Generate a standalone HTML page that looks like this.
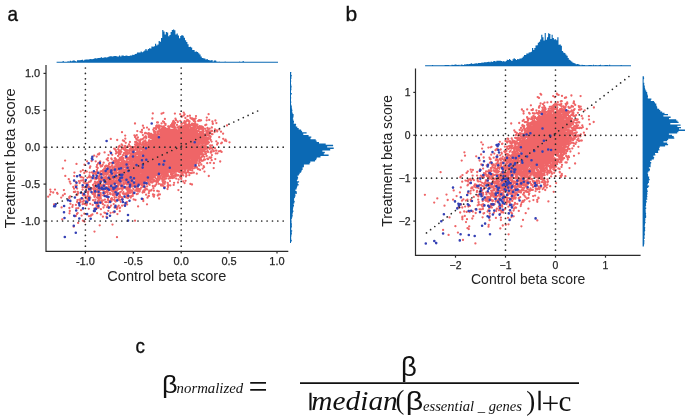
<!DOCTYPE html>
<html><head><meta charset="utf-8"><title>Figure</title>
<style>html,body{margin:0;padding:0;background:#fff;}body{width:685px;height:417px;overflow:hidden;}svg{display:block;}</style>
</head><body>
<svg width="685" height="417" viewBox="0 0 685 417">
<g fill="#0b69b4">
<path d="M56.6 62.8V61.8H57.8V61.8H59V61.8H60.2V61.7H61.4V61.8H62.6V61.1H63.8V61.8H65V61.8H66.2V61.8H67.4V61.2H68.6V61.5H69.8V60.8H71V61.2H72.2V60.7H73.4V60.2H74.6V60.9H75.8V61.5H77V60.3H78.2V60.2H79.4V60.3H80.6V60.1H81.8V59.7H83V60.4H84.2V59.8H85.4V59.4H86.6V59.6H87.8V59.4H89V59.2H90.2V58.9H91.4V59.2H92.6V58.9H93.8V58.4H95V58.2H96.2V58.6H97.4V58.1H98.6V58.1H99.8V57.8H101V57.3H102.2V58H103.4V57.6H104.6V57.3H105.8V57.6H107V57.3H108.2V56.7H109.4V56.2H110.6V56.3H111.8V56.4H113V56.2H114.2V56H115.4V55.9H116.6V56.5H117.8V56.4H119V55.5H120.2V56.4H121.4V55.5H122.6V55.6H123.8V56H125V55.8H126.2V55.6H127.4V55.9H128.6V56.1H129.8V55.6H131V55.4H132.2V54.7H133.4V55.1H134.6V54H135.8V53.7H137V52.6H138.2V52.6H139.4V52.6H140.6V51.4H141.8V52.2H143V51.4H144.2V50.4H145.4V49.1H146.6V50.4H147.8V49.1H149V48.2H150.2V48.5H151.4V46.4H152.6V46.8H153.8V46.2H155V43.8H156.2V45.5H157.4V44.5H158.6V40.9H159.8V41.8H161V38H162.2V30H163.4V31.4H164.6V34.5H165.8V32.1H167V32.5H168.2V36.2H169.4V35.1H170.6V31.9H171.8V30.1H173V29.6H174.2V30.2H175.4V34.4H176.6V33.4H177.8V35.6H179V38.3H180.2V35.9H181.4V35H182.6V35.7H183.8V37.8H185V40.2H186.2V42.1H187.4V44.2H188.6V46.9H189.8V46.8H191V47.5H192.2V50H193.4V50.1H194.6V51.7H195.8V51.6H197V52H198.2V53.3H199.4V54.6H200.6V56.4H201.8V58H203V58.2H204.2V58.4H205.4V59.5H206.6V59.1H207.8V60H209V60.2H210.2V60.6H211.4V60H212.6V61.6H213.8V60.6H215V60.6H216.2V61.4H217.4V61.8H218.6V61.4H219.8V61.8H221V61.8H222.2V61.8H223.4V61.8H224.6V61.6H225.8V61.8H227V61.8H228.2V61.8H229.4V61.8H230.6V61.8H231.8V61.8H233V61.8H234.2V61.8H235.4V61.8H236.6V61.8H237.8V61.8H239V61.4H240.2V61.8H241.4V61.8H242.6V61.1H243.8V61.8H245V61.8H246.2V61.8H247.4V61.8H248.6V61.7H249.8V61.7H251V61.8H252.2V61.8H253.4V61.8H254.6V61.8H255.8V61.8H257V61.8H258.2V61.7H259.4V61.7H260.6V61.8H261.8V61.8H263V61.8H264.2V61.8H265.4V61.8H266.6V61.8H267.8V61.8H269V61.8H270.2V61.8H271.4V61.8H272.6V61.8H273.8V61.8H275V61.8H276.2V61.8H277.4V61.8H278V62.8Z"/>
<path d="M290 72H291.3V73.4H291V74.8H291.8V76.2H291.4V77.6H291.4V79H291V80.4H291.2V81.8H291V83.2H291V84.6H291.3V86H291.6V87.4H291.3V88.8H291.4V90.2H291V91.6H291V93H291.8V94.4H291V95.8H291V97.2H291.2V98.6H291V100H291V101.4H291.3V102.8H291V104.2H291.2V105.6H291.8V107H291.8V108.4H292.1V109.8H292.4V111.2H292.1V112.6H292.7V114H293.6V115.4H293.6V116.8H293.3V118.2H292.9V119.6H293.5V121H294V122.4H293.7V123.8H296.1V125.2H295.8V126.6H297.3V128H298.7V129.4H301.1V130.8H302.1V132.2H306.6V133.6H303.3V135H308.6V136.4H311.3V137.8H310.5V139.2H315.7V140.6H316.6V142H319V143.4H325.7V144.8H333.1V146.2H327.2V147.6H333.7V149H330.2V150.4H322.4V151.8H324.8V153.2H323.8V154.6H328.6V156H320.5V157.4H316.8V158.8H316.2V160.2H315V161.6H310.3V163H309.6V164.4H303.9V165.8H303.9V167.2H302.6V168.6H302.6V170H301.7V171.4H301.1V172.8H299.7V174.2H298.9V175.6H297.6V177H298.1V178.4H297.7V179.8H296.9V181.2H299.1V182.6H297.8V184H298.6V185.4H297.4V186.8H296.9V188.2H296.5V189.6H295.4V191H296.6V192.4H297V193.8H295.3V195.2H295.5V196.6H294.9V198H294.2V199.4H294V200.8H294.7V202.2H294.3V203.6H293.6V205H294V206.4H293.3V207.8H293.1V209.2H292.9V210.6H293.4V212H292.9V213.4H292.4V214.8H292.7V216.2H292.4V217.6H291.9V219H291.4V220.4H291.6V221.8H291.5V223.2H291.9V224.6H291.8V226H291.9V227.4H291.3V228.8H291.3V230.2H292.2V231.6H291.7V233H291.9V234.4H291.4V235.8H291.3V237.2H291.1V238.6H291.3V240H291.8V241.4H291V242.8H291V243H290Z"/>
<path d="M425.1 66.2V65.2H426.2V65.2H427.4V65.2H428.5V65.2H429.7V65.2H430.8V65.2H432V65.1H433.1V65.2H434.3V65.2H435.4V65.2H436.6V65.2H437.7V65.2H438.9V65.2H440V65.2H441.2V65.2H442.3V65.2H443.5V65.2H444.6V65.1H445.8V65.1H446.9V65H448.1V65.1H449.2V65.2H450.4V65.2H451.5V64.8H452.7V65H453.8V64.8H455V64.5H456.1V64.8H457.3V65H458.4V64.8H459.6V65.2H460.7V64.4H461.9V64.7H463V65H464.2V64.2H465.3V64.4H466.5V63.9H467.6V64.2H468.8V64.1H469.9V63.7H471.1V63.3H472.2V64H473.4V63.7H474.5V63.5H475.7V63.2H476.8V63.4H478V63.1H479.1V62.9H480.3V62.9H481.4V62.6H482.6V62.7H483.7V62.3H484.9V62.3H486V62.3H487.2V62.1H488.3V61.8H489.5V62.2H490.6V61.6H491.8V61.9H492.9V61.2H494.1V61.1H495.2V61.4H496.4V60.8H497.5V60.8H498.7V60.8H499.8V60.7H501V60.9H502.1V61.5H503.3V60.9H504.4V61.7H505.6V61H506.7V59.7H507.9V60H509V58.9H510.2V59.9H511.3V61H512.5V59.3H513.6V58.2H514.8V59.1H515.9V60H517.1V59H518.2V59.2H519.4V58.5H520.5V58.6H521.7V57.7H522.8V56.5H524V55.1H525.1V55H526.3V53.5H527.4V53.4H528.6V52.6H529.7V52.3H530.9V51.8H532V48H533.2V49.9H534.3V48.1H535.5V45.4H536.6V45.2H537.8V42.8H538.9V41.8H540.1V39.4H541.2V34.8H542.4V37.2H543.5V40.5H544.7V33.1H545.8V39.8H547V37.2H548.1V33.3H549.3V33.9H550.4V38.9H551.6V34.7H552.7V38.1H553.9V39.6H555V39.3H556.2V40.3H557.3V37.2H558.5V44.7H559.6V44.4H560.8V45.8H561.9V51.1H563.1V52.5H564.2V53.1H565.4V54.6H566.5V55.8H567.7V58H568.8V59.7H570V60.4H571.1V61.4H572.3V62.5H573.4V63H574.6V63.5H575.7V64.2H576.9V64.1H578V64.2H579.2V64.7H580.3V65.2H581.5V64.7H582.6V65H583.8V65H584.9V65.2H586.1V65.2H587.2V65.2H588.4V65.1H589.5V65.1H590.7V64.9H591.8V65.2H593V64.8H594.1V65.2H595.3V65.1H596.4V65.2H597.6V65.2H598.7V65.1H599.9V64.8H601V65.2H602.2V65.2H603.3V65.2H604.5V64.9H605.6V65.1H606.8V65.1H607.9V65.2H609.1V64.8H610.2V65.2H611.4V65.2H612.5V65.2H613.7V65.2H614.8V65.2H616V65.2H617.1V65.2H618.3V65.2H619.4V65.2H620.6V65H621.7V65.2H622.9V65.2H624V65.2H625.2V65.2H626.3V65.2H627.5V65.2H628.6V65.2H629.8V65.2H630.9V65.2H631V66.2Z"/>
<path d="M642.6 76.3H643.9V77.6H644.1V78.9H643.7V80.2H643.6V81.5H643.6V82.8H644.3V84.1H644.2V85.4H644.8V86.7H644.8V88H645.1V89.3H645.5V90.6H646.3V91.9H647.2V93.2H647.2V94.5H647.7V95.8H648V97.1H647.8V98.4H651.4V99.7H650.8V101H654.1V102.3H655V103.6H656.3V104.9H656.4V106.2H657.1V107.5H657.3V108.8H659.2V110.1H660.3V111.4H662.2V112.7H664.5V114H668V115.3H663.4V116.6H670.6V117.9H669V119.2H676.2V120.5H677.5V121.8H678.6V123.1H670.3V124.4H680.6V125.7H677.4V127H681V128.3H679V129.6H688.4V130.9H678.4V132.2H677.2V133.5H668.9V134.8H672.1V136.1H673.7V137.4H674.3V138.7H668.2V140H667.2V141.3H663.5V142.6H667.2V143.9H668.1V145.2H665.1V146.5H659.8V147.8H659.1V149.1H659.4V150.4H658V151.7H658.2V153H655V154.3H655.4V155.6H653.4V156.9H654.2V158.2H653.8V159.5H651.7V160.8H650.2V162.1H651.2V163.4H650.6V164.7H650.6V166H650.6V167.3H648.9V168.6H650V169.9H649.7V171.2H648.4V172.5H647.6V173.8H648.1V175.1H648.1V176.4H649.2V177.7H649.1V179H649.7V180.3H648.8V181.6H648.9V182.9H648.1V184.2H647.5V185.5H649.1V186.8H648.2V188.1H647.1V189.4H647.4V190.7H647.8V192H647.2V193.3H647.5V194.6H647.1V195.9H647.4V197.2H646.8V198.5H647.3V199.8H646.2V201.1H646.7V202.4H646.1V203.7H646V205H646.1V206.3H645.5V207.6H646.2V208.9H645.6V210.2H645.7V211.5H645.7V212.8H646.1V214.1H645.9V215.4H646.2V216.7H646.1V218H645.3V219.3H645.4V220.6H645.2V221.9H645.6V223.2H645V224.5H644.9V225.8H644.7V227.1H645.2V228.4H645V229.7H645.2V231H644.8V232.3H644.6V233.6H644.9V234.9H644.6V236.2H644.4V237.5H644.8V238.8H644V240.1H644.4V241.4H644.3V242.7H644.3V244H644.1V245.3H643.9V246.4H642.6Z"/>
</g>
<g fill="none" stroke-linecap="round" stroke-width="2.3">
<path stroke="#ef6567" d="M169.7 166h0M149.7 166.4h0M182.9 142.9h0M175.9 120h0M171 149.9h0M181.2 148.3h0M199.3 139.3h0M198.6 163.4h0M188.9 153.6h0M184.2 142.9h0M162.2 150.5h0M190.6 147.6h0M153.8 161.1h0M170.7 150.1h0M172.3 158.3h0M151.4 158.3h0M170.4 140.5h0M201.5 147.4h0M171.4 152.2h0M160.9 160.9h0M176.2 154.2h0M184.3 136.4h0M175.1 140.1h0M173.4 143.6h0M154.6 153.4h0M173 122.5h0M183.7 149.6h0M192.5 137.1h0M196.4 140.8h0M184.8 144.3h0M148.1 146.6h0M155.2 155.9h0M161.1 157h0M180.6 149.6h0M164.1 152.1h0M204.1 167.1h0M179.1 148h0M184.2 155.6h0M180.6 131.2h0M183.3 154.6h0M156.4 158h0M214.8 147.9h0M195.1 138.7h0M192.7 130.2h0M155.1 128.2h0M150.7 161.5h0M159 168.3h0M160.9 154.7h0M187 141.8h0M186.2 139.3h0M196.9 143.2h0M204.6 134.9h0M180.8 140.9h0M183.1 153.4h0M180.4 175.4h0M169.8 148h0M160.6 158.3h0M187.7 158.6h0M178.7 144.1h0M176.9 168.4h0M156.7 134.8h0M179.8 141h0M196.1 147.4h0M175.7 145.9h0M170.9 126h0M173.3 165.2h0M178.8 166.9h0M177.9 167.4h0M171.1 149.3h0M161.3 137.5h0M183.7 153.3h0M194.8 144.5h0M155.3 136.6h0M192.7 135.3h0M168 146.3h0M170 149.8h0M149.2 170.1h0M139.1 155.7h0M189.1 152.9h0M162.1 159.4h0M188.2 148.1h0M179.6 156.9h0M181.2 152.9h0M198.6 152.5h0M174.1 148.3h0M125.8 156.5h0M158 175.2h0M191.9 150.5h0M206 144.3h0M178.5 160.1h0M160.6 139.9h0M165.1 178.7h0M185.5 151.8h0M147.9 152.4h0M157.1 153h0M179.3 152.8h0M179.2 153.8h0M171.3 148.7h0M191.2 145h0M160 160.2h0M153.3 141.5h0M166.6 143.4h0M174.1 142.6h0M171.6 152.6h0M203.5 138.2h0M173.3 167.5h0M184.6 145.8h0M163.1 141.4h0M180.6 148.4h0M158.9 125.5h0M169.7 150.1h0M193.6 128.5h0M175.7 162.6h0M207.3 158.7h0M163.4 148.4h0M164.8 141.1h0M195.2 153.2h0M142.6 166.7h0M152.1 157.8h0M175 146.8h0M181.6 144.8h0M182 141.9h0M174.3 158.9h0M159.9 167.9h0M188.1 146.5h0M185.7 156h0M161.2 159h0M178.1 151.7h0M199 133.9h0M180.2 155.6h0M161 160.9h0M175.1 165.1h0M175.8 164.5h0M178.9 143.4h0M188.3 143.7h0M165.3 161.6h0M164.4 147.9h0M193.4 151.7h0M185 142.4h0M197 147h0M160.7 171.7h0M162.4 155.4h0M187.9 138.7h0M165.4 162.7h0M182.8 153.7h0M178.9 159.5h0M164.2 151.3h0M196.9 142.2h0M174 145.8h0M175.9 170.4h0M171.9 146.4h0M184.6 161.3h0M151.5 153.6h0M163.6 154.7h0M156.1 153.1h0M151.2 174.4h0M190.6 146.4h0M196.8 143.2h0M194.3 147h0M146.3 148.7h0M180.2 144.3h0M186.9 149.3h0M162.9 141h0M193.2 159.5h0M160.9 158.3h0M167.4 172.7h0M166.3 160.2h0M168.4 160.7h0M167.6 170.5h0M190.3 146.4h0M157.3 147.4h0M169.2 152.2h0M167.2 154.3h0M202.9 127.2h0M161.3 150.3h0M182.9 148.2h0M205.3 148.7h0M159.9 158.5h0M165.6 158.2h0M183.2 181.4h0M157.6 158.4h0M196 149.9h0M174.1 164.8h0M191.7 146.3h0M189.8 162.8h0M161.6 113.7h0M189.9 145.8h0M171.7 151.8h0M191.4 145.6h0M159.7 162.8h0M157.4 134.1h0M194.6 147.5h0M147.7 164.6h0M176.8 132.9h0M174.6 163.2h0M172.4 163.1h0M157.9 133.4h0M190 133h0M150.9 149.5h0M191.6 155.2h0M186.6 157.2h0M168.8 149.4h0M176.7 155.2h0M185.8 145.9h0M174.1 169.2h0M151.3 149.7h0M177.1 141.5h0M163.1 151.9h0M169.2 149.8h0M178 152.8h0M193.1 162.9h0M201.2 139.5h0M185 158.7h0M175.3 143.7h0M189.5 150.5h0M183.1 156.1h0M156.4 169.3h0M168.4 155.4h0M154.2 145.6h0M182.5 138.2h0M186.7 125.4h0M186 160.5h0M160 151.8h0M190.4 153.6h0M162.1 154.1h0M175.9 139.5h0M159.5 157.2h0M151.8 145.8h0M157.9 161.5h0M174.1 144.6h0M171.3 165h0M184.6 153.8h0M158.6 159.1h0M182.3 145.9h0M169.4 158.3h0M191 137h0M195 156.2h0M168.6 140.5h0M177.1 148.3h0M176.3 141h0M185.7 155.5h0M171.4 149.7h0M192.3 146.3h0M164.5 142h0M153.4 171.1h0M180.9 152.4h0M176.4 155.3h0M191.6 155.3h0M179 133.7h0M192 184.5h0M185.7 169.8h0M177.8 149.4h0M164.8 148.6h0M157 151.7h0M163.1 151h0M176.8 155.6h0M147.5 170.2h0M171.1 155.2h0M161.3 153h0M171 141h0M163.1 150.6h0M173.7 141.8h0M170.3 145.1h0M194.4 143.7h0M169.5 147.7h0M168.3 140.6h0M172 139.2h0M151 160.9h0M159 150.8h0M191.8 131.5h0M188.6 160.6h0M177.8 151.1h0M188.1 136.7h0M174.8 154.2h0M177.5 163.6h0M171.3 150.5h0M152.8 163.6h0M185 134.8h0M177.8 161.9h0M169.7 138.2h0M170.8 150.5h0M156.1 126.1h0M145.8 165.8h0M179.7 153h0M203.2 130h0M185.6 134.1h0M177.2 164.6h0M161.8 151.9h0M179.1 156.6h0M179 142.5h0M178.4 160.7h0M192.9 158.4h0M166.8 165.5h0M190.4 142.8h0M180.4 154.7h0M165.7 146.6h0M176.9 163.6h0M185.6 159.9h0M190.1 154.5h0M173.6 141.2h0M187 154h0M207.9 132.6h0M150.3 151.9h0M151.8 170.5h0M179.5 155.1h0M161.8 153.7h0M173.2 138.6h0M162.6 181.2h0M182.7 161.2h0M195.8 146.4h0M191 142.8h0M160.4 155.3h0M172.8 154.6h0M187 141.9h0M201.7 140.6h0M158.7 145.4h0M171.1 172h0M193.7 149h0M167.7 143.9h0M154.3 137.4h0M190.3 143.2h0M151.7 157h0M169.5 161.3h0M189.6 144.9h0M161 138.1h0M183.3 137.4h0M163.9 169.3h0M185.2 141.7h0M181.6 144.9h0M198 139.6h0M169 142.6h0M168.5 145.6h0M180 163.8h0M191 145.2h0M164.5 151.2h0M175.5 154.4h0M205.3 144.4h0M186.8 145.6h0M185.8 145.3h0M171.9 160.8h0M190.5 151.5h0M168.8 178.7h0M156.3 161h0M167.4 166.3h0M193.8 137.3h0M174 138.2h0M171.4 176.1h0M170.2 149.9h0M184.9 153.9h0M191.5 141.1h0M155.4 164.5h0M195.7 145.3h0M190.1 147.6h0M165.5 151.9h0M177.2 168.9h0M185.1 152.8h0M170 146.5h0M183.8 163.7h0M166.7 169.4h0M150 158.7h0M179.5 151.7h0M174.9 138.4h0M186.6 155.8h0M194.8 143h0M195.3 160.6h0M157.7 145.8h0M165.7 129.1h0M180.9 159.3h0M192.1 159.3h0M171.9 163.9h0M184.7 156.3h0M174.1 136.3h0M199.2 152.1h0M136.4 156.6h0M181.2 159.7h0M183.7 155.5h0M183.8 142.3h0M177.6 154.4h0M166.3 159.1h0M184 143.1h0M180.7 146.9h0M163.8 153.4h0M155.3 153.3h0M184.7 149.1h0M167.5 163.6h0M188.7 155.4h0M192.1 129.1h0M176.4 142.7h0M178.6 147.2h0M173.9 139.9h0M198.5 150.2h0M190.3 129.2h0M169.8 131.2h0M186.8 146.9h0M181.7 162.3h0M168.5 151.3h0M184.6 140.4h0M167.4 132.4h0M169.4 167.7h0M153.2 153.5h0M192.6 151.4h0M167.5 167.5h0M162.2 160.2h0M168.7 142.4h0M186.7 147h0M150.4 155.8h0M188.4 155.1h0M188.9 166.1h0M165.9 173.6h0M161 158.5h0M172.2 147.6h0M205.5 145.7h0M166.9 137.4h0M185.3 129.6h0M183.7 131.2h0M150.2 149.8h0M174.5 146.3h0M188.5 141.5h0M168.6 151.5h0M190.9 138h0M158.4 149.7h0M156.7 160.9h0M172.6 159.2h0M189.7 157.5h0M169.5 149.3h0M186.2 138.2h0M156.9 164.3h0M161.9 138.2h0M196.3 145.4h0M142.6 165.5h0M176.5 138.7h0M168.2 166.1h0M160.3 140.8h0M172.1 153.3h0M149.5 143h0M190.6 148.9h0M185.4 149.8h0M189.9 135.3h0M179.2 151.2h0M164 157.9h0M183.6 142.7h0M155.5 152.6h0M166 161.7h0M205.3 138.2h0M190.6 142.9h0M185.1 154.6h0M189.3 123.2h0M170.1 146.8h0M188.4 156.9h0M166.8 159.4h0M172 153.1h0M176.2 146.5h0M199.7 148.4h0M164.7 149.7h0M188.5 138.1h0M171.8 139.6h0M151.7 160h0M147.1 155.4h0M163.6 146.9h0M191.2 144.2h0M178.8 146.1h0M201.6 140h0M189.3 175.2h0M196.9 144.3h0M182 154.3h0M163.6 155.5h0M182.4 136.7h0M161.7 144h0M155.2 154.6h0M167.2 158h0M167.1 143.1h0M183.5 158.1h0M190.1 150.2h0M179.4 133.5h0M204.3 135.5h0M151.2 166.7h0M173 149.2h0M209.7 128.7h0M178.3 167.7h0M154.6 146.9h0M171.4 168.4h0M156.2 139.2h0M172.2 159.6h0M196.1 129.5h0M154.1 151.1h0M167.1 155.1h0M200.4 152.7h0M179.9 146.9h0M180.6 147.3h0M174.5 160.6h0M187.5 139.6h0M163 157.9h0M196.7 161.9h0M177.1 146.8h0M170.6 143.3h0M172.7 162.4h0M186.8 137.5h0M184.1 155.5h0M173.6 158.9h0M176.8 146.2h0M156.7 143.3h0M194.1 142.4h0M189 125.5h0M194.7 149.7h0M175.4 135.7h0M186.3 153.9h0M158.3 159.6h0M175.9 163.4h0M170.4 144.7h0M178.3 159.8h0M186.8 150.1h0M168.2 147h0M164.2 149.2h0M195.2 147.9h0M175.2 159.2h0M169.5 158.4h0M149.5 164.1h0M152.2 144.8h0M181.3 171.2h0M184 157.7h0M158.7 177.6h0M177.3 153h0M180.3 146.5h0M176.4 170.4h0M172 137h0M199.9 151.8h0M164.8 151.5h0M149.8 152.3h0M169.7 148.7h0M161.3 148.3h0M178.4 157.2h0M180 131.3h0M187.4 141.8h0M175.2 134.5h0M194.4 138.6h0M179.4 143.2h0M194.3 153.4h0M177.5 139h0M181 150.7h0M166.6 146.5h0M174.9 146.6h0M165 145.1h0M170.1 146.7h0M183.6 165.4h0M194.5 149h0M178 164.7h0M185.8 148.9h0M166.4 175.3h0M168.3 142h0M190.5 134.3h0M178.6 142.1h0M151.8 162.2h0M174.2 146.4h0M173.6 153.3h0M156.7 149.2h0M147.3 148.9h0M163.4 156.6h0M163.3 160.9h0M182.6 137.3h0M179.3 134.5h0M193.9 168.3h0M186.6 132.4h0M144.9 159.8h0M168.5 141.9h0M183.8 155.1h0M164.4 147.5h0M167.5 153.6h0M162.1 147.2h0M184.4 163.5h0M168.6 133.4h0M197 152.3h0M185 156h0M180.6 152.3h0M175.7 149.5h0M164 151.3h0M180 154.4h0M188 146.1h0M183.3 148.6h0M156.2 143h0M154.8 157.5h0M178.8 128.4h0M177 144.3h0M177 140.3h0M169.7 168h0M189.8 153.6h0M188.6 151.4h0M182.2 174.7h0M183 143.4h0M164.4 157.1h0M174.8 149.6h0M147.7 159.2h0M176.6 162.1h0M216.4 150.7h0M184.2 141.1h0M205.6 153.2h0M182.9 142.5h0M188.3 169.3h0M182.7 156h0M166 139.4h0M190.1 153.7h0M162.7 144.5h0M171.1 133.9h0M223.1 133.7h0M185.7 151.5h0M168.7 148.7h0M193.9 149.3h0M183 147.6h0M171 145.8h0M167.3 170.8h0M174.9 151.5h0M176.4 166.2h0M181.3 158.8h0M178.5 138.5h0M186.8 162.8h0M165 158h0M190.5 162.8h0M182.1 146.5h0M154.5 153.6h0M180.2 145.3h0M179.4 159.8h0M175.5 131.6h0M167 169.8h0M168.3 142.5h0M173.2 151.3h0M154.3 144.7h0M184.2 148.6h0M177.3 164.1h0M180.3 144.1h0M164 159.6h0M153.7 150h0M153.3 139.4h0M147.9 167.2h0M166.3 156.3h0M175.4 131.6h0M194.2 135.6h0M199.8 160.3h0M190.6 131.7h0M197.6 149.2h0M210.8 147.5h0M178 145.1h0M187.8 138.9h0M189.5 155h0M134.5 149.8h0M179.7 150.4h0M169.7 129.6h0M182.2 147.4h0M169.5 152.5h0M168.8 159.9h0M173.5 162.5h0M188.6 149.3h0M178.8 135.9h0M198.4 143h0M165.2 172.7h0M191.8 141.2h0M201.6 133.7h0M166.7 162.1h0M181.3 158.2h0M150.4 150.2h0M136.2 164.2h0M153.2 148.6h0M173.5 141.7h0M173.2 134h0M166.6 142.6h0M182.7 140.1h0M177.9 140.2h0M201.8 136h0M160.6 170.3h0M172.6 178h0M164.4 145.9h0M162.6 143.9h0M166.3 145.8h0M214.9 148.3h0M163.1 133.4h0M180.5 134.5h0M161.9 174.2h0M167.4 158h0M192.5 155.9h0M185.5 132.4h0M157.7 171.9h0M205.1 135.3h0M183.3 150.5h0M167.8 161.8h0M186.1 155.6h0M170.2 162.5h0M149.4 144.7h0M179.9 151.8h0M183.2 133.2h0M188.5 136.3h0M153.9 165h0M161.9 155.1h0M169.5 142.1h0M194.9 152.8h0M194 140h0M162.6 133.8h0M162.5 167.5h0M185.8 150.7h0M172.6 161.7h0M184.3 152.7h0M187.4 134.2h0M183.3 142.5h0M157.1 145.6h0M153.1 145.2h0M156.8 165.5h0M187.6 147.6h0M191.8 141.6h0M157.8 148.8h0M165.7 147.5h0M159 148h0M174.9 154h0M165.9 161.9h0M163 154.8h0M191.3 136.2h0M193 154.6h0M177.3 153.4h0M189.1 135.9h0M168.1 157h0M183.6 150.9h0M157.1 144.3h0M163.4 152.2h0M187.3 139.1h0M162.8 170.1h0M168.6 151.4h0M157 154.7h0M156.9 158h0M176.4 153.5h0M176 150.6h0M154.9 164.8h0M207.7 141.4h0M201.4 152.7h0M162.6 159.1h0M180.5 148.1h0M179.3 156.1h0M169.8 165.6h0M153.2 152.3h0M172.3 144.9h0M170.1 147.5h0M193 146.3h0M169.7 132.4h0M157.1 150.1h0M159.4 142.4h0M176 155.6h0M195.4 161.9h0M158.1 159.3h0M173 136.3h0M195.9 148.9h0M149.8 150.1h0M190.3 130.1h0M159.6 136.5h0M181.4 169.5h0M168.9 158.6h0M181.4 151.6h0M181.5 146.5h0M180 141.4h0M214.6 132h0M139.5 166.9h0M173.3 167.8h0M152.1 149.3h0M174.3 157.8h0M161.8 147.7h0M165.2 137.3h0M174.4 150.2h0M163.8 147.4h0M181.4 127.6h0M159.3 173h0M173.9 169.7h0M173.7 145.8h0M193 137.5h0M153.3 152.4h0M163.2 172.4h0M183 147.7h0M174.8 145.9h0M155 159.9h0M189.6 137.7h0M177.7 145.4h0M165.9 140.8h0M174.1 161h0M184.2 168.1h0M170.9 154.3h0M177.2 141.2h0M177.1 140.7h0M160.7 159.3h0M156.8 168.7h0M201.6 149.1h0M163 141.4h0M200.1 139.8h0M176.4 146.3h0M134.8 159.7h0M178.7 146.6h0M158.9 145h0M146.5 170.9h0M174.8 149h0M158.8 155.1h0M167.6 139.7h0M188.2 134.9h0M191.3 157.4h0M165.5 123.9h0M173.5 142.4h0M172.1 139.1h0M169 162.4h0M166.3 170.1h0M165.9 146.3h0M181.1 159.7h0M156.7 138.3h0M172.4 154.6h0M172.8 145h0M163.5 161.1h0M185 133.1h0M198.9 157.9h0M181.8 160.6h0M167.8 172.4h0M151.1 172.2h0M140.4 169h0M186.5 132.2h0M178.2 151h0M166.8 155.7h0M150.2 151.4h0M169.7 145.8h0M185.6 139.5h0M178.1 146.5h0M154.1 142.5h0M219.2 137.2h0M183 149.7h0M149.6 140.6h0M182.1 153.4h0M181 149.8h0M187.2 151.7h0M180.2 149.1h0M155.8 154.5h0M182.4 153.8h0M166.7 163.5h0M169.4 131.6h0M172.5 146.6h0M181.4 139.2h0M180.1 153.8h0M166.2 142.3h0M206.7 120.3h0M177.1 169.3h0M176.3 168.5h0M191.8 173.1h0M180.7 144.4h0M185.1 134.7h0M154.4 158.6h0M162.8 143h0M193.8 151.3h0M178.4 147.5h0M179.6 149.6h0M145.8 136.4h0M159.7 171.5h0M161.6 151.3h0M183.2 161.5h0M186.5 146.8h0M182.5 132.3h0M149.6 165.3h0M172.9 148.3h0M175.9 149.7h0M165.5 144.3h0M172 159.4h0M155.7 146.8h0M171.4 156.9h0M136.8 153.5h0M194.6 147.2h0M182.7 162h0M195.2 140.8h0M161 150h0M151.6 164.2h0M208 159.2h0M147.2 171.6h0M155.9 154.4h0M185.7 146.6h0M193.8 139.7h0M167.9 161.8h0M170.9 149.8h0M176.4 165.4h0M182 146.4h0M157.9 145.2h0M190.3 164h0M191.4 154.9h0M172.7 149.3h0M174.8 146.4h0M212.6 149.3h0M177.8 144.6h0M173.9 164.6h0M192.9 150.3h0M197.9 157.4h0M159.9 141.7h0M166.8 169.7h0M193 135.3h0M191.4 140.8h0M191.5 136.8h0M197.9 138.8h0M156.2 149.9h0M151.2 157.4h0M184.2 131h0M190.8 149.8h0M175.6 144h0M188.3 152.4h0M163.2 150.9h0M157.2 146.5h0M171.2 144.2h0M181.6 148.4h0M179.9 136.3h0M170.8 143.4h0M187.9 156.5h0M196.4 152.7h0M181.7 146.3h0M173.6 165.5h0M197.5 136.2h0M159.5 158h0M177.8 147.8h0M205.4 147.2h0M210.4 137.2h0M201.1 148.3h0M163.7 138.3h0M150.7 160.3h0M176.1 170.8h0M172.6 144.8h0M181.2 158.9h0M159.2 150.4h0M170.2 157.5h0M179.1 149.5h0M174 143h0M199.2 155.7h0M181.2 140.1h0M191.4 164.5h0M164.4 143.4h0M174.4 143.1h0M146 154.4h0M167 144.5h0M152.9 157.2h0M181.9 158.9h0M185.7 152h0M178.9 152.3h0M197.5 142h0M167.8 157.2h0M166.2 129.9h0M170.1 158h0M165.3 136.8h0M191.6 135.6h0M158.1 161.5h0M195.7 132.4h0M197.5 148.5h0M185.2 149.1h0M170.9 151.6h0M178 145.2h0M181.2 179h0M195 137.8h0M164.7 167.6h0M166.1 164.8h0M181.6 162.4h0M145.5 175.4h0M193 133.2h0M173 155.7h0M187.6 148.2h0M185.1 165.5h0M142.8 139h0M175.9 148.1h0M178.3 138.7h0M156.7 150.1h0M160.8 153.2h0M165.6 167h0M187 146.1h0M160.8 163h0M160.7 149h0M176.3 154.3h0M174.9 142.7h0M170.9 162h0M201.7 150.9h0M198.5 141.2h0M159.9 161.6h0M210.2 162.8h0M176.5 133h0M182.1 138.9h0M186.8 145.7h0M149.4 140.3h0M156.7 153.7h0M184.6 152.4h0M163.6 148.8h0M221.6 151.9h0M166.7 145.6h0M184.7 133.9h0M163.2 157.9h0M207.3 141h0M201.3 137.3h0M157.4 164.8h0M182.2 151.3h0M174 141.7h0M202.8 154.1h0M141.7 162.7h0M172.1 154h0M186.3 140.8h0M173.2 158.8h0M163.3 146.9h0M161.2 175.4h0M178.4 144.5h0M184.6 183.1h0M152.7 155h0M178.1 153.4h0M165.4 156.6h0M180 152.6h0M182.6 140.7h0M183.2 127.3h0M176.7 141.2h0M160.1 155.5h0M169.8 147h0M167.7 148.4h0M187.8 141.6h0M163.4 151.2h0M197.1 144.2h0M168.6 136.6h0M181.3 139.6h0M161.7 136.5h0M188.4 134.4h0M168 157.9h0M197.3 139.7h0M176 136.2h0M181.9 136h0M179.1 137.8h0M158.5 142.6h0M196.6 147.2h0M156.6 167.7h0M172.9 141.4h0M189.3 154.2h0M189.7 145.3h0M165.4 152.6h0M172.4 164.2h0M176.2 163.1h0M151.8 134.7h0M176.9 165.9h0M161.8 154.9h0M177.3 137.4h0M176.3 162.6h0M162.3 153h0M164.1 154.7h0M176.1 148.5h0M162.8 154.7h0M152.9 153.1h0M159.7 158.4h0M178.9 152.1h0M154.4 173.7h0M178.7 157.5h0M190.1 156h0M167.4 158.5h0M172 157.3h0M154 160.5h0M163.7 164.3h0M159.7 138h0M179 149.1h0M175 168.4h0M165.1 173.9h0M170.2 163h0M157.8 159.5h0M201.6 148.7h0M162.6 147.7h0M189.4 126.4h0M153.5 163.7h0M159.1 152.6h0M193.6 140.5h0M169 148.8h0M205.6 141.3h0M190.3 156.8h0M196 147.5h0M157.6 171.7h0M176.6 148h0M167.6 147.2h0M198.1 143.6h0M173.8 166.8h0M182.1 168.5h0M164.2 157.8h0M150.2 157.5h0M185.6 154.3h0M166.5 146h0M183.1 158.9h0M162.2 161h0M173.9 153.1h0M159.7 150.2h0M173.2 170.2h0M176.5 151h0M165.5 152.1h0M189.2 166.7h0M159.1 161.3h0M173.9 168.1h0M193 145.5h0M155 134.2h0M148.2 159.9h0M187.9 135.4h0M170.7 149.2h0M157.4 152.5h0M156.4 155.4h0M188.4 164.9h0M160.2 164.1h0M153.2 169.8h0M181.4 145.1h0M174.3 143.7h0M181.7 147.1h0M164.8 151.7h0M179.2 149.2h0M158.8 154h0M162.3 137.8h0M175.4 148h0M171.5 135.5h0M190.3 146.5h0M188.2 153.5h0M165 164.3h0M166.7 153.8h0M182.2 139.6h0M192.9 142.6h0M179.4 139.7h0M180 177.1h0M175.9 140.6h0M190.4 139.1h0M196.4 145.6h0M166.5 149.2h0M162.8 156.1h0M176.9 149.8h0M168.9 156.6h0M179.2 157.5h0M164.3 156.1h0M177.4 140.1h0M180 138.9h0M195 137.5h0M193.8 142.8h0M174.9 137.6h0M162.6 151.9h0M182 130h0M164.6 147.3h0M157.6 161.2h0M176.4 163.1h0M150.8 142.1h0M200.2 136.3h0M184.5 129.4h0M192.5 139h0M176 170.5h0M170.5 144.9h0M176.3 146.3h0M170.4 156.5h0M172.4 144h0M178.9 144.2h0M167.5 161.5h0M170.5 142.6h0M196.8 154.8h0M180.6 158.9h0M145.9 150.1h0M164.3 162h0M172.9 173.7h0M172.9 164.4h0M179.3 154h0M154.6 136.5h0M199.8 150h0M169.1 144.8h0M178.6 140h0M156 138.9h0M148.3 167.5h0M177 136.9h0M191.5 159.6h0M186.6 139.8h0M167.6 136.5h0M180.9 157.6h0M164.2 157h0M154.5 163.5h0M171.3 138.4h0M185.3 155.8h0M187.4 162.2h0M179.2 126.5h0M189.3 146.6h0M183 138.1h0M191.9 161.4h0M185.4 165.6h0M167.7 154.4h0M146.8 159.2h0M185.3 166.9h0M194.9 143.5h0M183.3 150.3h0M199.7 131.7h0M187.2 150.1h0M145.8 154.5h0M196.2 155h0M164.8 155.2h0M175.7 148.8h0M173.7 156.2h0M181.7 160.9h0M195.2 127.1h0M190.3 131.9h0M159.2 156.9h0M191.6 164.8h0M165.2 144.5h0M193.8 135.6h0M202 142.8h0M173.3 149.8h0M190.6 136.6h0M193.8 140.1h0M192.9 149.5h0M188.9 124.5h0M178.3 147.2h0M188.4 152.4h0M176.4 138.3h0M179.5 141h0M182.6 152.2h0M149.4 154h0M176.9 145.5h0M193.5 137.4h0M165.7 163.6h0M168.7 140h0M139.8 168.4h0M183.7 145.7h0M180.6 149.1h0M192.4 147.2h0M195.3 129.3h0M172.6 167.6h0M170 155.8h0M181.2 134.4h0M171.8 152.5h0M190.4 153.6h0M151.1 148.9h0M173.4 149.1h0M160.9 150.6h0M157.7 161.6h0M186.8 167.3h0M162.7 157.8h0M164.9 143.1h0M170.5 154.4h0M136.2 163.9h0M196.8 173.7h0M178.7 143.4h0M177.5 145.9h0M172.7 155h0M199.2 152.1h0M186.2 162.4h0M161.4 156.2h0M187.6 162.8h0M190.8 140.2h0M171.3 142.3h0M176.3 152.6h0M183.8 150.4h0M195.6 167.5h0M184.7 152.7h0M170.7 149.7h0M179.1 130.4h0M174.9 155h0M178.7 166.5h0M189.9 134.9h0M171.9 152h0M167.3 160.7h0M192.4 168.4h0M161.4 150.4h0M194.3 149.2h0M177.9 150.6h0M191.6 147.3h0M172.5 140.5h0M156.5 141.9h0M133.3 157.4h0M155.6 136.4h0M188.1 134.6h0M173.1 162.3h0M191.4 153.2h0M191.4 145.1h0M155.5 166.4h0M164.2 138.5h0M174.9 153.5h0M197.8 147h0M187.6 116.2h0M162.4 146.4h0M183.4 142.6h0M176.9 139.7h0M151.3 133.9h0M194.3 151.9h0M199 139.5h0M158.9 150.6h0M192.7 166h0M164.6 150.4h0M185.8 132.6h0M187 134h0M174.4 160.9h0M173.1 151.1h0M192.9 128.2h0M173.6 153.1h0M186.6 134.5h0M153 164.3h0M158 166.1h0M188.5 139.7h0M180.4 152.9h0M174.2 159.6h0M152.9 139.4h0M181.6 157.8h0M155.9 156.9h0M176.5 161.2h0M185.5 150.3h0M177 167.5h0M159.4 176.1h0M146.6 148.7h0M163.6 142.1h0M141 158.3h0M188.7 154.7h0M163.6 152.9h0M165.2 153.7h0M160.5 131.5h0M168.9 168.7h0M201.3 164.5h0M165.7 156.6h0M164.5 175.9h0M195.3 160.3h0M163.2 151.9h0M197.3 147.9h0M184.1 146.1h0M169.4 156.1h0M177.9 155.6h0M155.4 145h0M156.8 152.6h0M189.9 144.1h0M175.9 168.5h0M168.3 142h0M160.6 135.4h0M182.9 165.9h0M172.2 155.9h0M172.1 141.4h0M180.5 162.1h0M191.7 138.2h0M173.2 164.7h0M169 138.9h0M175 144.2h0M162.7 156h0M183.2 149.6h0M172.6 147.5h0M162.3 140.5h0M161.2 145.9h0M169.2 138.2h0M179.8 152.3h0M179.2 142.6h0M181.6 136.6h0M177.1 166.6h0M188.9 129.8h0M172 136.4h0M189.4 140.3h0M171.2 151.5h0M192.1 145.5h0M178.4 153.6h0M169.2 161.9h0M168 146.4h0M179.3 149h0M158.7 172.3h0M174.3 136.7h0M150.6 165.3h0M178.8 149.4h0M165 155.6h0M152.9 141.6h0M167.9 152.7h0M196.6 150.2h0M198.2 137.5h0M168.9 146.5h0M197.4 145.7h0M179.5 146.1h0M194.4 126.3h0M170.8 132.5h0M187.4 148.4h0M157.9 144.6h0M188.2 144.1h0M189.7 135h0M192.1 123.6h0M174.2 155.6h0M182 144.2h0M151.2 159.9h0M169.2 165.7h0M160.2 157h0M187.5 142.9h0M179.9 133.2h0M182.1 145.5h0M174.9 136.4h0M211.1 151.4h0M183.5 129.4h0M169.1 149.5h0M200.2 136.1h0M198.1 131.1h0M184.6 131.3h0M147.5 164.5h0M164.6 153.5h0M189.3 159.4h0M172.5 149.7h0M157.8 165.3h0M179.3 148.2h0M168.2 155.5h0M186.7 160.6h0M187.1 161.4h0M198.8 141.9h0M162.7 147.8h0M196.1 151.3h0M159.9 143.2h0M194.7 148.9h0M190.9 161.6h0M180.9 140h0M180.8 151.1h0M166.6 149.4h0M177.6 133.3h0M189.4 156.7h0M202 160.9h0M182.1 145.6h0M182.2 142.4h0M164.8 162.3h0M151.2 155.1h0M187.2 168.1h0M207.5 131.1h0M178.3 159.2h0M162.9 152.4h0M136.6 156.8h0M184.6 146.4h0M163.6 158.2h0M174.8 171.7h0M181.5 152h0M185.4 146.3h0M208 152h0M196.9 150.8h0M189.6 154.4h0M175.1 148h0M155.3 146.7h0M176.3 160.7h0M192.5 151.9h0M146.5 167.4h0M176.2 153.7h0M194 132.4h0M186.2 138.1h0M173.1 153.6h0M169.3 147.2h0M192.9 166.1h0M174.2 155.2h0M190.1 162.4h0M204.5 150.9h0M170.4 146.7h0M162.7 140.6h0M194.1 151.5h0M181.8 150h0M160.7 144.4h0M149.9 166h0M203.3 146.1h0M205.7 146h0M169.9 139.6h0M184.9 150.3h0M178.4 145.3h0M185.8 153.4h0M201.2 141.7h0M184.7 149.4h0M171.6 140.6h0M182.9 150h0M181.9 154h0M177.7 121.3h0M176.7 157.8h0M168.4 153.2h0M204.8 140.9h0M187.5 144h0M187.2 138.7h0M206.4 131.7h0M179.5 153h0M180 163.4h0M176.7 132.1h0M163 154h0M165.8 158.7h0M165.2 161.3h0M186.8 148.2h0M151.6 149.7h0M176 144.3h0M176.9 154.2h0M196.4 136.7h0M168.5 143.7h0M185.5 132.5h0M183.9 132.8h0M186.2 141.9h0M199 144.1h0M146.4 145.4h0M190.8 165.7h0M170.5 147.4h0M170.3 147.1h0M189.4 126.2h0M166 144.7h0M161 136.5h0M198.2 152h0M149.6 161h0M198.8 148.6h0M166.5 166h0M204.3 140.8h0M168.9 159.7h0M188.3 153h0M188.6 164.3h0M181.1 154.1h0M187.6 152.7h0M180.9 158h0M193.8 144.2h0M187.6 148.2h0M156.2 168.1h0M140.9 167.1h0M209.5 135.3h0M139.2 148.4h0M171.7 132.6h0M166.5 147.7h0M166.5 149.3h0M164.8 155.6h0M207.6 139h0M194 151.8h0M165.8 166.5h0M188.1 148.7h0M179.3 146.8h0M203.4 133.5h0M171.9 133.2h0M153 160h0M202 140.9h0M201.5 135.8h0M213.9 163.2h0M188.7 147.2h0M143.9 146.6h0M160.3 155h0M170 148.1h0M178.5 150.1h0M172.6 160.5h0M193.8 172.7h0M159.7 158.9h0M170.9 164.4h0M160.1 147.5h0M177.2 165.6h0M147.2 149.3h0M207.1 148.8h0M159 155.9h0M167.1 160.7h0M175.4 135h0M160.3 150h0M188.6 146.6h0M188.2 146.8h0M191.4 150.5h0M157.4 140.4h0M164 160.7h0M171.8 160.6h0M160.2 136.6h0M169.5 140.2h0M175.6 144.1h0M165 129.6h0M164.8 147.5h0M196.8 158.8h0M195.7 152h0M190.4 154.6h0M180.1 139.5h0M184.9 156.7h0M195.1 132.8h0M163.7 145.7h0M158.8 161.7h0M164.3 131.4h0M174.5 150.8h0M169.4 149.7h0M168.4 145h0M169.6 146.9h0M177 142.7h0M161.3 145.1h0M164.2 165.2h0M170.9 143.3h0M177.4 134.8h0M171.5 148.3h0M157.7 158.9h0M173.8 147.6h0M164.3 145.7h0M184.7 153.3h0M169.4 154.1h0M171.9 142.2h0M189.8 146.8h0M180 154.7h0M163 121.3h0M171.1 148.7h0M163 150.8h0M184.4 147.8h0M154.8 154.6h0M163.7 145.6h0M161.5 155.3h0M181.5 143.8h0M205.2 128.8h0M156 151.5h0M183.2 139.3h0M175.1 148.9h0M206.6 140.9h0M137.9 156.8h0M165 158h0M183.4 142.7h0M173.8 141.5h0M183.1 147.3h0M157.8 176.5h0M175.3 158.1h0M168.3 155.1h0M212 148.6h0M177 133.7h0M188.5 160.8h0M174.4 153.7h0M196.5 136.3h0M177.8 145.9h0M181.8 145.5h0M165.6 160.3h0M185.4 129.7h0M195.4 156.5h0M161.4 156h0M167 158.6h0M183 150.4h0M173.6 150.4h0M168.5 168.2h0M181.3 155.4h0M181.3 133.4h0M174.5 145.8h0M174.8 164.8h0M181.7 147h0M176.5 159h0M167.4 140.4h0M183.1 149.1h0M198.1 146.1h0M200.6 154.4h0M176.8 141.5h0M169 142.2h0M170.2 131.6h0M181.4 149.1h0M187.8 148.8h0M173.8 150.1h0M176.4 149.8h0M186.1 159h0M168.8 170.9h0M175.5 148h0M180.7 147.9h0M191.7 155h0M186 161.6h0M166.4 148.6h0M155.8 149h0M157.4 136.7h0M157.1 160h0M161.5 161.8h0M164.6 154.3h0M160.8 137.2h0M185.6 153.8h0M169.5 146.4h0M169.8 144.3h0M184 166.1h0M163 153.5h0M154.5 152.1h0M167.7 159.3h0M156.8 148.3h0M193.1 133.6h0M190.8 127.8h0M176 154.9h0M186.9 163.6h0M188.3 120.5h0M197.3 144.5h0M193.9 151.7h0M180.7 130.8h0M181.9 116.7h0M153.3 137.8h0M150.7 170.8h0M158.9 140.8h0M188 161.4h0M174.1 182.8h0M169.2 151.5h0M180 160.7h0M173.2 146.4h0M153.9 140h0M172.6 151h0M194.4 159.3h0M186 150.5h0M175.2 148.8h0M175.1 156.1h0M197.5 144.8h0M196.4 133.7h0M162.8 158.1h0M173.4 169.2h0M166.6 147.8h0M186 151.1h0M177.1 154h0M167.6 143.2h0M197.4 137.6h0M180.9 143.9h0M166.5 161h0M173.2 143h0M169.9 140.4h0M200.3 150.4h0M145.4 151.7h0M171.7 142h0M181.4 156.4h0M197.8 155.4h0M182.5 166.5h0M189.9 154.1h0M183.5 137.1h0M145.2 143.9h0M169.3 157.7h0M162.8 144.2h0M179.5 156.7h0M159.5 163.5h0M182.7 153h0M174.4 161.8h0M172.7 136h0M137.6 149.1h0M178.1 145.3h0M172 132h0M162.5 176.9h0M172.5 154.6h0M181.5 145.9h0M199.3 128.4h0M164.7 152.1h0M177.9 156.9h0M162.2 154h0M179.6 142h0M152.3 152.4h0M168 160.4h0M173.3 144.1h0M173 148.1h0M173.6 164.9h0M166.2 147.2h0M161.6 147.5h0M189.6 153.1h0M171.6 145h0M151.5 149.8h0M180.1 147.2h0M180.7 146h0M192.2 142.6h0M199.8 142.7h0M175.6 152h0M194 141.8h0M188.8 172.6h0M180.4 138.6h0M165.6 144.6h0M176.2 153.2h0M167.1 143.9h0M143.9 153.5h0M167.4 142.7h0M159 171.7h0M185.7 164.6h0M146.6 177.2h0M173.8 140.7h0M153.6 166h0M156.1 139.4h0M176.6 164.8h0M184.2 157.9h0M164.9 167h0M172.1 147.5h0M194.2 157.1h0M174.2 152.6h0M181.7 146.1h0M177.8 159h0M188.2 135.9h0M189 152.3h0M192.9 144.5h0M177.1 158.5h0M168 141.3h0M130.5 157.2h0M157.4 152.5h0M157 148.7h0M193.3 159.3h0M171.9 161.2h0M159.3 154.1h0M179.2 172h0M165.7 157.4h0M165.1 171.5h0M158.2 160.2h0M189.4 148.5h0M197.7 147.4h0M166 134h0M181.2 154.6h0M184.8 140.7h0M167.1 149.1h0M179.5 149.9h0M160.8 167.8h0M148 165.3h0M153.9 131.6h0M188.3 140.8h0M170.1 144.6h0M155.6 155.7h0M180.5 148.9h0M188.5 136.7h0M157 144.1h0M184.5 150.8h0M201.2 128.9h0M172.8 160h0M174.7 144.8h0M169.5 166.3h0M156 161.7h0M159.1 166.2h0M190.1 149.6h0M179.4 141.7h0M173.9 155.7h0M203.6 140.7h0M167.1 144.1h0M164.9 118.9h0M186.9 147.3h0M161.4 141.2h0M166.4 168.2h0M169.4 156h0M161.3 158.9h0M175.9 145.9h0M183 159.9h0M174 170.8h0M145.3 161.2h0M165.3 148.7h0M154 151.6h0M174.7 167.9h0M175 138h0M187.6 120.6h0M191.3 135.9h0M158.6 163.1h0M181.9 160.8h0M173.6 169.1h0M179.1 151.5h0M200.7 141.1h0M186.7 150.1h0M178 138.8h0M168.7 149.9h0M165.5 151.5h0M172.5 153.1h0M179.2 132.8h0M198.6 142h0M175.1 122.9h0M177 158.2h0M172.7 143.2h0M183.2 135.9h0M199.9 138.7h0M202.1 131.4h0M164.1 156.8h0M152.2 147h0M187.9 140.3h0M188.4 144.6h0M191.2 143h0M199.1 136.4h0M172.2 146.5h0M188.8 146.4h0M165 164.3h0M191.6 136h0M174.7 150.1h0M168.1 135.2h0M160.9 156.9h0M196.1 142.2h0M192.5 151.5h0M191.8 161.9h0M148.7 136.2h0M166.7 157.1h0M192.6 147.2h0M178.3 161.1h0M175.6 141.4h0M172.4 127.2h0M174.5 163.5h0M185.1 128.7h0M153.2 174.7h0M202.2 149h0M204.3 156.8h0M180.2 141.7h0M188.5 150.1h0M177.6 159.1h0M198.3 131h0M168.3 155h0M164.4 160.1h0M180 142.9h0M170.6 157.8h0M170.1 148.6h0M198.9 140.6h0M146.4 158.9h0M184.7 143.9h0M160.9 156.4h0M182.5 159.7h0M175.8 130.6h0M180.7 149.4h0M150 149.1h0M174.6 145h0M182.9 144.1h0M197.4 124.7h0M178.3 143.2h0M158.6 156.5h0M165.7 157.7h0M162.2 154.7h0M196.9 150.4h0M190.9 154.6h0M142.9 135.1h0M169.9 158.1h0M199.3 153.8h0M162.6 153.2h0M183.8 148h0M177.4 167.4h0M180.7 152.9h0M174.4 166.1h0M152.4 148.4h0M163.1 158.5h0M179.6 141.8h0M192 133.1h0M171.7 147.7h0M181.3 145.9h0M174.4 125.1h0M159 152.8h0M160.7 153.1h0M188.3 154.6h0M187.8 161.4h0M168.1 163.7h0M143.4 145.3h0M164.3 148.6h0M165.1 149.1h0M183.2 152h0M171.5 157.2h0M182.3 172.2h0M190.5 151.4h0M179.6 141.3h0M175.4 169.2h0M193.5 152h0M176.4 133.2h0M195 129.9h0M178 182.5h0M176.5 146.5h0M174.1 163.5h0M159.1 155.9h0M156.2 143.9h0M181.6 158.7h0M192.1 166.3h0M173.3 163.2h0M166.5 134.9h0M189 132h0M170.6 142.9h0M170.1 154.2h0M184.9 136.3h0M172.6 162.5h0M186.8 154.5h0M165.7 143.2h0M181.8 163.2h0M170.6 148.3h0M166.1 148.1h0M178.6 152h0M204.8 149.6h0M187.3 150.7h0M174.3 147.3h0M195.2 145.6h0M149.4 158.2h0M177.4 147.9h0M164.5 152h0M163.3 166.4h0M167.8 152.4h0M171.3 145.1h0M164.7 165.5h0M171.1 133.6h0M156.1 166h0M181.9 144.2h0M182.5 145.4h0M199.7 127.7h0M188.3 154.6h0M164.6 137.8h0M163 140.5h0M181.2 146.4h0M173.2 126.6h0M154 152.1h0M157 172.5h0M181.8 135.5h0M183.6 153.7h0M154.8 145.3h0M198.9 152.2h0M179.2 148.6h0M172.5 156.7h0M175.6 159.5h0M189.2 162.3h0M172.8 148.6h0M175.7 158h0M185.8 140.4h0M166.3 167.3h0M182.1 154.9h0M183.7 158.7h0M187.9 133.1h0M184.9 156.2h0M188.9 147.1h0M181.3 123.8h0M192.7 141.9h0M164.1 149h0M166.5 134.7h0M179.2 161.9h0M203.7 138.4h0M192.3 143.6h0M183.9 147h0M188.1 153.7h0M178.1 150.2h0M193.8 137.4h0M175.6 151.7h0M184.5 137.5h0M177.3 135.5h0M162.3 147.3h0M192.6 140.4h0M187.7 150.7h0M177.6 148h0M157.5 138.3h0M188 147.2h0M172 161.7h0M160.7 156.1h0M191.2 136.7h0M173.5 142.6h0M177.3 137.8h0M184.4 138.2h0M193.7 135.3h0M166.8 167.3h0M150.4 151.8h0M193.6 148.1h0M176.9 164.5h0M181.7 152.9h0M192.2 155.4h0M205 159.6h0M163.2 145.6h0M165.8 142.4h0M145 153.6h0M188.4 167h0M177.7 153.2h0M174 141.3h0M193.9 121.1h0M155.7 142.7h0M152 153.1h0M164.6 160.9h0M189.7 156.9h0M158.1 166.8h0M163.6 162.3h0M178 136.8h0M153.8 141.1h0M159.4 138.8h0M163.8 165.9h0M188.2 158.4h0M163.3 150.4h0M182.6 138.2h0M170.2 162.2h0M177.9 147.1h0M168.8 168.4h0M184.9 143.1h0M143.9 173.7h0M201 128.5h0M183.6 157.3h0M155.8 151.9h0M164 154.8h0M171.6 145.3h0M176.3 148.3h0M167.9 160.5h0M195.7 152.2h0M174 152.1h0M163.9 150.7h0M174.2 145.3h0M186.8 139.5h0M159.8 168.2h0M159.2 142.4h0M187.8 133.4h0M178.8 142h0M174.7 143.2h0M201 132.4h0M199.7 142.4h0M161.1 161.8h0M158.4 163.5h0M177.1 134.2h0M192.5 151.7h0M176.5 160.3h0M181.9 145h0M164.4 148.1h0M180.4 127h0M157.1 152.1h0M185.1 161.2h0M181.9 138h0M172.7 149h0M185 170.2h0M175.9 146.4h0M191.3 149.8h0M169.3 162.3h0M194.8 146.6h0M153 156.2h0M195.2 145.2h0M172.2 125.3h0M191.2 151.4h0M196.9 152.1h0M185 152.8h0M199.1 151.9h0M189.1 154.3h0M179.2 153.5h0M185.4 130.1h0M200.5 153.5h0M152.4 160.5h0M180.9 151.6h0M142.2 148.9h0M176.5 145.8h0M178.3 152h0M176.5 151.2h0M190.8 136.1h0M196.1 151.6h0M190.1 148.9h0M141.6 172h0M202.3 153.9h0M165.2 146.2h0M132.1 149.5h0M183.9 160.4h0M177.6 160.4h0M172.3 153.4h0M198.1 142.6h0M167.9 138.5h0M166 160.4h0M191.1 147h0M161.6 152.6h0M189.6 140.5h0M162.4 154h0M189.3 152.1h0M204.2 139.6h0M187.1 135.2h0M161.7 140.1h0M150.1 149.3h0M172.8 157.8h0M149.5 145.9h0M194.7 135.9h0M196.7 157.3h0M146.1 163.4h0M163 132.7h0M181.3 140.2h0M188.7 140.2h0M165.7 169.3h0M175.2 143.5h0M162.5 160.3h0M173 154.9h0M189.4 148.8h0M144.9 152.1h0M174.2 143.2h0M184.8 136h0M153.8 161h0M163.7 151.9h0M207.2 163.2h0M175.4 146.2h0M193.2 152.4h0M184.1 142.4h0M195.6 141.9h0M187.2 135.9h0M176.1 145.5h0M168 154.4h0M186.4 143.8h0M155.8 136.2h0M161.7 138.1h0M174.8 162.5h0M172.9 152.7h0M167.7 173.9h0M176.2 152.3h0M189 148.1h0M156.3 167.1h0M146.4 159.5h0M169 156.1h0M176 146.1h0M181.6 145.3h0M178.1 142.1h0M184.1 172.4h0M200.5 127.5h0M190.8 156.8h0M184.3 164.7h0M185.7 146h0M181.3 148.9h0M177.2 158.6h0M187.4 164.2h0M175.4 162.2h0M181.3 178h0M191.3 133.7h0M151.4 155.9h0M168.7 153.2h0M175.3 174.1h0M186.1 149h0M162.7 159.9h0M184.4 160.5h0M180 145.1h0M186.5 147.7h0M187.1 141.4h0M179.9 155.7h0M163.7 142.3h0M175.9 148.5h0M153.8 156.8h0M191.2 144.2h0M162.2 152.3h0M174.2 155h0M170.6 152h0M171 159.2h0M182.3 173.4h0M196.5 147.1h0M182.2 149.2h0M165.8 149.7h0M192.6 151.3h0M170 143.6h0M195.7 166.7h0M191.4 135.4h0M169.3 160.6h0M159.6 151h0M162.1 138.2h0M185.7 149.9h0M205.7 143.2h0M186.1 149.9h0M188.5 150.2h0M168.7 146.3h0M172.5 137.6h0M177.5 140.2h0M144.9 143.8h0M176.6 165.1h0M168.5 148.9h0M176.8 147.5h0M185.9 131.9h0M182.7 157.7h0M187.9 142.7h0M182.8 141.2h0M182.9 142.6h0M175 160.9h0M177.4 156.9h0M175.6 143.7h0M174.9 159h0M184.4 154.8h0M167 157.9h0M191.6 152.4h0M173 140.7h0M155.4 149.8h0M192.3 141.6h0M196.1 142.7h0M191.5 138.8h0M164.6 148.7h0M164.7 153.9h0M173.8 150.4h0M161.9 139.6h0M181.9 132.7h0M166.2 149.8h0M179.8 171.8h0M183.4 149.8h0M182.2 168.3h0M162.8 155.3h0M184.8 159h0M169.5 151.5h0M178.4 141.5h0M180.4 150.3h0M176.9 143.9h0M173 177.1h0M169.2 155.1h0M181.1 150h0M160.2 160h0M195.1 139.2h0M177.9 147.7h0M174.8 138.2h0M167.8 167.4h0M169.9 150.7h0M169.5 153.6h0M162.9 181.6h0M161.9 158.2h0M196.4 151.8h0M161.2 154.4h0M180.9 158.2h0M189.8 148.5h0M173.9 163.2h0M184.3 159.7h0M175.2 157.9h0M167.6 145.8h0M189 143.8h0M171.1 152h0M145.3 155.6h0M160.5 156.5h0M173.3 153.4h0M182.5 139.2h0M168 160.6h0M192.5 143.8h0M150.9 160h0M166.6 153.6h0M173.5 147h0M166.2 143.6h0M165.7 153.9h0M180.3 133.9h0M157.6 155.5h0M167.5 157.7h0M166.3 141.2h0M149.9 154.4h0M178.9 163.4h0M184.9 168.8h0M181.1 156.2h0M186.4 137.1h0M166.8 154.8h0M184 141.4h0M176.9 147h0M172.3 165.2h0M160.1 156.5h0M192.6 155.4h0M152.7 165.8h0M183 142.7h0M176 150.5h0M187.5 141.2h0M169.2 169.4h0M147.6 147.7h0M178.2 149.4h0M183 150.7h0M187 152.3h0M171.1 140h0M175.1 160.8h0M173.7 158.9h0M177.4 140.7h0M158.5 156.9h0M174.1 152h0M176.6 145.6h0M198.1 147.2h0M168.4 148.2h0M160.4 154.2h0M192.8 131.8h0M177.5 146.5h0M190.5 153.9h0M166.4 158.8h0M152.6 156.6h0M165.7 143.1h0M183.3 154.9h0M178.4 133.7h0M185.2 142.3h0M167.9 164.2h0M171.7 142.6h0M155.8 171.1h0M160.1 161.1h0M172.4 166.6h0M168.8 143.5h0M191.7 150.1h0M180.2 144.9h0M194 151.4h0M146.5 152.9h0M176 149.5h0M158.6 160.7h0M191.4 162.2h0M170.3 158.9h0M177.9 153.7h0M181.9 143.5h0M176.5 156.6h0M153.9 144.4h0M158.9 145.7h0M170.3 185.4h0M165.9 164.5h0M166.3 155.9h0M184.8 155h0M142.7 156.9h0M208.1 138.7h0M173.9 158.1h0M175.1 151.6h0M163.1 149.9h0M169.3 156.8h0M168.8 152.9h0M166.7 165h0M195.1 158.7h0M170.2 151.2h0M172.8 147.6h0M161.9 139.3h0M217.8 143.2h0M164.9 149.5h0M179.1 140.8h0M194.5 153.3h0M166.3 171h0M167 163.4h0M158.5 151.5h0M177.3 140.7h0M181.2 144.7h0M185.5 135.7h0M166.6 163.2h0M170.6 134.6h0M168.7 150.5h0M178.7 139.7h0M137.6 162.5h0M200.4 138.1h0M169.8 161.6h0M180.4 129.6h0M162.3 153.4h0M177.8 144.6h0M170.8 160h0M160.5 133.4h0M197 143.9h0M198.7 137.5h0M164.7 162.7h0M170.4 150.3h0M157.2 159.2h0M192.2 140h0M186.6 142.1h0M186.3 148.4h0M162.4 162.3h0M183 160.6h0M175.4 164.3h0M169.5 153.7h0M173.8 144h0M190.8 156.3h0M188.6 135.7h0M181.4 146h0M198.2 157.4h0M177.1 144.8h0M171.2 140.8h0M184.2 151.7h0M174.5 139.2h0M182.8 161.6h0M194.1 136.3h0M199 165.3h0M186.1 166.3h0M171.6 144.8h0M180.3 136.3h0M186.8 143.9h0M169.7 140.6h0M162.9 149.7h0M145.7 146.9h0M200 137.2h0M182.7 160.6h0M174.3 147.6h0M190.6 146.7h0M196.6 131.7h0M161.9 149.8h0M195.7 133.8h0M189.6 130.6h0M196 153.9h0M181.4 173.5h0M175.3 148.5h0M182.1 140.6h0M175.4 135.7h0M175.8 145.4h0M185.4 135.3h0M182.1 139.8h0M167.7 153.5h0M154.2 152.5h0M177.9 156h0M182.5 165.6h0M163.7 161.3h0M154.2 131h0M152.8 144.4h0M169.2 140.8h0M152 156h0M182.2 131.2h0M172.1 150.3h0M177.9 147.4h0M210.6 152.5h0M180.4 153.8h0M152.9 149.6h0M194.5 151.2h0M179.5 161.1h0M158.8 161.8h0M156 152.7h0M174.2 152.3h0M171.2 153.4h0M193.3 137.3h0M169.1 163.7h0M185.7 154.5h0M179.3 142.6h0M162.6 152.9h0M182.1 148.4h0M171.9 146.1h0M173.8 151h0M174.4 145.7h0M187.3 139h0M182.4 147.9h0M195.7 118.3h0M170.6 141h0M162.6 145.5h0M186.1 146.5h0M146.5 152.5h0M198.4 134.1h0M213.4 151.1h0M195.4 136.5h0M178.7 129.6h0M177.6 157h0M193.3 164h0M163.8 145h0M186.1 153.7h0M178.1 143.8h0M186.2 145.5h0M159.6 147.4h0M192.2 170.5h0M169.8 142.8h0M165.4 154.8h0M171.2 161.5h0M174.5 137.4h0M189.1 163.7h0M138.7 178.7h0M162.6 138.3h0M196.4 139.3h0M195 123.5h0M188.7 162.8h0M169.8 140.2h0M168.3 155.9h0M202.6 144.4h0M174.2 146.6h0M185.8 142.4h0M156.7 157.5h0M162.1 142.1h0M192.3 127.9h0M184.3 139.1h0M179.4 149.6h0M145 133.4h0M180.7 142.4h0M178.5 134.2h0M191.3 142.3h0M156.9 152.3h0M160.4 154.4h0M176.6 148h0M174.9 146.7h0M170.4 147.7h0M167.3 149.8h0M159.1 146.7h0M171 138.6h0M158.1 150.4h0M172.8 157.9h0M180.8 139.1h0M167.6 163h0M172.6 151.9h0M203.2 136.3h0M156.2 149.4h0M164.9 143.9h0M177.3 146.9h0M189.2 130.8h0M184.4 140.4h0M199.4 157.1h0M192 157.1h0M167.7 156.6h0M166.4 147.4h0M168.3 133.7h0M173.5 135.4h0M195.7 154.3h0M174.7 162.4h0M182.4 152.3h0M185.9 140.8h0M159.7 173h0M178.8 144.9h0M177.1 150h0M170.6 151.8h0M173.4 163.6h0M144.1 158.4h0M151.8 149.3h0M178.2 158h0M167.9 158.6h0M186.9 137.1h0M165.1 160.4h0M162 149.3h0M185.2 137.1h0M177.3 156.5h0M184 136.3h0M167.3 157.9h0M164.2 161.1h0M194.4 148.9h0M180.3 131.2h0M148.9 129.5h0M163.9 154.1h0M206.6 138.3h0M181.2 154h0M211.6 141.6h0M163.4 112.8h0M171.5 138.7h0M178.4 135.7h0M194.4 139.9h0M185.7 172.4h0M169.1 140.5h0M176 158.9h0M175.5 160.8h0M182.6 149.8h0M191.4 129.5h0M179.6 136.3h0M168.4 153h0M178.7 165.4h0M161.6 141.6h0M168.2 131.6h0M160.2 166.5h0M188.8 149.7h0M178 147.9h0M169.4 150.6h0M178.7 159.1h0M176.2 152.1h0M180.9 155.3h0M174.9 143.5h0M184.8 133.5h0M188.7 150h0M153 172.2h0M177.3 142.7h0M203.4 131.1h0M169.3 157.4h0M183.7 154.2h0M171.3 155.2h0M155.2 161.7h0M191 139.7h0M187.9 151.1h0M147.2 165.1h0M172.2 150.9h0M185.1 152h0M186.2 151h0M156.9 159.9h0M181.7 137.1h0M184.8 166.1h0M162.4 171.4h0M171.6 149.8h0M184.5 145.9h0M190.4 147.3h0M178.7 163.5h0M193.8 139.8h0M176.8 151.7h0M173.7 129.6h0M185.3 140.9h0M162.2 152.7h0M178.3 152.3h0M160 155.4h0M155.6 159.5h0M168.6 157.4h0M171.4 168.2h0M170.9 140.3h0M187.8 158h0M177.9 157.6h0M173.8 171.3h0M181.7 155.2h0M164 158.1h0M176.4 152.2h0M187.6 131.7h0M182 169.6h0M143.4 151.8h0M141.4 161.6h0M195.1 163.1h0M187.6 151.8h0M179.1 159.4h0M188.3 137.5h0M178.5 139.2h0M192 166.9h0M167.1 162.2h0M193.1 145.3h0M196.8 125.8h0M200.2 147.3h0M182.3 156.8h0M181.5 147.6h0M193.6 144.6h0M175 157.9h0M188.2 141.3h0M168.8 158h0M194.8 138.7h0M191.3 134.1h0M195 135.9h0M190.5 162.3h0M163.4 160.4h0M180.2 145.1h0M182.5 152.1h0M174.5 149.4h0M176.4 149.3h0M206.2 139.7h0M182.9 147.4h0M197.5 156.8h0M189.8 156.9h0M168.8 151.8h0M180.7 142.8h0M168.1 136.2h0M192.3 150h0M165.3 150.5h0M160.2 152.4h0M172.7 138.8h0M187.1 165.5h0M168.4 146.6h0M175.1 161.4h0M179.7 151h0M176.8 150.7h0M173.7 153.7h0M184.7 134.5h0M179.6 150h0M185.6 135.4h0M184.4 146.9h0M166.5 153.8h0M177.5 156.9h0M191 145.9h0M180.3 148.9h0M206 153.9h0M176.8 148.8h0M176.2 156.7h0M160.1 148h0M149.5 157.4h0M154.3 133h0M194.3 128.6h0M157.5 168.7h0M194.3 133.7h0M189 147.8h0M147.6 163.6h0M169.1 159.7h0M200.1 162.4h0M194.1 143.9h0M185.3 140.9h0M182.7 151.3h0M197.6 158.8h0M185.7 154.2h0M156.5 174h0M166.3 154.2h0M149.4 147.6h0M168.3 141.4h0M201.4 147.3h0M163.7 162.3h0M146.4 150.1h0M172.3 124.5h0M140.6 159.4h0M171.9 148.8h0M173.6 137.1h0M197.1 141h0M183.1 151.5h0M200.2 133.4h0M169.5 155.1h0M186 150.4h0M161.2 149.6h0M185.8 152h0M190.3 146h0M168 155.6h0M179.7 156.9h0M179.8 156.5h0M201.2 145.7h0M180.7 158.6h0M180.2 170.2h0M168 139.9h0M145.1 177.8h0M162.3 131.9h0M176.4 131h0M170.4 154.1h0M172.2 151.8h0M175 141.8h0M187.2 140.5h0M177 143.2h0M179.4 151.5h0M181.9 154.4h0M167.5 167.7h0M165.1 168.2h0M161.7 159.5h0M178.1 145.4h0M163.2 162.6h0M186 152.3h0M163.2 154.6h0M178.4 163.4h0M191.6 149.2h0M213.9 151.1h0M179.1 143.2h0M142.2 152.8h0M171.3 152.7h0M185.9 155.6h0M191.8 162.3h0M162.9 152h0M142.5 150.5h0M176.1 156.8h0M164.2 152.7h0M164.8 158.3h0M145.6 147.3h0M175.5 150.6h0M144.1 152.8h0M161.3 144.1h0M167.4 145.2h0M167 148.7h0M173.8 152h0M197.1 150.9h0M196.1 142.3h0M167.7 140.9h0M167.3 167.8h0M154 149h0M156.9 153.4h0M170 176.9h0M181 139.8h0M184.2 159.4h0M163.7 167.4h0M164.6 156.9h0M199.2 165.7h0M152.2 170h0M179.6 148.3h0M187.2 140.3h0M164.3 148.5h0M182.3 147.6h0M178.7 143h0M178.3 157.1h0M162.7 168.6h0M168.3 141h0M150 142.4h0M160.4 158.7h0M191.3 143.3h0M178.6 179.5h0M156.5 172.9h0M182.2 140.3h0M184.3 128.9h0M193.3 147.9h0M177.2 130.9h0M179.1 148.7h0M136.3 153h0M184.8 145.6h0M164.6 157.4h0M179 168.5h0M184.2 143.1h0M177.8 137.8h0M179.7 155.4h0M191.3 140.1h0M198.1 138.3h0M174.8 168h0M170.8 164.9h0M205.9 135.2h0M180.3 120.8h0M173.4 141.6h0M166.9 154.6h0M188.3 156.8h0M199.3 129.2h0M165.4 143h0M181.9 132.5h0M160.7 148.3h0M189.8 137.9h0M182.1 151h0M202.5 143.4h0M186.3 145.7h0M176.1 136h0M169 152.7h0M169.4 161h0M167.1 134.5h0M188.2 147.2h0M182.1 153.4h0M187.8 159.4h0M181.6 147.5h0M190.3 142.1h0M201.2 136.9h0M177.3 135.4h0M195.5 156.9h0M159.5 160.7h0M156 169.7h0M162.9 148.2h0M188.3 153.6h0M156.6 139.7h0M161.2 153.9h0M187.2 145.1h0M179 153.9h0M177.4 153.6h0M164.1 142.5h0M188.3 148.6h0M178.5 141.9h0M182.7 162.3h0M166.2 162.3h0M165.8 171h0M195.5 130.8h0M171.8 160.3h0M167.4 141.4h0M172.3 161.9h0M161.8 162.6h0M157.9 149.5h0M180.4 146.5h0M149.2 160.9h0M192.6 146.8h0M159.6 165.4h0M153.6 166h0M141.8 148.1h0M172.8 141h0M207.1 139.3h0M192.3 149.9h0M191.4 163.5h0M170.7 145.1h0M190.5 153.8h0M186.9 163.1h0M178.6 144.9h0M180.1 141.9h0M202.7 143.7h0M192.9 140.5h0M201.3 141.1h0M178.1 150.7h0M203.6 166.1h0M189.4 147.5h0M156.7 148.2h0M163.8 147.9h0M193.6 154h0M184.6 164h0M191.2 141.9h0M186.6 165.4h0M185.5 169.3h0M169.8 160.2h0M154.1 168.6h0M197 160.6h0M174 161.7h0M174.2 147.5h0M172.1 162.1h0M182.1 140.5h0M172.9 151.5h0M171.1 159.1h0M171.5 159.2h0M165.3 142.9h0M175.4 147.3h0M190.6 168.6h0M137.8 159.4h0M163.4 152.9h0M177.4 162.4h0M187.3 134.5h0M188.7 149.5h0M164.4 142.5h0M157.6 141.1h0M185.9 173.7h0M167.6 164.7h0M184.3 144.1h0M197.1 133.5h0M202.7 168.6h0M187.7 138.7h0M158.3 134.2h0M140.7 140.1h0M163.8 160.4h0M183.3 146.6h0M210.9 157.6h0M197.4 154.2h0M186 155.9h0M162.9 145.3h0M184.2 147.9h0M170.9 161.5h0M161.5 164.3h0M169.2 161.5h0M164.1 155.7h0M198.4 137.6h0M172.9 164.9h0M190.2 139.9h0M185.6 161h0M180.4 154.9h0M181.8 143.5h0M179.1 139h0M207.1 138.3h0M168.9 167.7h0M174 156.4h0M186 153.8h0M192.3 152.8h0M161.1 156.2h0M163.8 127.3h0M196.1 141.7h0M171.9 138.5h0M176.8 154.5h0M177.2 158.6h0M168.6 152.9h0M191.2 146.1h0M165.5 161.2h0M183.2 142.6h0M186.8 156.6h0M161.1 161.8h0M181.6 138.8h0M192.8 153.4h0M197 125.5h0M185.1 145.9h0M176 145h0M183.9 151.1h0M163.1 161.7h0M197.9 169.1h0M188.3 143.6h0M163.2 159.3h0M152.3 160.8h0M157.8 155.7h0M177.2 162.9h0M163.6 137.7h0M195.1 144.2h0M185.8 159.4h0M169.2 146.4h0M188.9 152.2h0M175.6 140.9h0M167.8 153.8h0M164.6 154.9h0M174 156.2h0M191 131.4h0M187.5 141.2h0M205.6 139.8h0M174.3 159h0M181.4 139.8h0M169.3 156.1h0M166.7 148h0M166.2 160.3h0M157.1 158.2h0M190.7 141.7h0M176.2 158.8h0M161.6 165.6h0M159.7 163.9h0M174 150.2h0M177.6 147.8h0M180.5 151.6h0M159.3 154.1h0M156.7 153.6h0M157.4 175.4h0M188.6 164.8h0M171.1 141.8h0M201.7 157.1h0M172.8 156.2h0M177.1 141.8h0M170.8 159.2h0M156.1 163.5h0M195 154.1h0M154.8 160.9h0M190.4 156h0M189.9 137.6h0M157.3 145.8h0M167.9 148.4h0M174.4 151.9h0M168.9 153.2h0M187.9 148.3h0M147.3 144.8h0M156.9 158.8h0M180.8 156.7h0M160.6 150h0M191 161.9h0M161.2 153.3h0M168.1 161.3h0M200.9 159.5h0M167.4 157.9h0M161.7 156.9h0M178.2 164.5h0M179.6 157.6h0M176 151.1h0M170.2 145h0M198.1 138.8h0M157.1 142.8h0M172.2 144.9h0M182.2 142h0M154.8 145.8h0M187.9 146.1h0M181.6 143.1h0M164.9 167.5h0M189.2 134.8h0M186.5 127.5h0M156.2 150.8h0M181.6 134.8h0M168.3 156.7h0M172.2 146.6h0M176 132.8h0M187.6 159.7h0M171.1 149h0M158.8 141.1h0M189.1 142.1h0M164.4 148.2h0M178 162.5h0M166.6 152h0M169.6 132.7h0M163.4 154.5h0M180.5 157.1h0M190.4 183.9h0M175.7 133.4h0M185.8 150.6h0M207.5 151h0M176.6 153.6h0M181.4 165h0M170.4 154h0M162.1 149.2h0M199.3 151.5h0M163.5 139.8h0M151.4 150.2h0M168.3 158.6h0M186.6 142.9h0M170 181.1h0M193.1 133.7h0M189.1 150.4h0M171.9 134.3h0M173.6 171.1h0M164.1 147h0M181.5 134.4h0M181.1 150.4h0M167 145.2h0M155.7 164.5h0M188.7 163.1h0M157.1 158.9h0M188.4 163.4h0M167.8 143.2h0M169.5 147.4h0M167.2 140.1h0M166.3 160.1h0M172.2 149.3h0M188.5 159.2h0M178.7 151.7h0M180.8 141.2h0M173.2 149.1h0M180.6 163.4h0M162.7 153.6h0M154.4 147.7h0M201.4 139.4h0M182.1 151h0M191.1 141.2h0M170 153.9h0M194.4 127h0M206.2 147.8h0M167 148.7h0M192.8 156.8h0M154.4 169.2h0M168.3 147.6h0M172.9 144.1h0M184.8 152.4h0M192.6 156.8h0M170.1 145.8h0M181.5 143.2h0M183.6 171.7h0M207.8 143.8h0M153.8 159.4h0M168.8 148.3h0M182.5 160.1h0M179.7 153.1h0M143.8 166.7h0M163.7 155.5h0M182.2 141.7h0M182.6 152.6h0M144.4 164.2h0M169.1 150.8h0M175.5 137.1h0M172.2 145.5h0M162.9 134.1h0M142.1 157.8h0M159.4 162.2h0M167.8 148.7h0M189.5 134.2h0M160.3 141.2h0M174.8 146.9h0M162.9 156.4h0M176.8 153.1h0M189.7 133.2h0M174.9 157.1h0M179.9 167.7h0M195.6 155.1h0M161.7 154.2h0M174.4 146h0M164.1 152.6h0M187.3 141.7h0M171.7 152.1h0M191.9 145.7h0M199.2 136.1h0M153.8 128.3h0M194.4 144.6h0M192 136.3h0M173 150.9h0M163.5 151.2h0M188.4 136.4h0M173.3 142.1h0M162.7 132.3h0M188.4 168.6h0M171.2 145.6h0M180.6 151.4h0M185 132h0M184.4 151.3h0M165 150.6h0M183.6 159.6h0M166.1 163.2h0M157.7 156.9h0M179.8 151.3h0M186.3 142.1h0M148.3 155.9h0M194.9 148.2h0M210.7 140h0M195.2 125.6h0M122.8 148.2h0M186.8 150h0M182.9 158.6h0M190 150h0M194.5 138.8h0M184.3 158h0M152.5 156h0M170.8 164h0M179.8 152.6h0M180.6 152h0M187.6 147.7h0M182.9 161.4h0M199 144.9h0M156.7 139.6h0M169.6 157.2h0M189.8 146.2h0M178.3 138.3h0M211.2 151.5h0M163.6 156.9h0M148.2 158.3h0M176.3 163.1h0M193.6 144.4h0M166.7 157.3h0M155.2 138.4h0M184.6 144.3h0M178.5 149.9h0M178.6 146h0M175.2 155.9h0M151.2 144.1h0M205.3 125.2h0M170.1 162.7h0M188.3 133.5h0M155.5 167.7h0M170.8 161.4h0M156.2 167.7h0M151.1 145.5h0M154.9 160.8h0M184.7 148.6h0M177.9 161h0M185.2 156.2h0M180 144.1h0M153.1 151.9h0M172.9 156.3h0M156.8 171.6h0M202 148h0M182.7 138.9h0M179.9 167.6h0M148.3 157.8h0M193.8 150h0M168.2 162.1h0M168.2 184.6h0M148.2 157.8h0M196.4 134.5h0M192.7 150h0M176 171.6h0M187 143.5h0M142.6 144.3h0M185.4 118h0M183.3 159.5h0M200.8 139.3h0M185.1 149.8h0M164 150.1h0M147 145.5h0M194.1 148.4h0M159.2 156.9h0M187.1 141.8h0M195.5 153.6h0M164.6 162.2h0M183.2 141.1h0M185.3 126h0M172.9 133.4h0M171.7 168h0M147.9 159.5h0M187 154.1h0M165.9 138.3h0M156.9 140.1h0M168.1 157.2h0M168.5 142.1h0M208.1 134.3h0M178.7 160h0M193.7 149.5h0M166.9 163.8h0M196 134.8h0M178.6 155.9h0M181.6 146.9h0M166.4 151.6h0M167.6 150.8h0M164.8 168.6h0M183 133.4h0M199.1 161.1h0M179.7 127h0M178.3 154.7h0M179 148.1h0M188.3 127.3h0M172.9 142.1h0M169.5 150.3h0M178.4 146h0M171 151.7h0M187.6 144.9h0M173.3 148.8h0M160.2 159.6h0M158.2 164.4h0M154.7 160.2h0M200.7 149.7h0M175.1 146.9h0M196.5 146.9h0M199.7 148.6h0M171.9 151.2h0M208.3 129.4h0M179 162.9h0M186.7 157.3h0M166 155.6h0M181.5 145.5h0M164.9 138.6h0M184.6 145.8h0M202.7 140h0M188.7 153.4h0M156.3 152.5h0M151.4 148.1h0M164.3 162.7h0M211.7 160.2h0M167.2 148.3h0M145.4 166.6h0M161.6 142.8h0M181.9 150.7h0M168.6 158.6h0M191.4 145.9h0M198.4 152.3h0M163.8 147.4h0M191.4 133.3h0M157.7 136.2h0M201.5 139.3h0M173.6 164.1h0M196 137.7h0M173.7 145.8h0M164.8 153.5h0M176.8 153.8h0M181.4 156.1h0M158.7 148.2h0M180.6 139.6h0M158.5 153.6h0M158 152.3h0M173.8 142.2h0M186.7 149.7h0M167.3 170.4h0M183.4 155.4h0M188.5 125.3h0M173.7 140.7h0M164.4 142.9h0M187.9 131.6h0M204.2 151.5h0M174 153.9h0M187 165.7h0M172.5 154h0M187.1 153.5h0M193.9 147.3h0M168.8 161.1h0M202.3 137.6h0M181 158.3h0M176.9 162.2h0M177.4 132.5h0M170.8 130.2h0M178.5 149h0M144.1 168.7h0M207.1 143.5h0M185.2 150.9h0M169.1 128.8h0M195.1 149.1h0M170.9 144.3h0M171.3 147.6h0M195.8 143.4h0M170.2 165.6h0M178.9 157.9h0M190.1 145h0M178.5 146.9h0M180.6 137.9h0M158.4 153.2h0M155.4 175.3h0M185.1 139h0M188.5 148.4h0M193.4 136.1h0M205.3 146.3h0M185.9 168.8h0M187.6 159.6h0M198.8 158.6h0M155.1 159.5h0M172.9 143.4h0M173.9 159.8h0M184.2 155.3h0M199.7 144.1h0M177 153.5h0M167.8 156.9h0M161.4 150.6h0M160.2 152.2h0M180.7 160.7h0M135.8 148.3h0M187.7 139.8h0M174.2 143.6h0M170.4 147.5h0M173.9 145.1h0M169 145.5h0M194.3 139.3h0M153.4 154.3h0M142.7 143.1h0M186 157.6h0M157.6 161.2h0M180.5 150.2h0M183.6 149.1h0M150.5 163.5h0M174.5 149h0M190.8 157.7h0M165.2 146.3h0M164.8 163.8h0M191.9 136.7h0M159.3 153.5h0M179.9 155.1h0M184.9 141.3h0M161.5 157h0M185.2 148.9h0M159.8 144.2h0M181.7 148.2h0M178.5 157.3h0M190.8 137.2h0M186.9 135.8h0M196.6 158h0M160.6 149.3h0M180.7 153.4h0M168.4 159.2h0M207.2 132.3h0M175.6 157.8h0M173.2 147.4h0M166.1 160.6h0M178.3 161h0M167 170.8h0M178.9 142h0M180.2 135.9h0M159.5 153.3h0M156.7 136.4h0M187.5 151.8h0M168.2 152.4h0M181.2 145.7h0M162 160.4h0M209.2 119.9h0M136.2 160.8h0M182.6 163.3h0M179.8 149.8h0M185.4 143.7h0M163.8 166.2h0M179.3 171.5h0M169.7 136.6h0M176.6 171.5h0M184.3 147.5h0M165.9 140.2h0M193.7 144h0M168.3 156.8h0M149.1 145.8h0M191.1 153.1h0M170.8 145.9h0M167.8 162h0M183.4 145.6h0M176.7 148.4h0M179.7 137.3h0M154.4 157.6h0M176.8 138.2h0M189.3 147.3h0M177.8 146.3h0M157.6 145.5h0M185.6 134.6h0M192.4 153.1h0M160.5 163.5h0M150.5 142.2h0M164.4 152.2h0M184.3 162.6h0M173.2 166.8h0M176.2 178.6h0M154.7 159.4h0M180.9 150.9h0M197.2 147.7h0M172.7 150.1h0M193.1 134.1h0M166.6 147.7h0M216.1 150.7h0M151.5 154.3h0M178.6 133.1h0M169.3 156.4h0M183 144.4h0M146.3 163.9h0M165.7 138.1h0M189.3 138.9h0M185.7 141.1h0M188.1 148.4h0M196 167.5h0M158.6 139.4h0M169.3 134.7h0M194 145.6h0M148.4 164.5h0M195 144.1h0M198.1 153.8h0M163.9 134.7h0M172.9 139.9h0M183.3 156.2h0M171 167.1h0M160.8 155.1h0M174.5 156.3h0M198.5 144.2h0M145.1 159.1h0M178.2 132.5h0M208 135.3h0M184.4 167.8h0M174.5 149.4h0M161.9 156.3h0M159.8 162.8h0M161.6 147.7h0M181.2 143.7h0M157.4 146.7h0M182.6 137.1h0M167.5 165.2h0M173.3 139h0M183 135.2h0M166.2 147h0M181.2 142.5h0M158 145.8h0M163 148.7h0M179.3 145.2h0M201.3 152h0M152.1 160.1h0M179.5 136.1h0M139.3 161h0M164.1 148.1h0M157.4 157.6h0M161.7 142h0M161.7 141.4h0M154.2 169.5h0M195.5 153h0M188.1 163.4h0M168.4 157.7h0M196.9 137.4h0M188.6 147h0M180.5 149.2h0M179.7 144.3h0M164 144.9h0M177 142.2h0M148.2 157.4h0M178.5 152.4h0M178.8 153.2h0M182.2 153.4h0M167.5 145.3h0M157.8 131.4h0M162.5 143.2h0M212.8 123.9h0M195.6 150.8h0M181.6 129.5h0M167.1 156.6h0M182.3 142.1h0M163.9 128.3h0M151.6 153.8h0M190.6 145.2h0M164.6 171h0M169.2 161.4h0M184.1 147.7h0M175.3 149.8h0M140.5 184.2h0M150.3 155.1h0M146.3 156.6h0M206.3 147h0M166.5 137.5h0M159.3 131.5h0M180.6 138.4h0M170.8 133.8h0M167.3 163.9h0M198.3 134.6h0M211.3 152.5h0M180 142h0M169.7 177h0M190.8 156.7h0M187.5 161.4h0M192.4 157.1h0M199.7 147.1h0M177.4 133.9h0M188.5 142.8h0M182.4 143.7h0M159.7 141.5h0M165.8 155.4h0M163.4 154.9h0M167.3 144.6h0M154.5 150.1h0M170.1 135.8h0M198.1 143.4h0M170.3 151.6h0M186.5 156.4h0M172.1 160.4h0M166.9 155h0M174.9 146.8h0M176.4 155h0M154.7 166.4h0M165.6 145h0M164.3 140.5h0M179.1 145.5h0M173.5 161.1h0M155.2 168.7h0M163.1 150.4h0M155.1 148.8h0M166 149.8h0M179.4 156.2h0M150.8 137.9h0M175.2 140h0M197.6 137.3h0M175.6 154.8h0M166.8 136.5h0M162.6 146.7h0M179.5 146.9h0M191.4 151.6h0M176 133.6h0M172.3 154.5h0M207.3 140.1h0M188 144.7h0M174.7 144.4h0M153.2 161.3h0M185.2 145.8h0M182.8 161.7h0M161.6 158h0M178.6 144.7h0M190.8 152.5h0M208.9 142.4h0M199.8 140.4h0M157.2 146.2h0M174 140.7h0M198.7 154.4h0M193.5 158.5h0M164.7 136.5h0M138.1 162.1h0M178.2 167.3h0M170.2 155.7h0M159.6 152.8h0M179 130h0M190.2 142.7h0M162.9 144.6h0M176.9 155.6h0M162.1 136.6h0M189.2 143.7h0M205.9 151.9h0M177.6 165.7h0M189.3 141.7h0M181.6 140.6h0M158.1 150.5h0M163 156.9h0M183 146.5h0M146.6 160.1h0M168.1 146.3h0M184.9 140.8h0M157.7 167.7h0M175.3 153.5h0M155.8 159.1h0M183.5 157.2h0M171.6 166h0M187.7 147.6h0M166.7 154.2h0M184.4 159h0M166.1 155.4h0M172.5 142.2h0M174.6 172.4h0M185.5 133.5h0M187.3 144.4h0M182.7 157.3h0M159.5 147h0M203.6 154.4h0M185.2 122.4h0M185.8 162.3h0M174.1 146.3h0M155.7 169.9h0M183.5 149h0M182.2 144.8h0M163.3 145.1h0M170.4 152.5h0M177.4 147.8h0M178.8 138.5h0M161.5 153.7h0M160.1 157.5h0M188.4 145.9h0M201 142.5h0M201.7 131.6h0M160.8 162.9h0M186.6 157.6h0M162.2 149.3h0M184.1 149.1h0M193 143.8h0M182.3 154h0M135.2 146.7h0M166.8 148.8h0M172.3 158.2h0M184.2 147.8h0M154.5 162.1h0M187 138.2h0M161 142.9h0M186.2 146.9h0M148.7 158.4h0M215 129.5h0M173.6 135.8h0M170.2 146.5h0M164.6 138.5h0M184.5 145.1h0M174.8 175.3h0M171.6 151.5h0M177.3 151.9h0M198.7 156.9h0M168.3 161.6h0M165.5 156.2h0M161.1 157.9h0M158.9 150.9h0M159.1 154.7h0M170.2 133.2h0M181.3 149.9h0M151.4 144.8h0M195.1 138.5h0M191 154.1h0M170.3 143.8h0M161.9 138.7h0M172.4 152.9h0M168.9 153.1h0M147.5 157.7h0M188.3 164.7h0M164.5 146.7h0M179.3 137.6h0M187.3 137.1h0M166 139.4h0M180.4 160.8h0M178.7 136.5h0M177.6 158h0M174.2 150.6h0M169.1 137.7h0M196.2 151.5h0M176 143.6h0M164.5 137.7h0M195.5 145.8h0M166.1 143.6h0M175.8 143.9h0M186.3 165.7h0M177.4 136h0M182.4 137.6h0M164.2 147.3h0M186 153.5h0M150.4 168.7h0M177.7 135.5h0M167.4 146.7h0M171.8 152.6h0M190.3 151.4h0M184 134.6h0M147.5 148.7h0M173.2 157.5h0M184 150.1h0M156.2 160h0M160.5 155.8h0M166.4 165.8h0M184.6 159.7h0M174.6 137.8h0M172.9 163.3h0M171.3 138.6h0M180 147.4h0M182.4 158.1h0M168.6 161.7h0M192.7 136.6h0M190.8 147h0M188.5 151.7h0M156.3 157.5h0M177.5 156.7h0M158.8 148.8h0M171.3 171.5h0M159.9 147.5h0M189 150.2h0M192.4 140.5h0M191.6 135.4h0M196.2 163.2h0M180.3 137.2h0M184.2 144.4h0M174.5 157.3h0M179.3 166.5h0M143.3 143.2h0M187.2 138.2h0M164.8 150h0M167.1 142.3h0M163.5 146.3h0M163.7 147.1h0M187.3 150.1h0M177.6 131.9h0M166.9 171.8h0M199.1 148h0M175.9 155.5h0M167.4 153.2h0M161.2 164.2h0M188.2 152h0M189.9 156.7h0M190.8 145.3h0M144.2 146.5h0M169.7 139.4h0M162.2 162.9h0M189.5 145.4h0M194.1 141.1h0M164.9 157.1h0M150.5 159.1h0M172.2 144.8h0M184.1 138.8h0M169 147h0M150.2 164.2h0M190.2 156.5h0M168.7 155.4h0M188.8 121.3h0M193.2 119.9h0M154.9 160.4h0M197.1 159.5h0M169.2 156.7h0M177 156h0M185.3 132.8h0M175.9 155.8h0M177.6 147.8h0M162.7 163.8h0M196.1 142.8h0M199.1 135h0M211.9 155.1h0M193.6 154.6h0M170.5 156.2h0M184 150.7h0M157.9 154.7h0M157.4 147.7h0M173.6 154.9h0M180.8 154.4h0M174.7 147.7h0M184 131.3h0M171.6 157.2h0M180.7 147.6h0M151.6 150.5h0M186.4 152h0M168 156.2h0M175 160.2h0M184.2 153.1h0M172.5 143.1h0M157.1 159.5h0M187.9 148.9h0M153.8 155.6h0M178.6 171.6h0M175.4 148.5h0M184 154.5h0M180.9 163.9h0M180 146.8h0M198.6 141.6h0M167.1 160.2h0M184.1 130.6h0M161.3 160h0M166.6 149.4h0M162.7 158.8h0M148.2 150.1h0M201.4 151.1h0M177.4 148.1h0M189.9 152.9h0M170 160.8h0M180.4 162.1h0M193.6 147h0M175.9 140.3h0M167.7 160.8h0M162.1 148.7h0M178.1 169.7h0M201.7 126.5h0M199.4 140.1h0M157.5 149.6h0M171.2 140.5h0M177.1 143.2h0M179.6 142.1h0M149.1 163.2h0M183.6 158.4h0M183.6 146h0M167.6 156.3h0M180.7 144.8h0M175.4 155h0M182.6 153.4h0M191.3 146.9h0M178.1 162.4h0M178.3 160.6h0M185.6 157.8h0M158.8 166.3h0M148.1 166h0M183.6 149.7h0M178.1 156.9h0M180.5 156.7h0M173.8 147.2h0M196.6 147.6h0M189.6 143.8h0M184.5 151.4h0M192 143.5h0M165.6 148.7h0M158.6 158.5h0M185.2 143.6h0M143.2 148.3h0M157.8 145.5h0M145.9 159.8h0M170.1 159.7h0M181.7 143.9h0M170.8 155.4h0M160 160.1h0M163.7 142.2h0M163.2 153.8h0M198 144.2h0M194.9 163.4h0M167.2 143.9h0M190.8 144.6h0M181.4 143.1h0M183.8 154.2h0M166.7 149.5h0M181.2 126.1h0M176.4 141.8h0M172.7 156.1h0M177.1 159.2h0M157.6 134h0M150.1 148h0M159.6 144.4h0M180.5 143.4h0M179.5 166.3h0M198 142.8h0M172.1 148.9h0M164.4 158.1h0M189.3 154.4h0M180.7 157.6h0M173.3 160.1h0M168.6 154.9h0M171.3 146.2h0M171.3 157.3h0M199 151.4h0M183.1 147.4h0M171.2 151.3h0M171.8 153.2h0M164.3 140h0M191 146.2h0M180.9 148.5h0M161.1 156.1h0M171 158.5h0M157.5 155.5h0M179.6 141.6h0M177.4 153.1h0M211.9 148.4h0M169.8 139.3h0M172 157.3h0M173.6 155.2h0M159.5 169.8h0M181.1 155.2h0M157.2 141.3h0M169.5 151.7h0M193.6 163h0M181.1 153.8h0M173.3 152.6h0M185.2 155.9h0M152.4 147.3h0M162.4 141.3h0M185.7 148.8h0M167.6 144.2h0M183.3 150.3h0M185.8 149.7h0M195.7 144.2h0M188.8 139.2h0M198.1 143.5h0M186.3 149.4h0M164.3 169.6h0M181.2 151h0M149.6 149.2h0M165.7 156.1h0M174.4 153.9h0M177.4 148.2h0M175.8 152.1h0M171.9 151.5h0M167.6 173.4h0M140.6 161.6h0M181 158.8h0M175.8 150.7h0M184.6 121.1h0M179.2 155.7h0M128.9 162.7h0M167.9 147.7h0M202.6 143.6h0M180.8 146.6h0M168.1 138.4h0M185.1 156.9h0M170.8 162.3h0M206.5 135.3h0M177.7 155h0M189.2 144.8h0M199.5 153.7h0M178.6 157.8h0M176.5 136.6h0M180.9 159.9h0M174.5 154h0M168.2 152.6h0M188.2 149.5h0M192.6 158.4h0M174.3 151.6h0M179 130.9h0M165.6 156.8h0M181.4 143.2h0M177.8 147.9h0M209.2 148.1h0M165.1 172.4h0M164.8 141.9h0M177.9 155.3h0M167 148.3h0M184.6 158.2h0M142.2 152.6h0M177.8 153.9h0M180.3 143.9h0M181.2 155.3h0M166.1 153.6h0M172.5 157h0M167.8 147.6h0M165.5 153.4h0M170.4 150.9h0M203.3 146.3h0M190.8 160.9h0M154.4 156.8h0M197 142.4h0M166 148.6h0M187.2 131.7h0M176.6 158.6h0M171.9 158.8h0M151.3 159.2h0M172.1 166.4h0M179.3 146h0M195.1 141.5h0M175.9 141h0M182.1 134.8h0M178.1 175.1h0M193.4 146h0M168 151.9h0M212 131h0M175.3 155.8h0M167.3 147.4h0M179.7 126.6h0M185.4 164.5h0M159.2 161h0M173.8 145.2h0M151.2 156.4h0M187.4 138.9h0M182.8 158.7h0M187.7 156.2h0M177.8 147.8h0M181.2 142.6h0M177.4 143.4h0M170.7 150.5h0M178.5 150.3h0M193.6 150.8h0M173.5 157.7h0M188.4 149.8h0M191.4 146.8h0M160.4 178.2h0M161.4 139.2h0M173 151.1h0M184.7 133.7h0M178.5 146.8h0M192.7 150.7h0M189.7 142.6h0M138.8 146.2h0M161.4 137.8h0M159.5 144.7h0M172.5 147.1h0M176.3 142.8h0M173.4 133.2h0M176.8 152.8h0M179.5 167.6h0M183 146.5h0M195.5 136.1h0M167.8 171.8h0M184.9 147.8h0M196.9 155h0M177.6 164.4h0M183 139.1h0M171 159.3h0M172.1 147.5h0M174.7 146.3h0M185.7 142.4h0M186.2 141.9h0M163.7 154.4h0M171.6 140.5h0M178.3 147.5h0M183.8 167.5h0M176.7 148h0M166.7 152.5h0M167.2 159.6h0M172.3 137h0M136.8 135.1h0M176.2 155.4h0M167 144.4h0M184.4 136h0M186.1 154.6h0M161.5 140.9h0M170.7 147h0M174.5 157.8h0M160.1 147.1h0M154 160.3h0M186 148.4h0M185.2 144.1h0M156.9 154.9h0M151.3 154.6h0M173.2 150.8h0M185.7 145.8h0M158.7 149.2h0M184.6 156.8h0M177.5 139h0M188.5 142.3h0M172.8 175.7h0M170.7 139.3h0M174.9 153.1h0M170.9 143h0M162.7 130h0M202.9 156.1h0M179.3 151.7h0M164.9 146.8h0M195.4 145.9h0M201.2 140.8h0M160.8 161.4h0M171.6 155.1h0M192.3 166.1h0M177.3 147.6h0M163.6 154.9h0M181.5 140.2h0M179.6 155.6h0M187.6 135.8h0M206.6 130.7h0M188 129.1h0M170.3 137.7h0M164 141h0M181 167h0M152.6 157.6h0M159.1 158.6h0M169.6 171.8h0M207.5 128h0M173 150.9h0M196.8 138.8h0M193.9 130.5h0M184.1 162h0M182.2 150.3h0M182.9 143.4h0M163.6 159.8h0M191.6 142.3h0M156.3 147.6h0M163.8 126.4h0M180.5 153.4h0M153.2 158h0M182.3 150.8h0M155.5 160h0M159 161.4h0M184.7 126.8h0M206.6 147.7h0M154.2 165.5h0M163.1 151.8h0M152 158.8h0M175.2 141.7h0M183.6 137.1h0M177.4 148.2h0M209.7 132.9h0M157.1 143.1h0M153.9 147.8h0M175 143.8h0M188.3 140.2h0M148.8 142.9h0M157.6 157.5h0M184.8 163h0M173.7 127.3h0M166 138.9h0M177.6 150.8h0M183.1 141.4h0M135.1 144.5h0M202.6 138.3h0M189.5 142.5h0M176.2 142.6h0M185.9 151h0M170.7 162.8h0M174 156.3h0M160.2 138.8h0M169.3 141.1h0M165.5 138.3h0M181.7 162.2h0M192.6 140.5h0M189.1 151.3h0M188.1 144.6h0M174.1 147.2h0M150.7 146.7h0M203.5 145.5h0M180.1 164.8h0M185.6 138.3h0M175.6 136.8h0M174.5 146.9h0M177.8 147.3h0M181.9 143h0M172.9 145.7h0M162.1 167.5h0M167.2 158.3h0M190.9 148.6h0M185.2 158h0M182.1 160.1h0M198 139.3h0M190 142.1h0M162.5 151.2h0M176.9 149.2h0M157.8 132.6h0M161.8 156h0M189.3 169h0M152.3 156.6h0M189.4 136.1h0M202.4 148.8h0M171.7 159.7h0M166.1 147.1h0M169.7 131.7h0M163.4 158h0M191.1 148.1h0M170.9 159.7h0M185.3 151.1h0M186.2 162.3h0M190.4 164.7h0M165 152.5h0M155.7 170.1h0M184.2 144.2h0M180.7 154.2h0M175 143.6h0M186.2 134.6h0M161.6 163.7h0M166.2 157.8h0M159.3 162.5h0M203.3 150.1h0M184.1 169.1h0M185 146.3h0M163 163.4h0M154.1 149.1h0M173.2 141.3h0M187.3 155.9h0M181.1 157.4h0M178.2 160.1h0M199.7 152h0M168.8 169h0M203.7 142.3h0M155.6 156.6h0M154.9 146.5h0M173.1 151.8h0M167.8 141h0M182.4 138.2h0M156.1 135.8h0M164.8 169.7h0M169.3 137.7h0M179.2 134.6h0M193.2 138.4h0M163.4 158.4h0M170 138h0M187.5 137h0M186.1 121.6h0M180.8 155.9h0M173.5 162.3h0M156 152.1h0M193.7 139.4h0M152.2 162h0M190 160.8h0M180.1 158.9h0M167.5 144.8h0M176.9 130.5h0M166.6 171h0M183.3 157.2h0M183.6 157h0M204.2 142.4h0M178.7 139.4h0M173.1 137.1h0M174.9 153.7h0M190 150.7h0M171.1 138h0M176.2 139.7h0M187.3 136.9h0M170.7 164.4h0M161.6 146.9h0M158.4 159.5h0M192.3 137.3h0M188.9 134.4h0M187 162.7h0M184.6 114.3h0M191.4 135.6h0M168.1 145.6h0M178.9 153.1h0M192.7 128.6h0M183.1 148.4h0M190.6 151.8h0M158.6 148.1h0M181.4 137.4h0M153.6 172h0M196.8 160.7h0M152.5 168.7h0M170.4 152.8h0M187.1 150.8h0M174.4 157.3h0M180.7 154.7h0M159.1 143.4h0M202.7 147.8h0M189.9 143.5h0M166.2 138.1h0M202.9 149.4h0M169.7 156.1h0M178.8 152.8h0M168.9 152.1h0M185.4 140.5h0M196.7 150h0M167.3 162.1h0M153.2 158h0M181.8 146.1h0M176.8 141.7h0M187.3 158.4h0M170.6 148.5h0M187.8 129.5h0M170.9 139.6h0M178.8 167h0M160.6 165h0M173.1 150.1h0M175.1 170.1h0M165.7 134.4h0M173.2 150.9h0M195.9 138h0M191.9 139.5h0M177 154.2h0M195.2 123.3h0M168.3 143.5h0M181.6 161.6h0M164.5 167.7h0M162.3 143.3h0M224.8 140.6h0M143.8 127.9h0M165.4 154.8h0M182.8 164.4h0M143.4 153.8h0M188.7 147.6h0M187.9 145.8h0M183.1 150.8h0M154.7 153.8h0M162.8 155.4h0M173.1 166.2h0M184.2 145.9h0M200.3 120.5h0M162.5 147.1h0M172.2 159.5h0M161.9 148h0M177.9 138h0M161.3 164.8h0M182.5 153h0M200.5 151h0M173.3 171h0M182.6 159.4h0M170.8 141.6h0M161 162.8h0M160.4 142.7h0M174.5 167.2h0M154.3 163.6h0M157.4 155.6h0M189.3 147.2h0M171.4 148.7h0M158.7 141.8h0M184.5 150.1h0M179.8 145.5h0M154.8 142.6h0M169.7 143.6h0M135.6 158.7h0M171.4 147.6h0M198 150.2h0M180 155.1h0M164.9 136.5h0M190 156.9h0M153.5 167.2h0M196.6 134.6h0M188.8 150.6h0M194.8 152.9h0M142.7 142.4h0M153.9 150.2h0M172.3 163.3h0M149.2 154.1h0M184.8 141.7h0M170.2 154.4h0M145.6 152h0M181.9 151.5h0M180.4 161.2h0M176.7 162.6h0M164.7 165.8h0M174.5 147.8h0M172.8 149.1h0M162.6 161.6h0M186.8 143.6h0M172.7 156h0M176.4 152.7h0M180.8 169.4h0M171.4 157h0M160.7 149.4h0M174.8 157.8h0M154.1 156.6h0M179.5 143h0M167.8 147.9h0M174.5 149.6h0M182.7 150.9h0M180.1 158h0M175.2 155.6h0M159.1 169.8h0M193.4 136.3h0M164.8 166.5h0M148.6 161.2h0M180.1 154.7h0M163.3 146.8h0M155.6 158.3h0M163.9 154.1h0M148.4 163.4h0M162.1 151.1h0M167.7 134.3h0M202.7 141.2h0M185.7 138.7h0M189.3 131.3h0M176.2 156h0M175.3 145h0M186.8 160.2h0M163.2 157.1h0M167.3 146.4h0M184.6 134.3h0M172.4 141.6h0M146.4 153.1h0M184.1 162.7h0M158.3 162.2h0M199.8 152h0M202.7 134.3h0M176.7 156h0M181 147.8h0M152.8 135.9h0M163.9 143.9h0M164.7 135.1h0M173.4 155.3h0M165.4 150.6h0M173.2 155.4h0M155.8 135h0M188 164h0M179.5 165.8h0M201 157.5h0M161.4 146.3h0M181.9 141.2h0M173.9 141.1h0M166 136.8h0M195.2 127.2h0M194.9 139.1h0M167.4 147.9h0M201.3 145.7h0M151.3 152.6h0M166.9 154.8h0M150.8 141.5h0M165.2 140.7h0M174.3 132h0M172.5 155.1h0M179.3 161.4h0M203.6 138.4h0M173.9 151.5h0M168.9 162.1h0M185.8 139.5h0M174.8 160.2h0M171.4 144.5h0M163.3 173.4h0M168.1 160.4h0M177.6 145.3h0M157.6 167.2h0M181.1 154.4h0M175.2 162.9h0M159.2 159.1h0M175 169h0M161.4 161.7h0M195.6 155.9h0M158.2 157.7h0M186.9 148.3h0M180.2 149.5h0M182.6 140.2h0M191.2 166.4h0M176.5 150.9h0M194.4 159.7h0M170.3 135.8h0M159.6 127.4h0M179.3 152.9h0M181.6 144.6h0M148.2 159.5h0M182.4 145.5h0M182.3 148.2h0M166.8 130.8h0M168.5 168.4h0M197.8 151.8h0M174 142.4h0M195.8 162.7h0M193.8 124.9h0M144.5 160.9h0M151.3 166.9h0M192.3 140.6h0M156.5 165.9h0M154.3 174.6h0M187.3 132.7h0M187.6 150h0M180.6 146.1h0M173.5 140.8h0M170.3 150.4h0M183.5 140.1h0M173.3 158.7h0M171.3 146.9h0M187 136.7h0M182.2 137.3h0M153 172.6h0M150.3 159.8h0M157.3 145.8h0M184.7 158.5h0M176.6 140.4h0M191.1 136.7h0M175.6 138.2h0M192.6 148.8h0M197.6 151.3h0M189.4 157.5h0M169.9 146.3h0M185.8 141.5h0M159.9 159h0M170.3 143.3h0M200.1 169.9h0M167.9 160.9h0M161.1 153.9h0M201.4 149.6h0M189.7 145h0M175 130.4h0M206.5 137.3h0M178.5 140.8h0M159.7 125.6h0M180.4 148.4h0M183.7 137.5h0M178.6 167h0M175.1 155.7h0M193 130.7h0M191.1 154.7h0M187 143.9h0M175.1 138h0M173.8 152.3h0M197.8 127h0M161.7 143h0M194.5 131.7h0M188 120.5h0M154.5 158.7h0M209.5 157.5h0M176.8 143.9h0M168.9 127.9h0M162.1 155.5h0M178.1 167.8h0M187.9 147.9h0M160 151.6h0M163.5 144.9h0M181.1 143.4h0M168.3 144.3h0M164.3 139.1h0M182.9 155.1h0M176.3 142.9h0M186.5 126.4h0M177.1 156.6h0M180.8 149h0M160 158h0M190.6 154.6h0M166.2 131.9h0M163.5 150.6h0M144.6 168.5h0M174 124.1h0M176.6 151.7h0M184.8 147.5h0M166.1 144.8h0M175.4 143.8h0M183.3 135.2h0M176.3 168.9h0M197.4 128.2h0M162.5 143.9h0M205.6 154h0M180.8 157.8h0M175.6 142.2h0M162.3 142.4h0M153.4 188.2h0M163.9 169.4h0M168.9 137h0M164.2 138.5h0M192.7 142.6h0M166.9 137.6h0M195.3 137.1h0M187.8 131.6h0M180 156.3h0M173.5 137.5h0M169.3 176.7h0M184.7 154.9h0M173.2 138.1h0M178.9 157h0M189.6 153h0M159.9 155.5h0M196.8 158.5h0M202.2 151.9h0M159.6 161h0M184 157.4h0M167.9 130.1h0M168.4 141.5h0M203.9 139.1h0M169 157.1h0M157.3 161.8h0M194.5 151.5h0M191.1 155.5h0M170.2 163h0M165.1 152.5h0M170.9 150.7h0M164.3 163.2h0M189 142.9h0M172.3 174h0M176 140.3h0M161 163.3h0M172.7 165.3h0M172.5 167.8h0M181.4 134h0M206.1 148.8h0M183.5 144.6h0M172.5 154.9h0M168 155h0M160 137.3h0M157.9 154.4h0M168.9 148.1h0M169.1 141.5h0M198.8 142.1h0M180.9 137.1h0M194.2 129.7h0M147.2 167.5h0M158.9 137.7h0M176.4 136.9h0M181.1 148.2h0M206.4 137.6h0M179.2 139.5h0M182.3 155.5h0M156.4 144.9h0M174.6 142.7h0M171.6 158.9h0M166 130.9h0M180.5 137.1h0M172.6 150.5h0M141.7 163.4h0M180.3 130.7h0M165.8 158.1h0M184.1 144.6h0M172.4 135.4h0M179.5 139.7h0M167.5 144.7h0M171.1 156.4h0M165.9 146.8h0M177.3 134.7h0M187.4 133.6h0M158.6 149.4h0M157.9 173h0M173.6 139.1h0M182.4 155.6h0M177.5 156.5h0M181.9 137.8h0M177 156h0M178.3 144.2h0M184.8 157.8h0M171.9 159.3h0M178.9 168.6h0M179.9 156h0M162.9 150.5h0M192.8 128.9h0M173.7 142.8h0M171.9 155.5h0M166.9 155.1h0M195.9 145.6h0M194.7 159.1h0M171.1 167.2h0M157.9 154.2h0M185.9 144.9h0M196.6 135.5h0M169.3 149.8h0M186.6 150.9h0M177.6 135.7h0M177.8 147.9h0M199 147.7h0M188 146.7h0M160.5 151.4h0M183.1 160.7h0M152.3 144.2h0M163.8 161h0M168.2 160.9h0M177.2 169.2h0M167.2 150.2h0M179.5 152.4h0M177.9 141h0M181 154.2h0M156.9 125.4h0M176.1 144.7h0M177.6 133.5h0M201.5 146.9h0M179.1 148.6h0M185.5 144h0M174.8 146.5h0M134.1 160.6h0M144.9 151.5h0M187.6 149.3h0M186.3 147.4h0M163.6 147h0M160.5 168.4h0M185.6 143.8h0M186.8 148.1h0M147.3 178.6h0M158.8 155.2h0M180.9 161.5h0M189.7 145.2h0M176 163.1h0M177.5 153.1h0M196.8 147.3h0M175.9 138.1h0M197.1 167.3h0M175.9 141.9h0M192.2 137h0M167 128.9h0M176.4 142.6h0M187.7 156.4h0M183.8 152.8h0M185 146.2h0M194.6 166.8h0M178.9 149.8h0M179.5 165.5h0M196.5 148.2h0M184.9 165.4h0M178.1 144.8h0M162.7 166.2h0M168.5 148.2h0M161.2 158.8h0M185.3 154.9h0M179.1 171.2h0M160.5 145.8h0M192.8 147h0M176.5 143.9h0M181.2 172h0M206.5 132.6h0M177.8 137.9h0M139.4 143.6h0M193.4 137.4h0M183.3 151h0M209.6 133.1h0M199.7 136.2h0M166.6 154.5h0M180.7 134.7h0M159 164.1h0M178 150.6h0M159.1 155h0M179.7 154.4h0M176.9 142.1h0M187.9 135.7h0M171.9 155.4h0M199.7 141.8h0M150.2 154h0M159.5 147.8h0M174.2 143.7h0M169.1 133.6h0M156.4 158.6h0M195.1 136.9h0M181.6 156.4h0M168.1 160h0M165.4 137.9h0M180.1 150.2h0M172 137.5h0M163.9 157.1h0M174.3 136.9h0M186.5 132.7h0M168.5 166.6h0M180.2 155.2h0M177.5 164.1h0M175.8 148.8h0M189.2 145.4h0M153.2 144.3h0M164.5 163.1h0M176 157.7h0M192.7 142.3h0M192.2 132.8h0M171.1 134.6h0M174.6 142.2h0M170.3 151.2h0M162 153.9h0M187.1 146.4h0M180.6 134.7h0M176.7 142.7h0M174.4 148.6h0M174.2 126.5h0M164.4 147.3h0M177.3 146.4h0M163.9 161.7h0M180.1 147.3h0M191.8 145.4h0M163.8 170.6h0M161.4 145.5h0M184.2 122.5h0M165 139.5h0M196.7 145h0M159.1 155.1h0M180.3 158.5h0M173.4 153h0M195.7 140.9h0M183.3 155.5h0M134.3 167.8h0M178.1 140.8h0M169.1 153.4h0M150.3 154.9h0M185.8 167.8h0M141 139.4h0M194.1 142.4h0M161.5 178.4h0M170 144h0M186.6 125.2h0M179 143.1h0M187.2 127h0M173 146.1h0M186.7 155.8h0M205.6 152.5h0M161.5 169.7h0M157.2 168.8h0M165.3 141.6h0M145.6 136.3h0M151.8 142.2h0M184.8 150.3h0M168.1 140.7h0M181.1 149.2h0M185.8 135.3h0M186.5 142.5h0M181 155.3h0M192.1 148.1h0M175.2 135.8h0M202.9 141.1h0M171.3 167.9h0M157.3 159.8h0M172.7 166.6h0M170.7 178.2h0M170.6 163.3h0M145.5 141.7h0M191.5 142.3h0M194.4 147.2h0M164.3 152.5h0M172.2 143.1h0M175.7 138.7h0M173.6 146h0M225.6 139.6h0M192.6 148.9h0M185.4 158h0M178.4 154.7h0M157.1 156.2h0M171.5 155.8h0M162.3 134.5h0M186.6 150.4h0M183.1 145.8h0M184.4 142.5h0M174.7 149.6h0M175.6 151.5h0M145.5 163.7h0M197.7 154.7h0M204.4 147.2h0M150 165.6h0M169.7 152.6h0M159.7 152.4h0M187.6 160.2h0M184.4 150.7h0M176.1 161.1h0M156.6 149.5h0M152.2 140.7h0M153.5 138.2h0M164.7 154.9h0M169.3 165.5h0M153.3 145h0M175.8 155.3h0M171.5 153.9h0M169.8 142.7h0M172.8 143.5h0M178.4 146.2h0M171.6 147.3h0M180.5 153.5h0M173 155.6h0M165.3 146.9h0M183.3 154.6h0M173.4 176.2h0M191.4 131.5h0M160.8 148.4h0M179.1 160.9h0M187.9 150.7h0M180.6 141.9h0M193.6 164.5h0M157.1 145.2h0M165.7 133.6h0M157.3 162.9h0M169.5 161.4h0M178.7 152.6h0M190.5 139.9h0M182 130.8h0M186.3 136.1h0M186.6 156.7h0M184.4 147.7h0M174 163.7h0M190.7 144.8h0M187.9 135.4h0M172.3 150.4h0M173.9 161.3h0M171.6 150.3h0M164.8 165.6h0M188.9 149.7h0M174.5 160.8h0M152.3 137.2h0M165.7 158.2h0M184.6 138.7h0M203.3 143.2h0M164.8 174.3h0M155.7 164.9h0M152.2 168.5h0M183.4 151.5h0M189.4 145.1h0M177.5 148h0M170.9 146.5h0M163.9 152h0M174.7 156.2h0M167 157h0M171.6 165.1h0M172.2 149.8h0M168.8 143.5h0M180.1 144.9h0M183.7 157.9h0M159.6 134.1h0M166.3 162.8h0M176 155.7h0M169 145.4h0M182.6 162.9h0M202.7 134h0M174.7 150.6h0M204.7 141.7h0M167.8 160h0M177.1 156.6h0M152.7 143.5h0M162 140.9h0M172.4 162.1h0M170.1 151.3h0M176.1 140.6h0M172 144.7h0M161.2 149.4h0M168.5 160.8h0M175.9 139h0M172.1 174.5h0M160.4 143.6h0M180 139h0M182.1 151.7h0M181.6 147.7h0M162.1 169.1h0M172.9 141.8h0M157 156.6h0M181.1 147.9h0M180.7 136.2h0M148 174.9h0M177.6 151.1h0M183.5 145.6h0M191.5 139.3h0M163.9 121.9h0M156.3 159.8h0M148.4 142.5h0M182.8 141.6h0M175.7 153.3h0M196.4 138.5h0M197.4 131.6h0M174.9 127.8h0M168.5 148.2h0M192.6 147.4h0M189.9 137h0M185.6 153.9h0M175 155.1h0M176.9 140.8h0M187.5 141h0M165.2 158.4h0M202.3 155.1h0M157.1 145.3h0M174.2 171.9h0M156.3 147.2h0M146.9 161.2h0M171.9 139.2h0M181.1 148.9h0M155.5 153.1h0M166.5 160.1h0M172.3 153h0M184.3 152.5h0M168.4 169.3h0M159.9 143.2h0M181.2 138.7h0M161.4 164.3h0M173.6 150.2h0M183.1 164.6h0M159.5 152.8h0M179.5 136.9h0M152.1 149.9h0M170.6 129.9h0M193.2 131.2h0M190.4 143.7h0M196.3 150.5h0M168.1 148.3h0M187.2 127.7h0M209.6 147.9h0M174.1 144.2h0M172.1 123.4h0M161.8 132h0M199.5 126.1h0M173.8 156.9h0M204.6 140.6h0M178.5 163h0M194.9 133h0M148.7 154.2h0M179.5 132h0M162.9 170.2h0M189.9 115.7h0M154.4 142.8h0M120.7 158.9h0M173.4 155.9h0M156.7 145.1h0M207.8 133.5h0M181.6 128.8h0M177.4 133.3h0M165.7 134.7h0M190.1 148.7h0M161.5 148h0M167.3 136h0M176.5 152.5h0M187.9 148.8h0M172 145.3h0M178 175.5h0M166.3 148.8h0M188.5 143h0M170.4 158.2h0M177 139.5h0M177.8 146.3h0M141.5 157.5h0M189.8 158.3h0M180.2 147.4h0M167.5 146.6h0M186.2 152h0M176.5 159h0M171.2 138.1h0M180.2 142h0M173.1 146.5h0M156.6 148.4h0M178.1 151.2h0M188.9 151.4h0M201.2 145.4h0M188.4 155.1h0M188.6 139.2h0M171 174.2h0M184.9 151.1h0M156.7 145.9h0M188.3 133.8h0M173.6 148.2h0M176.3 150.5h0M149 134.9h0M196.1 163.5h0M141.9 153.2h0M193 142.4h0M179.1 154.7h0M184.4 152.2h0M194.9 131.9h0M170.3 164h0M188.3 127.9h0M176.4 156.9h0M177.6 138.9h0M180.5 142.3h0M198.7 137.5h0M139.5 144.7h0M168.3 154.3h0M173.2 154.4h0M155.7 128.4h0M180.6 152.8h0M168 154.8h0M175.9 147.4h0M156.7 143.9h0M162.6 168.6h0M160.9 155.5h0M172 131.8h0M176.6 151.5h0M190.2 151.5h0M181.6 152.4h0M179.2 156.3h0M174 134.3h0M203 131.3h0M190.4 152.9h0M189.1 138.3h0M181.7 162.4h0M173.7 184.9h0M207 141.9h0M167 143.9h0M175.9 157.9h0M178.7 152.5h0M174.7 153.9h0M163.9 138.1h0M179.9 144.7h0M195.4 158.6h0M178.8 148.3h0M204.9 147h0M180.8 166.4h0M165.8 139h0M190.4 148.9h0M180.9 141.3h0M183.7 141.5h0M208.1 137.8h0M168.4 147.1h0M185.6 137.3h0M146.7 147.6h0M154.4 161h0M141.7 172.3h0M206.1 130.8h0M127.8 164.3h0M135 159.4h0M145.3 175.2h0M131.5 181.3h0M138.2 168.4h0M180.2 142.5h0M138.2 166.5h0M132.4 167h0M129.4 176.1h0M190.1 138.6h0M154.6 165.9h0M88.1 185.8h0M124.5 180.6h0M154.9 152.9h0M148 165.2h0M148.9 159.3h0M179.4 142.3h0M179.4 145.1h0M146.9 155.3h0M162.7 146.7h0M123.5 170.1h0M162.3 152.1h0M166.5 152.8h0M108.7 176.9h0M161.2 171.7h0M164.2 152.2h0M148.8 175.1h0M108.5 155.1h0M160.4 159.4h0M158.6 164h0M169 162.2h0M94.9 201.7h0M170.3 135.8h0M148.8 162.5h0M156.7 150.4h0M160.6 168.6h0M123.9 153.2h0M153.8 158.5h0M174.6 159.7h0M160.1 155.7h0M148.4 153.7h0M158.8 154.6h0M148 168.5h0M119.1 180.8h0M150.7 146.8h0M177.1 159h0M131.4 165.4h0M131.3 173.5h0M162.1 159.9h0M163.7 149.1h0M143.2 153.8h0M133.3 149.6h0M151.8 150h0M158.1 156.4h0M139.8 169.5h0M123 162.1h0M198.1 147.7h0M122.9 140.4h0M183.3 150.9h0M154.9 170.7h0M144.2 159h0M207.4 140.3h0M149.8 175.9h0M139.4 151.2h0M112.9 195h0M153.7 165.5h0M135.4 166.7h0M127.9 179.9h0M162.1 142.4h0M142.1 148.6h0M163.3 143.6h0M167.7 142.5h0M165.2 181.9h0M154.4 152.5h0M143.9 172.8h0M203.3 127.8h0M172.8 144.3h0M175.4 149.1h0M119.7 192.7h0M157.7 137.7h0M154.1 166.2h0M151.3 150.4h0M123.8 171.6h0M181.6 132.9h0M177.4 151.9h0M118.3 164.9h0M144.6 159.6h0M130.2 190.5h0M129.3 170.3h0M193.6 141.4h0M167 150.6h0M129 179.8h0M141.5 171.5h0M176.7 163.9h0M164 157h0M105.9 176.9h0M155.6 151.5h0M114 172.4h0M165.1 134.3h0M133.1 179.3h0M153.9 179.8h0M192.4 138.9h0M182.8 134.5h0M142.9 176.6h0M191.3 132.2h0M152.9 152.5h0M170.4 156.8h0M165.1 161h0M132.3 149.9h0M139 172.2h0M172.4 149.6h0M130.4 166.6h0M100.5 186.6h0M187.2 137.4h0M126.9 175.4h0M160.4 148.8h0M149.5 169.7h0M131 185h0M142.2 173.4h0M111.4 186.5h0M151.9 171h0M121.6 158.9h0M157.6 170.5h0M95.4 199.8h0M146.1 194.7h0M165.1 146.9h0M158.7 157.7h0M150.1 164.4h0M172.7 133.3h0M162.2 169.3h0M141.6 180.4h0M94.6 173.3h0M124.5 173.8h0M118.4 167.5h0M166.6 142.6h0M162.4 149.8h0M163.4 175.3h0M143.7 159.3h0M183.3 157.7h0M163.7 170.2h0M144.9 173h0M131.5 181.6h0M194.7 150.2h0M127.7 182.9h0M171.1 140.3h0M154.5 159.3h0M189.6 125.2h0M165.5 155.8h0M130.6 159.3h0M156.6 182.3h0M122.4 145.4h0M153.8 169.7h0M165.5 166.9h0M193 159h0M132.3 152.2h0M126.5 183h0M137.3 168.9h0M121.4 151.8h0M212.8 123.5h0M185.4 163.1h0M161.6 165.8h0M117.6 188.3h0M137 172.4h0M164.8 163h0M149.2 191.4h0M134.3 179.4h0M119.2 178.5h0M154 161.4h0M167.6 157.7h0M153.2 163.3h0M119.8 178.7h0M134.8 164.9h0M150 173.3h0M154.2 162.3h0M166.5 165h0M157.7 154.7h0M155.9 134.5h0M122.2 197.5h0M178.4 156.5h0M138.3 170.1h0M140.2 180.5h0M138.1 166.8h0M164.6 133.8h0M135.2 170.7h0M161.5 150.2h0M179.4 161.9h0M131.6 181.6h0M168.3 146.4h0M128 166.8h0M159.4 161h0M154.2 149.7h0M152 165.3h0M161.1 167.6h0M164.5 157.5h0M162.4 169.5h0M165.9 158.8h0M125.5 169.5h0M186.3 145.7h0M179.1 169.5h0M182.6 142.2h0M172.2 167h0M166.6 131.9h0M206.1 134.1h0M190.9 158.4h0M181.2 137.9h0M163.6 156.8h0M164.5 148.8h0M168.1 159h0M153.7 164.8h0M130.3 164.3h0M170 158.2h0M123.2 178.6h0M173.2 130h0M167.3 163.4h0M137.5 157.8h0M170.3 164.6h0M110.6 174.9h0M149.7 176.4h0M142.6 167.8h0M142.2 182.8h0M182.7 129h0M141.6 159.8h0M161 160.5h0M153.9 169.5h0M174.1 154.5h0M148.4 182.1h0M128 163.7h0M168.2 158.2h0M137.5 172.2h0M143.7 167.7h0M183.5 126h0M166.3 152.5h0M163.1 140.2h0M193.8 153.1h0M174.2 164.3h0M174.1 155.1h0M184.6 149.9h0M156.4 159.9h0M125.8 153.4h0M134.8 155.9h0M125.3 169.9h0M166.8 153.3h0M151.4 150.1h0M149.9 154.9h0M98.9 154.4h0M154.5 173h0M136.7 159.4h0M186.5 124.5h0M181 131.9h0M147.2 165.7h0M153.7 165.4h0M160.7 130h0M141.1 181.1h0M138.8 191.3h0M172.8 151.6h0M142.4 159.5h0M172.7 154.9h0M129 173.4h0M114.4 190.9h0M181.5 140.8h0M183 130.7h0M137 174.1h0M148.6 144.5h0M142.4 164.7h0M143.1 161.9h0M167.1 174.7h0M136.1 184.7h0M103.4 184.3h0M201.8 149.7h0M172.8 163.1h0M131.4 165.3h0M127 152.2h0M155.9 170.8h0M183.7 134.6h0M151.5 167.7h0M157.7 169.3h0M142.5 175h0M132.3 170.3h0M156.7 145.7h0M196.8 141.2h0M161.2 134.2h0M162.8 156.4h0M153.4 164.1h0M161.3 160.8h0M172.2 147.3h0M141.7 154.1h0M198.5 134.8h0M154.1 163.1h0M140.1 160.2h0M181.8 130.5h0M178.1 136.8h0M164.4 143.4h0M154.2 194.9h0M152.9 144.4h0M181.1 132.7h0M136.9 145.2h0M140.2 189.6h0M198 145.4h0M144.6 151.8h0M142.7 164.2h0M130.6 163.5h0M123 185.8h0M146.3 178.9h0M169.7 161.8h0M163 150.2h0M153 156.7h0M148.9 196h0M171.6 137.4h0M163.8 162.6h0M160.4 134h0M169.9 147.8h0M122.1 179.1h0M188.7 141h0M175.2 161.1h0M97.9 182.7h0M183 161.3h0M144.9 169.3h0M169.3 127.5h0M146.9 162.9h0M148.9 163.4h0M126.3 165.9h0M156.7 163.1h0M128.2 175.4h0M144.5 149.5h0M144.8 164.9h0M182.1 134h0M125.1 153.5h0M116.5 173.4h0M144.4 157.6h0M152.3 155.9h0M176.1 146.6h0M124.9 193.9h0M110.1 194h0M124.5 163.1h0M151.1 168.6h0M160.4 157.4h0M173.3 148.9h0M150.7 163.4h0M146.6 168.3h0M153.6 170h0M128.9 163.9h0M137.1 189.6h0M173.4 153.3h0M147.5 177.6h0M101.6 202.6h0M135.6 182.3h0M168.6 156.4h0M145.1 167.4h0M143.4 156.9h0M155.6 132.1h0M130.7 192.8h0M142.6 173.9h0M159.3 130.7h0M172.2 168.3h0M167.6 151.7h0M142 176.4h0M141.2 162.6h0M100 173.1h0M144 144.9h0M148.3 171.8h0M139.1 172.1h0M132.4 178.8h0M183.1 151.8h0M146.3 149.1h0M168.2 150h0M132.2 155.3h0M187.6 160.9h0M169.5 136.1h0M149.3 135.2h0M158.6 173h0M154.5 152.2h0M160.7 151.8h0M188.1 153.7h0M131.6 154.2h0M151.5 159.8h0M168.1 142.1h0M158.3 149.8h0M129.2 177h0M158.9 127.9h0M145.3 158.6h0M135.8 165.4h0M126.6 161.8h0M144.1 162h0M152.9 164h0M125.5 193.8h0M161.2 154.2h0M187.8 161.8h0M160.3 165.3h0M130.9 161.1h0M146.7 162.9h0M186.7 153.9h0M149.4 165.1h0M156.2 157h0M149.9 156.2h0M135 183.6h0M151.7 178h0M122 174.3h0M133.1 154.4h0M166.3 132.8h0M99.4 176h0M125.3 138.7h0M137.8 166.7h0M187.5 137.5h0M179.3 152.5h0M171.9 164.5h0M164.8 160.4h0M172.8 131.8h0M110.3 177h0M153.5 174.3h0M180.6 140.6h0M185.8 136.5h0M158.2 153.2h0M140.1 164.2h0M117 176.7h0M150.8 167.8h0M162.3 148.4h0M151.1 149.7h0M172 153.5h0M176 169.2h0M157 180.9h0M135 137h0M101.9 201.8h0M129.8 150.3h0M127.1 171h0M129.2 178.8h0M164 166.3h0M160.2 149.5h0M161.6 128.8h0M127.1 170.3h0M146.7 166h0M129.8 159.4h0M163.4 167.4h0M198.2 120.9h0M113.1 169.9h0M138.6 155.8h0M164.1 147.4h0M189.3 138.5h0M158.2 150.6h0M146 172.4h0M158.9 161.4h0M178.5 127.2h0M132.4 185.2h0M153.8 145.1h0M168.9 148h0M107 191.1h0M150.2 168.1h0M165.8 164.1h0M169.5 156h0M160.4 144.9h0M156.9 166.3h0M163.1 171h0M147.8 170.9h0M139.1 172.6h0M159.5 143.1h0M141.9 185h0M124.3 194.4h0M132.5 183.8h0M141.6 171.7h0M171.5 160.8h0M155.2 167h0M209.6 136.4h0M129.5 159.5h0M150.8 172.8h0M94.7 195.3h0M189.7 139.3h0M139.6 157.3h0M141.4 169.4h0M123 188.6h0M202 132.2h0M146.5 156.8h0M145 163.4h0M143.5 178.2h0M153 194.5h0M162.2 154.1h0M140.4 143.2h0M170.5 171.8h0M156.9 150.6h0M119.1 166.8h0M159.3 163.1h0M152.5 174h0M149.7 160.6h0M191.5 153.7h0M132.1 186h0M131.2 167.3h0M136.9 163.2h0M169.1 169.9h0M164.2 150.1h0M129.9 164.2h0M168.3 160h0M164.6 159.3h0M111.6 181.3h0M136.2 162.8h0M168.8 158.6h0M177.3 163.3h0M156.5 163.1h0M165.3 131.4h0M136.4 169.2h0M150.9 147.3h0M198.8 139.6h0M153.1 141h0M165.3 161.5h0M158.3 164.9h0M154.9 173.2h0M121.8 179.3h0M157.3 191h0M121.8 167.5h0M178.9 160.2h0M136.5 170.8h0M140.7 171.2h0M119.8 169.5h0M171.5 144.5h0M134.2 176.3h0M144.8 150.1h0M139.2 161.6h0M114.8 173.7h0M184.6 145.6h0M120.5 166.1h0M153.9 144.5h0M136.1 163.9h0M161.4 171.5h0M196.3 130.1h0M140.5 177.9h0M146.5 183.9h0M139.8 160.5h0M160.5 146.7h0M116.2 176.9h0M174.1 145.4h0M147.3 155.5h0M136.7 173.2h0M175.4 142.3h0M135.1 168.6h0M140.4 164.3h0M171.4 143.3h0M151 169h0M141.3 171.7h0M104 185.7h0M136.3 153.2h0M145.9 151.8h0M122.9 161.2h0M173.1 139.5h0M136.4 149.7h0M139 154.3h0M179.8 161.2h0M159.3 163h0M172.4 146.2h0M128.7 192.8h0M154.5 170.2h0M170.4 172.2h0M150.2 143.3h0M163.7 157h0M200.7 153.3h0M149.4 172.9h0M138.7 162.8h0M166.1 148.4h0M137.2 163.3h0M150 161.9h0M107.1 169.8h0M159.6 161.7h0M193.4 140.8h0M97.2 171.2h0M136 153.9h0M167.7 168.9h0M128.7 178.3h0M171.2 124.8h0M157.8 145.9h0M144.8 167.2h0M132.2 172.3h0M165.1 154.2h0M164.7 183.8h0M139 162.8h0M127.1 150.4h0M155.7 156.3h0M168.2 155.3h0M143.4 169.7h0M131.7 177.3h0M166.6 148.5h0M115.4 172.5h0M188 170.6h0M174 168.6h0M125.9 149.8h0M189.7 149.8h0M115.3 161.5h0M136.2 138.7h0M140.6 175h0M138.9 190.3h0M132.4 191.4h0M178.3 146.6h0M146.6 163.1h0M147 165.3h0M152.8 140.2h0M132.9 177.6h0M153.6 152.3h0M167.8 156.5h0M154.1 168.4h0M169.4 147.4h0M158.4 180.3h0M124.4 165h0M163.9 161h0M146.1 167.6h0M140.9 168.1h0M124.9 183.1h0M194.1 136.5h0M100.3 184.2h0M140.6 156.6h0M126.5 165h0M149.8 148.6h0M166.5 165.7h0M127 184.3h0M157.6 163.4h0M142.2 165.8h0M161.9 143.7h0M122.1 172.4h0M145.1 179.1h0M126 180.4h0M111.9 177.9h0M163 155.7h0M188.2 150.1h0M180 140.6h0M159.5 162.8h0M88.8 208.8h0M116.2 178.4h0M152.7 169.8h0M161.2 169.2h0M141.9 148.5h0M158.8 163.1h0M169.5 153.8h0M121 169.2h0M154 151.9h0M146.5 171.9h0M117 169.7h0M185.6 145h0M185.4 150h0M133.2 160.3h0M159.3 138.9h0M169.5 145.6h0M146.1 175.9h0M149 163.4h0M161.9 145.3h0M164.3 169.7h0M148.3 134.3h0M166.1 164.8h0M176.2 140.9h0M162.6 166.4h0M171 143h0M131.4 178.7h0M149.2 153.9h0M186.1 152.7h0M151.1 164.2h0M115.8 201.5h0M173.1 135.7h0M146.6 133.3h0M136.4 187.9h0M172.2 163.9h0M155.9 167.4h0M177.8 122h0M146.7 166h0M164 140.8h0M152.1 163.2h0M164.1 154.1h0M182.1 139.7h0M108.8 180h0M192.6 161.7h0M145.7 172.2h0M156.4 156.4h0M200.7 142.1h0M163 168.4h0M141.9 165.8h0M160.3 141.1h0M168.5 146.1h0M159.2 164.4h0M162.7 154.2h0M160.4 152.3h0M124.2 178.1h0M111.6 166.3h0M133.2 178.8h0M144 171.3h0M122.5 173.6h0M115.1 171.3h0M160.8 163.7h0M195.7 158.7h0M177.2 139h0M138.1 163.6h0M140.5 131.8h0M179.8 166.8h0M119.1 193.1h0M132.8 172.9h0M118.3 182.5h0M119.2 183.9h0M122.7 167.6h0M191.7 147.7h0M131.4 147.2h0M146.8 162.2h0M155.1 172.9h0M115 189.2h0M178.1 138.6h0M158.9 175.1h0M86 197.1h0M159.6 155h0M168.1 149.5h0M117.7 163.2h0M140.9 168.2h0M136.8 173.8h0M180.6 153.8h0M129.1 168.4h0M149.6 157.5h0M172.6 147.4h0M165.5 153.2h0M128.7 180.9h0M138.9 180h0M150 157.5h0M170.1 135.1h0M127.5 170.1h0M132.4 186.5h0M137.5 157.3h0M108.5 190.6h0M137.6 159.6h0M123.7 167.3h0M175.7 153.3h0M160.3 148.5h0M157 159.3h0M134 156.5h0M184.5 171.4h0M163.7 157.1h0M129.5 157.1h0M141.8 179.8h0M169.2 147.2h0M151 190.6h0M179.7 146.8h0M169.7 155.8h0M162.6 149.8h0M140.2 168.7h0M137.5 167.5h0M179.3 131.6h0M156.4 173.4h0M134.7 170.3h0M177.5 157.2h0M146.4 150.4h0M126.9 171.8h0M139.9 180.8h0M149.3 172.3h0M175.5 118.7h0M137.9 174.4h0M163.3 174.3h0M115.1 158.2h0M125.9 149.9h0M138.7 174.5h0M162.4 127.9h0M158.2 175.1h0M132.2 153.1h0M161.5 167.7h0M147.8 171h0M150.4 154.1h0M159.4 178.9h0M152.6 159.9h0M141.8 171.5h0M102.8 187h0M173 140.7h0M109.2 164.4h0M145.3 170.2h0M150.7 164.7h0M142.3 150.1h0M138.4 169h0M148.8 146.4h0M97.7 168h0M136.4 162.1h0M193.3 143.4h0M118.6 184h0M175.3 146.6h0M146.7 151.6h0M138.6 158.1h0M124.7 161.2h0M183.9 137.9h0M158.4 157.8h0M136.4 179.5h0M164.2 140.1h0M168.1 159.8h0M160.5 161.9h0M140.1 166.8h0M134.8 162.4h0M171 166.3h0M138.7 152.3h0M122.3 187.7h0M152.6 163h0M172 159.2h0M187.6 146h0M184 146.8h0M132.6 175.3h0M168.9 149.7h0M159.1 149.4h0M137.3 144.5h0M145.3 140.5h0M189.3 136.2h0M125.8 142.8h0M126.7 180.3h0M163.4 141.5h0M109.2 171.5h0M160.2 152.7h0M156.3 162.8h0M136.7 168.9h0M182.8 139.2h0M113 167.4h0M157.9 152.4h0M142.6 172.9h0M159.3 176.2h0M186.8 146.7h0M119 160.8h0M139.2 176.8h0M129.3 178.2h0M133 193h0M144.9 162.8h0M129.8 175.6h0M173.1 155h0M118.6 175.6h0M108.1 160.6h0M150 137.5h0M170.5 164.4h0M132.7 165.8h0M175.3 149h0M117.3 176.4h0M174.9 113.6h0M145.5 174.1h0M151.8 164.4h0M174.2 144.7h0M168.3 151.7h0M163.7 165.3h0M157.1 166.9h0M211.8 134h0M167.1 151h0M182.1 161.2h0M165.3 159.7h0M148 156.5h0M147 175.2h0M141.1 168.5h0M136.1 163.4h0M180.6 162.7h0M131.4 165.9h0M183.1 152.5h0M133.3 185.4h0M136 152.8h0M161.1 142.5h0M177.5 157.6h0M137.3 171.1h0M93.5 176.8h0M147.5 161.8h0M137.3 131.1h0M157.5 168.2h0M145.7 166.9h0M153.8 162.3h0M139.9 141.4h0M196.8 153.3h0M168.4 144.3h0M138.4 176.9h0M201.4 145.7h0M164 149.9h0M107.4 184.2h0M141.2 169.9h0M143.5 149.9h0M189.9 141.6h0M131.2 190.5h0M157.5 151.2h0M160.7 136.8h0M140.1 158.3h0M121 163.4h0M133 193.9h0M149.4 165.6h0M129.6 189.1h0M181.2 160.2h0M150.5 168h0M184.8 150.2h0M104.6 178h0M165.5 152.2h0M163.6 147.8h0M149.4 134.7h0M157.9 149.4h0M190.2 170h0M164.3 137h0M131.5 150.7h0M129.1 174.1h0M152.8 145.3h0M164.2 172.6h0M160.7 165.8h0M145.9 150.6h0M145.8 167.1h0M169.2 140.4h0M132.7 169.6h0M192.1 158.8h0M115.4 160.1h0M152.5 139.2h0M131.1 174.4h0M155 171.6h0M146.3 155.7h0M158.9 176.5h0M129.4 177.4h0M195.2 137.4h0M138.3 174.8h0M157.8 126.4h0M156.3 172.8h0M138.5 180.7h0M146.3 167.7h0M127.7 192.3h0M147 153.5h0M154.8 186.2h0M186.8 166.6h0M155.2 172.7h0M138 168.2h0M125.5 176.2h0M120.7 158.4h0M157.2 165.8h0M142 180.5h0M167.8 160.3h0M139.6 174h0M152.6 148.8h0M173.8 160.2h0M180.7 139.5h0M198.2 149.4h0M163.8 151.4h0M191.6 157.3h0M125.6 149.4h0M159.2 155.8h0M168.6 149h0M191.5 118.8h0M119.4 167.9h0M153.6 171.1h0M117.4 214.1h0M120.6 176.9h0M169.9 144.4h0M145.6 171.7h0M127.3 189.2h0M153.9 196.7h0M136.9 178.8h0M109.5 187h0M123 177.6h0M143.1 154.3h0M157.4 156.2h0M129.9 179.9h0M176.3 133.1h0M147.8 165.4h0M149.1 162.5h0M126.2 170.1h0M177.1 153.6h0M140.3 161.4h0M128.8 189.4h0M147.4 168.4h0M192.9 139.2h0M184.4 149.2h0M163.1 162.1h0M169.2 146.8h0M142 170.7h0M145 169.7h0M132.1 169.9h0M151.9 177.3h0M140.3 169.1h0M153.5 160.1h0M148.8 183.9h0M163.8 169.3h0M128.7 173.3h0M149 136h0M152.1 178.2h0M150 144.7h0M190.8 150.2h0M176.3 171h0M203.2 136.1h0M155 156.5h0M142.4 168h0M143.5 149.3h0M150.1 168.4h0M115.9 180.3h0M145.6 170.2h0M140.7 164h0M139.3 166.7h0M129.1 196.3h0M149.8 164.6h0M121.7 170.5h0M140.1 165.8h0M123.1 163.5h0M130.9 158.5h0M126 157.4h0M151.5 146.7h0M178.7 148.9h0M183.9 161.2h0M148.7 149.4h0M144.8 170h0M173.1 142.4h0M134 185.7h0M142.9 156.4h0M138.2 176h0M137 153.1h0M153.3 162.8h0M131.6 164.5h0M124.9 176.9h0M132.8 165.3h0M169.3 161.9h0M131.9 167.9h0M155.3 173.3h0M158.3 169.9h0M152.2 136.5h0M112 176.3h0M117.9 161.4h0M187.4 125h0M161.1 155.6h0M171.9 152.4h0M125 150.6h0M127.8 163.8h0M167.9 143.2h0M154.7 142.8h0M166.2 151.9h0M143.8 175h0M160.4 152.9h0M123.3 162.5h0M108 199.2h0M156.4 173.5h0M181.1 165.3h0M182.1 130.3h0M159.8 139.3h0M166.2 156.5h0M134.2 168.4h0M111.3 158.5h0M149.5 142h0M129.9 169.6h0M158.7 167.5h0M158.1 147.4h0M120.3 177.9h0M178.4 160.5h0M153.8 181.3h0M158.7 144.9h0M142.1 174.7h0M131.1 162.7h0M188.7 159.9h0M166.4 141.6h0M161.7 149.9h0M120.7 150.5h0M169.6 147.9h0M153.7 156.2h0M194.3 161.5h0M175.4 143.2h0M97.5 181.9h0M146.1 164.6h0M185 137.3h0M193 138.2h0M173.9 150.1h0M98.2 192.2h0M163.2 160.4h0M163.9 163.1h0M194.7 136.1h0M151.8 173.6h0M166.7 162.5h0M203.8 141.2h0M212.1 145.4h0M162.5 147.7h0M142.4 178.2h0M135.9 180.1h0M130.8 197.6h0M159.7 152.4h0M177.7 156.5h0M182.9 147.2h0M166.4 148.7h0M125.5 151.1h0M187.3 143.9h0M190.1 133.1h0M159.3 167.8h0M131.1 174.3h0M153.6 134.8h0M193.9 119.1h0M154 168.8h0M180 153.5h0M109.5 183.7h0M132.7 161h0M182.5 143.7h0M123.2 171.1h0M130.2 146.4h0M136.8 153.4h0M153.5 140.8h0M164.7 132.3h0M121.4 176.8h0M144.6 157.1h0M157.4 159.7h0M164.9 133.2h0M150.2 169.4h0M140.3 166.9h0M133.7 199.4h0M125.1 164.9h0M108 170.6h0M128.6 174.7h0M141.6 178.9h0M126.9 187.5h0M163.6 162.5h0M187.7 172.2h0M147 173.2h0M128.6 176.6h0M140.6 166.4h0M101.4 171.4h0M154.8 167.7h0M194.9 155.8h0M141.9 176.8h0M140.5 180.3h0M160 171.5h0M131.9 173.5h0M144.2 154h0M131 181.9h0M136.9 177.6h0M109.9 168.9h0M130.5 180h0M148 168.9h0M136.6 178.4h0M156.1 159.8h0M107.8 174.3h0M175.1 132.9h0M107.1 172.7h0M156 139.3h0M132 151.2h0M151.3 182.3h0M140.2 174.9h0M100 179h0M133.9 177.8h0M168.3 157.9h0M138.4 176.5h0M137.1 166.7h0M142.8 161.4h0M203.3 136.5h0M149.5 156.5h0M137.8 175.9h0M137 167.3h0M169.9 164.3h0M140.4 170.9h0M184.3 132.4h0M175.7 149.5h0M184.7 155.9h0M129.9 142h0M186.9 141.6h0M149 165.8h0M146.7 160.8h0M139.8 159.2h0M135.3 173.7h0M158 178.1h0M160.3 145.9h0M166.6 174.4h0M182.5 155.7h0M148.8 161.4h0M177.6 139.2h0M153.4 169.3h0M157.1 147.4h0M148.9 137.2h0M151.8 176.7h0M119.9 151.4h0M131.9 151.7h0M163.2 155.1h0M135.3 161.1h0M189.9 168.1h0M130.1 185.9h0M161.4 133.7h0M144.8 174.8h0M159.9 157.8h0M162.4 172.6h0M168.4 185.3h0M141.2 187.7h0M183.7 112.6h0M140.3 164.5h0M112.3 189.1h0M138.5 184h0M124.4 164.5h0M182.3 147.6h0M171.6 150h0M110.1 175.1h0M126.2 169h0M131.4 175.8h0M150.6 182.4h0M137.2 191h0M164.2 150.5h0M184.3 163h0M140.6 172h0M158.8 153.2h0M129 168.3h0M119.6 153.4h0M162.2 154.9h0M152.6 148.9h0M137.5 151.3h0M161.9 158h0M189.2 162.4h0M118.2 193.7h0M157.8 162.7h0M170.2 145h0M125.1 145.9h0M157.2 165.6h0M181.3 152.1h0M142.1 158.5h0M140.8 146.9h0M110.9 173.6h0M155.2 158.8h0M122.1 170.4h0M173.3 123.1h0M141.1 171.3h0M137.6 157.6h0M182.9 158.5h0M155.2 158.8h0M186.4 158.8h0M123.3 172.3h0M157.7 126.9h0M156.5 157.2h0M155.4 151.6h0M153.3 160.2h0M158.6 139.1h0M156.4 179h0M174.5 159.5h0M158.9 149.9h0M149.8 180.5h0M176.2 139.2h0M109.8 186.6h0M138.9 184.1h0M125.6 155h0M147.3 160.3h0M133.7 164.9h0M163.9 152.7h0M188.1 149.5h0M123.2 159h0M142.9 165.3h0M149.7 151.2h0M150.4 151.8h0M152.8 186h0M149.4 143.2h0M130.7 169.2h0M144.9 171.9h0M168.2 163.3h0M132.1 168.5h0M105.6 168.7h0M188.4 148.8h0M148.5 156.2h0M165.5 130.4h0M106.9 190h0M159.8 139.2h0M171.5 153.4h0M195 138.2h0M134.2 158.7h0M149 171h0M119.7 194.7h0M157 179.7h0M165.2 128h0M141.8 160.4h0M190.4 139.7h0M162.7 163.7h0M163.3 153.6h0M157.5 158.9h0M173.1 145.5h0M151.6 157.9h0M168.9 166.5h0M135.2 154.1h0M203.8 148.5h0M171.3 151.7h0M127.4 179h0M114.2 199.9h0M145.8 175.8h0M171.1 159.6h0M151.9 169.7h0M143.7 153.5h0M132.7 195.4h0M128.5 168.7h0M137.6 161.2h0M176.8 145.8h0M173.1 163.1h0M100.3 187.4h0M128.1 194.1h0M99.5 179.6h0M152.4 182.5h0M146.1 137.2h0M154.5 175.6h0M196.7 160.9h0M133.9 182.6h0M125.6 166.9h0M172.9 148.8h0M144.1 148.5h0M188 146.1h0M110.3 174.7h0M120 177h0M149.1 145h0M174 158.1h0M158.9 148.5h0M137.4 166.2h0M142.4 167.2h0M132.5 184.7h0M157.5 144.1h0M159.2 151.3h0M221.1 143.3h0M163 174.2h0M131.3 163.5h0M130.5 183.4h0M146.8 168.5h0M183.5 150.9h0M142.8 163.5h0M145.2 157h0M140.8 180.4h0M152.7 141.5h0M174 156h0M111.3 182h0M122.9 166h0M183.9 135.5h0M180.9 153.4h0M198.3 127.7h0M139.6 189.2h0M135.1 178.7h0M164.1 142.5h0M100.7 185h0M162.8 164.3h0M147.5 169.2h0M160.2 155h0M179.4 172.2h0M111.3 173.8h0M116 169.2h0M162.9 155.4h0M85.8 198.3h0M143.8 165h0M146.3 166.3h0M162.9 163.9h0M156.8 144.2h0M151.1 160.1h0M151.4 171.9h0M128 171.7h0M155.6 161.7h0M153.1 158.6h0M192.4 128.5h0M146.1 175h0M121 181.2h0M142.8 154h0M120.8 169.7h0M188.1 167h0M134.1 171.2h0M122.3 176.3h0M190.3 125.2h0M173.6 153.8h0M180.5 164.9h0M155.9 173.2h0M127.4 176.4h0M187.4 153.9h0M199.7 138.9h0M143.7 178.2h0M159.6 159.8h0M89.3 187h0M154.6 162h0M139.5 177.6h0M158.1 151.2h0M126.9 202.1h0M149.3 190.7h0M185.4 156.6h0M145.6 173.5h0M152.4 148.9h0M174 148.5h0M169.1 153.1h0M133 153.4h0M196.6 153.9h0M187.7 139.9h0M179.6 163h0M159.5 161.1h0M149 160.7h0M175.1 156.7h0M152.2 165.9h0M119.3 171.2h0M178 140.2h0M133.4 174h0M161.7 131.4h0M161.7 129.9h0M117.2 181.7h0M156 146.3h0M158.6 145.7h0M199.8 140.5h0M134.4 167.4h0M179.2 158h0M133 163.2h0M145.4 152.5h0M146 172.5h0M201.6 132.8h0M178.7 155.3h0M126.4 170.1h0M171 170.6h0M181.5 116.1h0M169.4 160.3h0M111.1 205.6h0M152.9 153.8h0M155.1 167.7h0M132.9 165.4h0M136.2 165h0M193.7 123.8h0M148.8 154.4h0M151.7 174.1h0M139.7 166.3h0M123.7 169.7h0M137.5 152.4h0M116.5 190.5h0M161.6 123.3h0M158.1 168.1h0M163.5 145h0M166.2 151.3h0M174.9 154.3h0M177.4 141h0M201.2 141h0M172 169.1h0M156.7 169.2h0M135.8 168.6h0M115.7 170h0M180.7 160.5h0M171.2 151.9h0M136 181.7h0M149.3 153.3h0M159 171.5h0M115 161.9h0M140.4 178.3h0M185.1 153.7h0M170.8 140.6h0M133 176.1h0M101.8 171.4h0M170.3 134.2h0M113.6 177.6h0M137.9 183.1h0M178.6 141.1h0M168.2 126.4h0M154.7 159.3h0M136.7 143.7h0M149.4 151.2h0M157.6 166.6h0M164 137.3h0M186.3 153.4h0M167.3 147.8h0M130.9 178.3h0M163.3 159.9h0M161.3 155.1h0M175.6 144.9h0M100 198.3h0M150.2 143.5h0M191.3 146.8h0M155.3 154.7h0M181.9 145.3h0M171.4 162.3h0M150.6 163.3h0M182 131.5h0M193.2 149.4h0M178.1 157.5h0M169.4 143.9h0M125.9 157.9h0M131.1 160.6h0M116.8 170.4h0M138.9 179.5h0M159 148.4h0M143.3 201h0M146.9 167.7h0M163.3 159.4h0M153.2 163.9h0M171.3 132.2h0M175 144.8h0M183.5 151.6h0M120.9 185.9h0M210.6 136.7h0M150.2 174.2h0M190.3 143.3h0M167.5 171h0M148.6 152.2h0M142.6 192.5h0M118 183.6h0M135.3 190.5h0M131.4 160h0M161.9 156.2h0M116.2 164.8h0M155.8 151.6h0M176.4 131h0M201.8 126.7h0M150.4 176.5h0M133.7 163.8h0M182.4 128.1h0M206.4 141.7h0M170.4 138.5h0M167.1 146.6h0M172.4 148.3h0M159.2 172.7h0M131.3 162.5h0M152.3 155.9h0M141.2 152.2h0M154.2 158.3h0M187.1 164.4h0M162.4 151.6h0M155 181h0M180.9 150h0M174.9 149.3h0M151 154.1h0M140.7 177.6h0M100.5 181.2h0M169.9 162h0M175.6 147h0M116 185.9h0M164.3 147h0M168.6 138.6h0M135.4 177.8h0M151 162.3h0M210.8 157.9h0M164.3 179.7h0M172.5 136.8h0M137.8 183.4h0M162.9 179h0M140.3 161.4h0M144.2 147.1h0M163.9 163.7h0M163.6 151.7h0M121.8 174.2h0M138.2 185.9h0M173.8 151h0M170.3 168.1h0M120 200h0M136 181.7h0M157.1 159.8h0M159.5 140h0M178.6 149.8h0M122.2 156.6h0M156.5 157.2h0M184.5 143.6h0M164.8 179.4h0M98.8 178.7h0M155.5 168.5h0M190.1 140.4h0M163 164.7h0M156.2 128.3h0M156 163.6h0M180.5 158.1h0M136 157.1h0M106.2 189h0M149.4 159.4h0M109.7 170.1h0M181.7 142.2h0M102.1 179.1h0M158.9 139h0M162.6 156.1h0M203.5 134.5h0M139.8 156.4h0M146.7 178.4h0M148.7 157.5h0M147.1 186.3h0M114.5 207.5h0M161.7 146.8h0M196.8 154.7h0M144.4 155.7h0M142.8 165.7h0M136.9 153.7h0M162.1 154.8h0M120.3 192.2h0M158.2 180.6h0M144.2 186.1h0M157.6 165h0M189.3 133h0M145.5 158.8h0M185.2 145h0M147.9 154.1h0M109 187.5h0M119.3 188.9h0M141.2 167.7h0M149.9 174.6h0M169.3 130.3h0M166.6 139.1h0M121.5 166.8h0M142.5 151.8h0M144.7 187.6h0M160.4 141.7h0M139.9 159.4h0M166.3 143.1h0M162.3 179.9h0M148.9 169.2h0M160.6 151.5h0M110.2 190.2h0M131.8 148.6h0M174.8 160.3h0M186.5 164.1h0M149.5 177.4h0M138 176.4h0M169.5 126.7h0M146.8 145.6h0M118.9 174.8h0M112.2 165.2h0M141.3 172.3h0M172.5 159h0M153.5 177h0M176 169.4h0M171.5 163.1h0M81.1 210.2h0M165.6 146.3h0M169.7 138.2h0M148.6 178.9h0M168.3 144.3h0M119.2 169.4h0M153.7 145.7h0M128.5 150.6h0M158.8 191.4h0M144.6 174.1h0M159.8 164.2h0M142.5 148.7h0M165.1 145.2h0M120.5 163.6h0M142.7 164.3h0M168.8 162.2h0M166.4 148.2h0M145.3 132.8h0M156.4 160.9h0M144.1 185.2h0M149 157.4h0M161.4 149.3h0M171.5 170.5h0M145.7 158.2h0M190.3 149.9h0M136 148.5h0M158.8 151.8h0M163.9 145.1h0M130.8 159h0M162.9 135.6h0M148.7 169.5h0M147.9 145.5h0M133.5 175.5h0M178 145.1h0M208.8 131.9h0M162.9 134.4h0M197.6 141.2h0M133.4 156.9h0M169.3 161.1h0M146.9 162.4h0M130.7 153.7h0M160.8 154.5h0M157.2 144.8h0M136.2 161.8h0M159.2 165h0M164.2 176.9h0M208.6 114.2h0M192.8 153.5h0M127.7 162.3h0M199.7 134.4h0M160.8 151.7h0M105 192.3h0M142.6 158.7h0M141.2 170.8h0M151.5 162.9h0M127.6 159.2h0M122.5 167.3h0M135.5 200h0M164.2 157.9h0M140 164.6h0M111.4 169.4h0M174.8 145.8h0M173.9 149.4h0M149.6 159.3h0M143.2 191.2h0M180.9 165.1h0M104.9 199.7h0M133.3 166.9h0M209.7 149.1h0M161.3 160h0M154.9 177.1h0M137.3 150.6h0M163.2 159.9h0M99.4 193.2h0M165.5 124.9h0M127.3 170.8h0M158.3 161.1h0M150.2 163.7h0M128.9 174.7h0M149.4 134.8h0M147.9 164.2h0M164.5 172.1h0M132.5 165.6h0M154.1 173.8h0M130 175.3h0M139.5 175.9h0M164.4 159.4h0M147.2 169.6h0M161.3 151.7h0M134.1 159.4h0M100.2 198.1h0M133.6 184.8h0M185.8 154.5h0M112.7 181.1h0M154 167.3h0M164.8 148.7h0M166.6 144.5h0M132.7 196.1h0M126.7 165h0M164.8 140.4h0M110.4 167.1h0M140.7 155.7h0M175.3 169.1h0M124.7 193.9h0M148.4 150.4h0M156.4 159.4h0M184.1 149h0M180.4 131.5h0M162.1 153.7h0M147.1 155h0M97.3 189.8h0M171.5 168.1h0M135.3 170.7h0M142.8 183.3h0M175.8 148.4h0M172.2 132.3h0M169.7 144.5h0M170.7 137.1h0M162.7 140.7h0M154 160.7h0M183.5 122.7h0M139.7 148.4h0M167.1 154.4h0M154.2 163.8h0M130.3 161.2h0M131.1 156.2h0M139.5 172.6h0M176.1 129.5h0M185.7 137.2h0M162.8 166.7h0M143.8 151.3h0M166.3 162.1h0M176.2 168.8h0M135 179.5h0M162.2 170.8h0M111.8 162.8h0M178.5 140.8h0M176.2 145.8h0M177.5 131.2h0M123.7 149.3h0M163.9 136.4h0M152.7 149.6h0M124.4 172.3h0M123.4 160.7h0M155.6 139.5h0M154 140.8h0M152.2 166.1h0M122.7 199.2h0M151.5 140.8h0M123.2 171.7h0M164.3 141.3h0M148.7 133.2h0M122.2 173.9h0M186.6 175.3h0M145.3 149.2h0M140.1 163.1h0M169.4 140.7h0M192 138.7h0M193.5 156.3h0M138.8 177.3h0M146.2 160.5h0M170 148.5h0M82.8 193.4h0M126.9 160.1h0M173.9 144.2h0M137.1 173.3h0M170.7 170.8h0M145 165.5h0M173 125h0M105.6 173.9h0M164 161.2h0M168.5 142.9h0M145.6 149.9h0M159.7 173.2h0M150.5 159.7h0M130.4 187.1h0M178.1 145.7h0M157.2 160.8h0M140.4 178.4h0M164.3 149.8h0M153 177.8h0M171.3 156.9h0M175.3 168.6h0M190.2 156.9h0M135.5 157.2h0M105.6 189h0M149.7 167.6h0M180.1 161.6h0M190.7 136h0M161.2 158.1h0M168.9 164.1h0M144 168h0M178 147.7h0M182.7 154h0M158 180.1h0M160.7 173h0M154.5 157.7h0M166.8 149.3h0M172.1 140.8h0M212.4 121.5h0M191.2 139.5h0M157.9 122.5h0M135.8 176.8h0M76.7 185.4h0M192 136.5h0M182 143.9h0M139.6 168.9h0M127.3 154.6h0M120.9 191.8h0M158.7 167.3h0M172.3 146.8h0M149.4 162.9h0M172.6 154.7h0M161.3 162.9h0M147.2 169h0M162.8 160h0M141.9 182.5h0M136.1 153.4h0M170.9 156.9h0M121.6 144.3h0M133.7 168h0M143.5 157h0M194.2 148.7h0M151.9 152.1h0M149.2 143.8h0M173 169.9h0M182.7 152.4h0M134.3 164.4h0M196 116.1h0M110.8 138.9h0M202 143.5h0M187.7 150.4h0M166.5 155.2h0M164.8 137.1h0M134.7 158.7h0M154.6 158.4h0M130.9 164.8h0M156.4 128.6h0M159.1 198.5h0M158.3 137.3h0M168.2 154.7h0M163.3 180.7h0M155.3 156.6h0M134.1 166h0M165.2 150.2h0M142.9 151.3h0M186.6 153.6h0M156.6 151.2h0M141 161h0M169.4 149.4h0M133.5 183.9h0M153.5 157.8h0M168.9 149.8h0M138 165h0M166.3 178.4h0M109.9 166.9h0M157.2 148.4h0M189.4 141.4h0M133.8 147.2h0M160.7 172.7h0M158.6 162.8h0M147.1 160.9h0M106.2 183.9h0M95.7 161.3h0M112.5 170.8h0M148.3 167h0M159.1 167h0M148.3 178.1h0M190.4 150.4h0M190.9 163.8h0M135.1 162.2h0M152.4 173.6h0M128.8 184.4h0M173.2 152.4h0M109.4 181.2h0M153.4 154.1h0M165.4 141.4h0M145.2 181.2h0M170.8 141.1h0M134.5 158.9h0M127 167.8h0M159.6 173.5h0M133.4 165.8h0M166.9 151.2h0M179.6 143.4h0M153.9 135.8h0M132.2 184.8h0M145.5 173.4h0M145.3 176.7h0M146.1 180h0M138.3 168.6h0M154.3 152.7h0M175.8 158.7h0M179.5 129.7h0M103.1 195.3h0M150.7 168.4h0M91.2 177.1h0M164.1 186.9h0M174.6 147.7h0M191.5 144.4h0M152.4 163.8h0M179.8 137h0M183.4 137.7h0M137.2 147.5h0M115.1 194.5h0M148.1 155.9h0M137.2 176.4h0M142.6 147.6h0M181.2 145.8h0M119.8 162.6h0M136 165h0M134 150.8h0M100.9 165.8h0M145.9 168.2h0M165.9 129h0M168.8 141.1h0M135.3 136.2h0M140.3 182.9h0M182.6 159.9h0M111.6 172.1h0M168.8 143.8h0M167.1 150.5h0M131.9 159.5h0M156.1 151.3h0M156.1 129.4h0M129.7 182.5h0M176 131.8h0M143.6 168.2h0M168.1 164.3h0M131.1 176.6h0M101.3 177.2h0M143.5 141.5h0M160.7 168.2h0M173.8 149.8h0M144.2 191.3h0M143.8 172.2h0M157.7 168.3h0M149.1 151.6h0M146.8 157.7h0M134.2 158.8h0M153 173.4h0M125.1 178h0M129.5 173.3h0M148.5 196.1h0M119.5 146h0M121.6 164.4h0M135.5 169.1h0M98.2 178.3h0M123.4 162.7h0M153.7 168.8h0M183.9 164.8h0M132.2 152.7h0M171.6 150.7h0M132.5 155.1h0M142.8 178.7h0M111.2 180.5h0M177.5 165.1h0M125.7 183.4h0M118.8 183.6h0M172.6 175.4h0M182.2 149.4h0M162.3 136.5h0M138.2 178.2h0M128.3 178.8h0M152.7 166.8h0M200 141.3h0M150.2 154.3h0M160.9 165.7h0M150.4 158.5h0M192.4 118.3h0M146.5 175.9h0M175.5 145.6h0M122.3 170.3h0M154.6 157.7h0M182.3 165.8h0M127.8 162.3h0M115.1 170.7h0M176.4 169.6h0M157.8 180.3h0M197.7 141.2h0M143.4 174.5h0M149.9 158.5h0M168.8 134.8h0M161.4 167.8h0M209.2 132.5h0M173.4 148.2h0M154.5 176.5h0M148.3 145.5h0M173.8 162.7h0M201.6 145.6h0M124.2 147.3h0M183.2 155.9h0M115.5 201.4h0M177.1 149.4h0M163.6 165h0M148.3 179.3h0M101.9 189.6h0M161.1 150h0M149.1 153.9h0M173.5 151.9h0M148.6 157.2h0M148.5 141.9h0M162.8 157.6h0M165.4 151.4h0M155.4 147.4h0M137.3 150h0M203.7 131.4h0M128.2 187.4h0M110.1 187.8h0M137.7 160.4h0M202 138h0M135.5 159.6h0M185.4 151.1h0M153.3 140h0M146.4 158.6h0M145.1 189.9h0M161 165.9h0M190.7 125.3h0M156.5 147.4h0M130.1 174.5h0M127.4 173.1h0M156.7 158.7h0M158.1 153.4h0M159.5 179.5h0M167.8 149.8h0M126.8 154h0M176.6 161.9h0M161.7 146.9h0M138.6 174.5h0M170.9 152h0M166.9 152.6h0M148 153.6h0M144.8 163.2h0M190.6 136.1h0M162 161.2h0M151.4 153.9h0M169.8 178.1h0M147.4 168.4h0M154.4 165.1h0M122 176.5h0M157.4 147.8h0M161.1 163.9h0M190.1 134.6h0M155.3 177.8h0M120.1 184.4h0M93.2 192.8h0M145.3 154.6h0M131.2 184.7h0M125.3 188h0M162.3 160.9h0M106.7 181.9h0M138.7 173h0M177.6 168.2h0M171.8 134.3h0M111.8 198.1h0M116 171.7h0M119.3 177.9h0M160.6 170.7h0M154.7 140.1h0M185.6 180.8h0M154.5 162.9h0M160 142.3h0M177.2 140.6h0M150.8 163.3h0M188.2 137.4h0M142.8 185.5h0M127.7 173.9h0M134.5 177.5h0M149.8 171.3h0M159.1 128.7h0M162 161.9h0M167.4 144.2h0M179.4 150.4h0M168.7 133.7h0M144.4 180.9h0M143.8 146.8h0M166.4 149h0M120.3 174.2h0M173.3 152.6h0M154.1 155.2h0M129.5 152h0M139.9 152.4h0M192.2 166.9h0M124.5 204.9h0M105.9 179.7h0M138.1 169.6h0M119 178h0M127.1 204.4h0M127.7 182.5h0M166.5 166.9h0M129.6 178.2h0M154.7 161h0M162.1 149.3h0M159.5 165.8h0M166.6 163.6h0M140 176.7h0M140.3 170.6h0M161.7 155.9h0M131.3 177.8h0M131.6 185.9h0M173.9 121.8h0M179.1 163.8h0M131.7 164.4h0M152 150.6h0M169.7 139.8h0M103.2 174.5h0M179.9 128.8h0M166.9 142.2h0M144.7 174.3h0M128 152.9h0M147.7 154.9h0M119.9 183h0M175.4 165.9h0M171.7 141.9h0M136.8 139.7h0M131.6 173.8h0M138.4 185.6h0M159.9 177.4h0M134.6 156.5h0M150.5 179.5h0M184.3 144.7h0M138.1 186.4h0M142.3 164.9h0M122.1 180.5h0M170.4 147.3h0M184.3 131.1h0M190.2 173.1h0M170.3 155.2h0M122.6 170.3h0M175.7 147.7h0M122.8 193.6h0M153.8 137.6h0M153.8 174.6h0M138.5 140.5h0M153.4 173.4h0M114 181.3h0M138.7 172.5h0M150.7 153.3h0M139.7 165.3h0M143.3 162.3h0M191.2 125h0M146.1 176.8h0M141.6 185h0M120.3 170.1h0M131.3 160.5h0M125.6 169.4h0M171.1 135.7h0M145.2 149.3h0M197.4 127.2h0M139.6 177.7h0M181.2 175.8h0M116.6 190.9h0M168.6 149.2h0M127.2 193.6h0M127.1 161.8h0M111.8 159.3h0M186.2 146h0M155.5 158.8h0M149.1 164.7h0M152.9 148.7h0M185.6 155.1h0M129.3 188.5h0M135.1 147.3h0M141.4 172.8h0M164.6 156h0M162.1 173.5h0M141.3 144.8h0M173.2 121.5h0M178.6 145.8h0M155.1 164.1h0M197.2 136.5h0M155.4 160.9h0M166.6 161h0M156.9 151.8h0M150.2 153.8h0M190.8 149.3h0M157.4 148.8h0M162.4 167.3h0M180.4 136.5h0M169.6 148.5h0M147 165.5h0M135 175.3h0M188.8 151.1h0M167.5 189h0M120.2 178.3h0M127 175.4h0M187.1 141.3h0M159.9 160.7h0M145.2 168.3h0M117.4 166.7h0M157.8 145.7h0M160.5 158.3h0M170.4 143.5h0M187.5 157.1h0M202.6 133.7h0M185.5 151h0M118.7 175.1h0M127.9 196h0M129 166.9h0M106.3 171.7h0M126.7 195.2h0M185.3 150.3h0M120.3 172.3h0M170.1 151h0M177.9 154.7h0M152.6 156.6h0M151.9 174.1h0M140.9 179.5h0M146.3 188.8h0M145.3 151.5h0M150.6 158.3h0M144 150.6h0M135.1 172.2h0M127.7 189.6h0M132.3 164.3h0M125.6 181.4h0M151 160.4h0M116.2 194h0M125 172.3h0M137.3 161.6h0M141 157.8h0M168.9 153.4h0M127.8 174.7h0M104.6 152.4h0M161.9 139.2h0M182.9 171.4h0M173.2 136.2h0M156.7 140.4h0M155.1 140.5h0M123.8 163h0M167.7 156.5h0M155.9 173h0M190.3 164h0M175.2 159h0M132.3 180.9h0M89 182.1h0M227 125.4h0M143.2 184.9h0M145 170.3h0M138.8 183.4h0M167.6 138.6h0M159.5 162.5h0M205 142.7h0M160.3 131.3h0M147.7 146.2h0M151.1 136.3h0M190.7 149.4h0M153.4 175.7h0M145.8 149.4h0M161.1 185.5h0M114.2 148.7h0M162.6 157.5h0M145.8 163.2h0M113.4 190.2h0M152.6 179.8h0M152.6 157.1h0M152.9 172.3h0M163.9 135.3h0M153.5 155.9h0M137.8 193.7h0M134.5 157.8h0M147.6 165.8h0M148.3 163.3h0M177.3 169.5h0M155.1 153.8h0M147.3 157.5h0M133.1 173h0M142.2 158h0M162.8 154.3h0M170 154.4h0M127.9 147h0M189.5 121.4h0M163.9 129.9h0M159.9 157.2h0M140.5 156h0M168.6 147.2h0M116.5 207.5h0M184.3 153.5h0M153.8 172.1h0M104.3 168.5h0M167.7 153.1h0M154.6 168h0M185.7 152h0M156.3 146.6h0M165 138.7h0M121.8 161.7h0M181.7 157.2h0M149.6 162.2h0M178.2 149.8h0M144.7 177.9h0M138.8 151.9h0M118.1 185.3h0M173.9 132.5h0M97.9 201.1h0M150.1 170h0M144.3 192.1h0M148.6 162.4h0M132 177.1h0M149.5 133.5h0M126.1 193.3h0M164.4 183.1h0M147.7 161.2h0M150.9 149.3h0M174.6 146.5h0M161.1 154.8h0M164 143.4h0M199.6 120.7h0M184.8 139.9h0M117.8 166.8h0M168 163.3h0M161.3 168.3h0M142.7 192.6h0M168.7 156.7h0M124.7 175.5h0M185 154.7h0M172 147.3h0M178.1 144.7h0M163.8 168.3h0M144.2 137.5h0M150.3 156.7h0M136.7 170.9h0M151.7 167.8h0M168.7 131.8h0M162.5 155.2h0M118.6 146.9h0M163.9 158.1h0M170.2 165.3h0M173.4 154.9h0M117.7 193.8h0M181.7 140.9h0M104.6 191.7h0M183.4 158.5h0M190.3 136.5h0M160.4 148.2h0M163.8 156h0M153.7 151.7h0M136.9 160.3h0M98 206.7h0M151.9 166.8h0M89.5 175.3h0M189 133.8h0M163.2 146.4h0M162.9 155.2h0M151.7 140.8h0M150.5 175.2h0M184.4 145.1h0M131.1 166.7h0M167.6 172.8h0M141.8 159.9h0M142.6 173.6h0M155.9 160.8h0M147 153.1h0M109.6 177h0M184.7 126.6h0M190.5 152.4h0M147.6 166.8h0M129 171.1h0M167.1 170.7h0M181.8 126.6h0M113.4 177.4h0M153.8 176.3h0M195.4 147.3h0M114.8 158.3h0M148 170.7h0M117.4 164.8h0M177 124.9h0M180.2 165h0M157.5 161.8h0M152.2 146h0M115.7 162.4h0M136.7 154.1h0M155.2 160.2h0M180.9 151.5h0M146 166h0M155.3 168.6h0M173.8 143.2h0M187.2 150h0M120.1 207.7h0M163.9 156.8h0M132.7 177.7h0M150.1 146.1h0M142 181.5h0M169.1 126.7h0M139.1 172.8h0M130.7 181h0M149.7 174.8h0M145.8 167.4h0M186 148.9h0M146.9 174.7h0M110.2 151.6h0M171.9 129.9h0M177.6 143.8h0M156 148.4h0M93.3 174.4h0M139.7 150.5h0M180 156.3h0M154.9 169.1h0M134.4 135.3h0M155.1 152.3h0M164.5 164.6h0M137.5 157.3h0M204.9 134.9h0M163 161.8h0M193.6 152.9h0M131.4 170.4h0M181.8 164.5h0M126.8 177.3h0M100.8 214.4h0M165.6 151.3h0M137.6 181.4h0M127.7 191.2h0M120.9 184h0M166.8 145.4h0M87.9 196.2h0M188.6 144.3h0M133.2 169.4h0M190.4 127.1h0M151.7 171h0M145.1 160.5h0M183.2 136.6h0M125.8 169.8h0M166 165h0M168.5 157.2h0M134.6 172.7h0M123.1 171.5h0M184.6 146.8h0M111.6 180.8h0M145.7 166.7h0M158.6 152h0M181.8 174.4h0M125.2 166.9h0M165.9 131.6h0M173.8 151h0M157.7 171.6h0M156.3 154.2h0M125.8 165.1h0M160.5 156.4h0M141.3 162h0M185 146.2h0M187.9 148.6h0M151.1 168.5h0M127.6 150.5h0M186.8 136.5h0M130.4 149.3h0M140.9 165.9h0M154.2 144.5h0M179.4 159.6h0M167.3 170h0M164.8 159.7h0M127.8 171.5h0M179.9 144.6h0M165.3 158.5h0M164.1 144.9h0M118.1 163.3h0M130.5 156h0M146.2 151.6h0M148.7 165.9h0M141.8 148.8h0M158.1 176.3h0M169.7 139.8h0M147.3 152.5h0M146.1 174.1h0M141.4 163.9h0M150.7 164.8h0M181 128.9h0M129.1 178.1h0M142 132.4h0M145.9 159.1h0M130.6 169.4h0M144.9 154.4h0M151.7 147h0M166.5 146.9h0M141.6 184.8h0M147.2 189.4h0M179.7 169h0M201.7 137.8h0M136.4 157.9h0M135.3 147.7h0M122.9 178.1h0M166 172h0M161.1 171.6h0M189 121.2h0M139.2 159.7h0M157.3 144.4h0M119 176.1h0M157.9 157.2h0M187.2 120h0M142.9 166.1h0M143.9 179.9h0M118.3 172.6h0M141.7 172.1h0M146 161.4h0M157.2 164.6h0M141.7 157.4h0M154.4 169h0M136.8 180.1h0M134.9 153.5h0M152.7 162.2h0M182 134.4h0M107.6 173.7h0M136 181.1h0M151.5 156.4h0M162.6 159h0M163.4 141.4h0M163.5 152.1h0M150.7 148.7h0M157.8 166.2h0M170.9 170.7h0M184.3 133.5h0M184.9 134.8h0M179.7 156.2h0M90.7 190h0M171.1 139.4h0M177.4 164.9h0M162.6 144.2h0M138.1 174.9h0M160.8 149.1h0M122.4 180.3h0M151.5 172.3h0M155.6 165.2h0M152.1 141.2h0M116.7 160.8h0M172.7 151.8h0M159.8 162.8h0M163.9 147.5h0M142.6 172.2h0M194.8 129.1h0M166.2 131.6h0M131.1 158.5h0M137.3 177.7h0M113.3 180.9h0M165 129.8h0M136 187h0M142 182.4h0M174.4 170.9h0M151.9 164.4h0M171.9 138.6h0M158 181.8h0M167.9 153.9h0M153.9 167.5h0M166.5 144.1h0M180.1 149.2h0M165.2 162.5h0M139.4 166.6h0M156.8 159h0M137.8 165.5h0M187.3 139.8h0M120.4 183.5h0M162.6 141.8h0M137.9 166.9h0M132.9 157.6h0M181 146.6h0M168.3 160.7h0M188 156.5h0M159.4 162.7h0M123.5 180.4h0M151 162.5h0M110 178.5h0M146.5 147.3h0M150 169h0M152.6 152.7h0M159 161.2h0M173.5 157.8h0M135.8 174.3h0M104.6 205.3h0M159.6 162.2h0M156.4 158.4h0M129.4 182.2h0M126.2 157.1h0M151.8 157h0M164.5 152.5h0M158.3 146.5h0M146.3 176.7h0M166.3 158.9h0M130.5 158.5h0M148.4 169.2h0M164 156.2h0M120.1 169.7h0M149.2 142h0M173.6 145.3h0M113.7 181.7h0M189.8 131.2h0M158.5 153h0M151.1 170.7h0M136.8 194.2h0M146.7 168.1h0M138.9 158.5h0M109.3 188h0M168 141.4h0M185.9 131.6h0M186 146h0M175.8 157.6h0M158.3 138.5h0M155.6 165.3h0M132.8 185.1h0M192 152.2h0M135 220.7h0M179.6 160.1h0M155.2 164h0M166.1 143.2h0M186.6 155.2h0M120.7 169.9h0M162.6 163.2h0M145.2 145h0M134.1 159.1h0M128.7 172.7h0M194 138.8h0M155 170.2h0M167.2 149h0M156.8 161.6h0M159.7 126.1h0M132.5 171.1h0M170.2 161h0M145.2 160.3h0M190.5 117.9h0M110.8 189.2h0M188.2 156h0M149 140.5h0M147.6 160.9h0M182.3 132.6h0M139.3 180.7h0M127 184.6h0M142.8 159.1h0M144.4 177.7h0M153.9 180h0M139.4 174.8h0M155 156.5h0M125 178h0M206.8 117.6h0M129.3 183.9h0M135.5 169.1h0M152.7 175.8h0M216.9 130.5h0M162.7 157.8h0M133.3 188.9h0M174.9 138.4h0M139.4 153.1h0M94.2 155.6h0M173.6 126.4h0M154.6 156h0M124.8 175.5h0M204.6 136.9h0M147.2 180.7h0M163.9 152.4h0M170.1 168.9h0M172.3 154.4h0M131.7 168.6h0M142.9 158h0M141.8 177.3h0M142.3 148.7h0M136.9 171.9h0M127.9 175.4h0M220.2 161.5h0M176.3 174.3h0M190.8 140.7h0M137.4 145.6h0M119.6 172.9h0M144.9 163.3h0M149.7 162.2h0M136.9 180.9h0M133 147.9h0M164.3 143.7h0M175.5 129.4h0M164.6 123.3h0M176.1 156.8h0M120.4 188.3h0M158.9 183.8h0M125 153h0M159 147.5h0M132.6 191.2h0M135.1 160.8h0M128 147h0M194.6 119.5h0M132.7 149.8h0M142.5 173.9h0M129 144.5h0M188.8 156.6h0M143 145h0M175.1 138.5h0M153.2 165.5h0M151.1 143.9h0M199.1 120.2h0M164.5 161.6h0M193.1 131.9h0M179 143.1h0M169 154.2h0M113.3 187.7h0M153.5 157.9h0M172.9 155.5h0M177.8 138.6h0M171.7 153.9h0M154.4 152.8h0M129.1 166.5h0M148.2 158.7h0M140.1 188.9h0M164.8 157.2h0M130.7 155.8h0M153.9 155.9h0M172.8 144.4h0M181.2 170.6h0M120.9 179.9h0M157.1 166.9h0M182 139.2h0M130.5 173h0M158.2 168.3h0M164.5 157.7h0M155.5 185.2h0M170.8 143.9h0M130.8 162.6h0M120.4 174.8h0M194.3 132.6h0M140.5 161.6h0M115.3 175.8h0M166.8 170.8h0M181.7 123.9h0M167 176.4h0M121.1 157.3h0M174.2 145h0M129.8 185.7h0M151.8 163.8h0M158.5 143.2h0M146.9 158.8h0M163.1 155.3h0M97.1 197.5h0M168.3 162.2h0M169.2 134.7h0M131.3 179.6h0M114.6 191h0M146.5 143.1h0M185.4 143h0M169.4 160.4h0M95.4 191.2h0M134.3 160.3h0M154.7 161.9h0M182.4 160.7h0M111.7 171h0M216.3 141.3h0M145.9 163.1h0M152.4 146.1h0M160.9 140.2h0M211.2 157.4h0M145 159.1h0M153.4 166.6h0M198.6 169.1h0M164.1 166.7h0M153.8 149h0M163.7 163.5h0M201.1 120.3h0M152.6 155h0M165.3 140.8h0M170.2 169.1h0M193.7 132.4h0M127.8 158.1h0M172.9 177.7h0M175.6 176.3h0M160.6 152.9h0M171.5 172.5h0M126.8 181.9h0M173.3 150.2h0M136.7 152.5h0M134.6 157.1h0M114.9 166.6h0M148.9 160.4h0M165.2 171.8h0M147.3 144.8h0M179 140.8h0M196.3 124.4h0M143.5 176.2h0M94.9 196.7h0M144.3 171.5h0M166.9 138.6h0M137.2 164.4h0M96.2 179h0M154.9 149.6h0M105 172.6h0M188.2 135.3h0M157.8 195.5h0M128.3 181.2h0M172.9 133.2h0M95.5 186.1h0M135.8 145.1h0M134.3 176.9h0M114.9 190.4h0M164 154.3h0M182.3 144.9h0M116.3 168.6h0M172.7 147.4h0M193.3 142h0M187 164.4h0M166.7 174.9h0M136.3 185.4h0M147.9 155.5h0M154.6 167.2h0M150.6 168.1h0M114.1 194.5h0M158.8 148.3h0M135.6 154.5h0M123.2 184.2h0M147.7 155.1h0M173.2 148.7h0M172.8 140.7h0M162.3 179.5h0M178.9 162.1h0M188.6 129.2h0M191.5 144.3h0M139.2 179.3h0M144.3 157.7h0M136.4 167.8h0M140.9 157.3h0M175.8 158.9h0M188.5 146h0M135.5 177.5h0M116.3 159.5h0M161.2 154.7h0M118.6 182.6h0M150.9 156.6h0M130.3 174.1h0M188.4 141.6h0M164.5 157.7h0M128.4 196.7h0M117 237.2h0M123.3 161.3h0M152.9 160h0M159.8 160.8h0M106.7 177.7h0M75.9 216h0M111.7 178.4h0M107.8 190.8h0M131.3 184.6h0M140.4 148.7h0M129.1 193.1h0M93.6 193.9h0M101.5 174.4h0M120.7 201.8h0M86.8 171.6h0M82.6 180.3h0M136.8 188.9h0M112.5 168.3h0M110 181.2h0M111.5 186.2h0M154 165.7h0M102.8 204h0M132.3 183.8h0M121.5 172.8h0M98.5 199h0M69.8 211h0M76.4 195.1h0M94.3 186.9h0M122.1 205.7h0M162.5 139.7h0M122.5 176.8h0M69.3 198.2h0M121.3 174.3h0M157.8 164.4h0M68.8 179.2h0M74.2 176.1h0M50.3 189.6h0M124.3 175.9h0M125.4 193.6h0M120.2 168.2h0M82.8 193.4h0M113.8 187.3h0M61.6 207.4h0M112.5 224.6h0M160.7 167h0M142.3 152.2h0M103.5 207.5h0M94.3 208.7h0M133.8 183.2h0M84.3 173h0M53.2 192.5h0M143.1 169.7h0M92.4 214.5h0M121.8 164.6h0M100.8 198.2h0M98.8 183.2h0M89.2 188.3h0M112.8 183.2h0M161.4 155.7h0M102.2 201h0M124.3 178.3h0M72.7 205.1h0M119.6 159.4h0M177.4 127.3h0M98 195.6h0M94.7 191h0M146.6 161.9h0M138 181.8h0M111 177.6h0M137.1 183.5h0M127.2 189.9h0M79.6 183h0M136.2 176.8h0M113.5 179.2h0M138.4 154.8h0M102.1 179.6h0M110.5 182.1h0M69.2 197.1h0M137.3 178.6h0M127.6 178.7h0M104.6 168.4h0M126.8 172.1h0M105.1 166.4h0M114.7 167.7h0M161 160h0M143.1 199.2h0M113.7 177.7h0M106.5 216.6h0M113.7 204.1h0M126.9 154.4h0M138.6 180.7h0M91.1 180.4h0M135.3 176.6h0M99.3 180.2h0M125 165.5h0M169.7 160.3h0M117.1 190.5h0M128.8 162.3h0M130.5 167h0M115.4 162.4h0M86.3 186.7h0M128.9 191.9h0M129.3 178.3h0M80.4 200.9h0M64.8 193.9h0M143.9 159.3h0M140 173h0M134.4 179h0M90.3 166.4h0M142.9 158.3h0M100 193.4h0M132.6 161.8h0M108.5 172.8h0M123.4 180.8h0M136.6 173.3h0M145.9 188.7h0M118.4 178.4h0M149 168.8h0M98.2 204.5h0M90.6 181.5h0M73.9 191.9h0M111.1 199h0M94.2 190.9h0M101.9 185.7h0M94.5 231.6h0M115.2 149.5h0M97.9 154.3h0M123.4 182.9h0M82.8 195.1h0M149.4 174.4h0M95.5 182.6h0M73.7 226.7h0M95.7 208.5h0M119.5 175.7h0M124.4 187h0M76.5 163.9h0M107.9 197.6h0M138.8 174.9h0M118.5 198.7h0M148.4 170.8h0M114.8 173.5h0M109.8 201h0M124.5 162.3h0M94.9 178.1h0M114.8 185.7h0M106.9 207.1h0M98.9 183.4h0M121.2 186.4h0M95.4 199.7h0M142.3 171.5h0M141 153.9h0M151.3 182h0M89.4 181.7h0M126 174.6h0M102.6 189.7h0M102.9 200.4h0M127.9 198.1h0M114.7 182.6h0M106.6 178.3h0M142.8 177.7h0M77.1 201.9h0M144.3 154.8h0M116.1 189h0M99.7 225.3h0M57.1 193h0M114.4 185.3h0M89.7 172.6h0M103.3 178.4h0M95.5 178.8h0M110.1 207.1h0M113.8 194h0M98.7 195.4h0M147.1 169.2h0M128.1 163.4h0M120.2 164.5h0M98.1 177h0M98 188h0M82.9 170.2h0M98 198h0M116.4 197.3h0M120.7 174.7h0M129.8 191.1h0M135.5 168.8h0M93.2 192.9h0M93.1 173.2h0M96.6 206h0M116.1 170.8h0M82.9 220.7h0M138.9 171.6h0M78.8 203.4h0M133.1 181.8h0M78.1 222.9h0M92.7 204.9h0M81.7 177.2h0M55 189.6h0M103.7 175.2h0M87.7 186.1h0M77.7 213.1h0M129.7 164h0M126 188.6h0M112.2 184.2h0M119.1 199.7h0M100.7 196h0M107.2 192.6h0M103.6 190.7h0M126.4 163.3h0M139.8 168.3h0M111.5 201h0M89.7 196.7h0M129.9 176.3h0M86.1 189.5h0M133.3 155.3h0M106.6 192h0M126 167.4h0M154.5 162.7h0M151.1 159.7h0M78.3 208.1h0M124.3 183.9h0M73.3 187h0M88 200.8h0M81.6 215.6h0M108.5 184.6h0M107.3 168.8h0M93 184.8h0M79.1 202.9h0M98.8 162.8h0M77.8 191.9h0M108.8 179.3h0M118.9 196.4h0M121.5 168.8h0M114.9 177.3h0M119.3 172.3h0M48.2 196.7h0M97.4 208.1h0M148.1 166.8h0M126.6 171.9h0M125.5 178.6h0M155.1 143.2h0M134.6 150.1h0M87.4 177.8h0M125.2 135.6h0M101.2 181.5h0M134.4 156.4h0M86.1 186.2h0M85.3 195.5h0M104.6 185.5h0M75.6 185.4h0M135.2 158.5h0M123.4 176.9h0M80.6 177h0M105 193.2h0M104.8 173.7h0M78 193.5h0M101.1 181.6h0M100.7 194.4h0M134 179h0M142.3 174.1h0M54.1 204.5h0M121.5 188.4h0M103.8 170.3h0M98.7 207.7h0M115.2 183h0M88.3 184.8h0M94.5 197h0M95.7 202.5h0M189.7 155.3h0M89 176.9h0M118.2 149.2h0M90.2 177.4h0M125.3 171.5h0M119.3 181.7h0M130.9 175.7h0M109.7 180.1h0M129.3 158.8h0M106 187.1h0M98.1 163.4h0M149.6 179.9h0M74.1 188.7h0M104.4 212.6h0M140.4 175.2h0M69.4 208h0M143.1 186.7h0M151.3 162.1h0M129.7 186.2h0M122.8 162h0M118.7 169.6h0M98.6 190.7h0M114.2 193.8h0M115.8 191.7h0M121.8 186.2h0M138 171.4h0M127 184.4h0M130.7 167.7h0M105.4 213.2h0M92 172.4h0M111.5 188.6h0M72.4 206.9h0M122.4 172.8h0M100.5 171.4h0M150.2 167.1h0M99.1 183.4h0M69.8 181.7h0M142.2 177h0M158.2 164.7h0M117.1 169.8h0M138.4 162.4h0M98.9 181.4h0M113.8 195.1h0M84.6 204.1h0M88 200h0M88.8 188.8h0M118.4 179.9h0M87 192h0M70.6 183.6h0M118.1 178.1h0M104.2 179.7h0M160.8 161.5h0M91.8 188.2h0M107.9 178h0M127.1 168.1h0M109.3 175.8h0M104.5 180.6h0M80.7 171.5h0M90.2 203.8h0M105.8 180.9h0M108.9 189.5h0M140.1 162.4h0M127.4 175h0M70.4 203.8h0M50.8 191.8h0M136.8 164h0M172.4 136.7h0M163.1 182.5h0M96.7 156.6h0M101.6 180h0M139.4 179.9h0M82.6 204.2h0M126.1 197.4h0M107.1 173h0M168.2 153.8h0M114.5 163.4h0M78.9 181.1h0M65.1 160.6h0M136.7 161.1h0M142.8 148.6h0M117.3 182.1h0M183.9 149.5h0M113 180.8h0M116.5 164.9h0M92.5 193.8h0M117.2 165.4h0M102.5 178.1h0M120.8 159.9h0M146 179.5h0M119.1 181.2h0M95.3 195.1h0M135.6 177.3h0M83.7 182.5h0M151.5 190h0M105 174.2h0M100.2 195.9h0M118.6 159.9h0M106.3 202h0M158.1 156.4h0M103.1 173.4h0M167.7 182.9h0M117.4 187.8h0M123.4 192.2h0M115.9 153.6h0M95 181.6h0M97.5 184.3h0M129.6 178.8h0M82.8 201.6h0M107.7 192.3h0M113.2 182h0M82.6 189.7h0M89.9 167.8h0M139.6 191.5h0M115 191.4h0M100.2 161.4h0M88.1 193.9h0M94.4 183.3h0M110.2 175.3h0M99 200.7h0M95.9 173.1h0M102.1 166h0M135.2 153.1h0M94 191h0M83.7 195.4h0M96.8 187.2h0M77.3 194.9h0M168.4 132.7h0M98.7 177.6h0M114.6 173.2h0M104.6 180.6h0M128.8 169.5h0M87.6 187.4h0M98.5 202.4h0M95.8 189.9h0M125.3 180.2h0M128 166.3h0M110.2 179.3h0M136.7 173.1h0M119.1 165.1h0M127.4 175.9h0M139.4 165.2h0M113.5 169.9h0M146.6 145.9h0M140.2 178.6h0M120.1 146.7h0M119.8 211.2h0M119.3 152.9h0M149.1 178h0M106.9 195.7h0M114.5 197.2h0M140.3 189.5h0M93.1 200.2h0M75 192.1h0M112.1 199.5h0M121.6 172.9h0M124.3 187.3h0M136.9 177h0M117.4 183.1h0M110.6 212.8h0M81.1 180.7h0M118.1 186.2h0M150.5 167.6h0M138.9 182.5h0M102.1 186.5h0M130 178.8h0M115.3 162h0M100.9 209.2h0M100 189.3h0M98.1 194.3h0M159.1 168h0M108.5 186.7h0M108.7 182.5h0M110.2 189.1h0M113.6 191.1h0M89.6 176.3h0M106.2 165.6h0M127.2 159.7h0M104.3 177.2h0M110.6 184.3h0M121.5 181.5h0M123.4 158.1h0M86.4 191.6h0M93.4 189.1h0M111.3 182.1h0M120.2 174.2h0M87.1 161.3h0M128.9 178.8h0M117.7 189.7h0M130.9 177.1h0M112.7 175.6h0M93.6 189.3h0M120.4 154h0M62.9 195.5h0M120.3 177.6h0M108.5 202.3h0M130.4 169.8h0M118.9 179.6h0M132.7 147.4h0M124.2 141.2h0M102.9 216.7h0M103.7 162.7h0M136.1 176.2h0M89 216.2h0M75.3 191.7h0M110.3 186.6h0M123.1 180.4h0M99.8 196.7h0M84.4 187.3h0M90.9 215.5h0M126.3 177.2h0M106.3 174.9h0M150.2 162.6h0M124.7 178.4h0M117.7 161.1h0M70.1 196.5h0M153.9 190.7h0M164.1 158.6h0M122.2 179.7h0M118.9 182.5h0M103.8 172.2h0M104.2 194.9h0M153.7 172.6h0M132 170.6h0M124.8 187.1h0M125.7 172.3h0M164.5 171.7h0M99.5 182.5h0M126.8 197.2h0M79.7 182.6h0M108.3 210.8h0M162.3 151.8h0M120 195.8h0M65.3 175.9h0M162.6 184.4h0M100.4 184.5h0M129.5 174.6h0M129 153.4h0M137.5 179.9h0M95.2 192.3h0M115.5 177.8h0M83.4 177.8h0M120.7 167.7h0M83.9 200.7h0M62.8 168.4h0M130 187.4h0M77 213.9h0M94.3 196h0M101.8 177.5h0M76.3 208.4h0M114.2 173.6h0M96.9 169.8h0M117.4 152.6h0M110.7 193.9h0M127.7 165.3h0M116.1 172.2h0M115.6 175.8h0M129.2 163.6h0M144.3 143.7h0M146.2 164.1h0M142.9 170.8h0M137.2 169.3h0M109 167.8h0M140.7 160h0M69.5 213.3h0M110.5 170h0M98.5 200.4h0M87 198.4h0M88.5 191.3h0M107.9 183.2h0M90.9 215.8h0M84.3 213.7h0M115.7 150h0M122 161.9h0M108.2 180.3h0M107.8 194.6h0M131.2 195.9h0M152.6 171.4h0M136.9 170.1h0M113.7 160.9h0M102 180.1h0M114.9 192.4h0M97.1 213.2h0M146.6 148.5h0M86.8 204h0M101.3 200.3h0M96.1 174.6h0M103.2 172.9h0M149.6 184.9h0M117.3 176.8h0M74.4 172.6h0M75.7 181.8h0M119.4 182.7h0M143 158.8h0M96.6 167h0M115.1 201h0M106.7 166.2h0M114.6 199.5h0M130.9 148.7h0M110.5 172h0M132.9 173h0M102.7 164.8h0M99.8 174.6h0M132.7 156.9h0M100.1 190.1h0M107.9 166.9h0M154.5 148.1h0M121.9 148.6h0M110.6 194.2h0M113.2 194h0M85.7 171.3h0M108.4 180h0M116.3 165.8h0M118.7 172.9h0M82.7 198.7h0M109.4 180.8h0M119.9 159.7h0M87.5 183.5h0M86.4 205.2h0M114.3 212.2h0M93.7 194.2h0M113.1 212.3h0M117.4 207h0M100 164.4h0M113.9 161.3h0M124 180.1h0M146.1 146.8h0M114.9 175.4h0M99.8 184.9h0M61.2 197.6h0M111.5 190.4h0M116.4 173.5h0M114.5 185.1h0M119.5 176.4h0M75.9 204.9h0M115.3 181.6h0M103.8 181.8h0M128 174h0M120.2 171.8h0M95.1 193.2h0M96.4 204h0M132.9 173.1h0M127.7 195h0M160.1 176.7h0M83.3 203.4h0M100.1 186.5h0M116.6 165.8h0M106.7 159.3h0M106.4 178.9h0M146.1 142.4h0M84.5 221.6h0M120.2 173.9h0M86.7 183.4h0M79.5 199.7h0M94.2 187.8h0M99.4 153.5h0M85.2 183.4h0M110 193.2h0M107.5 192.7h0M117.6 180.3h0M117 208.9h0M125.7 163.7h0M117.7 185.8h0M100.5 186.8h0M98.9 199.2h0M77.1 188.6h0M109.7 163h0M119.1 173h0M118.4 178h0M77.4 200.1h0M124.2 164.7h0M95.7 189.2h0M63.9 190.1h0M88.2 192.4h0M166.7 162.4h0M108.9 207.4h0M143.7 180.9h0M80.5 202.2h0M116.7 183.1h0M97.6 182.4h0M93.2 185.4h0M116.5 189.9h0M62.3 219.4h0M103 170.2h0M125.3 155.5h0M94.2 178.5h0M115.4 176.8h0M122.3 189.9h0M130.3 187.5h0M136.5 174.5h0M118.8 199.9h0M107.9 158.1h0M90.3 197.8h0M124.2 180.6h0M117.5 181.9h0M116.3 189.1h0M130.2 181.9h0M101.6 179.6h0M119.8 157.8h0M50 194.7h0M114.9 174.2h0M111.2 176.3h0M107.7 205.4h0M108 165.8h0M105.3 202.1h0M96.2 191.9h0M91.6 161h0M82.5 187.2h0M119 154.5h0M116.1 151.6h0M119.8 196.8h0M110.8 184h0M114.6 166.3h0M100.7 192.9h0M100.2 197.2h0M130.2 172.2h0M146.3 172.5h0M140.8 175.9h0M106.9 169.8h0M97 165.1h0M167.3 169.6h0M170.2 166.5h0M152.1 170.8h0M80.5 199.3h0M109 164h0M117.9 186.9h0M84.5 164.7h0M57.6 193.8h0M119 165.1h0M118.1 156h0M180.3 144.5h0M188.1 147h0M210.1 138.9h0M146.2 138h0M201 134.1h0M182.3 147h0M150.2 179.7h0M189.6 131.4h0M202.8 128.6h0M182.3 149.2h0M135 123.5h0M186.6 130.9h0M190.5 137.2h0M159.9 165.6h0M150 159.5h0M215.4 120.5h0M140.9 162.6h0M129.3 172.1h0M204.1 159.5h0M200.6 159h0M160 168.6h0M181.8 155.3h0M189.3 155h0M161.8 145.5h0M159.3 129.8h0M128.8 161.7h0M217.1 144.5h0M217.4 153.3h0M216.4 123.1h0M184.5 150.8h0M130.9 160h0M150.5 176.3h0M209.6 131.5h0M187.7 145.6h0M142 130h0M195.2 121.4h0M187 140.5h0M175.1 127.2h0M148.7 162.9h0M193.9 136.3h0M176.2 155.7h0M181.6 173.5h0M130.2 155.9h0M163.4 154.7h0M168.2 136.4h0M138.6 188.9h0M161.2 150.6h0M176.1 169h0M112.5 191.7h0M178.4 190.1h0M161.1 157.7h0M220.4 151h0M188 134.7h0M194.9 132.4h0M174 177.7h0M161.7 126.3h0M142 171.2h0M215.3 159.1h0M192.4 165.7h0M140.5 139.6h0M142.9 125.7h0M131.3 162h0M122 132.2h0M112.2 154.8h0M162.3 155h0M143.4 157.3h0M155.9 162.5h0M199.5 137.8h0M188.8 133.2h0M185.4 142h0M177.4 175.4h0M162.1 137.8h0M171.7 158.5h0M156.9 141.3h0M147.9 160.8h0M127.5 173h0M123.8 176.1h0M186.1 128.8h0M165.1 146.1h0M211.8 127.3h0M144 166h0M221 131.7h0M113.4 179h0M164.9 176.8h0M189.2 160.5h0M193.5 141.5h0M185.2 144.1h0M145.7 165h0M194 138h0M151 168.1h0M140.7 182.7h0M164.6 149h0M190.2 143.7h0M180.1 141.1h0M174.5 168.1h0M171.3 146.4h0M162.5 165.7h0M208 139.4h0M121.1 197h0M139.5 143.8h0M171.9 173.1h0M145.9 170.1h0M157.8 173.1h0M111.8 182.5h0M195.8 146.7h0M164.9 165.9h0M172.9 177.6h0M187.3 151.8h0M168.7 170.5h0M193.8 161h0M171 160.9h0M187.9 126.3h0M199.4 135.7h0M162.2 149.1h0M161.7 130.1h0M153.1 176.4h0M187.4 142.1h0M192.5 125.3h0M158 157.9h0M168.2 175.3h0M144.7 178h0M156.4 166.1h0M164.8 175.6h0M183.8 115.5h0M190.8 161.1h0M147.5 162.2h0M118.7 205.6h0M163.1 141.5h0M174.8 145.7h0M131.2 156.1h0M189.6 162.9h0M194.6 132.6h0M119.7 208.2h0M127.6 146.5h0M153.7 163h0M173.7 158.7h0M170.7 168.1h0M139.9 154.2h0M150.2 173.3h0M117.2 140h0M183.6 145.1h0M125.1 167h0M197 143.6h0M161.2 137.6h0M182 152.6h0M183.7 138.5h0M170.9 150h0M148.8 193.2h0M129.9 149.1h0M183.1 134.6h0M208.8 176h0M143.8 162.2h0M122.7 179.7h0M129.7 168.8h0M147 142.8h0M151.9 158.9h0M123 155.2h0M162.8 152.7h0M184.8 123.8h0M159.8 168.9h0M168.5 134.4h0M200.7 126.3h0M83.2 180.2h0M159 158.5h0M148 170.3h0M165.8 141.5h0M165.5 141.9h0M168.9 157.7h0M152.6 163.7h0M154.5 154.8h0M122.3 199h0M193.9 126.6h0M175.7 164.6h0M158.6 194.5h0M210.2 145.5h0M201.9 141.6h0M211.9 127.6h0M183 160.8h0M168.1 144.7h0M147.6 180.4h0M164.7 154.3h0M195.8 146.8h0M159.9 194.4h0M149.8 135.5h0M147.5 197.7h0M130.8 184.2h0M167.6 163.7h0M137.9 137.5h0M147.2 152.5h0M120.4 158.3h0M190.5 144.7h0M189.2 162.8h0M195 136.6h0M164.5 152h0M171.8 149h0M147.8 149.8h0M147 204.3h0M138.6 152.9h0M186 176.5h0M206.3 124.7h0M189.3 154.7h0M168 187.1h0M119.3 172.6h0M152.8 157.1h0M169.1 138.9h0M164.1 154h0M176.7 156.2h0M172.9 164.6h0M148.9 171.5h0M195.1 134.8h0M131.9 148.7h0M137.8 143.1h0M171.7 126.5h0M183.1 155.8h0M145.9 158.7h0M173.5 121h0M197.4 139.1h0M203.4 160.4h0M153.1 147.6h0M165.3 141.6h0M156.7 161.5h0M142.3 172.7h0M193.1 151.2h0M157.5 141.4h0M119.8 153.4h0M213.7 168.1h0M160.2 161.4h0M152.3 168.9h0M118.8 150.9h0M144.4 169.2h0M155.9 168.6h0M156.5 171.7h0M123.8 173.9h0M155.5 164.4h0M195.8 153h0M130 166.5h0M173.5 161.7h0M146.6 175.4h0M149.3 137.4h0M164.4 151.9h0M116.7 168.1h0M144.4 178h0M169 144h0M138.1 206.4h0M150.7 180.3h0M153.3 162.6h0M152.8 113.4h0M147.4 160h0M180.9 178.2h0M166.2 138.4h0M146.1 161.8h0M113.8 179.5h0M151.7 166.3h0M148.4 153.7h0M112.5 174h0M131.3 181.6h0M127.1 164.9h0M201.6 139.1h0M143.7 190.5h0M218.9 151.3h0M184.6 150.8h0M226.3 141.1h0M187.3 139.1h0M229.5 142.3h0M155.5 171.5h0M153.1 170.5h0M221.9 142.7h0M145.9 183.2h0M147 127.6h0M196 142.6h0M183.6 146.5h0M178 169.7h0M112.4 174.3h0M153.3 129.8h0M155.5 136h0M183.3 175.4h0M156.5 184.1h0M159.3 176.3h0M152.6 151.3h0M212.5 134.2h0M186.2 128.2h0M152.8 136.9h0M188.6 153.4h0M135.3 153.3h0M115.2 160.4h0M150.1 140.6h0M186.1 138.2h0M180.2 114.2h0M125.7 147.6h0M164.7 187h0M148.1 175.5h0M152.4 118.5h0M152.6 147h0M206.7 155.9h0M219.2 129.6h0M185.9 143.6h0M186.6 164.5h0M100.8 166.6h0M185.7 173h0M157.1 122.4h0M145.9 144.4h0M148 172.7h0M211.5 131h0M176.3 147.9h0M144.2 149.6h0M153.5 196.2h0M217.2 131.4h0M223.2 138.8h0M165.2 150h0M178.8 161.1h0M196.7 140.7h0M153.6 146h0M144.2 145.2h0M160 154.6h0M173.6 145.3h0M157 146.7h0M144.5 182.8h0M135.2 142h0M95.7 184.1h0M136.5 142.2h0M179.7 131.4h0M186.9 145.2h0M176 151.8h0M204.5 171.6h0M160.9 184.4h0M158.6 175.5h0M162.2 153.6h0M121.9 167.3h0M142.2 176.2h0M171.1 142h0M215.8 153.4h0M152.3 170.2h0M107.9 199.9h0M167.7 186h0M118.6 149.7h0M186.2 149.7h0M96 172.1h0M162.8 185.7h0M195 139.6h0"/>
<path stroke="#3440b4" stroke-width="2.6" d="M122.9 202h0M106.7 196.6h0M77.1 176.2h0M128.1 220.6h0M108.5 197h0M122.3 199.6h0M87 202.3h0M94.8 211h0M144.3 186.5h0M122 177.6h0M116.4 186.3h0M97.3 202.8h0M74.2 215.7h0M120.9 174.9h0M64.1 206h0M54.1 206.2h0M55.7 204.2h0M107 217.7h0M101.6 177.6h0M129.5 200.8h0M81.7 198.3h0M68 200.3h0M146.6 183.3h0M74.1 180.6h0M117.2 200.4h0M114.7 183.8h0M146 148.3h0M89.2 198.1h0M98.2 172.9h0M133 156.5h0M115.4 207.1h0M95 209.4h0M109 189.7h0M110.2 201.9h0M111.3 170.6h0M119.3 180.1h0M111 153.1h0M133.4 151.9h0M104.7 196h0M124.6 187.1h0M127.6 167.8h0M137.8 186.2h0M105.6 170.9h0M142.6 167.6h0M128.3 182.2h0M126.6 164.5h0M125.5 203.1h0M113.5 189h0M126.3 156.6h0M76.1 187.1h0M98.8 186.9h0M101.2 174.3h0M101.5 188.6h0M86.2 186.8h0M114.5 211.5h0M89.2 189.1h0M136.5 165.1h0M129.9 186.5h0M94 210.9h0M158.9 173.9h0M90.3 189h0M107.5 168.9h0M121.1 168.2h0M107.1 213.7h0M124.5 196.6h0M104.7 188.6h0M98.6 184.9h0M117.8 193.5h0M143.1 155.8h0M90.7 218.7h0M144.4 182.9h0M130.1 184.9h0M96.3 177.8h0M128.4 171h0M85.8 180.1h0M116.8 194.9h0M79.5 205.4h0M89.3 199.7h0M87 185h0M119.2 168.7h0M92.5 159.5h0M91.5 192.1h0M95.1 202.8h0M93.9 171.3h0M87.1 214.1h0M74.9 197.5h0M96.4 186.3h0M110 215.7h0M121.7 185.7h0M64.5 218h0M96.8 175.8h0M93.3 175.7h0M106.6 188h0M79 203.4h0M151.7 123.5h0M76.2 210.5h0M92.6 178.1h0M120.4 181.3h0M86 201.5h0M105.1 188.6h0M95.9 209h0M70.3 200.9h0M126.5 179.7h0M138.6 184.9h0M134.1 182.6h0M115.6 192.3h0M130.7 177.4h0M55.1 206.2h0M76.5 182.7h0M125.6 203.2h0M104.1 180.2h0M103.5 192.9h0M108.1 189h0M85.4 191.6h0M106.6 141h0M120.3 178.1h0M103 188.9h0M142.9 164.8h0M84.1 194.1h0M88.6 163.3h0M111.1 172h0M125 205.7h0M111.2 185.9h0M83 208.4h0M112.9 162.8h0M147.9 177.5h0M134.9 186.6h0M122.4 174.8h0M98.4 206.1h0M95.2 191.4h0M108.7 177.8h0M79.9 175.3h0M82.7 185.2h0M103.9 185.8h0M115.2 187.5h0M134 178.2h0M91.9 158.6h0M101.7 187.7h0M74.6 216h0M158.9 137.3h0M169.8 167.8h0M128 215h0M64 212.3h0M159.2 164.2h0M128.2 195.8h0M79.3 218.5h0M111.8 173.5h0M105.2 182.2h0M164.4 188h0M92.4 156.7h0M75.8 232.7h0M99.9 162.9h0M113.2 187.8h0M116.1 175.8h0M141.9 198.8h0M73.8 225.8h0M113.5 177.1h0M115.5 205.7h0M95.4 208.7h0M98.8 195.3h0M146.3 159.8h0M100.3 202.6h0M99 188.2h0M108.8 207.6h0M131.9 180.6h0M80.8 192.7h0M134.3 192.9h0M114.9 169.6h0M100.6 181.8h0M98.6 191.7h0M194.7 142.2h0M163.4 164.6h0M195.5 165.4h0M142 160.3h0M164.3 161h0M64.8 237h0"/>
<path stroke="#ef6567" d="M566.8 117.9h0M543.5 146.5h0M543.5 153.3h0M539.9 137.3h0M540.8 152.3h0M566.3 123.3h0M553.4 124.3h0M552.5 128.2h0M553.5 114.5h0M542.3 143.1h0M538 152.9h0M553.4 134.5h0M562.6 142.9h0M538.3 144.6h0M553.1 130.7h0M572.8 129.5h0M535.5 136.1h0M545.4 130.7h0M552.4 133.7h0M564.7 141.3h0M558.4 125.9h0M556.3 132.3h0M557.1 117.6h0M549.1 152.7h0M535.1 134.6h0M552 124.4h0M538 136.5h0M546.3 145.7h0M549.5 138.6h0M559.8 139.7h0M551.1 148.6h0M553.3 129.7h0M544.9 107.6h0M531.8 156.7h0M524.8 160.3h0M537.8 113.7h0M527.6 134.4h0M563.6 122h0M566.1 97.4h0M551.6 142.2h0M562.2 155.7h0M533.9 124.8h0M540.1 124.5h0M545.1 134.9h0M531.2 139.5h0M557.2 136.3h0M535 163.8h0M555.9 135.7h0M545.4 132.4h0M566.9 127.6h0M543.4 129.6h0M550.2 129.1h0M539.3 147.1h0M543.4 129.3h0M561.2 132.9h0M552.5 121h0M553.7 139h0M559.4 116h0M558.2 120.9h0M545.8 147h0M544.2 180h0M528.5 140.9h0M545.7 133.3h0M550.9 135.9h0M533.3 129.8h0M549.6 145.8h0M553.4 128.7h0M544.2 144.5h0M526.9 159h0M543.2 138.3h0M564.4 131h0M546 150.9h0M561.8 136h0M543.2 121.6h0M542.1 131.8h0M548 128.8h0M536.4 144.1h0M542.3 130.5h0M571.5 127.8h0M547.5 137.5h0M540.9 151.4h0M572.9 129.7h0M527.6 145.1h0M549.8 106.8h0M548.3 135h0M570.3 143.5h0M555.3 135.9h0M548.1 136.2h0M570 134.6h0M546.4 136.7h0M544.5 149h0M555.2 141.7h0M530.5 154.9h0M548.3 139.5h0M535.7 159.7h0M561 147h0M556.8 130.1h0M557.6 132.3h0M553.2 143.5h0M527.2 170h0M532.6 132.4h0M571.3 131.8h0M535.1 137.2h0M547.2 125.3h0M539.2 141.4h0M562.9 118.8h0M532.1 162.7h0M524.2 126h0M543 139.2h0M558.7 135.5h0M554 140.7h0M547.2 132.5h0M529.7 164.2h0M563.5 111.7h0M557.4 140.5h0M541.6 143h0M553 114.3h0M532.1 144.1h0M543.3 125.8h0M560.2 127.6h0M565.8 136.6h0M550.1 133.3h0M538.1 129.6h0M525.4 136.3h0M543.5 126.1h0M536.4 150.8h0M554.2 121.3h0M548.8 120.4h0M533.6 123.7h0M530.1 157.3h0M552.2 127.3h0M558 132.3h0M537.3 147.5h0M530.5 129.1h0M554.5 138.6h0M548.3 122.9h0M545.8 141.1h0M551.1 154.2h0M537.9 137.3h0M540.5 148.1h0M577.1 127h0M553.2 105.7h0M524.4 155h0M539.3 136.3h0M555.6 113.1h0M550.9 112.2h0M568.9 116.6h0M572.1 132.7h0M554.4 132.8h0M555.3 136.6h0M558.9 119h0M541.3 122.1h0M535.9 157.1h0M537.1 124.2h0M518.3 144.9h0M555.7 127.1h0M547.7 129.6h0M554.9 144.6h0M549.9 132.6h0M522.5 147.4h0M548.8 146.6h0M544 144.2h0M545 132h0M533.3 127.9h0M555.5 139.2h0M545.9 130.3h0M523.9 142.4h0M530 144.5h0M562.4 127.1h0M543.4 148.5h0M539.2 132.2h0M557.9 129.6h0M533.7 130.7h0M576.3 119.1h0M519.7 130h0M548.3 148.3h0M528.5 158.3h0M561.1 131.5h0M545.1 141.4h0M557.6 132.9h0M541.4 121.2h0M571.8 110.3h0M560.4 136.4h0M538.6 136.3h0M539.6 138h0M567.6 137.8h0M539.2 165h0M541.9 140.8h0M540.1 158.9h0M549.5 156h0M562.2 125.7h0M532.8 140.9h0M532.8 132.3h0M562.2 132.5h0M517.7 140.2h0M554.4 139.7h0M543.1 155.1h0M558 141.1h0M551.7 148.1h0M560.9 128.2h0M545.6 136h0M541.8 122.4h0M559.7 119h0M536.5 128.2h0M551.9 114.4h0M539.9 116.1h0M570.2 137.5h0M531.5 136.1h0M538.1 123.9h0M543.2 129.4h0M543.3 118.2h0M566.1 130.1h0M560.3 127.4h0M568.8 141.8h0M539.4 139h0M547.8 144.9h0M538.1 118.4h0M546.5 156.6h0M543 138.3h0M544.5 135.1h0M542.2 122.5h0M558.1 133.7h0M528.4 141.6h0M557.2 131.4h0M530.3 157.2h0M537.4 139.4h0M569.2 136.6h0M537.1 132.6h0M543.5 124.4h0M565.7 103.8h0M551.6 143.3h0M540.7 133.6h0M515.7 148.7h0M545.7 128h0M569 127h0M549.5 133.7h0M558.7 143.7h0M578.8 106.1h0M552.3 136.7h0M555.5 139.4h0M551.2 136.8h0M549.2 156.4h0M562.3 133.9h0M575.7 135h0M554.9 121.3h0M540.1 113.6h0M539.1 142.7h0M540.6 138.9h0M580.1 109.7h0M550.1 161.3h0M542.3 157.6h0M546.6 135.7h0M530.4 149.9h0M546.7 158.5h0M540.4 157.8h0M551.1 161.2h0M551.7 143.6h0M560.6 133.3h0M559.9 143.9h0M546 120.3h0M542 139.1h0M522.6 165.9h0M545.1 149h0M520.7 146.5h0M547.6 132.1h0M548.1 127h0M541.9 143.2h0M545 137.1h0M548.4 125.7h0M570.6 133.5h0M541.5 145.6h0M544.1 116.2h0M542.5 141.7h0M549.2 121.5h0M524.4 167.6h0M554.4 150.4h0M551.1 132.8h0M537.1 151.8h0M539.5 177.9h0M548.1 160.1h0M538.4 134.3h0M547.2 128.3h0M556.7 132.9h0M534.3 126.2h0M542.2 161.2h0M533.4 145.9h0M560.6 138.2h0M551 122.2h0M553.8 139.9h0M554.6 106h0M543.6 145h0M546.7 136.2h0M552.4 136.9h0M551.4 144h0M540.1 155.6h0M543 158.6h0M551.5 139h0M561.2 139.8h0M565 116.8h0M546.5 134.4h0M520.3 165.8h0M539.4 156.3h0M530 153.1h0M527.5 137.5h0M553.4 132.1h0M540.7 124.8h0M545 128.5h0M519.5 139.9h0M548.6 144.3h0M550 139.1h0M556.9 104.5h0M565 125.6h0M553.9 145h0M557.9 128.3h0M551.8 137.3h0M543.5 138.4h0M544.2 139.9h0M529.3 154.4h0M570.7 126h0M549.2 135.1h0M522 137.2h0M549.6 146.5h0M545.8 145.8h0M556.3 146.9h0M535.3 135.3h0M567.4 122h0M535.4 158.3h0M567.4 133h0M529.4 123.5h0M551.1 120.8h0M545.8 144.7h0M541.8 150h0M553.6 137.6h0M567.2 112.3h0M558.3 168.4h0M554.4 127.9h0M568.4 126.3h0M549.4 128.1h0M546.1 136.8h0M564.6 111.4h0M545.3 132.8h0M557.6 128.7h0M553.8 136.4h0M568.8 143.1h0M539.1 138.1h0M541.3 144.6h0M570.6 131.4h0M549.7 136.4h0M550.3 127h0M529.9 142.4h0M556.5 125.1h0M554.3 115.9h0M544.8 130.1h0M533.6 154.3h0M545.6 119.3h0M546.2 165.8h0M553.7 129.9h0M548.9 120.9h0M530.7 146h0M543.7 146h0M532.5 149.9h0M530.8 138.7h0M534 152h0M515.6 141.7h0M533.3 157.6h0M551.7 127.1h0M549 133.9h0M556.4 122.8h0M546.9 142.2h0M559.3 120h0M536.1 151h0M538.2 130.3h0M555.6 148.4h0M537.9 150.6h0M534 142.4h0M529.9 146.7h0M545.7 134.6h0M539.7 144.5h0M561.4 141h0M550.3 133.2h0M544.4 138.1h0M531.7 137.4h0M542.2 138.9h0M536.9 113h0M547.2 132.8h0M538.6 136.4h0M530.5 127.8h0M576 126.5h0M547.3 143.6h0M540 134.8h0M566 139.4h0M534.8 134.1h0M530.9 149h0M547.5 151.4h0M548.7 145h0M557.7 146.1h0M547.7 141.1h0M550.4 157.2h0M553.2 139.7h0M558.1 132.3h0M542.2 156.1h0M586.8 128.9h0M536.9 147.6h0M553.3 111.1h0M564.3 123.7h0M568.3 129.9h0M554.2 123.2h0M533.3 145.5h0M528.2 132.1h0M550.4 126.3h0M535.5 143.2h0M557.1 129.4h0M539.7 149.6h0M537.1 150.4h0M539.8 127.6h0M541.8 140.6h0M566.2 144.6h0M542.5 142.7h0M529.6 150.8h0M540.8 121.6h0M522 138.1h0M549 144.3h0M556.1 120.1h0M557.3 115.8h0M539.6 139.2h0M553.3 147h0M556.6 142.9h0M572.3 139.7h0M564.1 124.1h0M524.8 122.1h0M562.6 158.9h0M550.3 153h0M541.9 140.3h0M539.9 112h0M534.5 158.1h0M538.7 157.1h0M528.3 161.8h0M559.9 149h0M538.2 113.8h0M540.5 136.9h0M541.5 153.2h0M546.1 137.5h0M551.4 139.2h0M556.6 131.4h0M545.8 134.2h0M541.9 151h0M546.7 132.3h0M568 125.5h0M530.3 138h0M541.1 127.3h0M546.2 134h0M557.7 145.8h0M513.6 156.2h0M548.1 119.2h0M555.4 160.3h0M545.2 139.2h0M522.8 155.1h0M535.1 147.8h0M540.7 162.9h0M551.4 145h0M560.6 137.5h0M538.8 128.3h0M535.9 124h0M545.5 129.9h0M549.1 122.7h0M541.6 127.9h0M545.7 124.4h0M543.4 150.7h0M557.8 134.8h0M537.3 141.6h0M558.8 146.6h0M513.2 153.7h0M540.2 139.9h0M563 138.7h0M541.2 135.3h0M528.6 142.7h0M560.4 132.5h0M546.6 162.1h0M561.7 153.4h0M557.7 148.3h0M533.7 133h0M557.8 125.8h0M547.6 156h0M558.6 120.8h0M560 123.6h0M554.4 136.2h0M559.4 137.8h0M535.2 139.6h0M544.3 148.4h0M545.1 124.2h0M555.5 136.9h0M562.1 126.2h0M549.5 143.3h0M549.9 125.8h0M548.4 160.4h0M544.4 120.4h0M553 127.8h0M558.2 129.1h0M537.7 143.3h0M530.3 143.5h0M561.2 153.8h0M545.4 133.2h0M545 113.6h0M559.4 128.9h0M548.8 134.5h0M519.3 161.4h0M564.9 111.9h0M566.9 122.8h0M549.2 126.6h0M557.3 128.9h0M544.4 129.8h0M562.2 144.6h0M545 132.9h0M535.4 135.4h0M566 114.9h0M544.6 157h0M557.8 138.1h0M536.5 163.8h0M556.7 133.2h0M569.1 143.9h0M537.2 150.7h0M561.7 115h0M554.1 136.9h0M550.8 108.8h0M556.4 128.2h0M534.3 144.4h0M537.5 141h0M562.3 123h0M542.6 164.9h0M563.1 109.9h0M553.4 121.8h0M554.3 142.2h0M544.4 141.1h0M571.8 132.2h0M542.3 166.9h0M566 136.4h0M536 165h0M553.1 125.3h0M550.8 126.7h0M551.4 143.6h0M550.4 151.5h0M538.9 139h0M545.5 126.2h0M549 131.9h0M542.2 141.1h0M557.1 140.2h0M548.4 131.5h0M563.7 123.8h0M539.4 143.4h0M552.5 137.4h0M528.4 149.2h0M553.1 124.8h0M549.3 161.9h0M537.6 131.7h0M543.8 123h0M551.1 140.5h0M531.3 139.8h0M528.7 138.7h0M553.8 125.6h0M565.6 135.3h0M532.3 140h0M571.9 118.7h0M524.2 128.8h0M530.9 124.7h0M557.1 134.9h0M541.7 124.2h0M557.9 141.4h0M532.1 141.5h0M553.6 131.3h0M543.9 153.1h0M529.7 137.7h0M522.9 140.4h0M538.5 140.6h0M542 134.2h0M548.6 137.5h0M549.5 148h0M556.1 131.5h0M546 125.9h0M555.6 138.2h0M556.2 145.6h0M532.5 169h0M558.7 132.3h0M545 152h0M539.7 138.4h0M539.4 129.7h0M548 131.8h0M550.7 144.5h0M542.9 127.9h0M551.2 145.4h0M530.7 148.4h0M527.1 132.4h0M523.8 137.6h0M529 156.3h0M555.5 145.5h0M554.9 133.9h0M542.9 135.6h0M535.6 150.8h0M534.8 135.3h0M545.5 127.3h0M531.9 153.6h0M546.3 154h0M539.8 139.9h0M531.5 151h0M535.8 137.2h0M516.1 146.9h0M530.2 143.1h0M553.6 127.9h0M584.7 110.3h0M546.6 143.5h0M570.1 138.1h0M523.8 138.2h0M551 144.8h0M553.6 143.4h0M529.6 130.5h0M532.9 113.2h0M541.5 118.5h0M554.5 143.3h0M536.8 145.1h0M539.4 138.7h0M542.8 135h0M536.4 138.8h0M547.6 135.6h0M551.3 140.5h0M554.3 138.1h0M540.3 136.3h0M555.8 132.8h0M570 126.6h0M543.9 145.7h0M555.1 127.9h0M534.6 140.7h0M542.5 132.8h0M537.3 164.5h0M561.3 146h0M528.8 147.3h0M521 145.7h0M553.3 145.8h0M568.7 118.2h0M548.9 151.6h0M541.1 150.6h0M549.1 128.5h0M549.1 125.2h0M511.8 143.2h0M568.4 130.7h0M546.7 154.1h0M531.9 164.1h0M545.3 135.5h0M541.3 123.6h0M560.3 156h0M550.2 140h0M561.1 115.2h0M545.1 145.4h0M553.6 136.8h0M557.3 128.4h0M537.3 137.5h0M545.6 147.8h0M543.9 147.3h0M527.9 132h0M541.3 146.6h0M546 136.3h0M521.3 144.6h0M557.7 125.5h0M548.8 125.9h0M532.8 145.6h0M551.9 139.6h0M540.3 137.3h0M567.8 138.8h0M547.4 138.2h0M549.7 145h0M560.1 129.1h0M540.4 143.9h0M543.9 135.4h0M559.5 123.6h0M536.7 151.3h0M536.9 140.5h0M558 151.5h0M573.4 110.8h0M551 125.8h0M562.7 123.6h0M540.6 128.2h0M550.8 148.8h0M559.6 132.1h0M560.9 125.5h0M536.2 135.1h0M543.9 124.8h0M549.9 114.3h0M543 126.5h0M543.8 136.8h0M516.4 141.7h0M548.5 125h0M558.5 136.1h0M548.9 145.8h0M549.6 141.8h0M526 147.8h0M557.2 130.8h0M544.4 128.9h0M535.4 142.7h0M565.1 126.7h0M554.8 134.4h0M534.3 129h0M563.6 106.5h0M569.2 124.3h0M555.7 125.8h0M539.2 156.7h0M531.4 132.8h0M544.8 140.6h0M555.3 158.7h0M544.8 133h0M547.1 130.2h0M559 137.6h0M542.3 120.9h0M531.8 148.6h0M549.3 132.4h0M539.8 144.7h0M540.4 126.8h0M558.4 113.3h0M558.1 121.5h0M554.4 147.9h0M562.4 148.4h0M548.8 111.4h0M557.5 110.2h0M548.4 127h0M554.9 122.4h0M559.1 139.8h0M553.4 128.4h0M553.3 146.7h0M562.4 136h0M557 144.6h0M547.5 145.1h0M543.4 158h0M556.7 152.1h0M543.2 132.3h0M547.9 134.3h0M560 120.8h0M547.7 143h0M538.2 126.7h0M539.9 143.6h0M562.1 124.8h0M561.7 108.5h0M568.9 132.8h0M550.8 140.4h0M548.4 143.4h0M542.5 142h0M543.6 145.8h0M547.5 127.7h0M547.2 155.4h0M555 140.9h0M536.7 133.5h0M543.7 110.4h0M541.9 136.5h0M556.9 136.6h0M554.5 129h0M524.7 143.8h0M532.9 158.1h0M521 128h0M549.7 135.4h0M537.4 143h0M559.4 121.9h0M531.4 142h0M561.7 149.2h0M549.4 130.4h0M540.6 154.6h0M540.6 148.2h0M544.1 149.9h0M567.8 114.9h0M558.5 135.2h0M532.1 147.3h0M541.4 130.2h0M550.2 118.7h0M518.4 149.8h0M565.1 121h0M548.9 156.9h0M548.6 132.5h0M555.7 162h0M537.6 134.2h0M547.6 159.4h0M525.5 154.4h0M552.8 148.9h0M545.9 125h0M567.4 157.4h0M559.4 112.5h0M534.3 120.6h0M559.2 136.4h0M555 121.1h0M550.3 123.3h0M539.3 141.4h0M533.2 124.1h0M534.8 143.6h0M565.7 141.6h0M553.8 152.3h0M542.2 146.8h0M558.9 131.4h0M525.2 131.5h0M555.7 125.5h0M554.4 150.3h0M549.6 121.9h0M554.1 139.5h0M540.6 160h0M534.8 144.5h0M535.9 117.9h0M555.5 146.3h0M543 113.5h0M567.9 114.7h0M544.4 133h0M526.4 150.7h0M552.5 133.6h0M564.3 131.4h0M561.2 137.8h0M552.5 130.3h0M561.9 143.1h0M544.4 147.6h0M550.8 134.6h0M547.1 141.6h0M555.7 141.5h0M549.2 142.6h0M564.2 141.9h0M534 147.6h0M561.8 132.3h0M569.2 116.2h0M529.9 154.6h0M533.1 145.7h0M568.4 135.1h0M538.1 142.8h0M556.8 145.3h0M530.3 122.9h0M547.9 135.4h0M513.4 170.7h0M515.8 135.1h0M534.9 126.7h0M565.2 114h0M551.2 119.3h0M544.4 109.4h0M534.2 160.5h0M551.8 142.4h0M548.6 142.4h0M566.3 118.8h0M561.9 142.3h0M551.9 134.2h0M536.4 125.8h0M542.1 124.2h0M535.9 153.6h0M543 128.7h0M543.3 144.2h0M546.1 129.1h0M558.3 121.2h0M531.3 128h0M532.8 151.3h0M546.7 123.2h0M530.2 144.5h0M529.7 157.3h0M563.3 122.6h0M541.2 94.7h0M535.2 145.4h0M554.9 145.2h0M560.8 101.4h0M525.3 143.9h0M550.7 155.4h0M539.3 123.1h0M516.8 167.7h0M550.3 155.3h0M569.1 133.4h0M552.8 125.5h0M544.2 140.9h0M544.9 136.9h0M576.3 142.3h0M557.2 134.3h0M557.3 119.8h0M557.3 107.5h0M551.8 139h0M570.2 118.2h0M562.7 133.5h0M554.6 149.8h0M538.1 117.6h0M552.3 153.5h0M548.3 125.3h0M554.9 132.1h0M556.2 140.8h0M566.2 120.1h0M541.1 150h0M557 129.9h0M545 138.6h0M564.8 140.1h0M543.2 118.1h0M562.4 117.3h0M540.5 124.2h0M539.7 105.9h0M559.9 127.2h0M558.5 121.5h0M538.3 113h0M551.5 156.5h0M577.7 127.9h0M554.5 130.7h0M573.7 136h0M540.6 134.5h0M538 132.4h0M548.9 129.9h0M543 138.1h0M549.4 129.9h0M545.7 117.1h0M557.6 130.9h0M551.5 116.3h0M529 148.4h0M550.7 156.7h0M548.7 137.2h0M549 119h0M578.3 138.5h0M552 130.6h0M566.9 111.1h0M538.5 146.5h0M554.1 126.7h0M532.1 128.8h0M533.2 149.5h0M551.8 145.4h0M540.7 144.3h0M529.1 156h0M548.4 146h0M549.3 136.9h0M541.3 136.5h0M553.2 112.1h0M528.3 141.4h0M581.7 140.6h0M556.3 141.9h0M518.5 135.3h0M551.7 147.3h0M544.9 130.2h0M558 132.6h0M543.4 161.4h0M546.5 132.5h0M544.7 127.7h0M576.8 136.2h0M551.3 134.2h0M537.5 142.8h0M554.3 127.6h0M561.5 122.5h0M555.2 142.3h0M533.7 144.3h0M554 134.1h0M538.3 123.5h0M558 133.4h0M546.8 149h0M536.7 131.4h0M558.2 114.3h0M565.8 139.9h0M539.5 152.5h0M557.3 142.2h0M542 165.9h0M542.6 139.6h0M537.5 137.1h0M552.9 147.9h0M554 128.9h0M535.8 138.6h0M532.9 155.6h0M550.7 124.7h0M573.9 101.5h0M544.8 129.9h0M562.4 132h0M557.6 130.6h0M533.2 147.9h0M543.4 123.7h0M561.3 145.9h0M543.9 140.6h0M564.5 133.3h0M538.5 129.3h0M513.8 142.5h0M540.1 129.8h0M532.6 171.5h0M538.3 144.6h0M552.2 155.3h0M537.7 142.2h0M536.7 158.5h0M560.5 134.1h0M545.7 109.1h0M554.4 127.3h0M552.5 125.9h0M554.1 106.4h0M530.7 145.7h0M554.2 127.6h0M536.4 151.5h0M550.4 146.5h0M544.8 138.8h0M551 125.7h0M551.2 147.1h0M560.9 118.4h0M553.3 147.4h0M574 155.8h0M538.3 133.6h0M547.6 150.9h0M542.1 141.5h0M544.4 142.5h0M552.5 125.5h0M529.7 113.7h0M539.5 146h0M546.5 126.8h0M541.9 137.1h0M554.1 145.5h0M573.7 143.2h0M554.3 145.3h0M549 119.6h0M537.8 142.9h0M551.2 151.8h0M551.4 131.4h0M531.9 136h0M567.3 141.6h0M531.1 145.3h0M527.5 118.5h0M542.6 139.1h0M534.6 143.6h0M552.5 127.1h0M559.6 140.3h0M557.2 164.1h0M534.6 145.6h0M562.7 128.4h0M544.9 145.4h0M541.8 146.2h0M565.2 140.9h0M562.9 110.3h0M525.7 122.1h0M547.9 123.7h0M564.8 123.8h0M529.8 137.4h0M559.4 124.1h0M553.5 141.7h0M557 150.5h0M560.8 141h0M561 140.9h0M542.6 130h0M526.8 135.4h0M529.3 133.6h0M531.8 148.6h0M538.9 146.2h0M548.1 153.2h0M541.8 145.1h0M533.4 115.9h0M540.4 136.5h0M546.3 140.7h0M533.9 127.7h0M532 142h0M561.3 130.6h0M542 152.6h0M568.1 124.8h0M560.7 140h0M549.6 116.5h0M563.5 117.8h0M551.7 130.2h0M545.1 155.1h0M534.4 142.3h0M558.7 141.7h0M543.8 129.7h0M527 157.1h0M557.8 141.3h0M523.4 147.9h0M540.7 134.5h0M547.1 156.9h0M558 135.4h0M535.5 153h0M557.2 113.8h0M552.1 138.6h0M559.3 139.1h0M544.7 132.3h0M541.9 145.3h0M528.4 154.7h0M557.4 146.9h0M555.4 135.7h0M547.9 122.6h0M527.3 144.8h0M559.6 120.4h0M541.6 127.7h0M568.1 146.4h0M546.5 125.2h0M544.6 136.5h0M546.8 118.1h0M532.3 148.9h0M550.5 148.8h0M561.2 136.6h0M553.2 132.8h0M544.8 131.9h0M564.8 141.1h0M568.4 122.4h0M554.6 144.8h0M545.6 134.3h0M554.8 129.9h0M560.7 133h0M535.1 135.4h0M545.4 133.8h0M555.8 128.8h0M551.8 154.5h0M548.3 113.5h0M546.5 147.6h0M544.8 140h0M560.4 126h0M557 118.7h0M562.6 138.1h0M544.4 155.4h0M544.8 151.5h0M545 152.6h0M561.8 145.4h0M561.5 136.1h0M553.5 154.5h0M546.8 121.7h0M549.5 129.8h0M545.2 133.8h0M542.8 135.4h0M523.4 156.6h0M538.5 137.6h0M534.4 113.7h0M554 163h0M522.8 150h0M551.7 125.8h0M543.8 149.4h0M542.3 136.2h0M543.8 154.8h0M531.7 117.4h0M553.6 132.1h0M551.2 117.9h0M542.9 143.8h0M559.5 113.8h0M533.4 165.2h0M557.6 136.3h0M527.1 117.2h0M533.7 148.4h0M566.8 137.1h0M527 142h0M546.8 129.5h0M545.2 126.7h0M543.2 117.2h0M551.2 126.2h0M537.3 166.1h0M522 133.7h0M560.2 143.1h0M524.4 152.8h0M574.5 137.7h0M547.1 126.4h0M545.1 112.8h0M549.3 128.8h0M562.7 116.6h0M536 138.2h0M550.4 120.8h0M558.7 122.2h0M541.3 151.6h0M577.5 122.5h0M558.6 128.8h0M554.1 143.6h0M556.5 151.1h0M561.5 132.4h0M555.8 129.8h0M533.6 168.5h0M554.2 133.1h0M554.5 148.9h0M550.3 143.6h0M514.2 150.8h0M554.1 133.7h0M562 132.8h0M555.1 131.4h0M553.4 132.2h0M539.7 143.8h0M543.5 123.3h0M546.2 146.6h0M558.3 138.2h0M559.9 137.5h0M546 131.8h0M552.3 110.6h0M540.3 148.2h0M524.7 149.9h0M553.4 123.8h0M539.2 142.3h0M540.7 153.6h0M557.4 134.4h0M543.5 121.9h0M547.9 165.4h0M544 139.1h0M549.1 119.8h0M578.9 122.2h0M560.5 155.2h0M573.8 127.8h0M539.5 117.5h0M555.4 148.9h0M531.1 155.1h0M534.1 130.4h0M539 132.4h0M534.8 113.4h0M549.5 148.2h0M539.7 128h0M571.3 133.2h0M569 123.8h0M537.1 164.3h0M526.4 153.6h0M545.4 147.6h0M556.5 142.5h0M555.4 115.8h0M525.8 163.9h0M552.7 161.9h0M557.2 140.8h0M552.3 151h0M544.8 122.8h0M546.6 129.1h0M560.9 112.7h0M534.2 134.6h0M550.5 144.7h0M533.4 116.6h0M541.7 136.3h0M549.4 128.5h0M537 139.2h0M564.3 126.5h0M565.9 141.4h0M546.7 131.1h0M545.4 135.5h0M548.3 161h0M569.6 148.9h0M553.8 141h0M554.4 158.1h0M565.6 139.2h0M542.3 130.9h0M562.5 121h0M559.8 131h0M538.5 144.3h0M547.4 134.7h0M554.9 113.2h0M555.1 139.8h0M549.7 132.6h0M554.3 112.8h0M533.4 148.3h0M530.2 140.7h0M555.8 133.1h0M544 132.4h0M553.2 114.9h0M538.1 147.2h0M545.2 153.9h0M528.9 150.4h0M541.3 119.5h0M579 109.8h0M565.9 137.5h0M575.3 119.8h0M546.2 139h0M544.3 151.1h0M555.4 103.3h0M562 144.8h0M560.9 143.6h0M554.2 128.1h0M563.3 133h0M554.5 141.2h0M562.5 136.9h0M550 143.2h0M516.8 133h0M552 130.5h0M537 140.3h0M563 139.2h0M536.6 151.9h0M544 150h0M535.9 148.5h0M550.5 122.4h0M562.9 140.5h0M535.5 140.5h0M549.5 140.5h0M537.1 127.6h0M569.3 117.6h0M547.2 145.9h0M537.7 150.1h0M552.8 132.1h0M538.7 167.4h0M565.4 146.4h0M552.8 143.1h0M527.7 161.7h0M543 156.6h0M554.4 123.4h0M561.3 130h0M556.1 128.8h0M532.2 143.2h0M546.2 137.9h0M546 161.1h0M547.1 118.1h0M544.6 159.1h0M545.1 132.3h0M561.7 134.9h0M562.7 123.7h0M547.7 129h0M556.4 122.4h0M548.1 118.3h0M522.3 125.7h0M540.5 151.1h0M537.5 147.9h0M541.5 128.7h0M523.3 162.6h0M573 106.7h0M557.6 132.1h0M548.6 128h0M541.1 135.6h0M553.6 138.6h0M544 115.8h0M537.9 130.3h0M533.1 141.4h0M559.4 118.8h0M537.3 135.5h0M555.8 129.7h0M542.3 131.2h0M538.5 139.8h0M517.7 156.8h0M550.8 115.5h0M546.2 156.6h0M558.5 137.5h0M525.5 130.5h0M567.9 132.7h0M543.5 127.3h0M534.3 149.7h0M554.4 147h0M559.5 111.8h0M551.1 130.1h0M560.3 117.6h0M554.1 135.2h0M556.9 108.9h0M543.9 151h0M551.1 122.5h0M545.4 130.9h0M547.6 139h0M541 151.6h0M535.1 165.1h0M551.8 132.8h0M556.1 137.5h0M530 149.7h0M544.4 142.1h0M563.2 148.7h0M560.5 138.7h0M559.2 157h0M541.5 139.6h0M546.4 129.2h0M544.1 133h0M540.8 154h0M556.9 132.6h0M546.5 144.2h0M550.5 131.5h0M557.6 136.6h0M559.4 134.3h0M550.7 152.1h0M563.3 151.9h0M540.5 112.9h0M514.7 161.6h0M545.6 148h0M540.2 167.7h0M546.8 141h0M546.2 140h0M556.8 132.6h0M561.3 123h0M549.6 143.5h0M555.1 115.5h0M537.6 147.7h0M542.7 124.1h0M555 127.8h0M558.5 123.1h0M529.4 164.4h0M564.3 123.1h0M559.7 126.7h0M541.5 146.6h0M541.5 142.2h0M547.3 156.2h0M543.3 154.6h0M553.9 121.8h0M541.7 151.9h0M538.1 149.1h0M547.1 127.5h0M548.8 136.9h0M573.3 128h0M558.1 150.1h0M553.8 125.7h0M553.2 140.7h0M556.2 114.1h0M540.9 120.1h0M573.4 135.8h0M543 134h0M553.4 146.8h0M538 161.7h0M558.9 128.5h0M548.4 147.1h0M548.6 137.2h0M559.8 120.7h0M552.3 147.3h0M552.2 150.8h0M530.4 141.1h0M542.3 107.6h0M550.4 130.6h0M572.5 132.8h0M540.6 136.3h0M535 139h0M543.6 114.5h0M542.4 137.8h0M525.2 153.3h0M554.9 131h0M558.5 145.3h0M558.6 139.8h0M567.4 123.7h0M556.8 140.5h0M542.7 149.2h0M538.8 142.8h0M541.9 147.8h0M544.3 127.1h0M562.4 123.5h0M545 125.1h0M526.2 145.8h0M532.6 134.5h0M527.9 138h0M548.7 138.6h0M562 159.4h0M539.1 132.3h0M541.6 134.3h0M544.9 146.6h0M540.2 164.4h0M548.6 127.1h0M547.2 135.7h0M559.4 119.5h0M557.5 122.9h0M550.5 137.8h0M528.3 143.1h0M543.9 132.7h0M541.9 147.2h0M548.3 137.4h0M534.8 139.2h0M563.8 117.7h0M539.3 135.8h0M565.3 139.6h0M534.6 148.2h0M554.6 139.6h0M555.6 116.8h0M549.2 133.7h0M542.8 144.2h0M553.2 127.8h0M562.2 144.4h0M549.2 119.5h0M569.8 132.4h0M555 147.4h0M560.1 109.4h0M555.5 115h0M551.3 127.4h0M547 151.4h0M549.8 116.4h0M542.8 134.4h0M553.4 134h0M546.5 137h0M532 165.8h0M556 128.1h0M541.7 153.8h0M554 147.1h0M545.9 141.5h0M555.4 131.4h0M534.8 137.8h0M540.8 136.1h0M551.5 125.8h0M531.1 122.8h0M536.5 145.9h0M529.1 147h0M533.5 127h0M561.8 135.7h0M549.2 144.5h0M535.7 145.6h0M531.3 135.4h0M548.4 117.7h0M535.6 163h0M550.9 158.8h0M545.5 164.9h0M541.4 141.8h0M550.9 139.1h0M540.9 138h0M547.6 143.8h0M529.7 153.1h0M533.4 125.5h0M541 118.3h0M540.1 150.3h0M560.3 109.5h0M558.1 143.4h0M546.3 130.8h0M570.1 138.5h0M540.9 178.2h0M553.3 129.2h0M546.1 120.8h0M544.7 159.1h0M557.5 127.9h0M560.5 126.5h0M552.9 149.7h0M561.7 101.2h0M563.2 127.1h0M551.4 129.3h0M536.4 141h0M554.8 136h0M548.2 126.1h0M543.5 124.4h0M523.2 145.8h0M546.9 143.2h0M540.5 123.6h0M537.3 139.4h0M545.5 138.6h0M541.3 123.3h0M538.3 131.3h0M541.1 148h0M536.9 155.8h0M559.5 115.7h0M555 129.7h0M559.8 130.6h0M537.2 124.4h0M551.1 138h0M563.8 129.7h0M550.9 118.3h0M536.4 135.5h0M531.9 140.3h0M559.6 130h0M525.5 149.2h0M555.6 128.7h0M539.2 146.8h0M537.5 148.2h0M547.6 137h0M532.4 154h0M549.2 145.4h0M543.7 134.6h0M555.5 127.6h0M548 132h0M527.8 138.5h0M553.5 161.9h0M550 135.2h0M542.6 150.9h0M553.2 154.2h0M540.6 124.1h0M540.1 134.4h0M551.7 131.2h0M529.8 162h0M541.5 153.8h0M553.6 138.6h0M561.7 147h0M529.2 157.2h0M547.1 131.7h0M530.2 152.8h0M528.2 153.5h0M566.9 138.9h0M532.1 138.1h0M551.2 127.6h0M546.5 142.1h0M575.1 116h0M542.9 118h0M542.3 146.2h0M552.6 133h0M533.4 154.1h0M552.2 126.1h0M528.8 142.3h0M549.7 147.5h0M561.4 122.4h0M551.9 128.9h0M530.7 147.8h0M553.6 120.2h0M542.1 176.7h0M549.8 124.1h0M556.3 118.4h0M551.6 133.9h0M556.3 147.3h0M569.9 121.8h0M562 137.6h0M556.6 131h0M537.4 147.4h0M539.5 154.2h0M548.1 143.9h0M538.7 142.9h0M549.7 138h0M534.6 135.4h0M552.8 125.1h0M557.1 111.8h0M561.4 148.1h0M532.4 145.4h0M564.5 134.2h0M567 124.2h0M541.8 132.8h0M548.4 147.8h0M536.3 140.7h0M532.5 150.7h0M540 129.8h0M553.2 118.4h0M540.9 130.4h0M538.8 143.9h0M539.4 140.5h0M532.6 118.4h0M554.1 140.8h0M544 134.4h0M536.4 144.2h0M547 142.4h0M533.9 136.8h0M537.6 149.9h0M534.8 116.6h0M558.2 148.6h0M553.1 140.1h0M550 145.7h0M569.8 125.9h0M526.8 141.4h0M547.2 117.7h0M539.8 127h0M538.5 149.7h0M551.3 124.9h0M564.8 139.3h0M544.3 120.8h0M559.8 147.5h0M564.4 126.5h0M555.7 121.2h0M547.1 124.2h0M539.5 153h0M548.8 151.8h0M511.1 156.1h0M560.4 118.1h0M550.9 135.3h0M555.1 132.4h0M563.1 118.1h0M539.3 156h0M541.7 131.8h0M551.4 135.4h0M549 146.4h0M552 127.1h0M525 140.1h0M557.7 142.7h0M530.3 126.3h0M533.9 116.3h0M532.6 146.3h0M541.8 137.2h0M551.4 144.1h0M555.2 133.5h0M542.3 144.2h0M546.8 140.3h0M534.4 116.6h0M543.4 123h0M530.9 157.1h0M553.2 133.4h0M533.9 132.9h0M549 144.5h0M535.1 133.2h0M540.6 156.1h0M564 149.9h0M547 118.9h0M536 138.4h0M532.7 151.4h0M561.6 125.2h0M552.1 141.6h0M540.5 131.8h0M545.9 142.6h0M544.8 123.5h0M545.4 140.3h0M548.7 140.3h0M559.3 143.1h0M593.9 107.5h0M535.1 140h0M536.9 148.2h0M550 129.3h0M545 138.5h0M553.7 142.7h0M540.4 127h0M543.6 135.4h0M572.9 130.6h0M536.2 158.4h0M548.1 144.1h0M535.3 149.5h0M553.1 141.8h0M546.5 134h0M544.6 139h0M542.9 132.3h0M527.5 150.1h0M540.3 133.5h0M548.5 133.5h0M542 128.6h0M580.4 136.3h0M565.2 110.9h0M550.8 127h0M546.1 141.8h0M539.3 128.4h0M549.8 138.2h0M552.4 130.3h0M552.9 123.9h0M558 161.8h0M567.3 118.4h0M540.1 144.9h0M550.9 127.6h0M530.2 136h0M552.7 156.5h0M544.4 138h0M542.5 126.7h0M531.9 131.2h0M532.8 148h0M530.8 149.2h0M545.7 119.3h0M539.7 139.5h0M538.4 149.3h0M571.3 120h0M567.6 139.1h0M571.4 95.5h0M539.5 143.4h0M554 136.4h0M543.6 141.6h0M539.2 136.4h0M555.7 127.9h0M569.7 123.2h0M550.2 134h0M546.5 139h0M541.1 148.5h0M555.1 121.3h0M555.9 132.4h0M543.1 128.5h0M557.6 148.9h0M551.2 139.4h0M536.6 154.6h0M539.5 157h0M551.5 138.5h0M543.1 131.9h0M565.4 127.3h0M547.1 123.8h0M539.3 128.9h0M546.8 115.3h0M546.2 112.2h0M549.6 127.8h0M536.9 146.6h0M555.1 129.8h0M550.8 136.7h0M541.8 129.5h0M543.1 156.9h0M548 141.1h0M559.5 120.8h0M560.1 146.5h0M568.9 143.3h0M547.4 143.8h0M563.5 133.4h0M552.3 138.9h0M540.8 170.9h0M543.7 127h0M547.9 141h0M558.8 134.8h0M520.1 142h0M541.2 154h0M551.6 127.7h0M563.8 119.8h0M533.3 144.2h0M527.9 124.8h0M537 140.5h0M565 134.4h0M556.4 130.5h0M526.8 159.1h0M529.2 136.5h0M570.4 141h0M522.7 120.9h0M555.5 142.8h0M551.5 123.8h0M549.1 143.6h0M563.8 131h0M540.4 135.5h0M547.4 127.1h0M553.9 125.4h0M558.6 134.2h0M552.9 139.4h0M548.4 132.9h0M542.1 138.5h0M549.6 125.9h0M540.1 141.4h0M551 112.8h0M531.9 150.8h0M545 140.5h0M570 116.6h0M550.7 144.7h0M561.9 128.4h0M552.3 131.8h0M546.6 149.4h0M561.7 148.4h0M545.2 142.8h0M545.4 143.2h0M557.9 153.7h0M537.8 142.1h0M570.9 125.7h0M545.5 164.5h0M543.3 131.7h0M552.2 130.2h0M539.2 137.2h0M554.1 144.4h0M541.8 123.5h0M571.9 114.6h0M537.8 143.4h0M557 109.1h0M532 149.4h0M536.8 135.4h0M538 122.8h0M543.2 156.2h0M550.3 140.5h0M541.5 146.9h0M547.9 138.3h0M545.1 129.3h0M542.4 124.6h0M560.4 140.2h0M536.6 147.8h0M540.9 124.9h0M532.4 130.2h0M565.1 121.4h0M539 107.7h0M537.7 142.2h0M548.1 147.4h0M542.6 130.3h0M547.7 125h0M548.5 144.2h0M553 145.6h0M545.3 136.6h0M528.7 151.9h0M529.8 135.3h0M556.9 131.6h0M563.7 116.5h0M547.3 124.9h0M534.8 122.4h0M544.2 145.3h0M547.7 136.8h0M553 130.5h0M563.5 127h0M556.5 134.3h0M556.9 135.1h0M528.1 156.1h0M569.9 124.6h0M531.6 136.2h0M539.3 155.4h0M524.5 157.6h0M531 128.7h0M549.2 137.7h0M545.4 159.2h0M548.5 119.7h0M554 150.5h0M558.8 133.3h0M555.3 116.4h0M544.7 129.7h0M568.3 137.2h0M565.6 117.9h0M558.6 111.9h0M531.9 159.3h0M541.1 154.6h0M546 129.5h0M549 112.1h0M538 147.3h0M544.8 136.4h0M561.7 126.3h0M552.8 135h0M536.8 128.4h0M546.4 142.5h0M541.2 152.8h0M549 124.7h0M565 108.5h0M542.9 138.1h0M551.2 132.3h0M547 120.8h0M547.1 125h0M548.1 141.7h0M556.5 124.2h0M535.8 154.9h0M538.3 154.6h0M539.3 141.3h0M551.9 154.4h0M546.5 126.6h0M538.5 136.8h0M528.9 153.1h0M537.6 132.7h0M555 141.9h0M548 147.3h0M553.2 145.6h0M563.2 123.6h0M539.1 161.2h0M541.4 137.6h0M528.7 138.5h0M553.6 129.2h0M548.3 141.2h0M569.3 112.7h0M551.7 125h0M532.6 131.2h0M552.7 125.4h0M536.2 143.4h0M570.2 111.6h0M559.3 125.9h0M565.6 143.3h0M548.8 139.5h0M559 126.8h0M545.2 142.3h0M548.5 129.9h0M549 134.2h0M562.3 132.2h0M532 133h0M547.2 139.1h0M563.8 107.7h0M555.7 124.5h0M554 118.1h0M536.5 130.8h0M561 125.8h0M545.8 133.7h0M565.9 153.4h0M569.5 126.8h0M530 130.6h0M540.6 127.6h0M567.2 127h0M555.8 134.6h0M520.7 141.1h0M540.5 93.8h0M554.5 127.2h0M527.4 146.4h0M532.3 121.9h0M552.1 126.1h0M567.8 131.2h0M549.2 126h0M560 122.5h0M544.4 132.5h0M559.5 142.4h0M566.7 138.2h0M545 130.7h0M567.5 118.7h0M544 137.2h0M556.4 123.9h0M562.1 122.8h0M552.1 125.7h0M550.5 136.6h0M544.6 148.7h0M551.1 145.3h0M538.7 130.3h0M538.9 145.9h0M546.3 117.7h0M538.3 138.5h0M552.5 132.7h0M534.8 131h0M544 157.6h0M558.8 134.3h0M548.9 139h0M553.6 131.2h0M545 143.1h0M552.7 141.6h0M538.7 126.8h0M560.2 116.7h0M555.6 143.9h0M563.5 149.7h0M546.8 142.7h0M541.3 131.2h0M540 118.9h0M549.2 153.3h0M551.1 129.7h0M567.2 121h0M559.1 137.2h0M569.3 124.6h0M540.8 151.6h0M565 126h0M535.6 132.8h0M542.3 139.5h0M558.7 111.1h0M539.3 150.9h0M566 124.2h0M528.9 135.8h0M520.6 153.7h0M533.3 151h0M569.5 121.3h0M548.1 132.7h0M543.4 136.7h0M532.3 145.2h0M555.2 137.4h0M529.3 169.2h0M550.8 142.9h0M554.2 145.6h0M553.5 152h0M566.4 121.6h0M556.9 125.3h0M540.7 173.1h0M570.6 126.3h0M567.3 103.6h0M540.5 129.4h0M531 143.8h0M539.9 146.3h0M541.4 116.8h0M546.4 133.5h0M545.3 150h0M553.7 136.4h0M527.8 144.7h0M557.3 134.1h0M562.6 135.8h0M525.8 161.9h0M540.1 132.5h0M542.4 139.2h0M563.3 138.2h0M559.1 131.2h0M548.4 114.7h0M522.2 137.7h0M556.8 93.7h0M554.3 144.8h0M538.8 134.4h0M539.1 158.4h0M534.8 157.4h0M553.4 125.8h0M557.6 154.3h0M566.7 141.7h0M532.9 156.9h0M568.8 132.9h0M562.3 130.9h0M551 132h0M542.3 154.7h0M548.6 113.6h0M562.1 128.8h0M552.4 131.5h0M545.4 140.8h0M546.2 157.7h0M528.6 150.8h0M552.6 149.4h0M541.5 120.3h0M554.4 135h0M542.7 155.9h0M523.2 137.9h0M542.6 137.5h0M550.5 123h0M548.8 116.1h0M546 130.6h0M553.8 145.9h0M537.6 142.4h0M552 141.9h0M563.5 112h0M557.4 123h0M565.9 138.6h0M528.6 142.9h0M547.8 153.8h0M542.2 149h0M553.7 137h0M541.8 132.7h0M533.1 143.8h0M530.5 147.9h0M538.9 137.3h0M568.9 145.1h0M541.7 129.5h0M560.8 160.1h0M562.5 140.1h0M536.2 163.5h0M532.1 131.9h0M576.2 136.8h0M538.9 138.5h0M545 157.5h0M557.7 160.8h0M536.2 139.1h0M523.2 154.9h0M546.6 163.8h0M527.5 153.9h0M527.8 161.2h0M545.4 139.4h0M566.9 140.1h0M561 159.3h0M536.9 144.9h0M544.8 132.7h0M555.2 133.4h0M547.7 149.1h0M543.7 138.3h0M554.2 149.2h0M559.8 148.6h0M563.8 144.2h0M530.6 153.2h0M529.9 139.5h0M559.9 127.7h0M564 154h0M524 153h0M533 139.3h0M551.7 120.4h0M537.3 131.4h0M533.4 132.1h0M545.8 134h0M538.5 141.8h0M552.2 122h0M566.8 121.5h0M544.2 138.9h0M539 152.9h0M534.8 136.9h0M554.7 142h0M539.1 139.1h0M538.3 153.6h0M557.2 140.1h0M555.7 133.1h0M542.6 118.5h0M544.8 145h0M547.8 141.5h0M545.2 116.6h0M548.9 141.3h0M562.4 135h0M538.9 142.8h0M560.8 139.4h0M575.8 128.5h0M521.8 161.2h0M552.6 146.6h0M535.7 137.3h0M561.5 128.7h0M557.3 148.1h0M550.1 145.2h0M539.4 117.9h0M558.5 146.3h0M550.9 144.8h0M540.5 117.7h0M538 148.4h0M549.5 138.2h0M575.4 130.3h0M551.2 138.9h0M553.2 156.2h0M564.4 131.9h0M548.2 134.4h0M518.5 149.2h0M553.3 137.5h0M542.4 127.6h0M531.1 140.7h0M550.3 127.2h0M555.2 140.6h0M556.9 140.4h0M573.1 140.3h0M547.2 130h0M533.7 141.9h0M550.6 138.9h0M547.6 144.8h0M542.3 129.2h0M536.6 132.2h0M551.6 161.5h0M546.1 127h0M543.2 139.9h0M560.4 123.8h0M529.5 150.9h0M565.3 136.9h0M554.7 123.6h0M534.5 140.5h0M551.9 134.4h0M544.9 153.2h0M541.8 155h0M552.3 131.8h0M551.3 106.6h0M558 129.6h0M527.8 126.3h0M543 131.5h0M547.8 128.9h0M572.3 148.4h0M550.3 129.1h0M565 129.6h0M546.5 132.1h0M556.8 152.9h0M539 111.2h0M561.8 138.9h0M530.5 145.5h0M558.3 118.8h0M555 131.9h0M542.6 127.6h0M538.6 136.6h0M534.8 137.9h0M549.6 128.4h0M543.8 139.9h0M546.2 154.2h0M562.3 114.6h0M551.7 132.6h0M532.2 151h0M557.1 129.5h0M546.5 143.9h0M551.5 128.5h0M548 146.8h0M539.9 123.8h0M556 129.9h0M561.7 119.6h0M553.5 137.6h0M535.7 143h0M562.3 139.3h0M556.3 133.8h0M543.3 133.8h0M536.5 135.2h0M537.9 143.4h0M549.8 161.2h0M523.3 138.2h0M570.8 120h0M553.5 135.2h0M546.8 125.1h0M518.4 146.8h0M546 131.9h0M543.3 149.9h0M543.7 133.9h0M544 111.6h0M535 143.6h0M557.1 120h0M540.6 146.2h0M536.1 146.7h0M538.2 149.8h0M544 119h0M558.5 152.5h0M550.5 155.7h0M552.8 141.1h0M543.2 128.9h0M536.4 148.9h0M547.5 130.1h0M532.5 160.2h0M546.7 128.2h0M573.5 122h0M542.3 146.7h0M553.4 109.9h0M548 118.8h0M529.4 148h0M551.9 130.3h0M556.2 124.2h0M546.9 147.7h0M528.5 149h0M551.9 115h0M547.3 160.3h0M562.5 122.4h0M545.3 155.6h0M559.2 137.7h0M561.6 133.9h0M546.2 147.7h0M547.1 145h0M527.2 136.2h0M545.1 129.1h0M543 140.4h0M547.7 134.2h0M572.1 131.2h0M520.1 145.4h0M553.9 130h0M546.9 134.8h0M528.2 159.2h0M551.1 117.8h0M550.5 115.7h0M547.8 138.4h0M553.4 122.8h0M542.8 125.1h0M564.7 142.5h0M558.2 136.1h0M553.6 111.8h0M554.9 127.2h0M536.5 152.9h0M558.9 111.3h0M551.6 132.2h0M522.5 162.1h0M528.2 147.2h0M545.1 138.5h0M540.7 126.1h0M554.5 132.4h0M548.1 139.5h0M547.8 153.6h0M526.9 155.3h0M526 157h0M556.5 124.4h0M545.6 132.3h0M566.2 132.9h0M537.7 135.4h0M539.3 111.6h0M562.5 119.3h0M561.5 141.4h0M552.9 136.2h0M555.4 147.5h0M531.3 149.8h0M552.6 141.5h0M541 139.1h0M557.1 121.6h0M549 138.7h0M559.1 131.1h0M540.1 128.3h0M555.9 135.8h0M531.4 154.8h0M538.2 136.5h0M541.2 161.9h0M570.5 133.7h0M574 110h0M546.5 132.9h0M568.5 156.1h0M552.8 148.4h0M540.8 167.7h0M530.2 142.5h0M524.3 137h0M537.6 173.6h0M539.7 132.7h0M565.6 107.1h0M573.4 112.9h0M555.1 143.2h0M558.5 152.6h0M539.1 136.7h0M532.8 128.4h0M536.7 123.3h0M523.4 144.5h0M548.4 117.3h0M538.4 140h0M530.7 130.6h0M564.7 131.3h0M543.7 125.8h0M557.7 124.9h0M529.5 150.4h0M509.5 145.8h0M525.1 133.7h0M576.4 127.6h0M535.6 150.7h0M543.5 147.6h0M540.5 137.7h0M546.9 138.7h0M550.5 134.2h0M566 114h0M549.4 132.8h0M548.6 154.3h0M551.7 130.3h0M535 153.3h0M533.9 137.8h0M557.7 122.9h0M576.8 132.3h0M566.3 104.2h0M568.2 146.5h0M548.9 129.1h0M543.6 139.9h0M550.8 124.7h0M546.5 159.7h0M547.3 137h0M554.6 129.3h0M544.8 155.7h0M538.2 147.7h0M531.1 143.6h0M534.8 130.1h0M551.4 116.5h0M547 127.7h0M550.2 131.9h0M551.2 146.2h0M538.1 141.4h0M518 143.6h0M547.9 132.5h0M567.9 137.5h0M560.9 135.8h0M550.4 113.2h0M547 117.6h0M563.4 122.1h0M550.3 134.3h0M550.2 137.8h0M547.6 139.8h0M547.7 120h0M546.8 133.1h0M558 131.6h0M547 120.6h0M540.3 141.3h0M554.7 130.3h0M550.1 144.3h0M552.5 138.6h0M541.2 161.1h0M542.1 131.2h0M553.5 138.1h0M558 137.1h0M546 137.3h0M559.6 122.9h0M543.6 139.1h0M529.7 155h0M527.1 144.9h0M561.8 125h0M530.9 162.4h0M544 142.8h0M529.4 154.2h0M538 151.9h0M556.7 123.7h0M537.5 147.7h0M546.8 143.6h0M528.6 135.4h0M538.4 162.9h0M568.1 111h0M550.9 114.5h0M564 122.6h0M546.1 139.4h0M537.4 160.6h0M570.1 118.9h0M576.1 115.2h0M549 153.7h0M549.8 145.8h0M565.8 130.4h0M537.5 125.6h0M545.5 142.6h0M562.1 127.3h0M546.9 126.1h0M581.5 128.1h0M554 127.6h0M567.2 125.5h0M547.6 138.3h0M533.5 139.5h0M553 129.6h0M552.8 119.7h0M563.1 113.1h0M554.2 154.1h0M529.7 129.9h0M548.5 141.7h0M540 124.3h0M544.2 131.1h0M541.7 134.6h0M534.5 163.4h0M538.9 147.6h0M531.1 139.3h0M563.9 152.1h0M551.5 133.1h0M550.8 155.5h0M546.7 149.9h0M562.1 132.5h0M559.7 121.6h0M539.6 135.9h0M543.4 127.1h0M560.9 141h0M534.9 142.4h0M549.9 136.4h0M549.2 130.5h0M538.6 151.7h0M578.8 153.3h0M545.5 134.7h0M555.8 142.4h0M536 139.2h0M547 114.8h0M545.3 148.7h0M531.9 133.4h0M539.5 135h0M543.8 137.5h0M552.1 143.7h0M542.7 132.5h0M551.4 149.9h0M531.5 133.1h0M547.7 132.1h0M567.2 120.9h0M556.8 105.5h0M550.5 136.5h0M538.3 119.2h0M559.1 115.6h0M545.9 124.7h0M536.4 126.7h0M536.8 168.5h0M539.4 140.1h0M538.8 117.8h0M545.1 132.1h0M531.3 167.5h0M553.1 162h0M550.4 141.6h0M547.7 141h0M544.6 152.6h0M550.4 118.7h0M557.6 148h0M549.6 139.9h0M546.3 111.9h0M540.9 152h0M552.1 148.7h0M539.2 133.4h0M536.5 130.8h0M544.5 139.7h0M556.7 131.1h0M528.5 144.4h0M518.6 154.6h0M547.1 142.3h0M552.9 139.6h0M547.3 137.2h0M561.7 130h0M537.4 134.1h0M527.2 145h0M530.4 154h0M520.3 134.2h0M563.6 118.9h0M540.1 126.5h0M543 135.7h0M559.9 117.9h0M545.2 126h0M559.4 144.2h0M535.8 126.6h0M535.8 147.5h0M549.4 132.5h0M563.7 129.2h0M538.1 141.4h0M556 138.8h0M564.7 127.3h0M560.5 105.5h0M554.9 145.9h0M561.4 151.6h0M550.1 141h0M574.8 138.8h0M538.4 128.6h0M553.4 129.9h0M541.3 135.7h0M558 131.9h0M560.3 121.4h0M531.2 149.2h0M532.4 146.2h0M542.9 135h0M544.2 141.8h0M542.1 147.4h0M556.9 155.5h0M562.8 150.7h0M551.7 154h0M539.9 113.2h0M581.8 140.6h0M546.2 137.5h0M534.7 150.3h0M552.4 119.7h0M555.2 131.6h0M526.3 136.8h0M529.9 140.3h0M548.5 147.1h0M561.5 137.2h0M535.7 161.1h0M555.1 154.1h0M555.4 138.8h0M530.8 151.9h0M552.5 147.1h0M550.9 155.9h0M538.3 151.3h0M545.8 142.1h0M553.1 122.1h0M544.6 117.3h0M526.6 128.5h0M571.1 132.8h0M561 130.7h0M524.8 132.6h0M548.3 140.3h0M558.1 137h0M555.2 127.2h0M546 134.1h0M558.1 131.4h0M577.3 140h0M550.8 124.9h0M554.7 135.6h0M533.9 139.8h0M533.5 130h0M545.6 134.4h0M532.3 145.4h0M549 126h0M563.3 139.8h0M507 148.6h0M550.2 139.4h0M575.6 133.9h0M521.9 109.5h0M542.7 140.6h0M538.7 150.6h0M550.2 137.9h0M552 155.8h0M573.5 103.2h0M539.4 146.1h0M544.5 126h0M548.2 141.8h0M547.7 151.7h0M545.3 138.7h0M560 162.5h0M543.7 138.4h0M550.9 161.3h0M551.8 153.7h0M531.9 144.5h0M557.7 114.5h0M553.9 135.4h0M527.3 134.2h0M553.3 131.2h0M530.2 133.6h0M532.1 155h0M553.2 126.8h0M556.5 109.4h0M536.7 153.6h0M546.8 120h0M564.6 129.5h0M539.2 135.6h0M557.6 138h0M541.7 137.4h0M537.8 130.3h0M544.4 153h0M541.4 130.5h0M538.7 145.2h0M550.1 126.7h0M543.8 129.7h0M562.3 137.8h0M543 143.7h0M557.3 136.4h0M544.4 137.1h0M553.5 137.5h0M554.4 144.4h0M531.3 159.7h0M540.2 131.9h0M553.4 114.9h0M550.6 117.2h0M542.6 136.2h0M540.3 137.4h0M542.7 155.6h0M547.7 136.5h0M568.1 141.5h0M560.9 127h0M549.2 128.3h0M534.3 141.9h0M532.3 160.2h0M554 116.6h0M560 116.2h0M564 109.8h0M547.3 141.1h0M534.2 130h0M553.2 96.1h0M562.9 119.1h0M552 149.9h0M565.8 134.3h0M545.6 125h0M560.4 124.3h0M542.2 173.7h0M564.9 144.5h0M543.3 149.6h0M557.1 113.8h0M537.4 138.4h0M535.9 132.2h0M552.7 141.6h0M556.5 122h0M560.3 143.8h0M543.2 137.3h0M538.6 140.7h0M554.1 140.8h0M530.5 136.5h0M557.6 144h0M547.5 136.5h0M525.7 160.4h0M541 127.3h0M550.1 142.2h0M519.1 161.7h0M545.5 120h0M548.8 140.6h0M543.1 134.9h0M554 164.4h0M535.7 131.4h0M569.1 132.5h0M550.2 134.9h0M565.5 142.2h0M548.4 129.8h0M544.6 155.3h0M534.2 158.3h0M545.7 138h0M540.6 138.9h0M550.5 122.5h0M537.1 137h0M554.9 140.4h0M534.2 140.6h0M543 165.9h0M542.5 131.2h0M541.4 121.7h0M537.3 139.5h0M537.6 150.9h0M540.8 145h0M541.6 153.2h0M549.3 140.7h0M553.1 138.7h0M564.2 143.7h0M557.4 145h0M563 150.6h0M561.8 119.3h0M547.5 120.7h0M549.4 137.8h0M545.7 139.9h0M556.4 140.9h0M576.8 120.1h0M534.5 143.7h0M558.8 124.9h0M544.1 138.4h0M576.1 122.9h0M544.6 124.4h0M551.5 153.7h0M535.2 149.7h0M549.3 124.1h0M564.1 144.2h0M565 150.3h0M544.3 135.1h0M540.8 112.1h0M539.3 122h0M566.1 123h0M544.5 125.6h0M546.6 148.9h0M533.4 139.6h0M568.8 129.1h0M558.6 134.8h0M536.4 123.5h0M547.7 152h0M531 151.2h0M547.8 138.8h0M563 155h0M535.9 137.7h0M567.7 141.4h0M533 150.3h0M554 150.2h0M553.4 132.1h0M556.7 138.6h0M554.2 124h0M556.1 129.7h0M559.3 155.8h0M566.4 146.7h0M536.2 133.3h0M565.5 117.5h0M546.2 136.9h0M538.7 129.4h0M543.3 137.8h0M536.2 157.6h0M534.2 127.9h0M563.8 138.2h0M568.9 117.3h0M533.2 138.8h0M538.5 134.3h0M542.4 115.1h0M562.1 137.8h0M546.1 133h0M556.1 129.2h0M521.2 136.5h0M535.6 163.9h0M532.3 151h0M543.6 134.9h0M525.9 149h0M541.3 135.1h0M536.6 122.8h0M559.2 129.2h0M561.7 136.3h0M548.4 129.6h0M548.9 137.6h0M571.8 122.7h0M544.3 138.5h0M545.9 145h0M551.9 154.7h0M548.7 138h0M539.2 144h0M547.6 129.2h0M558.7 122.2h0M545.8 154.6h0M539 97.9h0M555.9 123h0M540 127.6h0M517.6 173.7h0M543.6 131.5h0M544.6 157.7h0M541.7 156.1h0M540.5 146.7h0M552.6 121.5h0M534.2 131.6h0M559.2 128.1h0M562.3 157h0M548.6 150.5h0M541.3 124.5h0M553.1 138.1h0M571.2 137.3h0M540 142.6h0M554.1 116h0M561.7 143.2h0M543.6 136.8h0M557.2 115.4h0M562.4 131.6h0M538.5 128.8h0M530.5 161.9h0M541 137.4h0M537.9 133.7h0M536.2 158.5h0M546.4 163.9h0M563.9 127h0M547.3 141.2h0M546.2 149.1h0M561.6 106.1h0M546.6 136.7h0M547.1 129h0M569.2 125.7h0M559.5 135.7h0M551.3 117.1h0M541.6 155.3h0M557.3 131.1h0M554.2 147.4h0M536.3 143.3h0M552.9 146.9h0M566 146.8h0M527.2 124.3h0M543.6 147.6h0M535 121.7h0M554.3 137.4h0M546.6 125.3h0M547.8 139.6h0M552.7 136.5h0M556.5 130.9h0M519.5 134.7h0M546.6 123.9h0M555.1 141.8h0M567 126.2h0M539.7 151.8h0M537.7 146h0M540.1 130.1h0M526.8 142.9h0M543.9 139.8h0M524.1 139.4h0M548.2 114.8h0M558 125.9h0M551.7 130.2h0M540.1 126.9h0M547.4 144.7h0M545 133.6h0M558.5 121.3h0M514.2 163.8h0M538.4 120.6h0M553.5 142.7h0M565.8 116.3h0M536.9 137.5h0M544.2 157.9h0M561.3 145.7h0M532.6 135.7h0M552.1 121.8h0M557.1 130.8h0M554.6 132.9h0M571.9 111.2h0M544.4 137.7h0M546.9 132.8h0M541.5 130.3h0M544.8 147.7h0M564.8 138h0M563.8 110.3h0M535.1 150.4h0M544.9 139h0M559.6 112.8h0M554.9 148.3h0M547.3 142.5h0M577.9 112.8h0M534 154.2h0M548.9 127.4h0M558 113.9h0M542 161.3h0M539.9 129.5h0M557.8 102.2h0M563.4 126.5h0M526.2 135.7h0M559.2 141h0M539.1 116h0M533.7 125.4h0M543.5 134.5h0M571.9 122.6h0M546.8 135.1h0M570.7 118.4h0M551.1 122h0M545.3 135.1h0M556.3 144.7h0M535.7 123.8h0M554.4 127.3h0M545.4 150.5h0M569.2 136h0M546.4 134.1h0M543.1 136.4h0M548.9 147h0M543.9 144.6h0M548 114.9h0M526.8 141.4h0M544.3 118.4h0M544 137.8h0M542.4 115.1h0M546.8 168.2h0M549.3 122.9h0M537.5 133h0M563.1 142.7h0M530.7 141.5h0M537.3 139.2h0M544.3 127.3h0M546.1 151.1h0M539.4 134.5h0M560 134.3h0M540.4 146.8h0M532.5 139.8h0M552.8 123.7h0M551.6 141.5h0M550.1 147.2h0M550.1 163.1h0M556.8 125.1h0M532.6 135.9h0M558 133.3h0M553.6 158.7h0M524.8 146.8h0M548.3 132.7h0M549.6 126.1h0M538.8 147.2h0M550.6 153.3h0M545.1 161.3h0M539.7 150.2h0M539.1 134.1h0M553.7 140.9h0M564.8 138.1h0M556.5 142.4h0M546.3 137.2h0M553.6 147.2h0M538.4 161.5h0M538.3 133.9h0M551.5 160.6h0M564.6 133.5h0M573.2 138.7h0M557.4 129.4h0M552.6 138.3h0M557.1 109.8h0M553 131.5h0M550.7 155.2h0M550.7 160.2h0M546.7 167.2h0M542.8 130.4h0M529.2 144.2h0M552.7 142.3h0M527.2 147.5h0M542.9 144.5h0M543.2 167.7h0M544.7 146.1h0M537 151.3h0M537.3 133.5h0M525.7 154.5h0M552.7 132h0M546.4 139h0M552.2 109.2h0M547.4 102.4h0M538.7 148.4h0M570.4 143.1h0M549.4 157.5h0M547.8 136h0M560.9 145.2h0M524.2 147.5h0M570.9 130.7h0M563.5 121.9h0M551 139.5h0M535 137.3h0M547.9 156.6h0M540.8 147.1h0M535 137.7h0M539.6 146.1h0M533.4 138.8h0M533.2 159.8h0M545.1 145.9h0M541.9 147.8h0M546 139.1h0M548.1 132.5h0M548.7 144.9h0M555.2 146.6h0M541.2 127.9h0M560.2 142h0M520.8 158.3h0M528.1 129.9h0M537.3 164.9h0M538 132.5h0M554.4 134.9h0M554.1 124.8h0M530 159.1h0M553 124.7h0M543.7 143h0M565.7 128h0M561.7 138.2h0M551.3 152h0M546.6 131.3h0M553.3 130.3h0M538.1 128.3h0M588.9 116.2h0M544.5 117.1h0M552.6 114.8h0M557.2 120.1h0M556.6 124.3h0M553.7 159.3h0M564.2 124.2h0M556.6 116.2h0M541.4 131.6h0M541.1 148.9h0M567.3 114.9h0M557.1 130.8h0M544.2 142.3h0M550.3 138.9h0M538.6 143.6h0M527.5 144.5h0M539.8 142.8h0M570 120h0M545.8 133.7h0M530.1 128.3h0M532.7 120.1h0M550.4 123h0M536.7 141.3h0M533 168.1h0M543.9 143h0M547.3 131.2h0M545.9 133.5h0M522.2 130.2h0M543.3 122.8h0M551.5 155h0M546.2 141.5h0M543.3 140h0M544.7 138.5h0M539.7 137.2h0M556.1 138.3h0M532.8 144.7h0M563 134.1h0M557.6 115.2h0M579 141h0M542.2 134.5h0M546.4 139.2h0M544.7 138h0M537.8 150.4h0M541.6 144h0M547.5 122.4h0M550.2 146.5h0M540.3 142.5h0M530.4 158h0M550.2 126.3h0M518.8 134.1h0M562.6 129.3h0M573.3 114.2h0M521 147.1h0M539 131.8h0M531.6 145.6h0M566.5 120.6h0M553.4 128.6h0M543 104.2h0M521.4 162h0M542.6 136.9h0M534.7 162.7h0M559.8 144.4h0M532.2 155h0M538.9 138.7h0M568.8 137.8h0M547.5 155.3h0M523 146.4h0M551.1 126h0M548.6 139.1h0M552.8 129.5h0M539.7 151.5h0M543.7 138h0M558.1 117.5h0M532 165.3h0M564.5 144.4h0M541.2 126.2h0M564.9 149.4h0M571.1 137.9h0M556.3 144.3h0M533.4 151.3h0M551.2 121h0M565.7 127.8h0M562.7 138.3h0M560 128.3h0M544.2 118.8h0M561.3 142h0M550.8 118.9h0M548.6 142.4h0M555.1 135.7h0M539.2 127.1h0M546.6 125.3h0M537.5 144.3h0M541.3 145.7h0M547.8 136.6h0M554.3 125.3h0M544.9 144.9h0M564.2 116.1h0M545.2 141.1h0M548.5 127.5h0M541.1 151h0M540.4 169h0M543.2 145.2h0M558.9 133.8h0M539.7 156.6h0M559.9 109.4h0M546 130.5h0M546.6 158h0M562.1 142.5h0M556.7 149.1h0M557.7 125.4h0M554.2 152.6h0M560 136.2h0M559.6 159.3h0M524.6 145.6h0M562.7 126.4h0M560.3 148.2h0M544.2 155.2h0M545.5 137.9h0M547.5 121.4h0M563.9 132.5h0M556.1 135h0M552.6 139.1h0M556.1 147.3h0M543.6 136.8h0M542.7 130.7h0M556.2 129.2h0M538.8 125.2h0M550 146.2h0M546.9 136.1h0M541.6 125.8h0M532.3 132.4h0M539.3 139.9h0M568.5 107h0M525 155.9h0M536 125.9h0M562.5 131.8h0M542.3 121.3h0M546.7 141.4h0M552.4 117.8h0M557.1 128.3h0M560.3 132h0M522.6 125h0M554.7 144.3h0M549.1 110.6h0M551.5 119.4h0M546.3 158.1h0M546.8 129.2h0M530.4 150.8h0M560.8 129h0M520 165h0M525.4 165h0M552.6 147.1h0M543.8 147h0M558 150.4h0M534.2 116.3h0M554 126.1h0M536.6 144.1h0M538.1 145.7h0M534.9 139.9h0M550.2 148.8h0M546.1 149h0M580.6 96.1h0M555 104.5h0M560.9 139.8h0M571.7 130.8h0M545.8 137h0M536.6 128h0M525.3 150.6h0M546.4 150.5h0M570.5 134.3h0M553.1 134.5h0M550.3 136.8h0M534.3 142.2h0M536 137.5h0M535.2 149h0M549.6 126.6h0M548.5 147h0M560.1 140.3h0M531.9 158.4h0M528.4 125.9h0M524.8 142.7h0M555 119h0M553.2 132.1h0M542.9 150.6h0M558.4 143.4h0M547.3 147.8h0M553.5 124.1h0M557.3 145.5h0M527.1 136.2h0M550.7 142.7h0M560.5 138.2h0M560.2 132.3h0M533.4 120.6h0M544 127.4h0M550.6 115.2h0M533.3 127h0M532.7 139.1h0M548.8 135.2h0M537.9 126h0M538.8 142.7h0M554.8 135.4h0M537.5 146.9h0M534.5 149.5h0M558.5 145.8h0M560.4 142.7h0M568.6 124.7h0M526.8 152.1h0M533.8 125.4h0M534.5 120.7h0M560 141.2h0M554.2 142.9h0M555.9 138.6h0M538.9 149.5h0M540.6 123.9h0M556.2 138.3h0M546.2 134h0M537.6 153.6h0M543.6 143.2h0M547.7 128.4h0M549.3 143.4h0M547.4 137.2h0M568.8 139.5h0M582.8 127.2h0M539.1 144.5h0M535.2 154.6h0M541 152.1h0M554.3 120.1h0M551.9 135.3h0M551.8 129.5h0M542.4 156.3h0M566.7 127h0M557.2 135.2h0M527.1 142.1h0M549 137.4h0M537.5 155.1h0M553 145.8h0M562 110.5h0M566.1 105.1h0M553.5 133.6h0M525.2 154.7h0M531.9 124.7h0M544.1 150.2h0M568.2 125.1h0M534.7 128.8h0M554.1 130h0M536.9 141.9h0M539.4 120.8h0M555.7 136.5h0M557.5 146.2h0M528.5 127.6h0M540 144h0M556.8 133.1h0M554.5 134.5h0M546.3 146.5h0M558.4 151.2h0M530.1 153h0M557.3 136.7h0M544.1 140.1h0M544.3 125.7h0M547.9 147.5h0M552.9 144.2h0M523.6 128.4h0M545.1 141.9h0M550.3 138.6h0M534.6 150.8h0M544.7 162.5h0M539.5 154.7h0M571.7 106h0M548.4 118.9h0M552.8 118.8h0M532.2 145.7h0M552.5 120h0M539.4 136.8h0M527.9 151.7h0M540.6 129.6h0M540.6 122.9h0M543.8 134.3h0M556 135h0M538 151.1h0M517.5 139.2h0M562.3 148.8h0M562.1 129.8h0M544 115.5h0M539.2 146.7h0M528.9 153.4h0M562 139.9h0M553.3 146.6h0M540.2 154.9h0M544.4 165.7h0M543 135.9h0M550.8 132.7h0M547.6 159.2h0M549.9 149.8h0M530.3 138.9h0M541 137.9h0M567.2 129.5h0M563.7 132.4h0M528.6 145.8h0M524.7 138.6h0M546.2 150h0M546.6 140.4h0M530.6 130.2h0M519.4 156.4h0M558.7 142.9h0M551.5 147h0M533.2 143h0M538.6 142.7h0M559.4 128.8h0M534.3 128.7h0M547.3 152.8h0M544.2 145.7h0M554.1 121.3h0M547.7 133.2h0M526.5 152.2h0M539.4 143.6h0M544.4 133.1h0M539.5 146.6h0M532.4 136.6h0M548.4 131.4h0M563.4 122.9h0M554.2 132.7h0M556.6 134.1h0M538.4 145.7h0M557.8 121.3h0M550.6 134.9h0M564.1 129.7h0M558 141.8h0M548.8 145.1h0M546.4 143.8h0M551.3 141.5h0M559.6 137.8h0M542.9 164.4h0M564.6 134.6h0M559.6 141.7h0M564.9 116.3h0M545.7 131h0M549.4 128.5h0M548.8 153.6h0M563.7 111.4h0M532.2 124.7h0M544.7 109.8h0M541.5 133.2h0M540.1 135.7h0M566.2 112.5h0M548.9 134.4h0M562.7 131.2h0M557.1 123.5h0M527.3 142.8h0M552.3 143.4h0M551 143.3h0M526.4 144.5h0M533.3 139.5h0M524.9 130.7h0M562.7 129.4h0M556.5 163.3h0M534.2 122.5h0M542.6 144.4h0M538.7 132.6h0M533.3 160.1h0M555.9 141.8h0M542.4 126.7h0M546.7 141h0M545.4 153.9h0M538.4 137.7h0M564.1 137.7h0M568.6 121.2h0M560.7 137.6h0M548.3 128.8h0M545.9 133.4h0M537.9 128h0M558 132h0M553.8 133.9h0M541.3 131.6h0M559.3 146.1h0M549 142.5h0M552.3 119.3h0M556.6 139h0M534.7 139.4h0M534.5 150.3h0M562.7 117.1h0M557.6 116.7h0M555 141.4h0M547 145.8h0M542.6 125.9h0M551 129.1h0M520.6 151.6h0M539.3 144.8h0M537.5 158.2h0M543.2 159.6h0M553.4 137.3h0M545.9 128h0M548.1 117h0M550.2 130.1h0M552.9 134.3h0M539 152h0M542.6 123.8h0M543.5 147.3h0M549.1 136h0M529 130.5h0M557.8 160.4h0M541.4 132.2h0M563.3 130.2h0M560.8 127.4h0M542.8 153.5h0M537.2 128.2h0M548.7 147.8h0M532.4 136.7h0M546.5 137.7h0M542.9 135.2h0M553.6 126.4h0M538.4 116.8h0M545.9 133.2h0M540.1 138.4h0M539.2 162.6h0M551.8 132.1h0M531.2 135.7h0M553.9 133.9h0M544.3 127.6h0M554.3 104.7h0M569 157.2h0M554.8 127.1h0M546.2 151.4h0M534.8 141.5h0M553.1 118.8h0M526 155h0M546.2 142.8h0M533 145.9h0M560.2 128.6h0M535 158.4h0M541.1 123.6h0M534.7 118.3h0M533.1 135.3h0M518.7 146.2h0M562.5 151.2h0M557.3 142.3h0M547.6 139.3h0M557.2 137.8h0M552.1 131.6h0M538.4 132.7h0M553.3 163.8h0M517 167.5h0M553.3 134.1h0M562.9 128.1h0M552.7 149h0M555.6 146.4h0M542.6 137h0M543.2 139.2h0M521.3 170.4h0M559.4 156.6h0M542.3 131.9h0M567 120.8h0M548.2 141.8h0M560.1 112.1h0M582.6 118.5h0M536.8 141h0M558.5 123.7h0M541.9 135h0M527.5 152.4h0M541.7 137.7h0M550.2 122.2h0M545.1 150.4h0M527.2 152.7h0M559 124.3h0M552.9 145.9h0M550.2 147.6h0M538.4 133.5h0M551.2 139.5h0M547.3 148.3h0M533.1 155.5h0M534.2 136.2h0M550 137.4h0M567.3 135.1h0M534.1 144.4h0M532.6 142.4h0M538.3 121.7h0M541.7 146.1h0M542.2 132.8h0M542.6 133.7h0M542.4 129.8h0M548.7 127.7h0M541.7 134.9h0M532.8 153h0M547.2 142.7h0M564.8 146.9h0M555.5 126h0M550.3 124.3h0M571.5 121.9h0M558.7 138.1h0M550.7 139.9h0M544.4 128.8h0M552.1 128.8h0M543.6 128.3h0M525.6 149.3h0M550.1 154.4h0M557.6 134.8h0M551.9 129.1h0M542.2 146.9h0M568.5 123.4h0M573.1 115.6h0M539.6 138h0M546 148.2h0M561.3 149.2h0M543.1 127h0M559.9 124.8h0M529.7 143.6h0M570.9 138.1h0M558.7 150.9h0M550.7 150.6h0M550.6 111.5h0M551.3 119.3h0M563.9 148h0M547 127.8h0M558 137.2h0M551.1 131.7h0M529.7 139.9h0M550.5 111h0M545.1 148.7h0M537.6 130.7h0M526.2 153.7h0M551.4 130.4h0M559 144.1h0M536.5 142.5h0M569.4 120.4h0M532.6 173.8h0M547.6 146.3h0M551.8 119.4h0M516.9 148.6h0M536.9 122h0M574.1 103.3h0M567.2 143.9h0M541.8 148.5h0M563 132.8h0M528.6 143.1h0M574.2 120.1h0M567.7 120h0M556.8 144.1h0M524.4 153.6h0M550 114.4h0M551.1 161.2h0M540.5 128.3h0M541.6 141.1h0M526.9 145.2h0M549.8 160.2h0M547.1 138.1h0M546.8 150.8h0M552.8 121.6h0M567.2 121.7h0M543.7 129.9h0M539.8 137.9h0M545.9 132.7h0M553 125.3h0M541.1 131.9h0M544.6 121.9h0M547.3 145.7h0M546.5 152.7h0M566.7 134.4h0M552.3 132.2h0M566.2 156h0M546.8 131.2h0M555.3 153.3h0M532.6 156.5h0M555.1 133.1h0M558 128h0M542.9 132.5h0M546.3 142.8h0M539.2 150.5h0M540.6 133.1h0M546.8 130.8h0M533.8 126.9h0M569.9 135.3h0M547.6 117.7h0M536.7 124h0M521.8 141.2h0M540.5 138.3h0M542.9 133.5h0M556.3 125.5h0M574.9 133h0M543 144.7h0M547.1 142.5h0M552.7 162.8h0M545.8 137.1h0M541.3 136.2h0M560.8 126.1h0M534.7 134.3h0M562 149.2h0M546.8 149.4h0M542.3 146.6h0M567.2 125.8h0M534.4 135.9h0M561.7 128.4h0M556.1 141.3h0M540.3 144h0M531.5 135.8h0M552.3 121.4h0M537.2 139.6h0M555.5 120h0M528.3 161.7h0M550.4 137.8h0M549.9 147.1h0M550.4 126.9h0M566.6 121.9h0M544.3 133.2h0M548.2 148.7h0M532.1 127.9h0M563.9 114.4h0M544.1 127.2h0M544 152.4h0M553.9 146.5h0M540.3 128.1h0M559.5 129.8h0M540.7 129.9h0M548.8 161.4h0M559.3 157.9h0M542.4 112.7h0M537.1 131.8h0M539.1 142.9h0M545.7 143.5h0M546.5 112.1h0M551.3 152.2h0M539.7 139.4h0M548.2 142.8h0M539.4 127.3h0M544.9 134.9h0M532.9 131.7h0M557.3 138.5h0M545.3 138.4h0M539.4 143.7h0M544 170.6h0M543.1 135.8h0M547.8 141h0M535.8 162.1h0M533.5 138.6h0M549.5 123.2h0M525.6 142.4h0M555.6 121.9h0M547.9 129.2h0M548.1 141.7h0M558.4 127.6h0M562.2 111.6h0M552 137.1h0M550.1 136.6h0M537 127.6h0M549.1 149h0M540.6 103.5h0M538.5 142h0M563.3 112.3h0M561.9 122h0M539.9 154.9h0M563.5 137.2h0M550.8 135.7h0M546.7 133.8h0M549 138.6h0M535.6 153.1h0M524.5 143h0M536.2 126.3h0M552 120.7h0M557.5 130.7h0M526.3 150h0M539.2 147.8h0M540.6 149.9h0M554.9 151.7h0M537.7 133.4h0M533.9 145.6h0M542.8 152h0M541.2 152.9h0M543.2 151.8h0M551.1 128.8h0M536.7 151.9h0M551.8 151.5h0M550.7 143.2h0M524.2 147.7h0M563 137.9h0M553 150.1h0M552 146h0M525.7 163.4h0M553.8 128.7h0M524.4 136.6h0M540.1 160.2h0M565.2 113.3h0M542.2 161.5h0M564.4 126.3h0M541.7 154.4h0M552.6 142.4h0M569.1 137.6h0M533.4 151.8h0M539 147.6h0M563.5 128.9h0M554.5 145.3h0M539.6 130h0M564.4 139.1h0M554 149.6h0M544 136.2h0M544.4 117.5h0M547.6 153.2h0M547.8 125.1h0M556 133.5h0M565.5 139.2h0M535.6 152.6h0M527.8 138.3h0M532.5 146.9h0M551 141.3h0M583.9 132.7h0M549.9 142.2h0M542.2 131h0M542.3 122h0M550.3 151.7h0M524.9 138.2h0M531.7 132.3h0M549.1 145.3h0M550.8 127.7h0M547.6 113.1h0M545 126.9h0M565.1 137.8h0M560.6 131.3h0M552.9 144.7h0M553 121.7h0M528 146.8h0M561.6 118.7h0M552.3 156.2h0M545.4 163.5h0M556 133.1h0M557.4 126.2h0M541.4 135.1h0M545.3 123.3h0M538.9 145.8h0M557.1 124.8h0M549.6 139.6h0M549.3 129h0M545.3 130.3h0M564.9 97.9h0M547.1 124h0M541.7 144.9h0M541.1 148.8h0M559.9 105h0M542.4 138.6h0M555.7 113.8h0M558 121.3h0M552.8 137h0M537.2 140.7h0M558.1 151.7h0M546.7 144.8h0M552.3 150h0M559.1 129h0M549.6 127.8h0M552.2 116.3h0M551.8 165.2h0M552.4 120.4h0M549.9 126.2h0M560.8 128.4h0M554.9 134h0M527.8 138h0M550.4 136.8h0M561.6 134.6h0M541.4 132.6h0M542.9 111.5h0M539.3 162.4h0M537.2 133.7h0M529.1 151.4h0M546.5 167.8h0M541.8 129.7h0M553 133.1h0M543.4 132.3h0M565.2 135h0M554.2 120.9h0M541.4 129.8h0M566.5 151.6h0M526.8 154.6h0M543.1 138.3h0M551 145.7h0M552.4 142.7h0M567.9 134.8h0M557.1 135.6h0M533.2 156.8h0M551.9 136.8h0M529.5 144.1h0M561.2 109.5h0M553.1 133.9h0M541.2 136.8h0M541 149.1h0M552.1 110.6h0M542.9 147.3h0M551.2 132.2h0M571.7 138.2h0M554.7 136.8h0M550.4 126.6h0M562.3 121h0M559.1 142.5h0M558 136.8h0M550.9 111.9h0M543.2 154.4h0M559.8 139.7h0M541.3 146.8h0M552.7 145.2h0M582.3 125.4h0M553.7 118.3h0M528 119.3h0M578.1 135.4h0M572.5 135.3h0M544.9 149.5h0M565.4 111.4h0M533.3 145.3h0M562.6 125.9h0M567.8 159.5h0M543.1 146.9h0M550.4 130h0M544.4 107.3h0M540.2 152.2h0M517.4 164.8h0M527 149.4h0M539.4 145.1h0M552.9 141.2h0M544 159h0M530.8 143.8h0M530.3 135.4h0M531.9 158h0M544 122.6h0M536.9 158.2h0M554.5 146.3h0M551.3 132.6h0M518 139.7h0M557.9 126.2h0M531 152.6h0M559.6 140.5h0M541.6 164.1h0M531.5 110.1h0M542.2 131.8h0M547.4 152.9h0M561.5 120h0M551.9 148.1h0M556 141.5h0M562 127.4h0M545.9 147.4h0M539.9 140.1h0M549.7 124.6h0M534.4 132.8h0M539.5 119.9h0M548.5 118.1h0M540.8 126.4h0M550.1 128.8h0M567.4 149.7h0M528.9 141.7h0M551.3 154.2h0M541.8 148.6h0M529.3 148.1h0M561.9 131.2h0M546.8 156.2h0M548.4 148.9h0M558.8 147.3h0M545.9 160.2h0M532.1 147h0M565 124.9h0M560.9 125h0M558.9 104.6h0M547 120.7h0M573.3 133.3h0M554.7 134.6h0M522.3 149.7h0M563.3 127.8h0M564.8 146.8h0M560.7 137.5h0M527.6 130.9h0M560.1 133.1h0M550.3 158.2h0M564.5 141h0M560.5 131.5h0M531.8 149.9h0M554.9 131.9h0M551.2 126.5h0M527 128.4h0M558.4 141.3h0M545.5 136.2h0M554.7 127.6h0M555.9 134.9h0M542.7 112.1h0M548.2 135.3h0M558.6 94.9h0M560.9 136.4h0M574.6 109.1h0M558.7 117h0M553.4 114.7h0M528.9 118.7h0M540.1 138.4h0M531.6 139.4h0M559.6 151.3h0M541.1 134.2h0M547.7 127.2h0M551.1 138.6h0M575.4 135.8h0M540.9 150h0M560.3 146.1h0M566.4 117.3h0M544.7 110.4h0M537.9 138.8h0M546.1 137.8h0M574 129.5h0M566.8 126.9h0M532.3 150.7h0M550.5 141.6h0M544.9 142.8h0M547 153.8h0M544.6 117.9h0M549.8 138.1h0M554.9 150.9h0M552.8 136.2h0M534.4 154h0M548 155.2h0M544.5 102.6h0M527.9 131.5h0M561.4 146.5h0M539.3 141.9h0M567.6 112h0M547.7 136.4h0M552.2 131.9h0M544.7 145.4h0M559.8 134.3h0M534.4 135.7h0M536.6 158.2h0M532.8 121.1h0M543.9 138h0M538.5 156.4h0M539.3 124.8h0M546.5 144.1h0M551.2 114.5h0M539.6 124.7h0M532.9 145.6h0M555.4 133.3h0M552.3 135h0M556.7 127h0M560 133h0M552.5 160.5h0M557.2 130.7h0M534.8 128.1h0M545.2 124.6h0M556.9 131.6h0M563.3 122.7h0M547.5 137.9h0M535.5 139h0M542.1 145.8h0M532 133.4h0M526.9 136h0M533.9 154.2h0M536.4 132h0M544.7 152.5h0M550.2 154h0M540.1 122.9h0M531.6 136.4h0M542.4 131.9h0M555 147.7h0M533.1 142h0M555.3 133.3h0M568.9 137.7h0M545.1 107.6h0M560.2 110.4h0M551.5 142.5h0M528.2 143.3h0M549.1 156.6h0M552 159.1h0M553.7 135.9h0M562.2 119.2h0M528 139.2h0M537.2 153.5h0M539.1 146.8h0M533.6 141.5h0M554.9 97.2h0M561.3 132.8h0M541.6 143.2h0M557.5 122.3h0M528.8 129.6h0M564.8 142.9h0M546.8 128.4h0M553.6 122h0M546.5 123.8h0M572.9 124.5h0M571.2 115.1h0M574.1 129.9h0M548.7 108.9h0M543.5 138.8h0M545.5 134.1h0M561.8 143.1h0M547.1 142.6h0M565.8 124h0M533.2 156.2h0M548.9 139.2h0M560.5 132.9h0M546.5 120.3h0M551.6 139.6h0M547.3 124.4h0M540.2 134.9h0M536.1 152.1h0M558.8 130.2h0M550.8 151.9h0M541.4 139h0M557 150.2h0M543.8 146.2h0M546.7 138.4h0M522.6 136.1h0M539.6 138.3h0M543 141.8h0M549.6 119.7h0M535.4 130.6h0M546.8 134.3h0M534.2 148.7h0M565.7 121.9h0M551 122h0M552.1 137.9h0M544 141.1h0M557.5 151.1h0M561.5 134h0M553.9 149.2h0M527.6 144.9h0M529 140.9h0M550.9 123.6h0M509.1 146.1h0M537.7 127.5h0M556.1 133.8h0M538.2 163.5h0M540.6 176.4h0M567.1 133h0M543.2 132.1h0M565.2 138.7h0M546.3 140.1h0M568.2 126.3h0M554.7 137.9h0M561.6 109.6h0M542.2 147.2h0M546.9 138.5h0M542.2 133.6h0M565.3 122.9h0M532.1 137.4h0M538.9 129.6h0M542.4 138.1h0M551.3 128h0M554.5 134.7h0M543.6 131.2h0M552.2 131.8h0M556.5 111.9h0M562.9 137.2h0M565.4 137.3h0M538.6 132.7h0M544.6 142.7h0M553.8 136.8h0M543.5 145.7h0M550.6 138.3h0M549.1 125.4h0M550.3 134h0M543.9 146.8h0M546.9 116.1h0M533.1 138.1h0M548.1 129.1h0M548.7 133.2h0M530.7 149.8h0M563.2 126h0M540.4 140.7h0M548.4 137.2h0M545.3 136.4h0M531.2 155.5h0M554.6 146.2h0M551.4 138.3h0M515.3 146.6h0M553.7 132.7h0M537.5 137.2h0M562 159h0M546.8 147h0M559.8 119.5h0M550.2 128.4h0M548.3 135.8h0M546.6 130.5h0M552.3 131.7h0M545.4 133h0M554.7 129h0M553.9 128.2h0M535.7 143.3h0M537.9 144.3h0M560.7 153.8h0M542.7 128.3h0M542.7 116.7h0M553.8 127.9h0M556.8 132.4h0M556.9 152.8h0M555.7 133.4h0M539.9 137.6h0M529.1 132.5h0M557 129.2h0M544.6 114.6h0M547.8 152.7h0M546.3 137h0M532.6 147.3h0M560 132.1h0M549.4 128.3h0M574.7 126.1h0M537.6 122.6h0M550.8 125.4h0M556.4 125.8h0M564.2 137.9h0M557.2 140.1h0M545.2 128.8h0M546.2 114.6h0M557.3 137.2h0M557.2 154.7h0M538.4 128h0M538.1 136.8h0M559.2 125.8h0M561.3 161.6h0M539.4 126.1h0M561.5 132h0M544.7 138.7h0M534.1 147h0M553 126.2h0M541.1 148.5h0M548.8 124.2h0M543.5 144.3h0M551.8 133.7h0M558 132h0M559.9 123.5h0M532.9 148.7h0M537.6 157.8h0M540.5 147.9h0M550.4 139.8h0M562.3 126.2h0M557.3 117.2h0M548.3 111h0M539.3 143.5h0M548.1 139.7h0M560.1 141.8h0M523.9 127.6h0M555.7 125.3h0M569.2 107.9h0M549.9 121h0M560.5 131.6h0M557.4 143.9h0M563.4 135.3h0M542.6 130.1h0M565.7 137.9h0M537.6 127.4h0M553 148.1h0M571.7 121.3h0M552.6 125.7h0M536.9 155.9h0M564.3 124.9h0M529.6 139.9h0M541.1 136.5h0M545.6 114.8h0M562.8 140.8h0M528.1 150.6h0M542.6 137.1h0M535.9 129.3h0M551.6 123.9h0M570.6 107.6h0M549.2 132.2h0M549.8 137.5h0M560.2 143.8h0M561.7 129.2h0M552.6 142.9h0M562 134.8h0M553.4 107.7h0M547.3 125.4h0M562.6 140.1h0M551.8 127.6h0M549.2 137.6h0M535.3 124h0M543.6 141.3h0M579.5 128.2h0M547 132.1h0M567 139.9h0M543.4 119.5h0M566 120.4h0M535.9 150.5h0M557.6 113.5h0M549.2 151.9h0M541 135.5h0M543.9 133.5h0M546 121h0M549.7 131.9h0M543.3 150.2h0M547.7 128.2h0M546.2 117.9h0M549.3 146.5h0M553.6 115.3h0M568.3 140.2h0M539.7 128.3h0M552.5 135.4h0M549.7 113h0M560.4 151.8h0M530.1 159.7h0M549.1 139.3h0M547.7 126.1h0M551.1 156.5h0M550.8 165h0M544.7 149.3h0M544.3 132.7h0M543.8 146.8h0M537.3 164.1h0M540.9 117.5h0M533.1 124.9h0M553.2 151.5h0M517.8 143h0M540.1 145.6h0M530.3 143.3h0M544.6 134h0M543.6 125.7h0M558.6 135h0M547.6 129h0M540.9 139.8h0M535.1 141.4h0M538.8 171.6h0M573.1 128h0M562.9 129.3h0M535.4 140.8h0M525.6 143.5h0M548.8 121.6h0M538.9 127.6h0M548.5 128.2h0M540.5 149.1h0M554.9 145.1h0M540.5 147h0M572.5 113h0M552 127.9h0M552.2 121.9h0M541.5 139.4h0M531.5 133.1h0M546.8 154.9h0M550 137.9h0M525.9 142.6h0M548.4 150.6h0M539.8 121.5h0M550.5 129h0M552.2 142.4h0M569.8 136.2h0M540.1 143.5h0M571.1 119.4h0M558.4 129.9h0M532.7 168.9h0M540.1 139.4h0M557.7 138.1h0M536.9 140h0M574.1 116h0M537.6 146.5h0M556.7 135.4h0M544.9 130.1h0M527.3 152.1h0M566.9 135h0M539.2 116.6h0M548.6 141.8h0M548.8 132.9h0M527 152.1h0M536.8 149.6h0M544.6 142.6h0M539.5 140.3h0M558.3 116.1h0M550.8 130.6h0M534.8 140.2h0M530 148.6h0M555.4 142.9h0M529.3 144h0M559.2 111.4h0M544.8 118.1h0M556.2 120.1h0M534.6 149.2h0M550.6 121h0M541.3 151.3h0M548.5 138h0M547.2 124.4h0M562.5 148.5h0M546.4 143.7h0M529.2 149.2h0M554.2 120.6h0M552.7 134.2h0M523.5 148.6h0M564.3 134.9h0M548.9 136.5h0M539.4 154.3h0M554.8 134.8h0M535.2 148.8h0M540.7 135h0M555 109h0M530.6 136.2h0M540.6 131.7h0M536.8 152.4h0M536.5 124.9h0M533.7 140.9h0M530 143.1h0M536.9 130.7h0M542.8 159.9h0M555.5 150.3h0M559.2 116h0M534.9 129.8h0M543.2 146.3h0M541.5 143.5h0M551.5 151.6h0M540.1 136.7h0M542.7 129.1h0M546.5 127.8h0M552.8 131.4h0M547.4 137.6h0M542.8 134.2h0M564.1 134.8h0M540.2 129.1h0M570 135.6h0M561.9 148.8h0M581.7 115.9h0M550.2 134.4h0M572.1 133.4h0M543.9 142.1h0M565 113.7h0M563.1 142.4h0M554.3 136.9h0M562.7 125.7h0M554.8 134.9h0M540.2 140.9h0M538.6 134.1h0M553.1 139.1h0M533 159.2h0M510.5 155.7h0M555.3 134.1h0M558.9 114.6h0M557.4 142.8h0M558.2 137.7h0M533.7 146.3h0M543.5 150.8h0M565.4 128.9h0M565.9 126.9h0M524.8 164.6h0M556.2 126h0M593.7 122h0M545.1 133.7h0M547.5 139.4h0M539.4 133.9h0M567.2 127.2h0M531.6 154.6h0M541.8 150.4h0M573.8 122.4h0M567.4 130.3h0M546.5 116h0M529.8 146.4h0M556.9 135.1h0M533.2 138.8h0M545.9 133.9h0M545.9 152.1h0M537.7 137.3h0M579.2 135.6h0M561.6 136.5h0M548.6 139h0M549.5 120.5h0M549.7 142.6h0M537.8 141.2h0M533.7 160.9h0M538.7 149.3h0M552.6 118.3h0M541.9 133.8h0M533.1 143.9h0M538.2 127.6h0M545.4 160.7h0M576.5 125.1h0M550 140h0M552.5 167.3h0M558.8 134.2h0M549 123.8h0M537.8 145.1h0M545.3 130.4h0M553.7 143.9h0M554.4 129.4h0M551.6 142.6h0M522.7 160.2h0M532.1 123.2h0M570.2 120.2h0M536.7 118.5h0M535.4 128.2h0M566.2 121.2h0M538.3 140.2h0M524.5 155.7h0M567.2 149.6h0M540.7 151h0M555.3 121.3h0M581.3 109.2h0M525 150.9h0M560.7 139.9h0M556.2 129.7h0M552 119.9h0M557 126.6h0M552.7 131.6h0M547.7 118.8h0M539.9 134.7h0M545.2 130.5h0M552.8 131h0M537.6 145.5h0M540.6 139h0M558.4 130.2h0M553 139.7h0M543.5 122.9h0M548.5 122.6h0M558.8 139.4h0M551.5 136.2h0M545.4 118.1h0M553.7 121.3h0M552.9 132.5h0M547.1 136.6h0M561.1 127h0M551.9 136.7h0M538.1 148.6h0M541.1 139.3h0M561.5 115.1h0M537.8 138.6h0M530.3 139.7h0M567.7 122.5h0M523.7 142.2h0M552.4 126.3h0M542.2 140.3h0M533.8 152.1h0M530.4 161.9h0M557.1 137.5h0M554.3 106.4h0M540.9 146h0M543.1 142h0M549.2 139.9h0M551.1 116.1h0M546 122.9h0M558.8 137.9h0M552.7 167h0M548.8 150.5h0M560.2 143.4h0M561.4 142h0M557.2 135.8h0M533.8 141.4h0M554.2 125.4h0M564.8 134.1h0M535.8 143.7h0M549 156.3h0M540.2 118.3h0M544.8 140.8h0M549.3 131.9h0M543.1 123.3h0M557.2 120.4h0M546.5 139.3h0M554.4 133.2h0M557.2 120.2h0M546 122.6h0M546.8 148.1h0M550.1 136.1h0M546.3 123.3h0M547.7 121.8h0M537.7 127.8h0M540.8 128.8h0M529.9 142.2h0M549.8 149.1h0M556.5 125.7h0M523.7 119.9h0M554.5 129h0M536.5 133h0M537.7 121.9h0M566.9 141h0M553 140.3h0M553 120h0M555.3 143.3h0M546.3 138h0M545.1 131.5h0M550.4 148h0M534.7 143.2h0M538.2 143.5h0M565.9 135.6h0M555 134.5h0M549.3 127.8h0M551.2 157h0M525.2 131.7h0M549 127.8h0M563.1 123h0M543.9 124h0M559.8 112.7h0M540.1 141.7h0M540.5 131.9h0M540.5 160.5h0M539.6 116.9h0M572.3 124.1h0M542.8 123.6h0M537.4 148.4h0M538.6 131.7h0M549.1 132h0M550 133.8h0M535.4 130.6h0M559.9 123.9h0M554.3 125.2h0M546.5 158.1h0M548.5 131.8h0M556.8 140.1h0M567.5 126.2h0M553 137.9h0M523.5 111.2h0M548.4 158.1h0M542 143h0M568.5 144.3h0M536.8 164.8h0M554.9 131.1h0M554.1 134.9h0M531.4 143.3h0M548.2 122.1h0M546.8 149.4h0M525.8 172.3h0M566.3 118.5h0M556.3 122h0M560.8 142.5h0M567.1 133.8h0M549.6 120.5h0M555 118.1h0M545.2 128.5h0M529.2 125.9h0M568.9 130.6h0M533.3 145.5h0M534.4 156.8h0M535.6 148.2h0M534.7 164.7h0M561.3 104h0M541.1 134.6h0M540.3 147.3h0M554.2 141.8h0M539.7 142.5h0M542.7 135.1h0M563.6 147h0M539.9 128.6h0M552.4 131.1h0M549.4 112.2h0M538.1 137.2h0M538 135.9h0M532.9 109.2h0M575.2 104.9h0M558 151.8h0M566.5 125.6h0M545.3 153h0M542.1 127.2h0M549.5 128.7h0M559.6 126.3h0M562.8 140.4h0M557 116.8h0M542.7 131.7h0M548.3 149.1h0M526.9 148.1h0M527.9 143.3h0M556 142.9h0M544.1 143.4h0M558.6 141.4h0M577.2 119.9h0M515.8 138.2h0M547.4 148.5h0M543.2 109.1h0M549.6 134.8h0M545.1 121.3h0M540.2 134.6h0M557.1 130.6h0M554.4 121.1h0M531.4 150.7h0M549.4 148.2h0M521.6 141.5h0M536.5 135.9h0M533.7 150.9h0M545.5 137.1h0M553.1 126.4h0M553.6 151.6h0M558.5 145.8h0M560 150.3h0M533.4 144.8h0M544.5 171.7h0M536.8 133.5h0M560.3 136.3h0M554.7 118h0M552.2 153.3h0M539.2 106.6h0M580.7 106.7h0M539.3 132.2h0M521.7 156.4h0M560.6 134.1h0M548.1 158.6h0M571.2 139.7h0M565.9 142.2h0M551.1 130.4h0M561.9 134.9h0M545.7 133.4h0M558.3 146h0M541.2 137.9h0M550.2 132.8h0M552.1 138.2h0M532.3 166.3h0M546.5 134.2h0M570.8 123.5h0M536.2 155h0M523.1 126.4h0M540.4 148.6h0M552.4 124.3h0M533.3 134h0M535 123.7h0M539.8 141.7h0M567.2 137.8h0M545.3 115.5h0M552.1 138.8h0M558.6 137.2h0M556.3 127.8h0M552.2 120.9h0M528.2 123.1h0M548.4 145.3h0M529.1 143.5h0M559.7 125.7h0M561.5 134.9h0M532.2 154h0M557.9 149.8h0M554.9 118.5h0M552.3 130.9h0M542.9 145.1h0M561.7 151.9h0M554.8 137.4h0M541.3 131.7h0M561.1 137.8h0M540.6 130.5h0M559.2 117.6h0M540.8 142h0M537.1 119.8h0M547.1 156.8h0M549.2 131.1h0M565.8 122h0M540.4 140.3h0M549.4 159.2h0M538.8 137.8h0M552 155.9h0M539.2 173.7h0M534.1 156.7h0M552 158.2h0M531 119.1h0M532.6 132.8h0M565 112.3h0M530.4 159.4h0M544.6 149.9h0M548.4 136.7h0M545.2 126.9h0M523.6 134.2h0M524 161.7h0M544.5 138.6h0M545.8 146.7h0M536.2 132.9h0M535.8 150.5h0M551.2 152.2h0M561.4 124.8h0M533.5 140.1h0M558.6 131h0M535.2 136.4h0M531.7 150h0M559 147.2h0M560.4 147.1h0M545.5 145.8h0M554.2 131.8h0M537.1 143.7h0M543.6 149.3h0M557.7 124h0M555.2 118.4h0M528.5 172.6h0M549.8 123.2h0M530.1 136.6h0M568 114.1h0M541 148.3h0M536.3 145.7h0M532.7 136h0M548.6 143.5h0M556.7 121.3h0M524.1 150.8h0M559.9 123.1h0M534.6 158.1h0M535.7 140.4h0M550.9 126.3h0M542.5 150.9h0M535.7 129.3h0M537.5 131h0M563.6 140.7h0M545.2 119.3h0M559.1 139.6h0M560.5 128.7h0M566.5 111.6h0M557 152.6h0M544.2 127.9h0M530.4 172.1h0M552.8 155.7h0M544.2 138.4h0M543.3 140.9h0M547.4 144.3h0M552.2 139.3h0M551.7 129.9h0M523.9 145.8h0M519.9 133.2h0M529.6 143.9h0M539.7 166.2h0M546 150.2h0M543.7 141.2h0M554.4 125.5h0M542.3 144h0M547.6 122.9h0M560.7 125.4h0M556.9 141.3h0M546.8 137h0M561.9 120.5h0M534.7 131.5h0M544.7 137.7h0M547.8 157.5h0M531.7 136.8h0M551.2 157.7h0M559.4 142.2h0M556.5 147.9h0M532.4 156.6h0M553.7 145.6h0M532.1 129.2h0M554.8 146.6h0M558.6 136.9h0M545.3 131.8h0M550.8 154.2h0M518.3 139.5h0M519.2 123h0M555.5 129.2h0M554.3 134.1h0M539.4 134.6h0M544.6 142h0M560.4 124h0M554.9 123.7h0M566.6 111.9h0M552.4 145.2h0M557.3 129.4h0M532.3 141.2h0M541.4 143.8h0M563.6 134.4h0M554 153.1h0M550.3 149.3h0M550.3 152.4h0M543.6 133.6h0M553.1 123.8h0M541.4 132.1h0M553.1 122.4h0M541.7 137.1h0M556.3 127h0M549.6 127h0M564.1 143.9h0M550.5 112.7h0M561.6 134.7h0M532.7 110.1h0M551.2 146.9h0M556.5 113h0M551.7 132h0M563.4 117.1h0M578 125.5h0M558.2 112.3h0M560.5 113.8h0M554.8 150.6h0M559.2 143.4h0M547 145.8h0M546 151.9h0M545.6 146h0M557.6 154.2h0M551.7 144.5h0M560.3 110.3h0M536.8 144.9h0M558.3 122.5h0M539.2 160h0M546.8 144.5h0M553.2 133.2h0M559.3 130.1h0M550 125.6h0M551.7 108h0M542.1 148.9h0M559.8 123.1h0M534.7 142.2h0M545.6 121.5h0M521.5 151.4h0M532.6 122.2h0M535.2 148.5h0M520.4 147h0M557.4 130.3h0M543.3 131.6h0M542.8 156h0M528.6 154.7h0M549.1 145.6h0M557 142.1h0M570.3 121.3h0M543.7 133.9h0M558.5 136.8h0M557.7 138.7h0M551.7 143.2h0M537.7 131.8h0M566.5 136.6h0M547.9 144.2h0M536.2 155.2h0M559.7 142.8h0M538.6 147.3h0M560.4 110.7h0M559.8 125h0M554.9 126.6h0M536 131.3h0M526.4 144.7h0M544.5 154.2h0M493.8 170.1h0M525.3 176.3h0M549.4 136.4h0M550.1 143.3h0M540.9 155.8h0M497.8 191.2h0M533.5 147.8h0M537.6 161.7h0M504.8 186.8h0M542.3 167.7h0M549 130.1h0M519.5 166.3h0M539.1 157h0M551 158h0M529.5 140.6h0M533.8 128.3h0M527.9 155.9h0M524.8 154.8h0M500.8 160.6h0M509.6 179.6h0M497.7 163.1h0M565.5 162.4h0M540.6 168h0M506.7 159.1h0M540.3 147.4h0M539.7 140.7h0M544.9 139h0M525.1 154.6h0M550.3 150.3h0M509.3 146.2h0M531.3 138h0M536.4 159.4h0M533.4 174.9h0M512.7 172.8h0M554.7 152.6h0M542.2 159.2h0M542 143.8h0M515.5 155.1h0M555.1 126.6h0M540.6 171.3h0M526.2 140.9h0M541.2 131.2h0M505.7 170h0M477.5 178.9h0M530.2 148.7h0M493.8 164.5h0M552.9 165h0M515.1 157.9h0M533.5 140h0M516.5 165.5h0M532.5 169.9h0M530.4 169.9h0M495.9 174.6h0M512.2 156.6h0M506.1 182.4h0M496 200.9h0M544.1 130.6h0M512.1 181.7h0M539 135.1h0M517.9 181.6h0M556.1 183.1h0M544.9 160.6h0M513.4 192.7h0M536.8 157.4h0M509.5 162.6h0M512.3 152.2h0M535.7 166.8h0M550.4 138.3h0M535.8 168.5h0M517.1 182.7h0M553.9 163.8h0M549.5 152.2h0M523.7 157.9h0M557.9 130.5h0M526 177h0M538.7 160.4h0M520.8 168h0M512.2 180.4h0M506.8 163.6h0M523.6 154.1h0M534 156.2h0M514.9 169.5h0M526.2 162.8h0M550.9 171.6h0M535.6 122.8h0M536.2 165.8h0M559.6 168.9h0M523.5 154.3h0M516.5 168.5h0M535.2 158.6h0M545.2 183.7h0M517.8 152.9h0M528 167.1h0M489.9 162.8h0M514.1 195.8h0M520.2 174h0M546.3 155.6h0M515.5 161.9h0M541.7 158.8h0M538.7 159.4h0M545.7 150.4h0M539.4 183h0M542 169.2h0M543.7 167.1h0M508.4 160.3h0M552.6 136.9h0M507.3 188.2h0M523.4 141.7h0M498 168h0M494.1 195.3h0M542.5 162.8h0M549.8 163h0M541.8 142.6h0M545.3 144.6h0M519.5 143.4h0M551.3 167h0M512.5 170.9h0M534 168.8h0M533.9 168.4h0M563.9 145.9h0M519.2 190.5h0M534.4 153h0M523.2 148.1h0M558.7 144.3h0M518.5 165.7h0M518.7 198.2h0M542.5 154h0M549.2 157.7h0M543 178.9h0M528.9 150.8h0M544.8 155.6h0M521.3 167.6h0M516.3 138h0M535.4 150h0M549.4 120.8h0M521.6 144.9h0M500.8 165.3h0M539 120.2h0M513.8 169.4h0M528.9 194.7h0M513.6 162.5h0M521.8 159.6h0M517.8 177.5h0M539.8 165.7h0M538.8 140.2h0M503.1 186.3h0M542.1 149.6h0M498.5 182.3h0M539.4 191.9h0M553.5 154.6h0M548.7 124.1h0M558.3 151h0M527.6 146.2h0M514.2 149.5h0M547.9 164h0M534.4 155.2h0M499.5 179.1h0M498 172.3h0M534.5 157.6h0M579.2 107.3h0M540.7 139.3h0M546.9 159.6h0M544.7 125.3h0M541.1 163.2h0M527.3 174.2h0M559.7 172h0M517.4 138.1h0M506.7 141.8h0M531.4 133.6h0M510.4 160h0M521.7 169.2h0M552.9 125.7h0M539 160.4h0M530.3 166.8h0M527.9 178.6h0M529.7 151.4h0M514 152.5h0M517.4 172.6h0M529.6 154.6h0M529.2 176.3h0M548.3 137h0M515.1 144.2h0M523 161h0M537.3 122.1h0M552.9 146.4h0M513.7 162.3h0M539.4 138h0M516.9 183h0M531.6 158.7h0M543 155.4h0M511.1 170.6h0M525.2 174.7h0M538.6 135.4h0M548.6 139.3h0M520.1 156h0M521 185.9h0M531.8 155.2h0M531.5 173.1h0M558.8 155.4h0M521.2 161.3h0M542.8 152.7h0M535.9 156.4h0M515.4 143.5h0M537.2 167.8h0M517 181.6h0M530.6 172.7h0M519 160.6h0M518.2 171.5h0M541.7 153.8h0M521.5 167.4h0M542.2 175.8h0M517.3 181.8h0M511.2 212.5h0M534.5 155.6h0M561.8 175.4h0M534.2 173.1h0M504.5 168.3h0M527.6 157.8h0M533 150.4h0M525.2 181.5h0M534.5 181.5h0M516.8 147.9h0M536.4 145.9h0M547.3 174.6h0M515.1 187.5h0M520.3 165.9h0M502.1 158.8h0M531.8 143.7h0M564.4 114.4h0M522.9 201.8h0M538.3 150.4h0M573.8 145.9h0M552.1 161.8h0M511.4 193.6h0M532.8 167.5h0M556.8 142.6h0M539.2 164.3h0M548.5 151.3h0M511.9 172.8h0M537.2 183.5h0M518.5 159.8h0M506.6 203.2h0M521.2 182.3h0M517 151.3h0M555.1 126h0M559 142.4h0M554.1 169.9h0M535.3 174.1h0M540.5 150.7h0M533.5 175.5h0M557.3 136.8h0M519.8 172.7h0M541.6 143.9h0M532.7 153.3h0M547.6 154.3h0M548 181.4h0M542 145.8h0M544.5 152.5h0M533.7 139.5h0M545.6 140.2h0M514.2 160.6h0M548.2 135.8h0M557.1 94.4h0M536 164.7h0M531 166.9h0M519.2 192.1h0M518.9 167.2h0M504.9 146.7h0M520.5 186.2h0M522.9 167.1h0M523.5 173.7h0M541.2 156.5h0M542.3 175.3h0M541.4 150.1h0M506.8 189.6h0M519.4 168.2h0M527.1 141h0M498.2 177.3h0M491.4 186.4h0M538.7 166.9h0M533.2 166.8h0M563.8 130.3h0M505.9 153.9h0M546.1 155.2h0M530.3 144.8h0M532 168.6h0M521.7 184.8h0M518.6 153.6h0M560.1 144.4h0M527.9 189.5h0M547.5 148.9h0M524.6 175.5h0M530.9 164h0M538.7 159.4h0M525.9 161.5h0M509.4 170.2h0M542.8 146.2h0M537.7 146.8h0M503.3 212.6h0M512.6 164.9h0M534.5 157.8h0M550.9 142.4h0M517.1 173.7h0M523.4 159.1h0M563.6 150.8h0M525.1 164.5h0M527.2 188.6h0M532.3 156.6h0M512.2 155h0M523.8 161h0M524.7 168.4h0M540.1 161.5h0M511.4 189.2h0M542.1 145.1h0M541.1 168.9h0M561 115.9h0M538.7 152.3h0M554.3 167.9h0M531.2 148.3h0M547.2 132.6h0M556.1 140.1h0M534.3 171.9h0M562.6 118.3h0M525.1 185.4h0M526.3 140.1h0M520 171.9h0M547.9 139.7h0M540.4 141.9h0M546.8 187.6h0M541.9 131.9h0M534.1 162.3h0M539.4 175.8h0M528.4 197.9h0M513.1 164.3h0M530.4 172.7h0M517.9 137.9h0M537 152.6h0M539.8 144.9h0M534.1 150.5h0M531.5 162.2h0M512.2 179.9h0M523.2 149h0M563.8 142.7h0M503.1 167h0M528.5 162.9h0M522.5 153.9h0M515.5 151.5h0M529.1 143.2h0M541.2 186.5h0M526.1 173.5h0M540.3 163.3h0M529.7 159.6h0M513 190.7h0M518.1 135.5h0M559.2 145.7h0M541.9 131.9h0M518.1 150.7h0M521.6 146h0M508.7 160.1h0M538.2 142.1h0M516 146.6h0M544.2 137.8h0M511.1 160.1h0M524.3 179.6h0M531.2 143.8h0M531.6 170.9h0M513.5 147.9h0M521.4 162.1h0M524.6 164.4h0M530 154.9h0M544 184.5h0M538.3 142.7h0M518.5 172.2h0M512.7 162.7h0M522.2 154.7h0M536.6 138.2h0M538.9 174h0M537.9 163h0M520.6 173.3h0M520.5 136h0M490.2 172.5h0M534.7 147.3h0M520.7 169.9h0M511.9 169.3h0M537.8 170.4h0M510.5 170.4h0M528.8 161.6h0M518 186.1h0M499.2 190.6h0M505.1 179.2h0M510.4 170.7h0M547.4 158.4h0M489.9 185h0M533 139.4h0M507.1 146.7h0M522.1 163.6h0M539.1 148.1h0M522.4 130.6h0M546.3 161.5h0M491.6 176h0M540.8 154.5h0M537.4 151.8h0M536.3 174.7h0M542.3 166.8h0M526.1 167.4h0M481.3 142.3h0M495.3 166.7h0M530.1 148.6h0M509.4 193.2h0M545.1 170.5h0M507.1 154h0M511.5 157.6h0M524.4 184.7h0M542.9 171.2h0M540.4 141.1h0M538.8 161.4h0M535.6 141h0M543.3 137.9h0M521.7 156.2h0M526.4 130.9h0M518.8 168.4h0M552.1 159h0M518.2 149.9h0M523.8 157.8h0M532.6 147.4h0M550.2 149.3h0M556.6 154h0M544.5 151.5h0M509.8 147.8h0M529.8 177.8h0M534.7 157.1h0M514.7 163.9h0M536.8 181.7h0M513.6 173.9h0M493 165.7h0M525.3 142.5h0M544.4 147.7h0M525.7 154.1h0M520.5 142.5h0M542 128.7h0M557 145.7h0M566.3 144.3h0M575.1 163.5h0M516.2 167.9h0M518.8 165.5h0M532.2 155.5h0M531.9 153.7h0M551.1 176.4h0M532.1 185h0M546.5 156.4h0M541.7 156.2h0M523.9 136.8h0M533.8 161.9h0M510.3 160.2h0M568.4 118.4h0M529.5 140.8h0M523.1 164.1h0M523.6 159.3h0M525.6 168.4h0M524.6 172.9h0M537.6 118.4h0M518 170.2h0M528.3 148.4h0M520.3 174.8h0M522.1 141.6h0M504.2 178.6h0M504.1 181.8h0M555.7 169.8h0M503.1 198.9h0M537.4 147.7h0M522.5 158.6h0M518.8 170.3h0M521.8 168.3h0M514.9 146.1h0M546.2 159.2h0M557.3 161.6h0M538.8 171.5h0M531.2 167.2h0M519.6 149.2h0M538 173.4h0M525.4 191.1h0M501 158.3h0M544 169h0M531.9 167.2h0M519.5 143.5h0M526.3 152.9h0M533.3 160.9h0M525.9 146.6h0M533.3 142.5h0M512.8 168h0M523.8 174.2h0M531.6 162.6h0M517.1 171.8h0M536.9 180.3h0M488.7 178.1h0M518.8 170.6h0M520.5 178.3h0M533.3 126.5h0M526.7 164.2h0M537.5 144h0M523.9 173.2h0M554.6 141.5h0M530.1 175.7h0M527.2 109.4h0M530.1 182.5h0M514.5 178.1h0M513.2 173.5h0M555 138.1h0M524.1 187.9h0M507.2 178.8h0M544.6 148.8h0M497.6 186.5h0M542.7 189.1h0M567.7 157.6h0M547.9 163.8h0M532.5 160.7h0M516 176.2h0M535.6 175.9h0M569.5 168.1h0M511 177.9h0M545.1 142.6h0M522.2 157h0M513.9 159.5h0M554.1 140.2h0M527.1 170.5h0M514.3 154.7h0M541.1 176.1h0M550.2 142.9h0M535.8 188.6h0M545.6 157.5h0M529.9 151.3h0M527.9 151.9h0M514.7 153.5h0M509.6 184.7h0M540.6 160.5h0M525.4 166.8h0M550.8 152.6h0M514.2 183.1h0M513.6 158.7h0M567.8 147.5h0M542.4 148.1h0M520.1 151.5h0M556.1 166.7h0M535.7 152.9h0M520.3 141.2h0M542.2 148.1h0M536 188.3h0M580 140.6h0M514.8 153.3h0M580.8 134.3h0M534 170.6h0M512.3 185.5h0M537.4 189.3h0M507.6 178.6h0M505.3 152.6h0M541.9 139.6h0M502.4 143.7h0M547.7 155.4h0M554 164.8h0M554.7 129.9h0M531.3 145.7h0M522.6 157.8h0M547.3 162.8h0M536.3 159.6h0M540.9 158.2h0M537.8 171.6h0M533.1 149.4h0M524.6 172.4h0M552.8 166.2h0M528.1 165.2h0M561.4 162.1h0M516.4 173.9h0M550.8 133.6h0M512.4 145.9h0M543.2 145.6h0M549.9 141.8h0M512.3 157.7h0M568.7 157.1h0M555.7 161.5h0M508.2 160.1h0M519.5 154.8h0M510.6 169.2h0M553.9 162h0M544.3 178.4h0M536.2 128.4h0M535.5 150.2h0M524.3 178h0M497.7 160.6h0M534.9 139.8h0M528.4 161.2h0M536.9 177h0M527 191.9h0M543.8 134.3h0M558.1 161h0M528.1 172.9h0M533.3 186.8h0M521 182.9h0M555 160.4h0M518.3 147.3h0M509.4 164.5h0M497.1 159.6h0M526.8 169.2h0M534 162.7h0M506.7 158.7h0M532.5 167.5h0M530.3 149.9h0M508.3 154.5h0M550.5 149.5h0M500.2 192.1h0M545.6 139.6h0M530 190.8h0M537 132.8h0M560.2 136.2h0M523 177.6h0M532.7 163h0M523.5 168.7h0M545.1 147.1h0M545.3 122.3h0M507.3 142.6h0M535.2 177.4h0M552.2 158.9h0M525.7 158.7h0M539.2 140.8h0M526.4 132.5h0M524.1 144.1h0M522.4 142.4h0M504.3 167h0M512.1 192.9h0M534.9 154h0M524 155.9h0M523.4 175.3h0M565.2 149.3h0M532.5 165.5h0M528.3 152.6h0M545.3 154.3h0M544.3 141.7h0M517.4 147.5h0M524.1 172.3h0M551.4 153h0M504.1 168.6h0M538.3 145.2h0M524.8 149.8h0M544.4 172.6h0M529.3 160.7h0M535.5 174.7h0M524.4 170h0M564.3 134.2h0M532.3 161.6h0M498 175h0M507.8 176.4h0M544.3 155.2h0M518.6 157.6h0M533.1 181.8h0M520.7 165.3h0M530.9 143.8h0M523.3 163.4h0M547.5 184.8h0M522.1 148.7h0M494.4 185.9h0M548.3 149.5h0M543.7 170.8h0M550.8 146.5h0M535.7 156.4h0M546.8 169.6h0M509.8 171.4h0M522.9 149.9h0M533.4 136.1h0M516.1 134.8h0M553.5 152.9h0M557.6 145.3h0M537.2 141.8h0M519.6 191h0M526.4 183.6h0M509.5 171.6h0M520.3 167.1h0M542.4 135.5h0M552.7 144.2h0M550.2 132.5h0M525.9 164.4h0M535.3 172.9h0M511.3 148h0M523.7 182.4h0M522.7 183.4h0M548.5 156h0M500 195.8h0M506.2 163.7h0M534 169.1h0M521.8 181h0M537.7 132.9h0M505 165.4h0M528.3 149.4h0M540.9 153.9h0M547.3 170.1h0M552.3 142.8h0M548.1 129.6h0M553.7 191.8h0M528 147.6h0M512.6 140.4h0M515.1 171.8h0M498.4 163.3h0M554.3 172.6h0M536 189h0M504.3 165.9h0M534.6 172.3h0M530.4 171.1h0M555.5 159.3h0M496.6 158.9h0M497.5 179.9h0M521 176h0M517.8 162.4h0M535.6 159.6h0M507.8 161.7h0M537.9 155.6h0M550.7 128.2h0M529 173.1h0M560.6 175.8h0M510 179.8h0M559 132.2h0M516.9 174.6h0M508.9 170.8h0M524.3 165.3h0M525.4 167.4h0M510.3 168.8h0M538.5 176.3h0M520.2 135.8h0M526.1 149.6h0M544.3 180.3h0M528.2 155.9h0M515.1 137.8h0M519.9 190.6h0M513.7 181.6h0M564.5 153.7h0M530.5 137.5h0M518.2 156.3h0M518.7 148.5h0M549.3 139.2h0M524.4 145.1h0M534.9 142.9h0M544.7 165.7h0M524.8 141.2h0M511.7 172.3h0M541.8 140.5h0M521.2 172.4h0M511.9 176.8h0M494.8 178.6h0M543.1 143.6h0M529.2 152.9h0M529.5 138.5h0M516 144h0M554.9 144.7h0M536.7 157.8h0M535 136.9h0M522 165.6h0M555.6 176.2h0M556.9 140.7h0M516.1 207.7h0M540.5 147.5h0M493.9 179.1h0M552.4 135.9h0M539.3 175.1h0M531.7 189.9h0M502.2 190.2h0M556.6 130.1h0M533.1 157.9h0M545.4 151.5h0M558.2 131.5h0M513.8 152.5h0M531.5 146.3h0M539.1 140.5h0M538.6 180.4h0M530.7 161.2h0M522.4 143.2h0M525.8 164.9h0M542.8 166.6h0M556.5 153.5h0M550.8 165.5h0M537.7 97.1h0M507.2 178.6h0M510.5 143.2h0M524.4 168.3h0M531.6 153.5h0M514.1 208.7h0M516.6 187.9h0M505.4 176.5h0M531.7 173.8h0M549 156.1h0M542.7 149.4h0M517.7 172.8h0M550.8 151.6h0M527.9 170.6h0M511.6 148.6h0M511.3 191.1h0M527.4 153.2h0M545 113.1h0M500.8 186.5h0M503.4 175.2h0M547.8 171.5h0M551.2 164.4h0M523.4 172.4h0M523.3 155.8h0M539.2 176.5h0M514.4 173.3h0M543.3 155.5h0M543.8 175h0M515.6 178.4h0M546 145.8h0M522.3 167.3h0M508.4 176h0M523.8 138.2h0M525.7 172.5h0M504.3 151.6h0M537.5 145.7h0M546.7 142.9h0M509.4 186.6h0M525.9 175.9h0M516.7 163.6h0M532 156.2h0M545.2 140.6h0M537.4 158.3h0M516.2 171.1h0M558.3 140.1h0M515.8 174.9h0M541.2 135.6h0M532.4 140.2h0M501.7 166.8h0M549.7 167.1h0M504.6 178.1h0M487.4 183.4h0M524.1 139.2h0M529.3 193.3h0M523.8 166.5h0M500.7 149.5h0M532.8 152.5h0M518.9 180h0M519.6 138.2h0M548.2 148h0M555.7 164h0M539.8 173.4h0M564.2 110.9h0M550.7 144.8h0M516.6 166.4h0M515.8 189.1h0M558.3 161.4h0M508.3 170.4h0M525.5 153.2h0M526.6 149.6h0M510.2 183.6h0M517.2 160.1h0M547.3 138h0M566.5 138.7h0M516.5 146.6h0M505.9 179.2h0M534.3 157.6h0M541.3 178.2h0M523.2 189.6h0M535.5 141.8h0M561 157.5h0M522.6 144.7h0M511.9 163.8h0M480.9 185.3h0M562 164.9h0M520.9 160.6h0M509.1 178h0M519.6 149.8h0M526.6 183h0M525.9 191.5h0M564.6 152.7h0M559.3 130.1h0M554.1 166.4h0M512.4 187.2h0M511.7 138.5h0M532.9 163.1h0M509.7 172.6h0M533.8 158.3h0M545.9 162.3h0M551 168.1h0M589.8 124.2h0M502.8 156.7h0M547.6 145h0M516.2 155.7h0M536.4 176h0M509.9 171.2h0M524.2 156.5h0M523.7 150.7h0M547.7 163h0M550.1 158.7h0M547.8 143.7h0M533.3 149.5h0M538.2 173h0M519.3 165.4h0M514.1 159.9h0M526.8 162.6h0M579.3 122.4h0M535.8 162.1h0M513.1 184.6h0M517.5 168.8h0M515 202.9h0M550.9 128h0M548.6 155.6h0M544.6 186h0M561.2 135.2h0M533.8 159.6h0M516.9 159.8h0M528.9 161.4h0M529.7 153.3h0M542.6 149.3h0M527 180.2h0M529.1 159.6h0M550.1 168.1h0M534.5 145.1h0M521.3 136.6h0M513 177.3h0M530.6 148.9h0M484.4 184.6h0M545.9 132.7h0M548.8 152h0M536.3 151.9h0M527.6 176.1h0M531.4 160.6h0M534.9 140.1h0M538.3 178.1h0M508 189.9h0M533.4 146.4h0M544.4 127.9h0M498.1 183.1h0M507.8 154.6h0M578.4 135.8h0M517.1 147.7h0M550.3 111.6h0M531.1 148.6h0M531.2 151h0M523.6 201.5h0M528.5 164.7h0M518.6 139.8h0M512.9 160.5h0M512.3 170.8h0M527 134.8h0M522.2 143.8h0M544 139.8h0M533.1 173.9h0M513.9 158.6h0M528 120.7h0M543.1 170.8h0M513.9 152.4h0M517.2 155.3h0M521.2 179.2h0M510.9 170.1h0M523.7 160.9h0M550 146.3h0M568.2 143.7h0M505.2 179.9h0M507.7 178.9h0M506.9 173h0M546.2 149.3h0M531.3 184.2h0M532.4 122.5h0M499.9 176.5h0M536.7 152.7h0M513.8 159h0M500.7 184h0M512.8 169.5h0M525.6 171.8h0M537.2 160.2h0M479.6 209.3h0M530.5 134h0M514 170.5h0M534.2 135.7h0M511.9 196.8h0M549.4 145.1h0M556.3 162.5h0M511.4 164.1h0M532.7 162.7h0M515.8 183.5h0M492.4 164.5h0M539.2 171.5h0M547.6 155.8h0M552.7 133.4h0M540 145.5h0M564.3 153h0M524.1 183.8h0M544.6 163.2h0M529.5 152.5h0M527.9 157.5h0M524.7 167.3h0M560.9 177.1h0M533.9 169.5h0M521.6 136.7h0M521.9 140.9h0M514.3 154.5h0M530.8 140.5h0M522.5 154.1h0M531.1 164.1h0M531.7 163.7h0M528.8 127.9h0M575.5 143.9h0M509.7 151.8h0M508.7 154.9h0M527 164.1h0M531.2 143h0M523.7 181.7h0M517.4 160.3h0M521.3 144.7h0M526 165.1h0M535.1 125.4h0M529.4 177.3h0M545.1 163.5h0M535.6 132h0M526.3 165.5h0M535.8 166.9h0M531.5 169.3h0M556.9 139.6h0M524.6 170.1h0M539.2 155.1h0M538.4 157.9h0M533.5 164.6h0M553.5 166.1h0M523 173.1h0M526.7 155.3h0M552.2 173.7h0M530 152.2h0M547.7 147.1h0M534.1 183.3h0M524.5 146.9h0M571 120.5h0M530.2 156.7h0M535.6 149.8h0M488.8 196.8h0M508.8 172h0M507.1 185.9h0M510.8 146.7h0M542.6 114.7h0M543.7 136.2h0M551.2 154.5h0M542.3 182h0M526.8 157.8h0M546 160.3h0M506.7 184h0M532.7 161.7h0M537.3 147.6h0M500.6 180.2h0M534.3 171.2h0M522.9 173.5h0M525.9 162.4h0M523.8 160.2h0M526.9 198.7h0M531 156.7h0M547.7 140.9h0M510.5 156.3h0M528.3 148.6h0M564.9 153.7h0M532.8 164.2h0M511.7 177.2h0M523.7 142.6h0M541.3 152h0M526.4 186.1h0M520.3 167.6h0M546.7 161.8h0M545.1 149.8h0M511.5 217.1h0M507.3 156.5h0M506 187.5h0M528.8 148.3h0M507.2 186.7h0M521.5 154.6h0M527 150h0M541.1 127.5h0M560.7 128.9h0M525.1 169.5h0M564.9 147.3h0M528.7 163.5h0M515.4 157.4h0M529.3 158.4h0M542.5 167.1h0M530.2 182h0M522.6 181.7h0M527.1 168.2h0M517.3 181.3h0M516.8 168.2h0M560.7 156.4h0M515.7 187.2h0M515.1 159.6h0M553.3 139.8h0M511.5 165.7h0M525 146.8h0M550.7 150.7h0M530.3 132.9h0M529.3 161h0M513.2 174.9h0M502.9 181h0M548.2 154.8h0M564 128.8h0M521.7 182.5h0M528.1 127.1h0M492.2 174.1h0M528.7 150.8h0M517.9 156.6h0M554.4 140.2h0M499 210.3h0M544.4 183.4h0M508.3 139h0M540.1 150.2h0M541.2 145.4h0M524.6 151.1h0M532 178.8h0M502.1 205.1h0M550.6 131.1h0M507.4 183h0M533.8 167.9h0M523.8 168.4h0M554.3 141h0M527.3 177.3h0M530.7 156h0M524 192.9h0M534.3 155.7h0M517.4 160.2h0M512.5 145.6h0M531.3 171.3h0M525.6 155.5h0M550.2 158.1h0M522.9 140.1h0M546 145.1h0M569.6 135.3h0M540.6 175.2h0M511.9 172.5h0M525.9 161.9h0M539.4 171.5h0M528.1 170.9h0M557.7 129.1h0M526.6 122.1h0M552.2 144.6h0M496 169h0M561.3 142.9h0M533.1 139.2h0M517.7 147.8h0M548.4 161.6h0M547.6 182.4h0M489.8 187.3h0M522.5 154.7h0M511.3 160.1h0M526.7 166.9h0M528.6 151.1h0M536.5 153h0M538 148.6h0M525.2 152.3h0M515.7 153.5h0M537.3 166.8h0M549.8 159.2h0M543.5 166.7h0M526.1 146.8h0M538 156.3h0M531.8 149.5h0M544.2 182.4h0M535.4 175.2h0M532.4 146h0M513.7 163.4h0M510.3 180.3h0M508.4 206.7h0M519.7 166.2h0M542 165.8h0M499 174.8h0M526 162.3h0M509.7 159.5h0M507.1 166.8h0M535.1 195.6h0M547.3 148.9h0M520.9 187h0M521.1 169.5h0M578.4 146.8h0M529 157h0M532.4 137.3h0M517.2 165.2h0M561.7 150.2h0M543 162.6h0M554.1 144.9h0M548.2 138.1h0M529.9 157.4h0M555.2 154.1h0M535.7 131.5h0M538.9 149.5h0M521.4 148.7h0M512.5 172.3h0M533.7 146.9h0M532.9 160.9h0M510.1 159.1h0M533.4 154.9h0M532.3 172.2h0M536.7 138.2h0M541.3 150.2h0M497.4 155.1h0M554.5 121.3h0M547 129.1h0M532.6 169.2h0M536.4 110.5h0M545.6 159.4h0M541 178.9h0M526 162.7h0M517.2 176.6h0M527.1 145.6h0M552.6 125.9h0M517.7 179.1h0M521.8 172h0M516.9 194h0M498.8 168h0M536.7 163.3h0M553.3 169.3h0M490.8 168.1h0M505 173.3h0M516.8 148.3h0M534 166.5h0M552.8 150.3h0M535.6 191.1h0M518.4 161.6h0M541 137.8h0M562 124.2h0M524.6 158.9h0M534 139h0M507.5 166h0M567.3 151h0M513.3 158.1h0M539.4 176.9h0M523.3 160.7h0M494.4 195.7h0M495.4 166h0M544.7 162.2h0M533.7 160.6h0M542 153.7h0M542.3 110.3h0M519.9 165.6h0M489.5 157.6h0M534.6 139.7h0M565.1 146.6h0M515.4 132.2h0M557.3 147.3h0M541.6 165.8h0M534.6 184.5h0M504.8 168.4h0M562 124.3h0M510.7 162.5h0M514.9 163.5h0M534.2 155.1h0M547.3 155.2h0M518.8 210.9h0M545.8 140.2h0M535.9 163.2h0M554.6 160.8h0M561 144.1h0M510 141.9h0M511.2 159.8h0M538.3 161.2h0M536.1 147.9h0M544.8 153.3h0M545.2 190h0M540.6 148.3h0M532 126.8h0M527.7 174.6h0M539.7 158.6h0M520.9 141.8h0M503 170.3h0M565.5 126.5h0M540.5 187.4h0M535.8 132.9h0M537 149.2h0M510.6 166.1h0M512.5 146.1h0M540.1 141.8h0M571.9 142.7h0M535.9 159.9h0M536.9 148.9h0M511.1 167.2h0M558.4 146.4h0M542.4 130.9h0M532.7 180.6h0M526.4 145.9h0M505 167.1h0M563.6 131.2h0M563.1 128.8h0M532 157.2h0M541.6 172h0M538.3 153.9h0M545.2 153.4h0M493 181.9h0M547.3 143.5h0M531.3 144.7h0M521.8 131h0M510.8 142.3h0M556.8 163.6h0M549.3 172.8h0M501.8 153.7h0M521 133.6h0M548.8 166h0M526.4 185.6h0M528.9 162.1h0M545.3 158.8h0M539 137.8h0M522.6 156.6h0M536.6 154.1h0M525.1 159.9h0M520 179.3h0M512.9 162.8h0M536.1 123.8h0M526.9 169.1h0M557.3 142.7h0M510.8 175h0M539.2 161.2h0M558.4 156.2h0M547 162.9h0M570.4 151.5h0M537.2 177.3h0M521.9 150.5h0M546.7 172.4h0M525.2 150.3h0M515.1 152.3h0M537.6 128.6h0M561.7 128h0M559.8 172.4h0M538.5 151.5h0M543 146h0M528.1 157.4h0M527.7 170.2h0M557.7 129.3h0M529.2 165.3h0M535.6 147.8h0M508.3 176.4h0M524.8 162.9h0M558.4 142.8h0M555.4 150.5h0M542 158.1h0M534.5 138.8h0M561.7 121.8h0M559.6 135h0M540.5 146.8h0M518.6 158.6h0M519.5 173.1h0M564 139.6h0M491.2 190.7h0M546.9 128.5h0M537.1 170.2h0M505.7 178.2h0M518.8 156.4h0M499 181.7h0M536.1 154h0M511.6 165.9h0M525.9 175.5h0M518.8 185.5h0M513.3 171.7h0M546 162.5h0M536.9 159.8h0M549.3 160.2h0M560.5 152.6h0M524.2 157.8h0M584.8 135.1h0M531.1 160.5h0M529 151.2h0M521.7 169.6h0M536.7 142.2h0M541.9 182.1h0M527.1 158.9h0M530.5 174.4h0M507.1 199.4h0M561.8 174h0M511.7 196.8h0M543.4 163.8h0M550.2 186.2h0M535.6 154.5h0M542.8 160.1h0M555.9 147.3h0M534.1 136h0M547.7 162.1h0M534.7 183.5h0M526.2 158.2h0M546.2 136.5h0M511.3 156h0M526.9 140h0M524.5 142.8h0M518.4 177.7h0M534.5 154h0M528.5 147.5h0M545.7 168h0M551.6 146.6h0M514.1 157.1h0M513.8 189.8h0M506.8 179.5h0M547.4 179.4h0M504.5 172.7h0M521.2 174.3h0M521.7 168.9h0M504.7 181h0M532.4 165.2h0M515.7 160.8h0M513.8 154.3h0M549.3 170.7h0M550.5 164.8h0M522.4 166.4h0M521.4 175.6h0M515.9 177.9h0M545.3 148.3h0M536.1 154.2h0M538.2 170.2h0M521.2 179.6h0M509.9 164.3h0M512.7 167.3h0M551.2 140.5h0M514.9 178.2h0M505.9 169.8h0M501.5 152.6h0M498.3 171.2h0M527.5 171.4h0M524.7 141.2h0M528.4 172.9h0M533.8 155.4h0M495.5 150.2h0M529.1 169.8h0M521.2 141.5h0M540.7 168.2h0M534.9 175.5h0M530.4 175.1h0M523.9 182.6h0M526 186.6h0M511 170.4h0M548.4 201.4h0M543 141h0M523.2 144.2h0M525.8 129.2h0M539.7 163.5h0M552.7 153.9h0M551.6 125.4h0M561.5 166.9h0M538.9 129h0M543.7 159.4h0M534.6 183.3h0M497.8 149.4h0M552.8 153.8h0M552.4 141.1h0M514.9 181.7h0M514.2 186.6h0M540 168.2h0M528.9 146.2h0M536.4 146h0M545.8 185.6h0M511.7 191.9h0M538.1 159.8h0M533.9 168.9h0M538.8 162.4h0M518.5 159.3h0M508.2 194.4h0M521.7 161h0M522.9 151.6h0M566.7 162.5h0M533.1 187h0M517.5 153h0M514.3 147.9h0M486.8 176.2h0M560.7 132.4h0M512.7 173.5h0M507.2 163.3h0M518 179.6h0M530 144.8h0M523.6 150.4h0M516 170.1h0M513.7 165.7h0M517.1 186.3h0M536 155.5h0M542.1 152.7h0M527.7 160.9h0M497.1 172.5h0M520 172.6h0M503.4 163.1h0M506.2 169h0M548.2 149.1h0M532.4 168.9h0M524.5 195.7h0M516.1 181.9h0M566.9 134.9h0M530.2 151.9h0M509.9 141.2h0M529.2 149.7h0M520.3 172.8h0M527.6 189.3h0M545.2 142.3h0M515.4 187.6h0M566.4 117.3h0M507 168.4h0M534.3 184h0M530 161.1h0M495.8 198.3h0M536 131.4h0M543.5 141.7h0M515.1 142.3h0M525.7 168.9h0M536.1 166.9h0M530.4 188.3h0M503.5 210.3h0M529.9 158.5h0M522.6 148.7h0M542.6 147.7h0M545.2 151.3h0M509.5 158.8h0M544.3 156.5h0M511.3 198.4h0M552.7 160.3h0M519.1 139.8h0M536.3 147.9h0M533.4 150.5h0M515 164.9h0M549.6 135.3h0M550 159.7h0M512.4 141.2h0M528.4 144.3h0M538.4 197.6h0M527.3 157h0M566.6 150.1h0M527.1 158.5h0M512 166.4h0M527.2 140.7h0M501.5 183.1h0M525.6 156.1h0M543 164.4h0M514.3 204.6h0M537.3 158.3h0M528.4 182.2h0M530 152h0M525.4 150h0M527.4 142.7h0M514.6 158.5h0M539.9 135.2h0M547.4 163.6h0M548.3 149.4h0M540.8 166.3h0M527 153.1h0M542.4 179.7h0M520.6 139.5h0M557.4 159.3h0M494.4 196.6h0M537.5 166.4h0M516.6 150.3h0M527.8 158.7h0M524.9 160.9h0M533.6 162.8h0M505.6 174.5h0M525.9 172.9h0M527.8 165.7h0M505.5 140.9h0M530.5 142.4h0M544.5 140h0M539.9 174.4h0M518.1 178.7h0M526.2 155.8h0M510.2 178.2h0M527.3 125.1h0M554.9 169.9h0M514.9 158.2h0M546.5 150.9h0M509.6 160.9h0M553.4 146.2h0M545.2 141.9h0M507.4 138.7h0M536.1 159.9h0M515.6 158.6h0M553.7 151.1h0M540.1 140.3h0M522.7 158.8h0M517.1 188.9h0M506.5 150.9h0M541.1 151.5h0M545.2 183.7h0M511.8 157.7h0M535.9 143.1h0M498.3 195.5h0M535.8 150.2h0M508.3 168.7h0M547.2 139.9h0M516.4 156.2h0M523.5 140.6h0M537.2 140.6h0M524.3 149.8h0M508.8 168h0M515.2 188.4h0M544.1 105.9h0M537.7 172.2h0M515 189.2h0M526.2 170.8h0M543.4 156h0M540.1 148.9h0M528.4 161h0M527.1 170.1h0M529.3 164.4h0M556.1 130.6h0M520.7 206.1h0M523.4 161.1h0M532.8 160.5h0M504.8 151.1h0M494.3 153.6h0M524.7 156.1h0M519.5 171.8h0M508.2 175h0M531.8 147.5h0M539.2 157.4h0M500.9 165.4h0M539.8 162.6h0M532.3 143.4h0M562 138.6h0M523.4 165.8h0M491.5 146.8h0M528.2 147.8h0M525.3 172.2h0M520.4 182.2h0M540.7 145.7h0M520.4 165.2h0M524.3 166.1h0M538.6 155.3h0M549.4 145.2h0M518.4 154.9h0M536.3 127.6h0M517.9 162.8h0M521.3 154.8h0M537 160.7h0M536.6 173h0M520.7 156.9h0M528.8 171.9h0M523.5 141.5h0M525.1 155.8h0M568 148.8h0M547.6 172.9h0M517.2 161.5h0M534.4 171.3h0M567 149.7h0M546.8 142.5h0M556.2 142.2h0M501.3 164.3h0M550.4 144.5h0M510.3 188.3h0M515.5 194.8h0M551.4 124.9h0M528.7 164.7h0M515.9 186.3h0M495.8 160.2h0M522.1 187.8h0M514.4 141.2h0M541.9 155.2h0M533.1 168.3h0M537.3 161.1h0M523.1 169.4h0M519.7 169.7h0M549.1 154.6h0M530.9 105.3h0M524.8 156.1h0M540.6 174.5h0M537.5 136.4h0M526.2 151h0M518.4 169.7h0M521.7 138.2h0M513.9 195.5h0M530.1 153.5h0M545.9 157.1h0M539 146.6h0M505.5 190.7h0M522.6 146.8h0M534.7 153.5h0M527.9 131.3h0M496.8 169.4h0M504.9 160.9h0M509.3 158.9h0M537.1 167.6h0M506.6 183.3h0M535.5 128.4h0M540.1 166.6h0M551.1 102h0M531.1 155.8h0M511.4 184.4h0M547.3 143.6h0M545.1 153.8h0M511.8 174.8h0M523.9 166.1h0M524.5 172.1h0M550.1 145.5h0M539.3 143.4h0M573.6 127.3h0M529.4 159.2h0M527.5 152.4h0M544.8 145.6h0M504.3 182.9h0M514.3 130.4h0M521.8 176.1h0M540.2 135.8h0M549.5 161.6h0M565.4 176.2h0M502.1 144h0M518.1 153.1h0M548.6 147.4h0M537.8 141.4h0M519.5 146.7h0M518.5 169.3h0M537.1 185.3h0M515 154.1h0M505.1 188.1h0M496.3 164.6h0M522 162.7h0M527.2 134.3h0M543.3 139.4h0M512.5 172.8h0M547.2 145.7h0M545.6 149.6h0M545.2 186h0M529.6 150.1h0M528.5 161.2h0M535.6 148.5h0M523.3 185.4h0M546.2 162.4h0M528.8 165.3h0M542.2 125.6h0M561.9 144.3h0M516.1 160h0M526.5 154h0M521.9 176.6h0M482.1 148.6h0M546.3 160.8h0M530.9 159h0M519.5 167.8h0M546.5 144.2h0M515.8 184.1h0M525.8 155.8h0M534.9 182.5h0M520.3 183.9h0M551.9 127.4h0M514.5 178.1h0M511 163.9h0M505.7 164.3h0M507.7 162.6h0M537.4 146.1h0M544 180.2h0M517.7 150.7h0M542.8 166.5h0M528 165.7h0M513.7 161.6h0M534.1 182h0M535.9 152.5h0M520.7 155.2h0M551.5 172.2h0M549 138.9h0M522.3 167.2h0M508.5 149h0M506.9 163.2h0M531.4 171.1h0M507.8 155.5h0M531.3 185h0M549 131.7h0M550.3 130.2h0M550.3 170h0M551.7 173.7h0M515.3 167.4h0M541.7 158.3h0M564.1 158.2h0M552.8 116.4h0M538.8 153.3h0M509.6 162.3h0M496.2 149.4h0M510.2 173.1h0M516 154.8h0M489.9 198.6h0M532.8 142.1h0M527.6 184.6h0M562.6 159.7h0M504.5 174.3h0M551.7 158.2h0M526.7 163.6h0M511.4 145.3h0M517.1 157h0M556.2 140.4h0M561 152.5h0M517.6 184.4h0M542.1 148.8h0M511.1 176.8h0M521.3 181.3h0M518.5 138.7h0M517.1 168.6h0M540.3 138.5h0M516.2 161.2h0M518.4 174.3h0M546.4 155.5h0M531.7 170.6h0M533.9 155.7h0M532.5 161.6h0M538.7 142.7h0M541 141.3h0M496.7 170h0M548 147.8h0M524.3 145.6h0M535.6 144.1h0M537.1 160.8h0M536.5 141.7h0M527.6 147.9h0M500.6 185.3h0M534.9 162.7h0M512.8 169.8h0M542.7 169.8h0M513 154.5h0M544.4 131.6h0M494 175.2h0M541.4 149.3h0M534.8 174.9h0M490.7 206.3h0M488.2 198.2h0M533.9 170.8h0M512.3 155.8h0M500.5 175.5h0M511.5 180.7h0M495.9 197.4h0M521.7 160.6h0M504.2 201h0M524 143.9h0M494.3 183h0M560 150.6h0M505.1 157.7h0M468.9 211h0M489.6 220.2h0M519.2 157.9h0M515.7 197.5h0M490.9 195.6h0M482.4 206.4h0M511.2 176.5h0M512.2 197.2h0M518.5 184.6h0M487.7 185.5h0M488.6 205.7h0M512.3 164.6h0M508.6 183.5h0M490.6 187.4h0M495.6 197.8h0M505.8 224.8h0M512.8 192.6h0M499.8 141.8h0M532.9 169.8h0M471.5 171.9h0M490.2 197.7h0M460.7 176.7h0M484.1 183.4h0M491.7 192.9h0M509.4 184.1h0M502.4 189.7h0M505.8 174.8h0M479.6 192h0M519.2 173.2h0M507.8 189.4h0M512.9 170.7h0M511.2 185.9h0M537.7 174.6h0M507.9 173.2h0M513.6 191.4h0M505.8 182.7h0M502.8 225.5h0M500.2 196.5h0M499.2 202.3h0M519.9 179.2h0M494.6 204.2h0M499.7 159h0M511.9 174.8h0M497.5 186.6h0M512.8 155h0M519.9 183.6h0M537.3 201.8h0M500 185.5h0M519.1 192h0M503.6 187.6h0M512.2 200.9h0M469.9 183.2h0M522.6 181.3h0M527.7 161.8h0M543.1 150.6h0M510.6 189.7h0M499 171.4h0M530.1 178h0M502.2 206.7h0M492.6 187.4h0M461.1 204.5h0M505 185.2h0M521.2 171.3h0M509 198.1h0M502.3 195.6h0M499.4 209h0M517.3 168.9h0M506.8 168.3h0M480.8 209.4h0M495.8 195.3h0M516.1 177.2h0M529.5 190.2h0M520.3 169.8h0M477.5 195.5h0M504.3 191.6h0M500.5 190.7h0M491.2 154.7h0M502.4 188.8h0M507.8 192.4h0M533.4 200.1h0M486.5 200.5h0M529.5 201.3h0M490.6 171.4h0M478.2 199.7h0M496.2 195.7h0M516.5 192.5h0M501.1 183.9h0M496.6 209.3h0M503.5 176.7h0M465 155.7h0M496.4 191.7h0M485.3 173.4h0M530.5 164.5h0M508 182.2h0M538.6 186.7h0M465.1 206.6h0M506.4 185.6h0M517.1 163.8h0M515.2 164.9h0M500 174.8h0M525.1 162.8h0M523.6 171.4h0M536.2 144.3h0M481.3 164.5h0M500.6 163.1h0M489.7 183.3h0M492.4 166.8h0M499.1 194.1h0M512.9 181.8h0M516.3 182.9h0M480.4 181.5h0M489.7 213.5h0M515 171.4h0M467 219.2h0M440.6 172.2h0M511.3 186.3h0M473.8 196.9h0M477.8 186.3h0M497.7 188.9h0M479.8 185h0M497.9 201h0M508.5 224.3h0M515.6 158.2h0M509.7 202.4h0M528.8 142.5h0M516.6 175.4h0M492.5 176.8h0M507.1 158.4h0M509.4 165.3h0M490.4 174.7h0M501.5 172.1h0M536.5 159.6h0M487.7 175.5h0M509 158h0M506.1 161.2h0M502.4 193.5h0M498.6 177.6h0M486.8 180.6h0M524.3 170.4h0M517.5 174.4h0M496 178.6h0M530.8 143.4h0M496 185.6h0M504.5 183.3h0M518.3 150.2h0M516 172.2h0M493.1 190.5h0M505.3 175h0M514.5 198.2h0M503.6 166.5h0M497 183.5h0M486.4 194.4h0M494.6 186.1h0M539.3 181.6h0M471.6 187.7h0M479.6 160.5h0M511.1 193.7h0M510.4 170.2h0M537.1 162.3h0M508.3 166h0M506.3 168.4h0M491 196.1h0M518.9 198.8h0M482.9 193.7h0M489.6 193.7h0M475.7 213h0M554.3 172.8h0M470.5 193.4h0M488.4 147.6h0M516.8 194.4h0M482 177.1h0M510.5 150.6h0M519.5 174.6h0M524.2 178h0M495.9 217.9h0M498.8 165.1h0M521.9 190.4h0M503.4 199.2h0M512.5 161.8h0M504.4 196.1h0M478.7 202.1h0M509.9 203.8h0M541.5 178h0M504.8 173h0M543.4 152h0M508.8 193.8h0M464.8 215.9h0M491.8 182.9h0M502.2 172.3h0M519.2 186.9h0M537.3 220.4h0M488.8 170.4h0M504.8 176.3h0M493.8 182.9h0M503.1 173.8h0M524.4 156.4h0M514 167.2h0M517.3 168.3h0M513.6 210.6h0M536.1 160.6h0M468.4 179.7h0M488.5 176.3h0M492.4 201.3h0M488.5 201.5h0M508.7 174.9h0M502.1 178.7h0M462.5 175.1h0M519.3 173.5h0M494.3 171.6h0M507.7 179.7h0M495.8 178.6h0M538.2 155.7h0M492 193.5h0M526.7 169.4h0M489.5 178.4h0M491.4 186h0M522.2 182.4h0M504.7 174.6h0M495.6 201.6h0M500.9 210.6h0M505.7 151.3h0M537.2 199.9h0M510.5 189.9h0M496.7 190h0M499.7 192.5h0M493.3 187.4h0M530.9 158.1h0M517.3 203.9h0M508 217.8h0M502.3 173h0M545.5 181.8h0M503.2 196.4h0M508 141.3h0M521.8 202.3h0M462.3 207.5h0M522.4 177.9h0M498.3 191.1h0M508.3 201.7h0M514.1 158.3h0M499.1 187.5h0M493.7 157.7h0M495.5 171.2h0M491.4 184.8h0M541.6 174.1h0M522.3 166.6h0M515.4 192.4h0M526.2 185.3h0M538.6 198.2h0M521.4 226.3h0M493.5 174.6h0M498 202.5h0M500.6 178.8h0M490.9 204.1h0M523.2 194.4h0M539.4 189.1h0M506 157.1h0M483.7 186.5h0M473.3 216.1h0M496.3 175.5h0M511.2 123.5h0M532.8 189.9h0M523 160.5h0M498.9 206.7h0M460.4 177.4h0M508.4 157.4h0M528.1 179.3h0M465.9 200.6h0M514 197.3h0M514.4 197.6h0M478.5 202.5h0M524.6 200.1h0M464.2 211.5h0M509.6 201.2h0M529.5 170.5h0M513.4 205.6h0M528.5 147.1h0M520.2 175.4h0M512.1 213.4h0M502.3 195.1h0M467.5 185.4h0M538.3 166.3h0M532.1 163.3h0M493 174.6h0M522.1 165.7h0M518.7 186.3h0M483.7 157.5h0M487.4 196.9h0M556.5 162.8h0M515.2 193.4h0M503.6 176.6h0M512.8 192.3h0M493.5 189.9h0M492.9 182.9h0M511.9 192h0M521 144.9h0M550.6 159.7h0M496.9 196.4h0M488.1 183.2h0M494.7 185.3h0M525.3 174.9h0M512.3 154.5h0M522.6 165.2h0M512.3 194.8h0M524.9 177.2h0M520.6 167.9h0M473.6 190.2h0M500.9 188.1h0M521 162.9h0M496.9 192.7h0M545 163.1h0M502.1 193.1h0M489.9 206.2h0M489 186h0M496 183.1h0M526.9 166h0M485.4 197.9h0M516.6 154.5h0M459.3 207.5h0M515 185.8h0M499.4 200.2h0M500.2 155.3h0M503.7 184.1h0M503.8 190.6h0M496.9 179h0M498.8 185.8h0M496.9 169.2h0M534.4 170.9h0M486 200.8h0M507.3 199.9h0M500.9 217.7h0M538.6 188.2h0M501.6 182.2h0M515.6 146.9h0M533.1 196.1h0M520 178.8h0M527.8 149.7h0M512.3 200.9h0M525.4 181.4h0M506.4 163.1h0M513.9 181.5h0M490.7 147.3h0M489.1 177h0M523.8 163.9h0M528.4 208.7h0M491.9 178.6h0M516.4 169.9h0M534.8 172.9h0M511 193.2h0M510.1 166.5h0M506.9 180.4h0M506.9 175.6h0M501.8 173.7h0M477.7 205.3h0M513.4 153.7h0M490.4 184.7h0M491.5 176.1h0M491.9 183.4h0M523 174.1h0M522.2 156h0M498 160.5h0M486.9 199.9h0M515 169.8h0M513.1 171.6h0M478.4 196.4h0M494.8 193.7h0M486.8 180.5h0M520.2 156.5h0M478.4 188.1h0M505.7 167.6h0M482.9 209h0M498.2 166.9h0M497.8 180.9h0M491.3 205.2h0M491.5 178h0M526.1 135.2h0M502.6 185.1h0M490.5 170.2h0M485.2 182.9h0M500.6 174.3h0M509.5 190.6h0M489.5 200.6h0M528.3 192.1h0M509.1 182.2h0M513.7 216.3h0M509.7 183.4h0M488.1 198.5h0M507.8 176.5h0M505.6 187.9h0M483.1 206.5h0M502.3 212h0M525.5 164.6h0M531 179.1h0M482.2 176.4h0M497.1 182.9h0M507.3 200.3h0M500.1 214h0M511.6 166.9h0M469.9 205.9h0M523.9 185.3h0M469.2 226.4h0M493.3 196.7h0M503.9 176.5h0M483.1 168.6h0M510.6 193.8h0M500.7 184.6h0M501.7 176.9h0M506.7 201.4h0M498.2 160.9h0M489.7 216.2h0M488.1 201.7h0M485.9 174.4h0M526.4 167h0M478.2 181.4h0M544.8 160.3h0M496.2 211.1h0M527.1 184.5h0M502.5 185.4h0M481.1 154.4h0M504.4 189.5h0M523.2 180.6h0M512.6 175.2h0M497 187.5h0M491.5 178.9h0M503.9 191.7h0M471 200.9h0M496.7 195.8h0M525.7 213.2h0M481.7 193.3h0M521.1 169.4h0M525.9 162.9h0M523 219.9h0M491.6 187.3h0M541.7 159.7h0M525.8 184.7h0M507 197.7h0M498.5 183.3h0M511.4 172.7h0M486.4 198.5h0M521.8 189.9h0M544.2 173.5h0M507.6 195h0M521.5 171.3h0M500.6 179.8h0M524.5 155.3h0M500.8 183.3h0M492.8 204.2h0M534.9 165.5h0M476.4 187.4h0M484 173.1h0M493.1 200.7h0M504.5 158.7h0M489.9 158.9h0M467.5 228.2h0M506.1 182h0M499.4 168.8h0M513.5 198.8h0M500.8 183.3h0M525.9 191h0M498.1 191.5h0M505.9 185.7h0M500.6 188.2h0M493.9 212.8h0M492.1 192.3h0M538.6 171.2h0M525.5 197.1h0M508.7 181h0M507.6 171.9h0M490.6 159.2h0M483.2 194.7h0M504 188.3h0M503.4 173h0M517.4 177.9h0M476.9 192.1h0M516.1 181.7h0M510 172.7h0M499.1 185.5h0M520.3 183.9h0M547.7 145.4h0M527 177.2h0M507.5 154.8h0M491.9 207.6h0M517.1 174.5h0M497.9 186.4h0M520.9 192.5h0M515.4 198.7h0M507.5 188.2h0M515.2 203.7h0M523.6 190.2h0M510.5 165.8h0M500.3 228.4h0M499.3 177.1h0M496.9 208.6h0M522.4 177.2h0M489.3 208.2h0M494.7 182.3h0M496.1 191.8h0M502.3 162.4h0M494.1 190.4h0M477.1 175.6h0M466.6 172.9h0M498 185.4h0M512.2 166h0M531.2 156.2h0M536.9 136.2h0M528 179.2h0M521.1 204.4h0M492.9 179.8h0M485.8 187.8h0M496.2 171.4h0M532.9 167.7h0M507.4 154.9h0M515.4 207.5h0M518.8 172h0M509.8 172.7h0M502.4 187.8h0M493.7 188.1h0M539 161.9h0M472.5 188h0M500.3 174.3h0M486.2 192.4h0M530.7 175.7h0M498.2 177.6h0M493.5 179.7h0M514.6 168.2h0M517 165.7h0M526.7 172.5h0M507.8 185h0M492.2 178.6h0M523 162.7h0M528.1 183.4h0M520.7 172.2h0M499.9 167.3h0M508.3 175.7h0M501.6 183.9h0M492.1 184.7h0M498.8 198.9h0M483.2 204.1h0M508.6 234.3h0M482.2 185.8h0M505.2 185.7h0M500.9 220.1h0M496.6 188.5h0M480.4 190.1h0M531.2 170.8h0M533.9 153.4h0M525.6 170.4h0M512.3 207.1h0M520.2 197.2h0M520 167h0M507.2 200.6h0M520.1 181.1h0M503.6 194.4h0M486.7 192.6h0M515.3 172.5h0M470.7 169.7h0M518.3 191.5h0M499.9 184.9h0M508.4 174.6h0M544.6 175.2h0M530.3 172.5h0M484.2 213.1h0M497.8 185.7h0M485.2 200h0M496.5 179.7h0M528.8 179.6h0M496 172.1h0M491.9 195.1h0M511.3 183.4h0M468 192.9h0M493.6 195.8h0M505.2 209h0M516.4 161.3h0M501.7 194.3h0M507.3 189.2h0M513.4 169h0M494.2 168h0M514.5 156.5h0M502.8 178.4h0M488.9 174.5h0M501.8 173.4h0M527.3 181.4h0M500.9 206.1h0M503.4 171.9h0M495.8 195.2h0M487 200.8h0M504.3 199.4h0M470.3 178.9h0M466.7 211.9h0M501 184.7h0M491.4 176.7h0M466.8 172.7h0M539.8 159.5h0M522.7 201h0M488.8 170.4h0M469.4 179.5h0M483.9 177.4h0M496.4 181.1h0M467.4 180.9h0M492.3 177.3h0M472.3 218.5h0M472.6 175.6h0M504.4 168.5h0M488.5 182.8h0M498.3 199.7h0M476.2 185h0M507.7 192.9h0M482.1 182.8h0M497.1 149h0M462 200.7h0M517.4 158.5h0M503.1 162.4h0M486.8 165.4h0M485.6 197.6h0M468.4 206.6h0M467.8 171.3h0M500.4 176.9h0M468.1 184.7h0M482 190.2h0M487.3 185.4h0M495.5 171.4h0M465.5 180.6h0M472.9 169.9h0M490.7 161.8h0M461.7 160.6h0M482.9 144.6h0M487.2 200.4h0M480 169.3h0M482.4 196.1h0M477.2 172h0M486.1 180.5h0M496.3 163.6h0M470.7 190.8h0M473.9 180.2h0M507.5 177.9h0M486.1 171.5h0M497.8 161.4h0M491.1 206.1h0M487.6 211.6h0M507.6 182.9h0M488.2 171.4h0M506.3 197.4h0M511.1 193.3h0M488.8 173h0M485.6 174.7h0M491.5 171h0M491.1 207.2h0M503.6 188h0M493.6 186.7h0M501.3 194.3h0M513.1 156.4h0M496.7 174.8h0M491.1 193.4h0M506.6 163.8h0M472.6 187.4h0M488.9 178.8h0M493.1 180.7h0M462.2 181.7h0M503.6 159.8h0M494.8 181.9h0M497.3 179.7h0M493.7 193.5h0M487.5 180.7h0M505.1 159.5h0M474.3 185.7h0M478.5 195h0M485.6 181.6h0M476.2 156.3h0M503.1 182.6h0M464.4 152.3h0M501.2 186.9h0M523.3 168.6h0M483.1 193h0M483.7 189.2h0M503.2 179.1h0M486.4 183.4h0M479.5 177.8h0M471 180.3h0M480.9 175.6h0M491.5 168.5h0M477.6 180.7h0M497.1 171.7h0M512.9 152h0M492.3 179.2h0M479.1 204.6h0M511 199h0M509.7 166.9h0M475.2 187.1h0M520.8 192.2h0M502.8 169.5h0M481.4 205h0M482.7 176.4h0M494.4 189h0M471.3 188.3h0M479.9 170.9h0M491.9 164.4h0M477.1 190.9h0M488.2 210.3h0M495.3 194h0M494.5 194.2h0M467.4 199.6h0M482.7 201.1h0M499.9 207.9h0M509.6 210.3h0M493.2 205.2h0M462.4 219.3h0M491.6 200h0M499.4 198.3h0M488.5 226.7h0M469.6 212.1h0M475.4 243.4h0M482.6 217.3h0M463 239.9h0M475 184.5h0M488.3 192.2h0M460.2 212.5h0M443.1 229.9h0M447.7 200h0M506.4 204.2h0M444.5 205.7h0M468.1 181.6h0M472.9 179.1h0M434.2 202.6h0M466 222.1h0M485.9 180.3h0M481.6 192.2h0M437.3 198.4h0M459.9 192.4h0M504.9 184.8h0M453.7 190.4h0M446.5 194.6h0M483.5 213.5h0M484 175.4h0M463.4 199.3h0M462.4 216.7h0M456.6 196.1h0M455.4 226.2h0M504.7 197.6h0M513.9 170.4h0M449.5 217.4h0M460.8 187.4h0M481 185.1h0M457.8 207.8h0M472.8 211.5h0M459.5 204.1h0M462.3 217.8h0M501.6 212.2h0M424.9 194.8h0M488.7 224.8h0M470.8 199.7h0M475.5 209.2h0M468.8 229.1h0M468.8 206h0M457.9 232.6h0M448.6 234.9h0M453.1 199.7h0M557.6 139.1h0M540.4 136.9h0M572.5 138.7h0M529.1 154h0M580 127.7h0M532 150.7h0M531.2 137.7h0M546.1 119.4h0M529.1 112.9h0M564.1 133.1h0M562.8 140.7h0M564.4 123h0M562 95.9h0M577.7 119.5h0M543.7 187.8h0M523.6 113.5h0M541.6 135.3h0M589 119.6h0M539.2 138.5h0M547.7 143h0M567.2 102.5h0M535 150.4h0M567.4 134.9h0M524 159.8h0M562.2 155h0M542.7 151.6h0M533.4 122.2h0M545.5 139.2h0M541.6 130.4h0M574.1 138.5h0M564.9 121.9h0M544.9 109.5h0M522.4 163.3h0M541.8 169.6h0M529 141.6h0M539.8 125h0M559.3 146h0"/>
<path stroke="#3440b4" stroke-width="2.6" d="M511.9 215.6h0M512.8 157.7h0M503.4 178.7h0M523.7 135.3h0M506 190.5h0M497 176.1h0M480.3 178.6h0M507.9 179.9h0M489.3 188.3h0M506.8 178.5h0M504.3 203.8h0M510.3 199.2h0M499.6 214.6h0M468.6 205.1h0M527.1 156.5h0M507.2 184.8h0M534.2 150.9h0M478.5 185.9h0M503.4 163.1h0M489.2 206.8h0M484.6 197.5h0M498.2 189.8h0M470.8 182.9h0M487.7 166.5h0M498.6 144.4h0M512 175.4h0M536.4 185.4h0M484.4 205.4h0M485.1 223.6h0M480.4 170h0M496.7 156.8h0M535.6 218.4h0M495.7 193.5h0M508.3 187.6h0M478.9 158h0M489.6 173h0M526.6 134.5h0M502.6 198.1h0M482.7 199.4h0M492.5 152.1h0M503.5 176h0M535.1 186h0M488 164.9h0M500.1 208.2h0M529.6 171.3h0M483.7 151.7h0M527.7 187.2h0M504.7 179h0M502.7 169.2h0M496.6 145h0M512.3 186.2h0M513.1 191.9h0M523.8 181.7h0M460.6 234.2h0M484 161.2h0M495.5 199h0M509 190.8h0M500.8 200.1h0M511.7 187.6h0M498.4 150h0M508.5 183.5h0M515.2 163.3h0M474.7 236h0M507 157.9h0M494.3 210.6h0M504 184.1h0M528.3 183h0M455 201.4h0M517.3 180.6h0M457.3 208.4h0M515.8 158.1h0M515.3 169.6h0M480.4 191.5h0M501.2 194.2h0M480.9 188.3h0M506.3 182.4h0M468.4 191.5h0M471.2 210.8h0M496.4 186.4h0M507.1 194.9h0M519 156h0M521.5 153.6h0M479.9 170.8h0M502.7 202.8h0M453 187.6h0M487.6 216.3h0M508.9 182.2h0M540.9 185.8h0M523.2 178.8h0M509.1 165.8h0M491.6 204.2h0M531.5 160.3h0M510.1 210.2h0M489.4 210.7h0M498.3 188h0M481.5 196.3h0M517 184h0M476.2 209.4h0M527.8 182.7h0M491.6 162.7h0M504.4 184.7h0M522 160.7h0M487.7 180.5h0M467.2 195h0M483.3 175.1h0M498 201.7h0M503.7 197h0M488.2 205.7h0M499.9 205.3h0M501.9 180.3h0M508.8 213.4h0M491.7 183.8h0M511.9 207.4h0M511.4 204.7h0M490.9 174h0M503.9 196.9h0M514.1 169.5h0M514.4 172.1h0M497.8 192.7h0M487.8 185h0M517.7 189.6h0M480 212.1h0M490 234.2h0M489.7 199.9h0M522.4 162.8h0M551.1 150h0M499 187.8h0M511.9 196h0M481 190.7h0M502.4 201.5h0M520.9 147.3h0M487.8 191.3h0M458.4 203.8h0M489.1 217.4h0M536.8 164.7h0M499.9 199.3h0M550.3 135.9h0M518 195h0M486.4 185.5h0M504.7 189.3h0M510.6 183.2h0M507.1 185h0M502.7 185.3h0M481.2 194.3h0M493.5 204.4h0M514.6 164.5h0M502.9 172.2h0M499 152.5h0M497.6 146.2h0M511.7 168h0M548.2 149.5h0M488.5 188.8h0M515.8 189.9h0M502.1 168h0M482.7 165.1h0M535 183.1h0M519.6 200.5h0M521.2 183.4h0M498.2 165.3h0M510.6 164.3h0M502.8 209.8h0M471.9 201h0M479.8 194.2h0M458.9 205.7h0M510 205.1h0M477.3 186.1h0M497.2 156.8h0M511.2 171.6h0M488.5 188.8h0M499.5 203.8h0M434.3 241h0M495.8 194.8h0M443.1 233.5h0M509.6 219.9h0M460.9 197.2h0M460.4 204.2h0M436.2 243.1h0M482.1 225.7h0M467.8 204.3h0M459.8 240.4h0M443.9 214.3h0M441.3 221.2h0M468.7 211h0M492.9 214.5h0M468.8 235h0M530.4 133.3h0M541.8 114h0M542.5 128.5h0M543.9 140.8h0M542.5 151.6h0M566.3 110.3h0M425.8 243.5h0"/>
</g>
<g fill="none" stroke="#2a2a2a" stroke-linecap="round" stroke-width="1.7">
<path d="M85.4 68h0M85.4 73.4h0M85.4 78.8h0M85.4 84.2h0M85.4 89.6h0M85.4 95h0M85.4 100.4h0M85.4 105.8h0M85.4 111.2h0M85.4 116.6h0M85.4 122h0M85.4 127.4h0M85.4 132.8h0M85.4 138.2h0M85.4 143.6h0M85.4 149h0M85.4 154.4h0M85.4 159.8h0M85.4 165.2h0M85.4 170.6h0M85.4 176h0M85.4 181.4h0M85.4 186.8h0M85.4 192.2h0M85.4 197.6h0M85.4 203h0M85.4 208.4h0M85.4 213.8h0M85.4 219.2h0M85.4 224.6h0M85.4 230h0M85.4 235.4h0M85.4 240.8h0M85.4 246.2h0M85.4 251.6h0M181.2 68h0M181.2 73.4h0M181.2 78.8h0M181.2 84.2h0M181.2 89.6h0M181.2 95h0M181.2 100.4h0M181.2 105.8h0M181.2 111.2h0M181.2 116.6h0M181.2 122h0M181.2 127.4h0M181.2 132.8h0M181.2 138.2h0M181.2 143.6h0M181.2 149h0M181.2 154.4h0M181.2 159.8h0M181.2 165.2h0M181.2 170.6h0M181.2 176h0M181.2 181.4h0M181.2 186.8h0M181.2 192.2h0M181.2 197.6h0M181.2 203h0M181.2 208.4h0M181.2 213.8h0M181.2 219.2h0M181.2 224.6h0M181.2 230h0M181.2 235.4h0M181.2 240.8h0M181.2 246.2h0M181.2 251.6h0M46.5 147.2h0M51.9 147.2h0M57.3 147.2h0M62.6 147.2h0M68 147.2h0M73.4 147.2h0M78.8 147.2h0M84.2 147.2h0M89.5 147.2h0M94.9 147.2h0M100.3 147.2h0M105.7 147.2h0M111.1 147.2h0M116.4 147.2h0M121.8 147.2h0M127.2 147.2h0M132.6 147.2h0M138 147.2h0M143.3 147.2h0M148.7 147.2h0M154.1 147.2h0M159.5 147.2h0M164.9 147.2h0M170.2 147.2h0M175.6 147.2h0M181 147.2h0M186.4 147.2h0M191.8 147.2h0M197.1 147.2h0M202.5 147.2h0M207.9 147.2h0M213.3 147.2h0M218.7 147.2h0M224 147.2h0M229.4 147.2h0M234.8 147.2h0M240.2 147.2h0M245.6 147.2h0M250.9 147.2h0M256.3 147.2h0M261.7 147.2h0M267.1 147.2h0M272.5 147.2h0M277.8 147.2h0M283.2 147.2h0M46.5 221h0M51.9 221h0M57.3 221h0M62.6 221h0M68 221h0M73.4 221h0M78.8 221h0M84.2 221h0M89.5 221h0M94.9 221h0M100.3 221h0M105.7 221h0M111.1 221h0M116.4 221h0M121.8 221h0M127.2 221h0M132.6 221h0M138 221h0M143.3 221h0M148.7 221h0M154.1 221h0M159.5 221h0M164.9 221h0M170.2 221h0M175.6 221h0M181 221h0M186.4 221h0M191.8 221h0M197.1 221h0M202.5 221h0M207.9 221h0M213.3 221h0M218.7 221h0M224 221h0M229.4 221h0M234.8 221h0M240.2 221h0M245.6 221h0M250.9 221h0M256.3 221h0M261.7 221h0M267.1 221h0M272.5 221h0M277.8 221h0M283.2 221h0M57.5 203.2h0M62.3 201h0M67 198.8h0M71.8 196.6h0M76.6 194.4h0M81.3 192.2h0M86.1 190h0M90.9 187.8h0M95.6 185.6h0M100.4 183.4h0M105.1 181.2h0M109.9 179.1h0M114.7 176.9h0M119.4 174.7h0M124.2 172.5h0M129 170.3h0M133.7 168.1h0M138.5 165.9h0M143.3 163.7h0M148 161.5h0M152.8 159.3h0M157.6 157.1h0M162.3 154.9h0M167.1 152.7h0M171.8 150.5h0M176.6 148.3h0M181.4 146.1h0M186.1 143.9h0M190.9 141.7h0M195.7 139.5h0M200.4 137.3h0M205.2 135.1h0M210 133h0M214.7 130.8h0M219.5 128.6h0M224.3 126.4h0M229 124.2h0M233.8 122h0M238.5 119.8h0M243.3 117.6h0M248.1 115.4h0M252.8 113.2h0M257.6 111h0"/>
<path d="M505.5 70h0M505.5 75.3h0M505.5 80.6h0M505.5 85.9h0M505.5 91.2h0M505.5 96.5h0M505.5 101.8h0M505.5 107.1h0M505.5 112.4h0M505.5 117.7h0M505.5 123h0M505.5 128.3h0M505.5 133.6h0M505.5 138.9h0M505.5 144.2h0M505.5 149.5h0M505.5 154.8h0M505.5 160.1h0M505.5 165.4h0M505.5 170.7h0M505.5 176h0M505.5 181.3h0M505.5 186.6h0M505.5 191.9h0M505.5 197.2h0M505.5 202.5h0M505.5 207.8h0M505.5 213.1h0M505.5 218.4h0M505.5 223.7h0M505.5 229h0M505.5 234.3h0M505.5 239.6h0M505.5 244.9h0M505.5 250.2h0M555.5 70h0M555.5 75.3h0M555.5 80.6h0M555.5 85.9h0M555.5 91.2h0M555.5 96.5h0M555.5 101.8h0M555.5 107.1h0M555.5 112.4h0M555.5 117.7h0M555.5 123h0M555.5 128.3h0M555.5 133.6h0M555.5 138.9h0M555.5 144.2h0M555.5 149.5h0M555.5 154.8h0M555.5 160.1h0M555.5 165.4h0M555.5 170.7h0M555.5 176h0M555.5 181.3h0M555.5 186.6h0M555.5 191.9h0M555.5 197.2h0M555.5 202.5h0M555.5 207.8h0M555.5 213.1h0M555.5 218.4h0M555.5 223.7h0M555.5 229h0M555.5 234.3h0M555.5 239.6h0M555.5 244.9h0M555.5 250.2h0M416.1 135.3h0M421.2 135.3h0M426.4 135.3h0M431.5 135.3h0M436.6 135.3h0M441.8 135.3h0M446.9 135.3h0M452 135.3h0M457.1 135.3h0M462.3 135.3h0M467.4 135.3h0M472.5 135.3h0M477.7 135.3h0M482.8 135.3h0M487.9 135.3h0M493.1 135.3h0M498.2 135.3h0M503.3 135.3h0M508.4 135.3h0M513.6 135.3h0M518.7 135.3h0M523.8 135.3h0M529 135.3h0M534.1 135.3h0M539.2 135.3h0M544.4 135.3h0M549.5 135.3h0M554.6 135.3h0M559.7 135.3h0M564.9 135.3h0M570 135.3h0M575.1 135.3h0M580.3 135.3h0M585.4 135.3h0M590.5 135.3h0M595.7 135.3h0M600.8 135.3h0M605.9 135.3h0M611 135.3h0M616.2 135.3h0M621.3 135.3h0M626.4 135.3h0M631.6 135.3h0M636.7 135.3h0M416.1 178.2h0M421.2 178.2h0M426.4 178.2h0M431.5 178.2h0M436.6 178.2h0M441.8 178.2h0M446.9 178.2h0M452 178.2h0M457.1 178.2h0M462.3 178.2h0M467.4 178.2h0M472.5 178.2h0M477.7 178.2h0M482.8 178.2h0M487.9 178.2h0M493.1 178.2h0M498.2 178.2h0M503.3 178.2h0M508.4 178.2h0M513.6 178.2h0M518.7 178.2h0M523.8 178.2h0M529 178.2h0M534.1 178.2h0M539.2 178.2h0M544.4 178.2h0M549.5 178.2h0M554.6 178.2h0M559.7 178.2h0M564.9 178.2h0M570 178.2h0M575.1 178.2h0M580.3 178.2h0M585.4 178.2h0M590.5 178.2h0M595.7 178.2h0M600.8 178.2h0M605.9 178.2h0M611 178.2h0M616.2 178.2h0M621.3 178.2h0M626.4 178.2h0M631.6 178.2h0M636.7 178.2h0M426.5 232.9h0M430.6 229.7h0M434.8 226.5h0M438.9 223.3h0M443 220.1h0M447.2 216.9h0M451.3 213.7h0M455.4 210.6h0M459.5 207.4h0M463.7 204.2h0M467.8 201h0M471.9 197.8h0M476.1 194.6h0M480.2 191.4h0M484.3 188.2h0M488.5 185h0M492.6 181.8h0M496.7 178.6h0M500.9 175.4h0M505 172.3h0M509.1 169.1h0M513.2 165.9h0M517.4 162.7h0M521.5 159.5h0M525.6 156.3h0M529.8 153.1h0M533.9 149.9h0M538 146.7h0M542.2 143.5h0M546.3 140.3h0M550.4 137.1h0M554.5 134h0M558.7 130.8h0M562.8 127.6h0M566.9 124.4h0M571.1 121.2h0M575.2 118h0M579.3 114.8h0M583.5 111.6h0M587.6 108.4h0M591.7 105.2h0M595.9 102h0M600 98.8h0M604.1 95.7h0M608.2 92.5h0M612.4 89.3h0M616.5 86.1h0M620.6 82.9h0M624.8 79.7h0M628.9 76.5h0"/>
</g>
<g fill="none" stroke="#2b2b2b" stroke-width="1.2">
<path d="M46 65V251.3H288.3"/>
<path d="M43.5 73.4H46"/>
<path d="M43.5 110.3H46"/>
<path d="M43.5 147.2H46"/>
<path d="M43.5 184.1H46"/>
<path d="M43.5 221H46"/>
<path d="M85.4 251.3V253.6"/>
<path d="M133.3 251.3V253.6"/>
<path d="M181.2 251.3V253.6"/>
<path d="M229.1 251.3V253.6"/>
<path d="M277 251.3V253.6"/>
<path d="M415.5 68.4V255.4H640.6"/>
<path d="M413.3 92.4H415.5"/>
<path d="M413.3 135.3H415.5"/>
<path d="M413.3 178.2H415.5"/>
<path d="M413.3 221.1H415.5"/>
<path d="M455.5 255.4V257.7"/>
<path d="M505.5 255.4V257.7"/>
<path d="M555.5 255.4V257.7"/>
<path d="M605.5 255.4V257.7"/>
</g>
<g font-family="&quot;Liberation Sans&quot;, Arial, sans-serif" font-size="11" fill="#262626" stroke="#262626" stroke-width="0.25">
<text x="40.2" y="77.3" text-anchor="end">1.0</text>
<text x="40.2" y="114.2" text-anchor="end">0.5</text>
<text x="40.2" y="151.1" text-anchor="end">0.0</text>
<text x="40.2" y="188" text-anchor="end">-0.5</text>
<text x="40.2" y="224.9" text-anchor="end">-1.0</text>
<text x="85.4" y="265.2" text-anchor="middle">-1.0</text>
<text x="133.3" y="265.2" text-anchor="middle">-0.5</text>
<text x="181.2" y="265.2" text-anchor="middle">0.0</text>
<text x="229.1" y="265.2" text-anchor="middle">0.5</text>
<text x="277" y="265.2" text-anchor="middle">1.0</text>
<text x="410.5" y="96.1" text-anchor="end" font-size="10.4">1</text>
<text x="410.5" y="139" text-anchor="end" font-size="10.4">0</text>
<text x="410.5" y="181.9" text-anchor="end" font-size="10.4">−1</text>
<text x="410.5" y="224.8" text-anchor="end" font-size="10.4">−2</text>
<text x="455.5" y="268.6" text-anchor="middle" font-size="10.4">−2</text>
<text x="505.5" y="268.6" text-anchor="middle" font-size="10.4">−1</text>
<text x="555.5" y="268.6" text-anchor="middle" font-size="10.4">0</text>
<text x="605.5" y="268.6" text-anchor="middle" font-size="10.4">1</text>
</g>
<g font-family="&quot;Liberation Sans&quot;, Arial, sans-serif" fill="#222">
<text x="166.8" y="281.4" font-size="14.55" text-anchor="middle">Control beta score</text>
<text transform="translate(14.9 158.2) rotate(-90)" font-size="14.8" text-anchor="middle">Treatment beta score</text>
<text x="528.2" y="284.4" font-size="14" text-anchor="middle">Control beta score</text>
<text transform="translate(391.6 160.9) rotate(-90)" font-size="13.95" text-anchor="middle">Treatment beta score</text>
</g>
<g font-family="&quot;Liberation Sans&quot;, Arial, sans-serif" fill="#111" stroke="#111" stroke-width="0.35" font-size="21">
<text transform="translate(7.6 20.6) scale(0.9 1)">a</text>
<text x="345.6" y="20.9">b</text>
<text transform="translate(135.6 353.2) scale(0.9 1)">c</text>
</g>
<g fill="#111">
<text transform="translate(162 392.7) scale(1.11 1)" font-family="&quot;Liberation Sans&quot;, Arial, sans-serif" font-size="24.5">β</text>
<text x="176.6" y="393.1" font-family="&quot;Liberation Serif&quot;, &quot;Times New Roman&quot;, serif" font-style="italic" font-size="14.8">normalized</text>
<text x="248.4" y="397.5" font-family="&quot;Liberation Serif&quot;, &quot;Times New Roman&quot;, serif" font-size="34">=</text>
<path d="M300 383.2H579" stroke="#111" stroke-width="1.7"/>
<text x="401.1" y="375.6" font-family="&quot;Liberation Sans&quot;, Arial, sans-serif" font-size="27.5">β</text>
<text x="307.9" y="405.6" font-family="&quot;Liberation Sans&quot;, Arial, sans-serif" font-size="19" stroke="#111" stroke-width="0.4">|</text>
<text x="311.3" y="409.6" font-family="&quot;Liberation Serif&quot;, &quot;Times New Roman&quot;, serif" font-style="italic" font-size="28" textLength="86.5" lengthAdjust="spacingAndGlyphs">median</text>
<text x="395.6" y="409.4" font-family="&quot;Liberation Serif&quot;, &quot;Times New Roman&quot;, serif" font-size="26.5">(</text>
<text transform="translate(405.7 409.6) scale(1.17 1)" font-family="&quot;Liberation Sans&quot;, Arial, sans-serif" font-size="26">β</text>
<text x="423" y="411" font-family="&quot;Liberation Serif&quot;, &quot;Times New Roman&quot;, serif" font-style="italic" font-size="14.6">essential _ genes</text>
<text x="526.2" y="409.6" font-family="&quot;Liberation Serif&quot;, &quot;Times New Roman&quot;, serif" font-size="27">)</text>
<text x="536.9" y="406" font-family="&quot;Liberation Sans&quot;, Arial, sans-serif" font-size="19.5" stroke="#111" stroke-width="0.5">|</text>
<text x="541.4" y="413.7" font-family="&quot;Liberation Serif&quot;, &quot;Times New Roman&quot;, serif" font-size="31.5">+</text>
<text x="558.5" y="410.6" font-family="&quot;Liberation Serif&quot;, &quot;Times New Roman&quot;, serif" font-size="29">c</text>
</g>
</svg>
</body></html>
